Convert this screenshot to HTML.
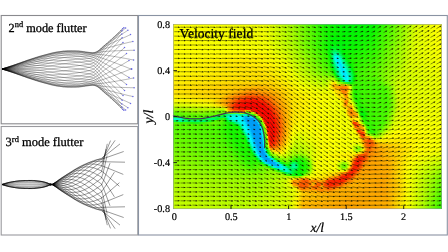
<!DOCTYPE html>
<html><head><meta charset="utf-8"><style>
html,body{margin:0;padding:0;background:#fff;width:448px;height:252px;overflow:hidden}
svg{position:absolute;left:0;top:0;display:block}
text{text-rendering:geometricPrecision;font-family:"Liberation Serif","Times New Roman",serif;fill:#000;stroke:#000;stroke-width:0.2}
</style></head><body>
<svg width="448" height="252" viewBox="0 0 448 252">
<defs><filter id="ab" x="-5%" y="-5%" width="110%" height="110%"><feGaussianBlur stdDeviation="0.3"/></filter></defs>
<rect x="1.2" y="15.5" width="136.6" height="108.3" fill="#fff" stroke="#8a8a8e" stroke-width="1.1"/>
<rect x="1.2" y="126.5" width="136.6" height="108.5" fill="#fff" stroke="#9a9a9e" stroke-width="1.1"/>
<rect x="138.5" y="15.5" width="308.8" height="219.5" fill="#fff" stroke="#8a93a3" stroke-width="1.1"/>
<text x="8.6" y="31.6" font-size="12.3" style="stroke-width:0.28">2<tspan font-size="8.4" dy="-4.2">nd</tspan><tspan dy="4.2"> mode flutter</tspan></text>
<text x="5.6" y="146.2" font-size="12.5" style="stroke-width:0.28">3<tspan font-size="8.4" dy="-4.0">rd</tspan><tspan dy="4.0"> mode flutter</tspan></text>
<path d="M2.0 69.0L2.8 69.0 3.6 68.9 4.4 68.9 5.2 68.9 6.0 68.9 6.8 68.8 7.6 68.8 8.4 68.8 9.2 68.8 10.0 68.7 10.8 68.7 11.6 68.7 12.4 68.7 13.2 68.6 14.0 68.6 14.8 68.6 15.6 68.5 16.4 68.5 17.2 68.5 18.0 68.5 18.8 68.4 19.6 68.4 20.4 68.4 21.2 68.3 22.0 68.3 22.8 68.3 23.6 68.3 24.4 68.2 25.2 68.2 26.0 68.2 26.8 68.1 27.6 68.1 28.4 68.1 29.2 68.1 30.0 68.0 30.8 68.0 31.6 68.0 32.4 68.0 33.2 67.9 34.0 67.9 34.8 67.9 35.6 67.9 36.4 67.8 37.2 67.8 38.0 67.8 38.8 67.7 39.6 67.6 40.4 67.5 41.2 67.4 42.1 67.3 42.9 67.2 43.7 67.1 44.5 66.9 45.3 66.8 46.1 66.6 46.9 66.5 47.7 66.3 48.5 66.2 49.3 66.1 50.1 66.0 50.9 65.8 51.7 65.7 52.5 65.6 53.3 65.4 54.1 65.3 54.9 65.2 55.7 65.0 56.5 64.9 57.3 64.8 58.1 64.6 58.9 64.5 59.7 64.4 60.5 64.3 61.3 64.1 62.1 64.0 62.9 63.9 63.7 63.8 64.5 63.7 65.3 63.6 66.1 63.5 66.9 63.4 67.7 63.3 68.5 63.2 69.3 63.2 70.1 63.1 70.9 63.0 71.7 62.9 72.5 62.9 73.3 62.8 74.1 62.7 74.9 62.6 75.7 62.5 76.5 62.5 77.3 62.4 78.1 62.3 78.9 62.2 79.7 62.1 80.5 62.0 81.3 62.0 82.1 61.9 82.9 61.8 83.7 61.8 84.5 61.7 85.3 61.6 86.1 61.5 86.9 61.4 87.7 61.3 88.5 61.2 89.3 61.1 90.1 60.9 90.9 60.8 91.7 60.6 92.5 60.4 93.3 60.0 94.1 59.5 94.9 58.9 95.7 58.2 96.5 57.4 97.3 56.5 98.1 55.5 98.9 54.5 99.7 53.5 100.5 52.4 101.3 51.4 102.1 50.3 102.9 49.3 103.7 48.3 104.5 47.4 105.3 46.6 106.1 45.7 106.9 44.9 107.7 44.1 108.5 43.2 109.3 42.4 110.1 41.6 110.9 40.7 111.7 39.9 112.5 39.1 113.3 38.3 114.1 37.4 114.9 36.6 115.7 35.8 116.5 34.9 117.3 34.1 118.1 33.3 118.9 32.5 119.7 31.6 120.5 30.8 121.3 30.0 122.2 29.2 122.6 28.7M2.0 69.0L2.8 68.9 3.6 68.9 4.4 68.8 5.2 68.7 6.0 68.6 6.8 68.6 7.6 68.5 8.4 68.4 9.2 68.3 10.0 68.2 10.8 68.2 11.6 68.1 12.4 68.0 13.2 67.9 14.0 67.8 14.8 67.8 15.6 67.7 16.4 67.6 17.2 67.5 18.0 67.4 18.8 67.3 19.6 67.3 20.4 67.2 21.2 67.1 22.0 67.0 22.8 66.9 23.6 66.8 24.4 66.8 25.2 66.7 26.0 66.6 26.8 66.5 27.6 66.4 28.4 66.3 29.2 66.3 30.0 66.2 30.8 66.1 31.6 66.0 32.4 66.0 33.2 65.9 34.0 65.8 34.8 65.7 35.6 65.7 36.4 65.6 37.2 65.5 38.0 65.4 38.8 65.3 39.6 65.2 40.4 65.1 41.2 64.9 42.1 64.7 42.9 64.6 43.7 64.4 44.5 64.2 45.3 64.1 46.1 63.9 46.9 63.7 47.7 63.5 48.5 63.4 49.3 63.2 50.1 63.0 50.9 62.9 51.7 62.7 52.5 62.6 53.3 62.4 54.1 62.2 54.9 62.1 55.7 61.9 56.5 61.8 57.3 61.6 58.1 61.5 58.9 61.3 59.7 61.2 60.5 61.1 61.3 60.9 62.1 60.8 62.9 60.7 63.7 60.6 64.5 60.4 65.3 60.3 66.1 60.2 66.9 60.1 67.7 60.1 68.5 60.0 69.3 59.9 70.1 59.8 70.9 59.8 71.7 59.7 72.5 59.6 73.3 59.6 74.1 59.5 74.9 59.4 75.7 59.3 76.5 59.3 77.3 59.2 78.1 59.1 78.9 59.1 79.7 59.0 80.5 59.0 81.3 58.9 82.1 58.9 82.9 58.8 83.7 58.8 84.5 58.8 85.3 58.7 86.1 58.7 86.9 58.6 87.7 58.6 88.5 58.5 89.3 58.4 90.1 58.3 90.9 58.2 91.7 58.0 92.5 57.9 93.3 57.5 94.1 57.1 94.9 56.5 95.7 55.9 96.5 55.1 97.3 54.3 98.1 53.4 98.9 52.5 99.7 51.5 100.5 50.5 101.3 49.5 102.1 48.6 102.9 47.6 103.7 46.7 104.5 45.9 105.3 45.1 106.1 44.3 106.9 43.6 107.7 42.8 108.5 42.0 109.3 41.3 110.1 40.5 110.9 39.8 111.7 39.0 112.5 38.3 113.3 37.5 114.1 36.8 114.9 36.0 115.7 35.3 116.5 34.5 117.3 33.8 118.1 33.0 118.9 32.3 119.7 31.5 120.5 30.8 121.3 30.0 122.2 29.3 123.0 28.5 123.8 27.8 123.9 27.7M2.0 69.0L2.8 68.9 3.6 68.8 4.4 68.6 5.2 68.5 6.0 68.4 6.8 68.3 7.6 68.1 8.4 68.0 9.2 67.9 10.0 67.8 10.8 67.6 11.6 67.5 12.4 67.4 13.2 67.2 14.0 67.1 14.8 67.0 15.6 66.8 16.4 66.7 17.2 66.6 18.0 66.4 18.8 66.3 19.6 66.2 20.4 66.0 21.2 65.9 22.0 65.8 22.8 65.6 23.6 65.5 24.4 65.4 25.2 65.2 26.0 65.1 26.8 65.0 27.6 64.8 28.4 64.7 29.2 64.6 30.0 64.5 30.8 64.3 31.6 64.2 32.4 64.1 33.2 64.0 34.0 63.8 34.8 63.7 35.6 63.6 36.4 63.5 37.2 63.3 38.0 63.2 38.8 63.1 39.6 62.9 40.4 62.7 41.2 62.5 42.1 62.3 42.9 62.2 43.7 62.0 44.5 61.7 45.3 61.5 46.1 61.3 46.9 61.1 47.7 60.9 48.5 60.7 49.3 60.5 50.1 60.3 50.9 60.2 51.7 60.0 52.5 59.8 53.3 59.6 54.1 59.4 54.9 59.3 55.7 59.1 56.5 58.9 57.3 58.8 58.1 58.6 58.9 58.5 59.7 58.3 60.5 58.2 61.3 58.0 62.1 57.9 62.9 57.7 63.7 57.6 64.5 57.5 65.3 57.4 66.1 57.3 66.9 57.2 67.7 57.1 68.5 57.1 69.3 57.0 70.1 56.9 70.9 56.9 71.7 56.8 72.5 56.8 73.3 56.7 74.1 56.6 74.9 56.6 75.7 56.5 76.5 56.5 77.3 56.4 78.1 56.4 78.9 56.3 79.7 56.3 80.5 56.3 81.3 56.3 82.1 56.3 82.9 56.3 83.7 56.3 84.5 56.3 85.3 56.3 86.1 56.2 86.9 56.2 87.7 56.2 88.5 56.1 89.3 56.1 90.1 56.0 90.9 56.0 91.7 55.9 92.5 55.7 93.3 55.5 94.1 55.1 94.9 54.6 95.7 54.0 96.5 53.4 97.3 52.6 98.1 51.9 98.9 51.0 99.7 50.2 100.5 49.3 101.3 48.4 102.1 47.6 102.9 46.8 103.7 46.0 104.5 45.2 105.3 44.5 106.1 43.9 106.9 43.2 107.7 42.6 108.5 41.9 109.3 41.2 110.1 40.6 110.9 39.9 111.7 39.3 112.5 38.6 113.3 38.0 114.1 37.3 114.9 36.7 115.7 36.0 116.5 35.4 117.3 34.8 118.1 34.1 118.9 33.5 119.7 32.8 120.5 32.2 121.3 31.5 122.2 30.9 123.0 30.2 123.8 29.6 124.6 28.9 125.4 28.3 125.6 28.1M2.0 69.0L2.8 68.8 3.6 68.7 4.4 68.5 5.2 68.4 6.0 68.2 6.8 68.0 7.6 67.9 8.4 67.7 9.2 67.5 10.0 67.3 10.8 67.2 11.6 67.0 12.4 66.8 13.2 66.6 14.0 66.5 14.8 66.3 15.6 66.1 16.4 65.9 17.2 65.7 18.0 65.6 18.8 65.4 19.6 65.2 20.4 65.0 21.2 64.8 22.0 64.7 22.8 64.5 23.6 64.3 24.4 64.1 25.2 63.9 26.0 63.8 26.8 63.6 27.6 63.4 28.4 63.2 29.2 63.1 30.0 62.9 30.8 62.7 31.6 62.6 32.4 62.4 33.2 62.2 34.0 62.1 34.8 61.9 35.6 61.7 36.4 61.6 37.2 61.4 38.0 61.2 38.8 61.0 39.6 60.8 40.4 60.6 41.2 60.4 42.1 60.2 42.9 60.0 43.7 59.8 44.5 59.5 45.3 59.3 46.1 59.1 46.9 58.9 47.7 58.6 48.5 58.4 49.3 58.2 50.1 58.0 50.9 57.8 51.7 57.6 52.5 57.4 53.3 57.2 54.1 57.0 54.9 56.8 55.7 56.6 56.5 56.4 57.3 56.3 58.1 56.1 58.9 56.0 59.7 55.8 60.5 55.7 61.3 55.5 62.1 55.4 62.9 55.3 63.7 55.1 64.5 55.0 65.3 54.9 66.1 54.8 66.9 54.7 67.7 54.7 68.5 54.6 69.3 54.5 70.1 54.5 70.9 54.4 71.7 54.4 72.5 54.3 73.3 54.3 74.1 54.3 74.9 54.2 75.7 54.2 76.5 54.2 77.3 54.1 78.1 54.1 78.9 54.0 79.7 54.0 80.5 54.1 81.3 54.1 82.1 54.1 82.9 54.2 83.7 54.2 84.5 54.2 85.3 54.3 86.1 54.3 86.9 54.3 87.7 54.3 88.5 54.3 89.3 54.3 90.1 54.3 90.9 54.2 91.7 54.2 92.5 54.1 93.3 53.9 94.1 53.6 94.9 53.3 95.7 52.8 96.5 52.2 97.3 51.6 98.1 51.0 98.9 50.3 99.7 49.6 100.5 48.9 101.3 48.1 102.1 47.4 102.9 46.7 103.7 46.1 104.5 45.5 105.3 44.9 106.1 44.4 106.9 43.9 107.7 43.3 108.5 42.8 109.3 42.3 110.1 41.7 110.9 41.2 111.7 40.7 112.5 40.2 113.3 39.6 114.1 39.1 114.9 38.6 115.7 38.1 116.5 37.6 117.3 37.1 118.1 36.5 118.9 36.0 119.7 35.5 120.5 35.0 121.3 34.5 122.2 34.0 123.0 33.5 123.8 32.9 124.6 32.4 125.4 31.9 126.2 31.4 127.0 30.9 127.8 30.4 127.9 30.3M2.0 69.0L2.8 68.8 3.6 68.6 4.4 68.4 5.2 68.2 6.0 68.0 6.8 67.8 7.6 67.6 8.4 67.4 9.2 67.2 10.0 67.0 10.8 66.8 11.6 66.6 12.4 66.3 13.2 66.1 14.0 65.9 14.8 65.7 15.6 65.5 16.4 65.3 17.2 65.0 18.0 64.8 18.8 64.6 19.6 64.4 20.4 64.2 21.2 63.9 22.0 63.7 22.8 63.5 23.6 63.3 24.4 63.1 25.2 62.8 26.0 62.6 26.8 62.4 27.6 62.2 28.4 62.0 29.2 61.8 30.0 61.6 30.8 61.4 31.6 61.2 32.4 60.9 33.2 60.7 34.0 60.5 34.8 60.3 35.6 60.1 36.4 59.9 37.2 59.7 38.0 59.5 38.8 59.3 39.6 59.1 40.4 58.9 41.2 58.6 42.1 58.4 42.9 58.2 43.7 57.9 44.5 57.7 45.3 57.4 46.1 57.2 46.9 57.0 47.7 56.7 48.5 56.5 49.3 56.3 50.1 56.1 50.9 55.8 51.7 55.6 52.5 55.4 53.3 55.2 54.1 55.0 54.9 54.8 55.7 54.6 56.5 54.5 57.3 54.3 58.1 54.1 58.9 54.0 59.7 53.8 60.5 53.7 61.3 53.6 62.1 53.4 62.9 53.3 63.7 53.2 64.5 53.1 65.3 53.0 66.1 52.9 66.9 52.8 67.7 52.7 68.5 52.7 69.3 52.6 70.1 52.6 70.9 52.6 71.7 52.5 72.5 52.5 73.3 52.5 74.1 52.5 74.9 52.4 75.7 52.4 76.5 52.4 77.3 52.4 78.1 52.4 78.9 52.4 79.7 52.4 80.5 52.4 81.3 52.5 82.1 52.5 82.9 52.6 83.7 52.7 84.5 52.8 85.3 52.8 86.1 52.9 86.9 52.9 87.7 53.0 88.5 53.0 89.3 53.1 90.1 53.1 90.9 53.1 91.7 53.1 92.5 53.1 93.3 53.0 94.1 52.8 94.9 52.5 95.7 52.2 96.5 51.8 97.3 51.3 98.1 50.8 98.9 50.3 99.7 49.8 100.5 49.2 101.3 48.7 102.1 48.1 102.9 47.6 103.7 47.1 104.5 46.7 105.3 46.3 106.1 45.9 106.9 45.5 107.7 45.1 108.5 44.7 109.3 44.3 110.1 43.9 110.9 43.6 111.7 43.2 112.5 42.8 113.3 42.4 114.1 42.1 114.9 41.7 115.7 41.3 116.5 41.0 117.3 40.6 118.1 40.2 118.9 39.9 119.7 39.5 120.5 39.1 121.3 38.8 122.2 38.4 123.0 38.0 123.8 37.7 124.6 37.3 125.4 37.0 126.2 36.6 127.0 36.2 127.8 35.9 128.6 35.5 129.4 35.2 130.2 34.8 130.5 34.6M2.0 69.0L2.8 68.8 3.6 68.6 4.4 68.3 5.2 68.1 6.0 67.9 6.8 67.6 7.6 67.4 8.4 67.2 9.2 66.9 10.0 66.7 10.8 66.5 11.6 66.2 12.4 66.0 13.2 65.7 14.0 65.5 14.8 65.2 15.6 65.0 16.4 64.7 17.2 64.5 18.0 64.2 18.8 64.0 19.6 63.7 20.4 63.5 21.2 63.2 22.0 63.0 22.8 62.7 23.6 62.5 24.4 62.2 25.2 62.0 26.0 61.7 26.8 61.5 27.6 61.2 28.4 61.0 29.2 60.7 30.0 60.5 30.8 60.3 31.6 60.0 32.4 59.8 33.2 59.6 34.0 59.4 34.8 59.1 35.6 58.9 36.4 58.7 37.2 58.4 38.0 58.2 38.8 58.0 39.6 57.7 40.4 57.5 41.2 57.2 42.1 57.0 42.9 56.8 43.7 56.5 44.5 56.3 45.3 56.0 46.1 55.8 46.9 55.6 47.7 55.3 48.5 55.1 49.3 54.9 50.1 54.6 50.9 54.4 51.7 54.2 52.5 54.0 53.3 53.8 54.1 53.6 54.9 53.4 55.7 53.2 56.5 53.0 57.3 52.9 58.1 52.7 58.9 52.6 59.7 52.5 60.5 52.3 61.3 52.2 62.1 52.1 62.9 51.9 63.7 51.8 64.5 51.7 65.3 51.6 66.1 51.6 66.9 51.5 67.7 51.4 68.5 51.4 69.3 51.4 70.1 51.4 70.9 51.3 71.7 51.3 72.5 51.3 73.3 51.3 74.1 51.3 74.9 51.3 75.7 51.3 76.5 51.3 77.3 51.3 78.1 51.3 78.9 51.3 79.7 51.4 80.5 51.4 81.3 51.5 82.1 51.6 82.9 51.7 83.7 51.8 84.5 51.9 85.3 52.0 86.1 52.1 86.9 52.2 87.7 52.3 88.5 52.4 89.3 52.4 90.1 52.5 90.9 52.6 91.7 52.6 92.5 52.7 93.3 52.6 94.1 52.5 94.9 52.4 95.7 52.2 96.5 51.9 97.3 51.6 98.1 51.3 98.9 51.0 99.7 50.6 100.5 50.3 101.3 49.9 102.1 49.6 102.9 49.3 103.7 49.0 104.5 48.7 105.3 48.4 106.1 48.2 106.9 48.0 107.7 47.8 108.5 47.5 109.3 47.3 110.1 47.1 110.9 46.9 111.7 46.7 112.5 46.5 113.3 46.3 114.1 46.0 114.9 45.8 115.7 45.6 116.5 45.4 117.3 45.2 118.1 45.0 118.9 44.8 119.7 44.6 120.5 44.4 121.3 44.2 122.2 44.0 123.0 43.8 123.8 43.6 124.6 43.4 125.4 43.2 126.2 43.0 127.0 42.8 127.8 42.6 128.6 42.4 129.4 42.2 130.2 42.1 131.0 41.9 131.8 41.7 132.6 41.5 132.9 41.4M2.0 69.0L2.8 68.8 3.6 68.5 4.4 68.3 5.2 68.0 6.0 67.8 6.8 67.5 7.6 67.3 8.4 67.0 9.2 66.8 10.0 66.5 10.8 66.2 11.6 66.0 12.4 65.7 13.2 65.5 14.0 65.2 14.8 64.9 15.6 64.6 16.4 64.4 17.2 64.1 18.0 63.8 18.8 63.6 19.6 63.3 20.4 63.0 21.2 62.7 22.0 62.5 22.8 62.2 23.6 61.9 24.4 61.7 25.2 61.4 26.0 61.1 26.8 60.8 27.6 60.6 28.4 60.3 29.2 60.1 30.0 59.8 30.8 59.5 31.6 59.3 32.4 59.0 33.2 58.8 34.0 58.5 34.8 58.3 35.6 58.0 36.4 57.8 37.2 57.5 38.0 57.3 38.8 57.1 39.6 56.8 40.4 56.6 41.2 56.3 42.1 56.1 42.9 55.8 43.7 55.6 44.5 55.3 45.3 55.1 46.1 54.9 46.9 54.6 47.7 54.4 48.5 54.2 49.3 54.0 50.1 53.7 50.9 53.5 51.7 53.3 52.5 53.1 53.3 52.9 54.1 52.7 54.9 52.5 55.7 52.4 56.5 52.2 57.3 52.1 58.1 51.9 58.9 51.8 59.7 51.7 60.5 51.6 61.3 51.5 62.1 51.4 62.9 51.2 63.7 51.1 64.5 51.1 65.3 51.0 66.1 50.9 66.9 50.9 67.7 50.8 68.5 50.8 69.3 50.8 70.1 50.8 70.9 50.8 71.7 50.8 72.5 50.8 73.3 50.8 74.1 50.8 74.9 50.8 75.7 50.8 76.5 50.9 77.3 50.9 78.1 50.9 78.9 50.9 79.7 51.0 80.5 51.1 81.3 51.2 82.1 51.3 82.9 51.5 83.7 51.6 84.5 51.7 85.3 51.9 86.1 52.0 86.9 52.1 87.7 52.2 88.5 52.3 89.3 52.5 90.1 52.6 90.9 52.7 91.7 52.8 92.5 52.9 93.3 52.9 94.1 52.9 94.9 52.9 95.7 52.8 96.5 52.8 97.3 52.6 98.1 52.5 98.9 52.4 99.7 52.3 100.5 52.1 101.3 52.0 102.1 51.8 102.9 51.7 103.7 51.6 104.5 51.5 105.3 51.4 106.1 51.4 106.9 51.3 107.7 51.2 108.5 51.2 109.3 51.1 110.1 51.1 110.9 51.1 111.7 51.0 112.5 51.0 113.3 50.9 114.1 50.9 114.9 50.9 115.7 50.8 116.5 50.8 117.3 50.8 118.1 50.7 118.9 50.7 119.7 50.7 120.5 50.6 121.3 50.6 122.2 50.6 123.0 50.6 123.8 50.5 124.6 50.5 125.4 50.5 126.2 50.5 127.0 50.4 127.8 50.4 128.6 50.4 129.4 50.4 130.2 50.3 131.0 50.3 131.8 50.3 132.6 50.3 133.4 50.3 134.1 50.3M2.0 69.0L2.8 68.7 3.6 68.5 4.4 68.2 5.2 68.0 6.0 67.7 6.8 67.5 7.6 67.2 8.4 66.9 9.2 66.7 10.0 66.4 10.8 66.1 11.6 65.9 12.4 65.6 13.2 65.3 14.0 65.0 14.8 64.8 15.6 64.5 16.4 64.2 17.2 63.9 18.0 63.6 18.8 63.3 19.6 63.1 20.4 62.8 21.2 62.5 22.0 62.2 22.8 61.9 23.6 61.6 24.4 61.4 25.2 61.1 26.0 60.8 26.8 60.5 27.6 60.2 28.4 60.0 29.2 59.7 30.0 59.4 30.8 59.2 31.6 58.9 32.4 58.6 33.2 58.4 34.0 58.1 34.8 57.9 35.6 57.6 36.4 57.3 37.2 57.1 38.0 56.8 38.8 56.6 39.6 56.3 40.4 56.1 41.2 55.9 42.1 55.6 42.9 55.4 43.7 55.2 44.5 54.9 45.3 54.7 46.1 54.5 46.9 54.3 47.7 54.1 48.5 53.9 49.3 53.7 50.1 53.4 50.9 53.2 51.7 53.0 52.5 52.9 53.3 52.7 54.1 52.5 54.9 52.3 55.7 52.2 56.5 52.0 57.3 51.9 58.1 51.8 58.9 51.7 59.7 51.6 60.5 51.5 61.3 51.4 62.1 51.3 62.9 51.2 63.7 51.1 64.5 51.1 65.3 51.0 66.1 51.0 66.9 50.9 67.7 50.9 68.5 50.9 69.3 50.9 70.1 50.9 70.9 50.9 71.7 50.9 72.5 51.0 73.3 51.0 74.1 51.0 74.9 51.0 75.7 51.1 76.5 51.1 77.3 51.2 78.1 51.2 78.9 51.3 79.7 51.4 80.5 51.5 81.3 51.6 82.1 51.8 82.9 51.9 83.7 52.1 84.5 52.2 85.3 52.4 86.1 52.5 86.9 52.7 87.7 52.8 88.5 53.0 89.3 53.1 90.1 53.2 90.9 53.4 91.7 53.5 92.5 53.7 93.3 53.8 94.1 53.9 94.9 54.0 95.7 54.1 96.5 54.2 97.3 54.3 98.1 54.4 98.9 54.4 99.7 54.5 100.5 54.6 101.3 54.6 102.1 54.7 102.9 54.8 103.7 54.9 104.5 55.0 105.3 55.1 106.1 55.2 106.9 55.3 107.7 55.4 108.5 55.5 109.3 55.7 110.1 55.8 110.9 55.9 111.7 56.1 112.5 56.2 113.3 56.3 114.1 56.5 114.9 56.6 115.7 56.7 116.5 56.9 117.3 57.0 118.1 57.2 118.9 57.3 119.7 57.4 120.5 57.6 121.3 57.7 122.2 57.9 123.0 58.0 123.8 58.2 124.6 58.3 125.4 58.4 126.2 58.6 127.0 58.7 127.8 58.9 128.6 59.0 129.4 59.2 130.2 59.4 131.0 59.5 131.8 59.7 132.6 59.8 133.4 60.0 133.6 60.0M2.0 69.0L2.8 68.7 3.6 68.5 4.4 68.2 5.2 68.0 6.0 67.7 6.8 67.5 7.6 67.2 8.4 66.9 9.2 66.7 10.0 66.4 10.8 66.1 11.6 65.9 12.4 65.6 13.2 65.3 14.0 65.0 14.8 64.8 15.6 64.5 16.4 64.2 17.2 63.9 18.0 63.6 18.8 63.3 19.6 63.1 20.4 62.8 21.2 62.5 22.0 62.2 22.8 61.9 23.6 61.6 24.4 61.4 25.2 61.1 26.0 60.8 26.8 60.5 27.6 60.2 28.4 60.0 29.2 59.7 30.0 59.4 30.8 59.2 31.6 58.9 32.4 58.6 33.2 58.4 34.0 58.1 34.8 57.9 35.6 57.6 36.4 57.4 37.2 57.1 38.0 56.8 38.8 56.6 39.6 56.4 40.4 56.1 41.2 55.9 42.1 55.7 42.9 55.5 43.7 55.3 44.5 55.1 45.3 54.9 46.1 54.7 46.9 54.5 47.7 54.3 48.5 54.1 49.3 53.9 50.1 53.7 50.9 53.6 51.7 53.4 52.5 53.2 53.3 53.1 54.1 52.9 54.9 52.8 55.7 52.6 56.5 52.5 57.3 52.4 58.1 52.3 58.9 52.3 59.7 52.2 60.5 52.1 61.3 52.0 62.1 52.0 62.9 51.9 63.7 51.8 64.5 51.8 65.3 51.7 66.1 51.7 66.9 51.7 67.7 51.7 68.5 51.7 69.3 51.7 70.1 51.7 70.9 51.8 71.7 51.8 72.5 51.8 73.3 51.9 74.1 51.9 74.9 52.0 75.7 52.0 76.5 52.1 77.3 52.1 78.1 52.2 78.9 52.3 79.7 52.4 80.5 52.5 81.3 52.7 82.1 52.8 82.9 53.0 83.7 53.2 84.5 53.4 85.3 53.5 86.1 53.7 86.9 53.9 87.7 54.0 88.5 54.2 89.3 54.4 90.1 54.5 90.9 54.7 91.7 54.9 92.5 55.1 93.3 55.3 94.1 55.5 94.9 55.7 95.7 56.0 96.5 56.2 97.3 56.5 98.1 56.8 98.9 57.0 99.7 57.3 100.5 57.6 101.3 57.9 102.1 58.1 102.9 58.4 103.7 58.7 104.5 59.0 105.3 59.3 106.1 59.5 106.9 59.8 107.7 60.1 108.5 60.4 109.3 60.7 110.1 61.0 110.9 61.3 111.7 61.6 112.5 61.9 113.3 62.2 114.1 62.5 114.9 62.8 115.7 63.1 116.5 63.4 117.3 63.7 118.1 64.0 118.9 64.3 119.7 64.6 120.5 64.9 121.3 65.3 122.2 65.6 123.0 65.9 123.8 66.2 124.6 66.5 125.4 66.8 126.2 67.1 127.0 67.5 127.8 67.8 128.6 68.1 129.4 68.4 130.2 68.7 131.0 69.1 131.6 69.3M2.0 69.0L2.8 68.8 3.6 68.5 4.4 68.3 5.2 68.0 6.0 67.8 6.8 67.5 7.6 67.3 8.4 67.0 9.2 66.8 10.0 66.5 10.8 66.3 11.6 66.0 12.4 65.7 13.2 65.5 14.0 65.2 14.8 64.9 15.6 64.6 16.4 64.4 17.2 64.1 18.0 63.8 18.8 63.6 19.6 63.3 20.4 63.0 21.2 62.8 22.0 62.5 22.8 62.2 23.6 61.9 24.4 61.7 25.2 61.4 26.0 61.1 26.8 60.8 27.6 60.6 28.4 60.3 29.2 60.1 30.0 59.8 30.8 59.6 31.6 59.3 32.4 59.1 33.2 58.8 34.0 58.5 34.8 58.3 35.6 58.0 36.4 57.8 37.2 57.6 38.0 57.3 38.8 57.1 39.6 56.9 40.4 56.7 41.2 56.5 42.1 56.3 42.9 56.1 43.7 55.9 44.5 55.8 45.3 55.6 46.1 55.4 46.9 55.3 47.7 55.1 48.5 55.0 49.3 54.8 50.1 54.6 50.9 54.5 51.7 54.3 52.5 54.2 53.3 54.1 54.1 53.9 54.9 53.8 55.7 53.7 56.5 53.6 57.3 53.6 58.1 53.5 58.9 53.5 59.7 53.4 60.5 53.4 61.3 53.3 62.1 53.3 62.9 53.2 63.7 53.2 64.5 53.1 65.3 53.1 66.1 53.1 66.9 53.1 67.7 53.1 68.5 53.1 69.3 53.2 70.1 53.2 70.9 53.3 71.7 53.3 72.5 53.4 73.3 53.4 74.1 53.5 74.9 53.5 75.7 53.6 76.5 53.7 77.3 53.7 78.1 53.8 78.9 53.9 79.7 54.0 80.5 54.2 81.3 54.4 82.1 54.5 82.9 54.7 83.7 54.9 84.5 55.1 85.3 55.3 86.1 55.4 86.9 55.6 87.7 55.8 88.5 56.0 89.3 56.2 90.1 56.4 90.9 56.6 91.7 56.8 92.5 57.0 93.3 57.3 94.1 57.6 94.9 58.0 95.7 58.3 96.5 58.7 97.3 59.2 98.1 59.6 98.9 60.1 99.7 60.6 100.5 61.0 101.3 61.5 102.1 62.0 102.9 62.5 103.7 62.9 104.5 63.4 105.3 63.8 106.1 64.3 106.9 64.7 107.7 65.2 108.5 65.6 109.3 66.0 110.1 66.5 110.9 66.9 111.7 67.4 112.5 67.9 113.3 68.3 114.1 68.8 114.9 69.2 115.7 69.7 116.5 70.2 117.3 70.6 118.1 71.1 118.9 71.5 119.7 72.0 120.5 72.5 121.3 72.9 122.2 73.4 123.0 73.9 123.8 74.3 124.6 74.8 125.4 75.3 126.2 75.8 127.0 76.2 127.8 76.7 128.6 77.2 129.0 77.4M2.0 69.0L2.8 68.8 3.6 68.6 4.4 68.3 5.2 68.1 6.0 67.9 6.8 67.6 7.6 67.4 8.4 67.2 9.2 66.9 10.0 66.7 10.8 66.5 11.6 66.2 12.4 66.0 13.2 65.7 14.0 65.5 14.8 65.2 15.6 65.0 16.4 64.7 17.2 64.5 18.0 64.2 18.8 64.0 19.6 63.7 20.4 63.5 21.2 63.2 22.0 63.0 22.8 62.7 23.6 62.5 24.4 62.2 25.2 62.0 26.0 61.7 26.8 61.5 27.6 61.2 28.4 61.0 29.2 60.8 30.0 60.5 30.8 60.3 31.6 60.1 32.4 59.8 33.2 59.6 34.0 59.4 34.8 59.1 35.6 58.9 36.4 58.7 37.2 58.5 38.0 58.2 38.8 58.0 39.6 57.9 40.4 57.7 41.2 57.5 42.1 57.4 42.9 57.2 43.7 57.1 44.5 56.9 45.3 56.8 46.1 56.7 46.9 56.6 47.7 56.4 48.5 56.3 49.3 56.2 50.1 56.1 50.9 56.0 51.7 55.8 52.5 55.7 53.3 55.6 54.1 55.5 54.9 55.5 55.7 55.4 56.5 55.3 57.3 55.3 58.1 55.3 58.9 55.3 59.7 55.2 60.5 55.2 61.3 55.2 62.1 55.2 62.9 55.1 63.7 55.1 64.5 55.1 65.3 55.1 66.1 55.1 66.9 55.1 67.7 55.2 68.5 55.2 69.3 55.3 70.1 55.3 70.9 55.4 71.7 55.4 72.5 55.5 73.3 55.6 74.1 55.6 74.9 55.7 75.7 55.8 76.5 55.9 77.3 56.0 78.1 56.0 78.9 56.2 79.7 56.3 80.5 56.4 81.3 56.6 82.1 56.8 82.9 57.0 83.7 57.1 84.5 57.3 85.3 57.5 86.1 57.7 86.9 57.9 87.7 58.1 88.5 58.3 89.3 58.5 90.1 58.7 90.9 59.0 91.7 59.2 92.5 59.4 93.3 59.8 94.1 60.2 94.9 60.6 95.7 61.1 96.5 61.6 97.3 62.2 98.1 62.8 98.9 63.5 99.7 64.1 100.5 64.8 101.3 65.5 102.1 66.1 102.9 66.8 103.7 67.4 104.5 68.0 105.3 68.6 106.1 69.2 106.9 69.8 107.7 70.3 108.5 70.9 109.3 71.5 110.1 72.1 110.9 72.7 111.7 73.3 112.5 73.9 113.3 74.5 114.1 75.1 114.9 75.7 115.7 76.3 116.5 76.9 117.3 77.5 118.1 78.1 118.9 78.7 119.7 79.3 120.5 79.9 121.3 80.5 122.2 81.1 123.0 81.7 123.8 82.3 124.6 82.9 125.4 83.5 126.2 84.1 126.5 84.4M2.0 69.0L2.8 68.8 3.6 68.6 4.4 68.4 5.2 68.2 6.0 68.0 6.8 67.8 7.6 67.6 8.4 67.4 9.2 67.2 10.0 67.0 10.8 66.8 11.6 66.6 12.4 66.4 13.2 66.1 14.0 65.9 14.8 65.7 15.6 65.5 16.4 65.3 17.2 65.0 18.0 64.8 18.8 64.6 19.6 64.4 20.4 64.2 21.2 64.0 22.0 63.7 22.8 63.5 23.6 63.3 24.4 63.1 25.2 62.9 26.0 62.6 26.8 62.4 27.6 62.2 28.4 62.0 29.2 61.8 30.0 61.6 30.8 61.4 31.6 61.2 32.4 61.0 33.2 60.8 34.0 60.6 34.8 60.4 35.6 60.2 36.4 60.0 37.2 59.8 38.0 59.6 38.8 59.4 39.6 59.3 40.4 59.1 41.2 59.0 42.1 58.9 42.9 58.8 43.7 58.7 44.5 58.6 45.3 58.5 46.1 58.4 46.9 58.3 47.7 58.3 48.5 58.2 49.3 58.1 50.1 58.0 50.9 57.9 51.7 57.9 52.5 57.8 53.3 57.7 54.1 57.7 54.9 57.6 55.7 57.6 56.5 57.6 57.3 57.6 58.1 57.6 58.9 57.6 59.7 57.6 60.5 57.6 61.3 57.6 62.1 57.6 62.9 57.6 63.7 57.6 64.5 57.6 65.3 57.6 66.1 57.7 66.9 57.7 67.7 57.8 68.5 57.8 69.3 57.9 70.1 57.9 70.9 58.0 71.7 58.1 72.5 58.1 73.3 58.2 74.1 58.3 74.9 58.4 75.7 58.5 76.5 58.6 77.3 58.7 78.1 58.8 78.9 58.9 79.7 59.0 80.5 59.2 81.3 59.3 82.1 59.5 82.9 59.7 83.7 59.9 84.5 60.1 85.3 60.2 86.1 60.4 86.9 60.6 87.7 60.8 88.5 61.0 89.3 61.2 90.1 61.5 90.9 61.7 91.7 61.9 92.5 62.2 93.3 62.6 94.1 63.0 94.9 63.6 95.7 64.2 96.5 64.8 97.3 65.6 98.1 66.3 98.9 67.1 99.7 67.9 100.5 68.7 101.3 69.5 102.1 70.4 102.9 71.2 103.7 71.9 104.5 72.7 105.3 73.4 106.1 74.1 106.9 74.8 107.7 75.5 108.5 76.2 109.3 76.9 110.1 77.6 110.9 78.3 111.7 79.0 112.5 79.7 113.3 80.4 114.1 81.1 114.9 81.8 115.7 82.6 116.5 83.3 117.3 84.0 118.1 84.7 118.9 85.4 119.7 86.1 120.5 86.8 121.3 87.6 122.2 88.3 123.0 89.0 123.8 89.7 124.5 90.4M2.0 69.0L2.8 68.8 3.6 68.7 4.4 68.5 5.2 68.4 6.0 68.2 6.8 68.0 7.6 67.9 8.4 67.7 9.2 67.5 10.0 67.4 10.8 67.2 11.6 67.0 12.4 66.8 13.2 66.7 14.0 66.5 14.8 66.3 15.6 66.1 16.4 65.9 17.2 65.8 18.0 65.6 18.8 65.4 19.6 65.2 20.4 65.0 21.2 64.9 22.0 64.7 22.8 64.5 23.6 64.3 24.4 64.1 25.2 64.0 26.0 63.8 26.8 63.6 27.6 63.4 28.4 63.3 29.2 63.1 30.0 62.9 30.8 62.7 31.6 62.6 32.4 62.4 33.2 62.2 34.0 62.1 34.8 61.9 35.6 61.8 36.4 61.6 37.2 61.4 38.0 61.3 38.8 61.2 39.6 61.0 40.4 60.9 41.2 60.9 42.1 60.8 42.9 60.7 43.7 60.7 44.5 60.6 45.3 60.6 46.1 60.6 46.9 60.5 47.7 60.5 48.5 60.5 49.3 60.4 50.1 60.4 50.9 60.3 51.7 60.3 52.5 60.3 53.3 60.2 54.1 60.2 54.9 60.2 55.7 60.2 56.5 60.2 57.3 60.3 58.1 60.3 58.9 60.3 59.7 60.4 60.5 60.4 61.3 60.4 62.1 60.5 62.9 60.5 63.7 60.5 64.5 60.6 65.3 60.6 66.1 60.7 66.9 60.7 67.7 60.8 68.5 60.8 69.3 60.9 70.1 61.0 70.9 61.0 71.7 61.1 72.5 61.2 73.3 61.3 74.1 61.4 74.9 61.5 75.7 61.6 76.5 61.7 77.3 61.8 78.1 61.9 78.9 62.0 79.7 62.1 80.5 62.3 81.3 62.4 82.1 62.6 82.9 62.8 83.7 62.9 84.5 63.1 85.3 63.3 86.1 63.5 86.9 63.6 87.7 63.8 88.5 64.0 89.3 64.2 90.1 64.5 90.9 64.7 91.7 65.0 92.5 65.2 93.3 65.6 94.1 66.1 94.9 66.7 95.7 67.4 96.5 68.2 97.3 69.0 98.1 69.9 98.9 70.8 99.7 71.7 100.5 72.7 101.3 73.6 102.1 74.5 102.9 75.5 103.7 76.3 104.5 77.2 105.3 78.0 106.1 78.8 106.9 79.6 107.7 80.4 108.5 81.1 109.3 81.9 110.1 82.7 110.9 83.5 111.7 84.3 112.5 85.1 113.3 85.9 114.1 86.7 114.9 87.5 115.7 88.3 116.5 89.1 117.3 89.9 118.1 90.7 118.9 91.5 119.7 92.3 120.5 93.1 121.3 93.9 122.2 94.7 123.0 95.5 123.0 95.6M2.0 69.0L2.8 68.9 3.6 68.8 4.4 68.6 5.2 68.5 6.0 68.4 6.8 68.3 7.6 68.2 8.4 68.0 9.2 67.9 10.0 67.8 10.8 67.6 11.6 67.5 12.4 67.4 13.2 67.3 14.0 67.1 14.8 67.0 15.6 66.9 16.4 66.7 17.2 66.6 18.0 66.5 18.8 66.3 19.6 66.2 20.4 66.1 21.2 65.9 22.0 65.8 22.8 65.7 23.6 65.5 24.4 65.4 25.2 65.3 26.0 65.1 26.8 65.0 27.6 64.9 28.4 64.7 29.2 64.6 30.0 64.5 30.8 64.4 31.6 64.2 32.4 64.1 33.2 64.0 34.0 63.9 34.8 63.7 35.6 63.6 36.4 63.5 37.2 63.4 38.0 63.3 38.8 63.2 39.6 63.1 40.4 63.1 41.2 63.0 42.1 63.0 42.9 63.0 43.7 63.0 44.5 63.0 45.3 63.0 46.1 63.0 46.9 63.0 47.7 63.0 48.5 63.1 49.3 63.1 50.1 63.1 50.9 63.1 51.7 63.1 52.5 63.1 53.3 63.1 54.1 63.1 54.9 63.2 55.7 63.2 56.5 63.3 57.3 63.3 58.1 63.4 58.9 63.4 59.7 63.5 60.5 63.6 61.3 63.6 62.1 63.7 62.9 63.7 63.7 63.8 64.5 63.8 65.3 63.9 66.1 64.0 66.9 64.0 67.7 64.1 68.5 64.2 69.3 64.2 70.1 64.3 70.9 64.4 71.7 64.5 72.5 64.6 73.3 64.7 74.1 64.7 74.9 64.8 75.7 64.9 76.5 65.0 77.3 65.1 78.1 65.3 78.9 65.4 79.7 65.5 80.5 65.6 81.3 65.8 82.1 65.9 82.9 66.1 83.7 66.2 84.5 66.4 85.3 66.5 86.1 66.7 86.9 66.9 87.7 67.1 88.5 67.2 89.3 67.4 90.1 67.7 90.9 67.9 91.7 68.1 92.5 68.4 93.3 68.8 94.1 69.4 94.9 70.0 95.7 70.7 96.5 71.6 97.3 72.5 98.1 73.4 98.9 74.4 99.7 75.4 100.5 76.4 101.3 77.5 102.1 78.5 102.9 79.5 103.7 80.5 104.5 81.4 105.3 82.2 106.1 83.1 106.9 83.9 107.7 84.8 108.5 85.7 109.3 86.5 110.1 87.4 110.9 88.2 111.7 89.1 112.5 89.9 113.3 90.8 114.1 91.6 114.9 92.5 115.7 93.3 116.5 94.2 117.3 95.1 118.1 95.9 118.9 96.8 119.7 97.6 120.5 98.5 121.3 99.4 122.1 100.2M2.0 69.0L2.8 68.9 3.6 68.9 4.4 68.8 5.2 68.7 6.0 68.6 6.8 68.6 7.6 68.5 8.4 68.4 9.2 68.3 10.0 68.2 10.8 68.2 11.6 68.1 12.4 68.0 13.2 67.9 14.0 67.8 14.8 67.8 15.6 67.7 16.4 67.6 17.2 67.5 18.0 67.4 18.8 67.4 19.6 67.3 20.4 67.2 21.2 67.1 22.0 67.0 22.8 67.0 23.6 66.9 24.4 66.8 25.2 66.7 26.0 66.6 26.8 66.5 27.6 66.5 28.4 66.4 29.2 66.3 30.0 66.2 30.8 66.2 31.6 66.1 32.4 66.0 33.2 65.9 34.0 65.8 34.8 65.8 35.6 65.7 36.4 65.6 37.2 65.5 38.0 65.5 38.8 65.5 39.6 65.4 40.4 65.4 41.2 65.4 42.1 65.5 42.9 65.5 43.7 65.5 44.5 65.6 45.3 65.7 46.1 65.7 46.9 65.8 47.7 65.8 48.5 65.9 49.3 65.9 50.1 66.0 50.9 66.0 51.7 66.1 52.5 66.1 53.3 66.2 54.1 66.3 54.9 66.3 55.7 66.4 56.5 66.5 57.3 66.6 58.1 66.6 58.9 66.7 59.7 66.8 60.5 66.9 61.3 67.0 62.1 67.1 62.9 67.2 63.7 67.2 64.5 67.3 65.3 67.4 66.1 67.5 66.9 67.5 67.7 67.6 68.5 67.7 69.3 67.8 70.1 67.9 70.9 67.9 71.7 68.0 72.5 68.1 73.3 68.2 74.1 68.3 74.9 68.4 75.7 68.5 76.5 68.6 77.3 68.7 78.1 68.8 78.9 68.9 79.7 69.0 80.5 69.1 81.3 69.2 82.1 69.4 82.9 69.5 83.7 69.6 84.5 69.8 85.3 69.9 86.1 70.0 86.9 70.2 87.7 70.4 88.5 70.5 89.3 70.7 90.1 70.9 90.9 71.1 91.7 71.3 92.5 71.6 93.3 72.0 94.1 72.6 94.9 73.2 95.7 74.0 96.5 74.9 97.3 75.8 98.1 76.8 98.9 77.8 99.7 78.9 100.5 79.9 101.3 81.0 102.1 82.1 102.9 83.2 103.7 84.2 104.5 85.1 105.3 86.0 106.1 86.9 106.9 87.8 107.7 88.6 108.5 89.5 109.3 90.4 110.1 91.3 110.9 92.2 111.7 93.0 112.5 93.9 113.3 94.8 114.1 95.7 114.9 96.6 115.7 97.4 116.5 98.3 117.3 99.2 118.1 100.1 118.9 101.0 119.7 101.8 120.5 102.7 121.3 103.6 121.8 104.1M2.0 69.0L2.8 69.0 3.6 69.0 4.4 68.9 5.2 68.9 6.0 68.9 6.8 68.9 7.6 68.8 8.4 68.8 9.2 68.8 10.0 68.7 10.8 68.7 11.6 68.7 12.4 68.7 13.2 68.6 14.0 68.6 14.8 68.6 15.6 68.6 16.4 68.5 17.2 68.5 18.0 68.5 18.8 68.5 19.6 68.4 20.4 68.4 21.2 68.4 22.0 68.3 22.8 68.3 23.6 68.3 24.4 68.3 25.2 68.2 26.0 68.2 26.8 68.2 27.6 68.2 28.4 68.1 29.2 68.1 30.0 68.1 30.8 68.1 31.6 68.0 32.4 68.0 33.2 68.0 34.0 67.9 34.8 67.9 35.6 67.9 36.4 67.9 37.2 67.9 38.0 67.8 38.8 67.9 39.6 67.9 40.4 67.9 41.2 68.0 42.1 68.1 42.9 68.1 43.7 68.2 44.5 68.3 45.3 68.4 46.1 68.5 46.9 68.6 47.7 68.7 48.5 68.8 49.3 68.9 50.1 69.0 50.9 69.1 51.7 69.2 52.5 69.3 53.3 69.4 54.1 69.5 54.9 69.6 55.7 69.7 56.5 69.8 57.3 69.9 58.1 70.0 58.9 70.1 59.7 70.2 60.5 70.3 61.3 70.5 62.1 70.6 62.9 70.7 63.7 70.8 64.5 70.8 65.3 70.9 66.1 71.0 66.9 71.1 67.7 71.2 68.5 71.3 69.3 71.3 70.1 71.4 70.9 71.5 71.7 71.6 72.5 71.7 73.3 71.8 74.1 71.8 74.9 71.9 75.7 72.0 76.5 72.1 77.3 72.2 78.1 72.3 78.9 72.4 79.7 72.5 80.5 72.6 81.3 72.7 82.1 72.8 82.9 72.9 83.7 73.0 84.5 73.1 85.3 73.2 86.1 73.3 86.9 73.5 87.7 73.6 88.5 73.7 89.3 73.9 90.1 74.1 90.9 74.3 91.7 74.5 92.5 74.7 93.3 75.1 94.1 75.6 94.9 76.3 95.7 77.1 96.5 77.9 97.3 78.8 98.1 79.8 98.9 80.9 99.7 81.9 100.5 83.0 101.3 84.1 102.1 85.2 102.9 86.3 103.7 87.3 104.5 88.2 105.3 89.1 106.1 90.0 106.9 90.9 107.7 91.7 108.5 92.6 109.3 93.5 110.1 94.3 110.9 95.2 111.7 96.1 112.5 97.0 113.3 97.8 114.1 98.7 114.9 99.6 115.7 100.4 116.5 101.3 117.3 102.2 118.1 103.0 118.9 103.9 119.7 104.8 120.5 105.7 121.3 106.5 122.0 107.2M2.0 69.0L2.8 69.0 3.6 69.1 4.4 69.1 5.2 69.1 6.0 69.1 6.8 69.2 7.6 69.2 8.4 69.2 9.2 69.2 10.0 69.3 10.8 69.3 11.6 69.3 12.4 69.3 13.2 69.4 14.0 69.4 14.8 69.4 15.6 69.5 16.4 69.5 17.2 69.5 18.0 69.5 18.8 69.6 19.6 69.6 20.4 69.6 21.2 69.7 22.0 69.7 22.8 69.7 23.6 69.7 24.4 69.8 25.2 69.8 26.0 69.8 26.8 69.9 27.6 69.9 28.4 69.9 29.2 69.9 30.0 70.0 30.8 70.0 31.6 70.0 32.4 70.0 33.2 70.1 34.0 70.1 34.8 70.1 35.6 70.1 36.4 70.2 37.2 70.2 38.0 70.2 38.8 70.3 39.6 70.4 40.4 70.5 41.2 70.6 42.1 70.7 42.9 70.8 43.7 70.9 44.5 71.1 45.3 71.2 46.1 71.4 46.9 71.5 47.7 71.7 48.5 71.8 49.3 71.9 50.1 72.0 50.9 72.2 51.7 72.3 52.5 72.4 53.3 72.6 54.1 72.7 54.9 72.8 55.7 73.0 56.5 73.1 57.3 73.2 58.1 73.4 58.9 73.5 59.7 73.6 60.5 73.7 61.3 73.9 62.1 74.0 62.9 74.1 63.7 74.2 64.5 74.3 65.3 74.4 66.1 74.5 66.9 74.6 67.7 74.7 68.5 74.8 69.3 74.8 70.1 74.9 70.9 75.0 71.7 75.1 72.5 75.1 73.3 75.2 74.1 75.3 74.9 75.4 75.7 75.5 76.5 75.5 77.3 75.6 78.1 75.7 78.9 75.8 79.7 75.9 80.5 76.0 81.3 76.0 82.1 76.1 82.9 76.2 83.7 76.2 84.5 76.3 85.3 76.4 86.1 76.5 86.9 76.6 87.7 76.7 88.5 76.8 89.3 76.9 90.1 77.1 90.9 77.2 91.7 77.4 92.5 77.6 93.3 78.0 94.1 78.5 94.9 79.1 95.7 79.8 96.5 80.6 97.3 81.5 98.1 82.5 98.9 83.5 99.7 84.5 100.5 85.6 101.3 86.6 102.1 87.7 102.9 88.7 103.7 89.7 104.5 90.6 105.3 91.4 106.1 92.3 106.9 93.1 107.7 93.9 108.5 94.8 109.3 95.6 110.1 96.4 110.9 97.3 111.7 98.1 112.5 98.9 113.3 99.7 114.1 100.6 114.9 101.4 115.7 102.2 116.5 103.1 117.3 103.9 118.1 104.7 118.9 105.5 119.7 106.4 120.5 107.2 121.3 108.0 122.2 108.8 122.6 109.3M2.0 69.0L2.8 69.1 3.6 69.1 4.4 69.2 5.2 69.3 6.0 69.4 6.8 69.4 7.6 69.5 8.4 69.6 9.2 69.7 10.0 69.8 10.8 69.8 11.6 69.9 12.4 70.0 13.2 70.1 14.0 70.2 14.8 70.2 15.6 70.3 16.4 70.4 17.2 70.5 18.0 70.6 18.8 70.7 19.6 70.7 20.4 70.8 21.2 70.9 22.0 71.0 22.8 71.1 23.6 71.2 24.4 71.2 25.2 71.3 26.0 71.4 26.8 71.5 27.6 71.6 28.4 71.7 29.2 71.7 30.0 71.8 30.8 71.9 31.6 72.0 32.4 72.0 33.2 72.1 34.0 72.2 34.8 72.3 35.6 72.3 36.4 72.4 37.2 72.5 38.0 72.6 38.8 72.7 39.6 72.8 40.4 72.9 41.2 73.1 42.1 73.3 42.9 73.4 43.7 73.6 44.5 73.8 45.3 73.9 46.1 74.1 46.9 74.3 47.7 74.5 48.5 74.6 49.3 74.8 50.1 75.0 50.9 75.1 51.7 75.3 52.5 75.4 53.3 75.6 54.1 75.8 54.9 75.9 55.7 76.1 56.5 76.2 57.3 76.4 58.1 76.5 58.9 76.7 59.7 76.8 60.5 76.9 61.3 77.1 62.1 77.2 62.9 77.3 63.7 77.4 64.5 77.6 65.3 77.7 66.1 77.8 66.9 77.9 67.7 77.9 68.5 78.0 69.3 78.1 70.1 78.2 70.9 78.2 71.7 78.3 72.5 78.4 73.3 78.4 74.1 78.5 74.9 78.6 75.7 78.7 76.5 78.7 77.3 78.8 78.1 78.9 78.9 78.9 79.7 79.0 80.5 79.0 81.3 79.1 82.1 79.1 82.9 79.2 83.7 79.2 84.5 79.2 85.3 79.3 86.1 79.3 86.9 79.4 87.7 79.4 88.5 79.5 89.3 79.6 90.1 79.7 90.9 79.8 91.7 80.0 92.5 80.1 93.3 80.5 94.1 80.9 94.9 81.5 95.7 82.1 96.5 82.9 97.3 83.7 98.1 84.6 98.9 85.5 99.7 86.5 100.5 87.5 101.3 88.5 102.1 89.4 102.9 90.4 103.7 91.3 104.5 92.1 105.3 92.9 106.1 93.7 106.9 94.4 107.7 95.2 108.5 96.0 109.3 96.7 110.1 97.5 110.9 98.2 111.7 99.0 112.5 99.7 113.3 100.5 114.1 101.2 114.9 102.0 115.7 102.7 116.5 103.5 117.3 104.2 118.1 105.0 118.9 105.7 119.7 106.5 120.5 107.2 121.3 108.0 122.2 108.7 123.0 109.5 123.8 110.2 123.9 110.3M2.0 69.0L2.8 69.1 3.6 69.2 4.4 69.4 5.2 69.5 6.0 69.6 6.8 69.7 7.6 69.9 8.4 70.0 9.2 70.1 10.0 70.2 10.8 70.4 11.6 70.5 12.4 70.6 13.2 70.8 14.0 70.9 14.8 71.0 15.6 71.2 16.4 71.3 17.2 71.4 18.0 71.6 18.8 71.7 19.6 71.8 20.4 72.0 21.2 72.1 22.0 72.2 22.8 72.4 23.6 72.5 24.4 72.6 25.2 72.8 26.0 72.9 26.8 73.0 27.6 73.2 28.4 73.3 29.2 73.4 30.0 73.5 30.8 73.7 31.6 73.8 32.4 73.9 33.2 74.0 34.0 74.2 34.8 74.3 35.6 74.4 36.4 74.5 37.2 74.7 38.0 74.8 38.8 74.9 39.6 75.1 40.4 75.3 41.2 75.5 42.1 75.7 42.9 75.8 43.7 76.0 44.5 76.3 45.3 76.5 46.1 76.7 46.9 76.9 47.7 77.1 48.5 77.3 49.3 77.5 50.1 77.7 50.9 77.8 51.7 78.0 52.5 78.2 53.3 78.4 54.1 78.6 54.9 78.7 55.7 78.9 56.5 79.1 57.3 79.2 58.1 79.4 58.9 79.5 59.7 79.7 60.5 79.8 61.3 80.0 62.1 80.1 62.9 80.3 63.7 80.4 64.5 80.5 65.3 80.6 66.1 80.7 66.9 80.8 67.7 80.9 68.5 80.9 69.3 81.0 70.1 81.1 70.9 81.1 71.7 81.2 72.5 81.2 73.3 81.3 74.1 81.4 74.9 81.4 75.7 81.5 76.5 81.5 77.3 81.6 78.1 81.6 78.9 81.7 79.7 81.7 80.5 81.7 81.3 81.7 82.1 81.7 82.9 81.7 83.7 81.7 84.5 81.7 85.3 81.7 86.1 81.8 86.9 81.8 87.7 81.8 88.5 81.9 89.3 81.9 90.1 82.0 90.9 82.0 91.7 82.1 92.5 82.3 93.3 82.5 94.1 82.9 94.9 83.4 95.7 84.0 96.5 84.6 97.3 85.4 98.1 86.1 98.9 87.0 99.7 87.8 100.5 88.7 101.3 89.6 102.1 90.4 102.9 91.2 103.7 92.0 104.5 92.8 105.3 93.5 106.1 94.1 106.9 94.8 107.7 95.4 108.5 96.1 109.3 96.8 110.1 97.4 110.9 98.1 111.7 98.7 112.5 99.4 113.3 100.0 114.1 100.7 114.9 101.3 115.7 102.0 116.5 102.6 117.3 103.2 118.1 103.9 118.9 104.5 119.7 105.2 120.5 105.8 121.3 106.5 122.2 107.1 123.0 107.8 123.8 108.4 124.6 109.1 125.4 109.7 125.6 109.9M2.0 69.0L2.8 69.2 3.6 69.3 4.4 69.5 5.2 69.6 6.0 69.8 6.8 70.0 7.6 70.1 8.4 70.3 9.2 70.5 10.0 70.7 10.8 70.8 11.6 71.0 12.4 71.2 13.2 71.4 14.0 71.5 14.8 71.7 15.6 71.9 16.4 72.1 17.2 72.3 18.0 72.4 18.8 72.6 19.6 72.8 20.4 73.0 21.2 73.2 22.0 73.3 22.8 73.5 23.6 73.7 24.4 73.9 25.2 74.1 26.0 74.2 26.8 74.4 27.6 74.6 28.4 74.8 29.2 74.9 30.0 75.1 30.8 75.3 31.6 75.4 32.4 75.6 33.2 75.8 34.0 75.9 34.8 76.1 35.6 76.3 36.4 76.4 37.2 76.6 38.0 76.8 38.8 77.0 39.6 77.2 40.4 77.4 41.2 77.6 42.1 77.8 42.9 78.0 43.7 78.2 44.5 78.5 45.3 78.7 46.1 78.9 46.9 79.1 47.7 79.4 48.5 79.6 49.3 79.8 50.1 80.0 50.9 80.2 51.7 80.4 52.5 80.6 53.3 80.8 54.1 81.0 54.9 81.2 55.7 81.4 56.5 81.6 57.3 81.7 58.1 81.9 58.9 82.0 59.7 82.2 60.5 82.3 61.3 82.5 62.1 82.6 62.9 82.7 63.7 82.9 64.5 83.0 65.3 83.1 66.1 83.2 66.9 83.3 67.7 83.3 68.5 83.4 69.3 83.5 70.1 83.5 70.9 83.6 71.7 83.6 72.5 83.7 73.3 83.7 74.1 83.7 74.9 83.8 75.7 83.8 76.5 83.8 77.3 83.9 78.1 83.9 78.9 84.0 79.7 84.0 80.5 83.9 81.3 83.9 82.1 83.9 82.9 83.8 83.7 83.8 84.5 83.8 85.3 83.7 86.1 83.7 86.9 83.7 87.7 83.7 88.5 83.7 89.3 83.7 90.1 83.7 90.9 83.8 91.7 83.8 92.5 83.9 93.3 84.1 94.1 84.4 94.9 84.7 95.7 85.2 96.5 85.8 97.3 86.4 98.1 87.0 98.9 87.7 99.7 88.4 100.5 89.1 101.3 89.9 102.1 90.6 102.9 91.3 103.7 91.9 104.5 92.5 105.3 93.1 106.1 93.6 106.9 94.1 107.7 94.7 108.5 95.2 109.3 95.7 110.1 96.3 110.9 96.8 111.7 97.3 112.5 97.8 113.3 98.4 114.1 98.9 114.9 99.4 115.7 99.9 116.5 100.4 117.3 100.9 118.1 101.5 118.9 102.0 119.7 102.5 120.5 103.0 121.3 103.5 122.2 104.0 123.0 104.5 123.8 105.1 124.6 105.6 125.4 106.1 126.2 106.6 127.0 107.1 127.8 107.6 127.9 107.7M2.0 69.0L2.8 69.2 3.6 69.4 4.4 69.6 5.2 69.8 6.0 70.0 6.8 70.2 7.6 70.4 8.4 70.6 9.2 70.8 10.0 71.0 10.8 71.2 11.6 71.4 12.4 71.7 13.2 71.9 14.0 72.1 14.8 72.3 15.6 72.5 16.4 72.7 17.2 73.0 18.0 73.2 18.8 73.4 19.6 73.6 20.4 73.8 21.2 74.1 22.0 74.3 22.8 74.5 23.6 74.7 24.4 74.9 25.2 75.2 26.0 75.4 26.8 75.6 27.6 75.8 28.4 76.0 29.2 76.2 30.0 76.4 30.8 76.6 31.6 76.8 32.4 77.1 33.2 77.3 34.0 77.5 34.8 77.7 35.6 77.9 36.4 78.1 37.2 78.3 38.0 78.5 38.8 78.7 39.6 78.9 40.4 79.1 41.2 79.4 42.1 79.6 42.9 79.8 43.7 80.1 44.5 80.3 45.3 80.6 46.1 80.8 46.9 81.0 47.7 81.3 48.5 81.5 49.3 81.7 50.1 81.9 50.9 82.2 51.7 82.4 52.5 82.6 53.3 82.8 54.1 83.0 54.9 83.2 55.7 83.4 56.5 83.5 57.3 83.7 58.1 83.9 58.9 84.0 59.7 84.2 60.5 84.3 61.3 84.4 62.1 84.6 62.9 84.7 63.7 84.8 64.5 84.9 65.3 85.0 66.1 85.1 66.9 85.2 67.7 85.3 68.5 85.3 69.3 85.4 70.1 85.4 70.9 85.4 71.7 85.5 72.5 85.5 73.3 85.5 74.1 85.5 74.9 85.6 75.7 85.6 76.5 85.6 77.3 85.6 78.1 85.6 78.9 85.6 79.7 85.6 80.5 85.6 81.3 85.5 82.1 85.5 82.9 85.4 83.7 85.3 84.5 85.2 85.3 85.2 86.1 85.1 86.9 85.1 87.7 85.0 88.5 85.0 89.3 84.9 90.1 84.9 90.9 84.9 91.7 84.9 92.5 84.9 93.3 85.0 94.1 85.2 94.9 85.5 95.7 85.8 96.5 86.2 97.3 86.7 98.1 87.2 98.9 87.7 99.7 88.2 100.5 88.8 101.3 89.3 102.1 89.9 102.9 90.4 103.7 90.9 104.5 91.3 105.3 91.7 106.1 92.1 106.9 92.5 107.7 92.9 108.5 93.3 109.3 93.7 110.1 94.1 110.9 94.4 111.7 94.8 112.5 95.2 113.3 95.6 114.1 95.9 114.9 96.3 115.7 96.7 116.5 97.0 117.3 97.4 118.1 97.8 118.9 98.1 119.7 98.5 120.5 98.9 121.3 99.2 122.2 99.6 123.0 100.0 123.8 100.3 124.6 100.7 125.4 101.0 126.2 101.4 127.0 101.8 127.8 102.1 128.6 102.5 129.4 102.8 130.2 103.2 130.5 103.4M2.0 69.0L2.8 69.2 3.6 69.4 4.4 69.7 5.2 69.9 6.0 70.1 6.8 70.4 7.6 70.6 8.4 70.8 9.2 71.1 10.0 71.3 10.8 71.5 11.6 71.8 12.4 72.0 13.2 72.3 14.0 72.5 14.8 72.8 15.6 73.0 16.4 73.3 17.2 73.5 18.0 73.8 18.8 74.0 19.6 74.3 20.4 74.5 21.2 74.8 22.0 75.0 22.8 75.3 23.6 75.5 24.4 75.8 25.2 76.0 26.0 76.3 26.8 76.5 27.6 76.8 28.4 77.0 29.2 77.3 30.0 77.5 30.8 77.7 31.6 78.0 32.4 78.2 33.2 78.4 34.0 78.6 34.8 78.9 35.6 79.1 36.4 79.3 37.2 79.6 38.0 79.8 38.8 80.0 39.6 80.3 40.4 80.5 41.2 80.8 42.1 81.0 42.9 81.2 43.7 81.5 44.5 81.7 45.3 82.0 46.1 82.2 46.9 82.4 47.7 82.7 48.5 82.9 49.3 83.1 50.1 83.4 50.9 83.6 51.7 83.8 52.5 84.0 53.3 84.2 54.1 84.4 54.9 84.6 55.7 84.8 56.5 85.0 57.3 85.1 58.1 85.3 58.9 85.4 59.7 85.5 60.5 85.7 61.3 85.8 62.1 85.9 62.9 86.1 63.7 86.2 64.5 86.3 65.3 86.4 66.1 86.4 66.9 86.5 67.7 86.6 68.5 86.6 69.3 86.6 70.1 86.6 70.9 86.7 71.7 86.7 72.5 86.7 73.3 86.7 74.1 86.7 74.9 86.7 75.7 86.7 76.5 86.7 77.3 86.7 78.1 86.7 78.9 86.7 79.7 86.6 80.5 86.6 81.3 86.5 82.1 86.4 82.9 86.3 83.7 86.2 84.5 86.1 85.3 86.0 86.1 85.9 86.9 85.8 87.7 85.7 88.5 85.6 89.3 85.6 90.1 85.5 90.9 85.4 91.7 85.4 92.5 85.3 93.3 85.4 94.1 85.5 94.9 85.6 95.7 85.8 96.5 86.1 97.3 86.4 98.1 86.7 98.9 87.0 99.7 87.4 100.5 87.7 101.3 88.1 102.1 88.4 102.9 88.7 103.7 89.0 104.5 89.3 105.3 89.6 106.1 89.8 106.9 90.0 107.7 90.2 108.5 90.5 109.3 90.7 110.1 90.9 110.9 91.1 111.7 91.3 112.5 91.5 113.3 91.7 114.1 92.0 114.9 92.2 115.7 92.4 116.5 92.6 117.3 92.8 118.1 93.0 118.9 93.2 119.7 93.4 120.5 93.6 121.3 93.8 122.2 94.0 123.0 94.2 123.8 94.4 124.6 94.6 125.4 94.8 126.2 95.0 127.0 95.2 127.8 95.4 128.6 95.6 129.4 95.8 130.2 95.9 131.0 96.1 131.8 96.3 132.6 96.5 132.9 96.6M2.0 69.0L2.8 69.2 3.6 69.5 4.4 69.7 5.2 70.0 6.0 70.2 6.8 70.5 7.6 70.7 8.4 71.0 9.2 71.2 10.0 71.5 10.8 71.8 11.6 72.0 12.4 72.3 13.2 72.5 14.0 72.8 14.8 73.1 15.6 73.4 16.4 73.6 17.2 73.9 18.0 74.2 18.8 74.4 19.6 74.7 20.4 75.0 21.2 75.3 22.0 75.5 22.8 75.8 23.6 76.1 24.4 76.3 25.2 76.6 26.0 76.9 26.8 77.2 27.6 77.4 28.4 77.7 29.2 77.9 30.0 78.2 30.8 78.5 31.6 78.7 32.4 79.0 33.2 79.2 34.0 79.5 34.8 79.7 35.6 80.0 36.4 80.2 37.2 80.5 38.0 80.7 38.8 80.9 39.6 81.2 40.4 81.4 41.2 81.7 42.1 81.9 42.9 82.2 43.7 82.4 44.5 82.7 45.3 82.9 46.1 83.1 46.9 83.4 47.7 83.6 48.5 83.8 49.3 84.0 50.1 84.3 50.9 84.5 51.7 84.7 52.5 84.9 53.3 85.1 54.1 85.3 54.9 85.5 55.7 85.6 56.5 85.8 57.3 85.9 58.1 86.1 58.9 86.2 59.7 86.3 60.5 86.4 61.3 86.5 62.1 86.6 62.9 86.8 63.7 86.9 64.5 86.9 65.3 87.0 66.1 87.1 66.9 87.1 67.7 87.2 68.5 87.2 69.3 87.2 70.1 87.2 70.9 87.2 71.7 87.2 72.5 87.2 73.3 87.2 74.1 87.2 74.9 87.2 75.7 87.2 76.5 87.1 77.3 87.1 78.1 87.1 78.9 87.1 79.7 87.0 80.5 86.9 81.3 86.8 82.1 86.7 82.9 86.5 83.7 86.4 84.5 86.3 85.3 86.1 86.1 86.0 86.9 85.9 87.7 85.8 88.5 85.7 89.3 85.5 90.1 85.4 90.9 85.3 91.7 85.2 92.5 85.1 93.3 85.1 94.1 85.1 94.9 85.1 95.7 85.2 96.5 85.2 97.3 85.4 98.1 85.5 98.9 85.6 99.7 85.7 100.5 85.9 101.3 86.0 102.1 86.2 102.9 86.3 103.7 86.4 104.5 86.5 105.3 86.6 106.1 86.6 106.9 86.7 107.7 86.8 108.5 86.8 109.3 86.9 110.1 86.9 110.9 86.9 111.7 87.0 112.5 87.0 113.3 87.1 114.1 87.1 114.9 87.1 115.7 87.2 116.5 87.2 117.3 87.2 118.1 87.3 118.9 87.3 119.7 87.3 120.5 87.4 121.3 87.4 122.2 87.4 123.0 87.4 123.8 87.5 124.6 87.5 125.4 87.5 126.2 87.5 127.0 87.6 127.8 87.6 128.6 87.6 129.4 87.6 130.2 87.7 131.0 87.7 131.8 87.7 132.6 87.7 133.4 87.7 134.1 87.7M2.0 69.0L2.8 69.3 3.6 69.5 4.4 69.8 5.2 70.0 6.0 70.3 6.8 70.5 7.6 70.8 8.4 71.1 9.2 71.3 10.0 71.6 10.8 71.9 11.6 72.1 12.4 72.4 13.2 72.7 14.0 73.0 14.8 73.2 15.6 73.5 16.4 73.8 17.2 74.1 18.0 74.4 18.8 74.7 19.6 74.9 20.4 75.2 21.2 75.5 22.0 75.8 22.8 76.1 23.6 76.4 24.4 76.6 25.2 76.9 26.0 77.2 26.8 77.5 27.6 77.8 28.4 78.0 29.2 78.3 30.0 78.6 30.8 78.8 31.6 79.1 32.4 79.4 33.2 79.6 34.0 79.9 34.8 80.1 35.6 80.4 36.4 80.7 37.2 80.9 38.0 81.2 38.8 81.4 39.6 81.7 40.4 81.9 41.2 82.1 42.1 82.4 42.9 82.6 43.7 82.8 44.5 83.1 45.3 83.3 46.1 83.5 46.9 83.7 47.7 83.9 48.5 84.1 49.3 84.3 50.1 84.6 50.9 84.8 51.7 85.0 52.5 85.1 53.3 85.3 54.1 85.5 54.9 85.7 55.7 85.8 56.5 86.0 57.3 86.1 58.1 86.2 58.9 86.3 59.7 86.4 60.5 86.5 61.3 86.6 62.1 86.7 62.9 86.8 63.7 86.9 64.5 86.9 65.3 87.0 66.1 87.0 66.9 87.1 67.7 87.1 68.5 87.1 69.3 87.1 70.1 87.1 70.9 87.1 71.7 87.1 72.5 87.0 73.3 87.0 74.1 87.0 74.9 87.0 75.7 86.9 76.5 86.9 77.3 86.8 78.1 86.8 78.9 86.7 79.7 86.6 80.5 86.5 81.3 86.4 82.1 86.2 82.9 86.1 83.7 85.9 84.5 85.8 85.3 85.6 86.1 85.5 86.9 85.3 87.7 85.2 88.5 85.0 89.3 84.9 90.1 84.8 90.9 84.6 91.7 84.5 92.5 84.3 93.3 84.2 94.1 84.1 94.9 84.0 95.7 83.9 96.5 83.8 97.3 83.7 98.1 83.6 98.9 83.6 99.7 83.5 100.5 83.4 101.3 83.4 102.1 83.3 102.9 83.2 103.7 83.1 104.5 83.0 105.3 82.9 106.1 82.8 106.9 82.7 107.7 82.6 108.5 82.5 109.3 82.3 110.1 82.2 110.9 82.1 111.7 81.9 112.5 81.8 113.3 81.7 114.1 81.5 114.9 81.4 115.7 81.3 116.5 81.1 117.3 81.0 118.1 80.8 118.9 80.7 119.7 80.6 120.5 80.4 121.3 80.3 122.2 80.1 123.0 80.0 123.8 79.8 124.6 79.7 125.4 79.6 126.2 79.4 127.0 79.3 127.8 79.1 128.6 79.0 129.4 78.8 130.2 78.6 131.0 78.5 131.8 78.3 132.6 78.2 133.4 78.0 133.6 78.0M2.0 69.0L2.8 69.3 3.6 69.5 4.4 69.8 5.2 70.0 6.0 70.3 6.8 70.5 7.6 70.8 8.4 71.1 9.2 71.3 10.0 71.6 10.8 71.9 11.6 72.1 12.4 72.4 13.2 72.7 14.0 73.0 14.8 73.2 15.6 73.5 16.4 73.8 17.2 74.1 18.0 74.4 18.8 74.7 19.6 74.9 20.4 75.2 21.2 75.5 22.0 75.8 22.8 76.1 23.6 76.4 24.4 76.6 25.2 76.9 26.0 77.2 26.8 77.5 27.6 77.8 28.4 78.0 29.2 78.3 30.0 78.6 30.8 78.8 31.6 79.1 32.4 79.4 33.2 79.6 34.0 79.9 34.8 80.1 35.6 80.4 36.4 80.6 37.2 80.9 38.0 81.2 38.8 81.4 39.6 81.6 40.4 81.9 41.2 82.1 42.1 82.3 42.9 82.5 43.7 82.7 44.5 82.9 45.3 83.1 46.1 83.3 46.9 83.5 47.7 83.7 48.5 83.9 49.3 84.1 50.1 84.3 50.9 84.4 51.7 84.6 52.5 84.8 53.3 84.9 54.1 85.1 54.9 85.2 55.7 85.4 56.5 85.5 57.3 85.6 58.1 85.7 58.9 85.7 59.7 85.8 60.5 85.9 61.3 86.0 62.1 86.0 62.9 86.1 63.7 86.2 64.5 86.2 65.3 86.3 66.1 86.3 66.9 86.3 67.7 86.3 68.5 86.3 69.3 86.3 70.1 86.3 70.9 86.2 71.7 86.2 72.5 86.2 73.3 86.1 74.1 86.1 74.9 86.0 75.7 86.0 76.5 85.9 77.3 85.9 78.1 85.8 78.9 85.7 79.7 85.6 80.5 85.5 81.3 85.3 82.1 85.2 82.9 85.0 83.7 84.8 84.5 84.6 85.3 84.5 86.1 84.3 86.9 84.1 87.7 84.0 88.5 83.8 89.3 83.6 90.1 83.5 90.9 83.3 91.7 83.1 92.5 82.9 93.3 82.7 94.1 82.5 94.9 82.3 95.7 82.0 96.5 81.8 97.3 81.5 98.1 81.2 98.9 81.0 99.7 80.7 100.5 80.4 101.3 80.1 102.1 79.9 102.9 79.6 103.7 79.3 104.5 79.0 105.3 78.7 106.1 78.5 106.9 78.2 107.7 77.9 108.5 77.6 109.3 77.3 110.1 77.0 110.9 76.7 111.7 76.4 112.5 76.1 113.3 75.8 114.1 75.5 114.9 75.2 115.7 74.9 116.5 74.6 117.3 74.3 118.1 74.0 118.9 73.7 119.7 73.4 120.5 73.1 121.3 72.7 122.2 72.4 123.0 72.1 123.8 71.8 124.6 71.5 125.4 71.2 126.2 70.9 127.0 70.5 127.8 70.2 128.6 69.9 129.4 69.6 130.2 69.3 131.0 68.9 131.6 68.7M2.0 69.0L2.8 69.2 3.6 69.5 4.4 69.7 5.2 70.0 6.0 70.2 6.8 70.5 7.6 70.7 8.4 71.0 9.2 71.2 10.0 71.5 10.8 71.7 11.6 72.0 12.4 72.3 13.2 72.5 14.0 72.8 14.8 73.1 15.6 73.4 16.4 73.6 17.2 73.9 18.0 74.2 18.8 74.4 19.6 74.7 20.4 75.0 21.2 75.2 22.0 75.5 22.8 75.8 23.6 76.1 24.4 76.3 25.2 76.6 26.0 76.9 26.8 77.2 27.6 77.4 28.4 77.7 29.2 77.9 30.0 78.2 30.8 78.4 31.6 78.7 32.4 78.9 33.2 79.2 34.0 79.5 34.8 79.7 35.6 80.0 36.4 80.2 37.2 80.4 38.0 80.7 38.8 80.9 39.6 81.1 40.4 81.3 41.2 81.5 42.1 81.7 42.9 81.9 43.7 82.1 44.5 82.2 45.3 82.4 46.1 82.6 46.9 82.7 47.7 82.9 48.5 83.0 49.3 83.2 50.1 83.4 50.9 83.5 51.7 83.7 52.5 83.8 53.3 83.9 54.1 84.1 54.9 84.2 55.7 84.3 56.5 84.4 57.3 84.4 58.1 84.5 58.9 84.5 59.7 84.6 60.5 84.6 61.3 84.7 62.1 84.7 62.9 84.8 63.7 84.8 64.5 84.9 65.3 84.9 66.1 84.9 66.9 84.9 67.7 84.9 68.5 84.9 69.3 84.8 70.1 84.8 70.9 84.7 71.7 84.7 72.5 84.6 73.3 84.6 74.1 84.5 74.9 84.5 75.7 84.4 76.5 84.3 77.3 84.3 78.1 84.2 78.9 84.1 79.7 84.0 80.5 83.8 81.3 83.6 82.1 83.5 82.9 83.3 83.7 83.1 84.5 82.9 85.3 82.7 86.1 82.6 86.9 82.4 87.7 82.2 88.5 82.0 89.3 81.8 90.1 81.6 90.9 81.4 91.7 81.2 92.5 81.0 93.3 80.7 94.1 80.4 94.9 80.0 95.7 79.7 96.5 79.3 97.3 78.8 98.1 78.4 98.9 77.9 99.7 77.4 100.5 77.0 101.3 76.5 102.1 76.0 102.9 75.5 103.7 75.1 104.5 74.6 105.3 74.2 106.1 73.7 106.9 73.3 107.7 72.8 108.5 72.4 109.3 72.0 110.1 71.5 110.9 71.1 111.7 70.6 112.5 70.1 113.3 69.7 114.1 69.2 114.9 68.8 115.7 68.3 116.5 67.8 117.3 67.4 118.1 66.9 118.9 66.5 119.7 66.0 120.5 65.5 121.3 65.1 122.2 64.6 123.0 64.1 123.8 63.7 124.6 63.2 125.4 62.7 126.2 62.2 127.0 61.8 127.8 61.3 128.6 60.8 129.0 60.6M2.0 69.0L2.8 69.2 3.6 69.4 4.4 69.7 5.2 69.9 6.0 70.1 6.8 70.4 7.6 70.6 8.4 70.8 9.2 71.1 10.0 71.3 10.8 71.5 11.6 71.8 12.4 72.0 13.2 72.3 14.0 72.5 14.8 72.8 15.6 73.0 16.4 73.3 17.2 73.5 18.0 73.8 18.8 74.0 19.6 74.3 20.4 74.5 21.2 74.8 22.0 75.0 22.8 75.3 23.6 75.5 24.4 75.8 25.2 76.0 26.0 76.3 26.8 76.5 27.6 76.8 28.4 77.0 29.2 77.2 30.0 77.5 30.8 77.7 31.6 77.9 32.4 78.2 33.2 78.4 34.0 78.6 34.8 78.9 35.6 79.1 36.4 79.3 37.2 79.5 38.0 79.8 38.8 80.0 39.6 80.1 40.4 80.3 41.2 80.5 42.1 80.6 42.9 80.8 43.7 80.9 44.5 81.1 45.3 81.2 46.1 81.3 46.9 81.4 47.7 81.6 48.5 81.7 49.3 81.8 50.1 81.9 50.9 82.0 51.7 82.2 52.5 82.3 53.3 82.4 54.1 82.5 54.9 82.5 55.7 82.6 56.5 82.7 57.3 82.7 58.1 82.7 58.9 82.7 59.7 82.8 60.5 82.8 61.3 82.8 62.1 82.8 62.9 82.9 63.7 82.9 64.5 82.9 65.3 82.9 66.1 82.9 66.9 82.9 67.7 82.8 68.5 82.8 69.3 82.7 70.1 82.7 70.9 82.6 71.7 82.6 72.5 82.5 73.3 82.4 74.1 82.4 74.9 82.3 75.7 82.2 76.5 82.1 77.3 82.0 78.1 82.0 78.9 81.8 79.7 81.7 80.5 81.6 81.3 81.4 82.1 81.2 82.9 81.0 83.7 80.9 84.5 80.7 85.3 80.5 86.1 80.3 86.9 80.1 87.7 79.9 88.5 79.7 89.3 79.5 90.1 79.3 90.9 79.0 91.7 78.8 92.5 78.6 93.3 78.2 94.1 77.8 94.9 77.4 95.7 76.9 96.5 76.4 97.3 75.8 98.1 75.2 98.9 74.5 99.7 73.9 100.5 73.2 101.3 72.5 102.1 71.9 102.9 71.2 103.7 70.6 104.5 70.0 105.3 69.4 106.1 68.8 106.9 68.2 107.7 67.7 108.5 67.1 109.3 66.5 110.1 65.9 110.9 65.3 111.7 64.7 112.5 64.1 113.3 63.5 114.1 62.9 114.9 62.3 115.7 61.7 116.5 61.1 117.3 60.5 118.1 59.9 118.9 59.3 119.7 58.7 120.5 58.1 121.3 57.5 122.2 56.9 123.0 56.3 123.8 55.7 124.6 55.1 125.4 54.5 126.2 53.9 126.5 53.6M2.0 69.0L2.8 69.2 3.6 69.4 4.4 69.6 5.2 69.8 6.0 70.0 6.8 70.2 7.6 70.4 8.4 70.6 9.2 70.8 10.0 71.0 10.8 71.2 11.6 71.4 12.4 71.6 13.2 71.9 14.0 72.1 14.8 72.3 15.6 72.5 16.4 72.7 17.2 73.0 18.0 73.2 18.8 73.4 19.6 73.6 20.4 73.8 21.2 74.0 22.0 74.3 22.8 74.5 23.6 74.7 24.4 74.9 25.2 75.1 26.0 75.4 26.8 75.6 27.6 75.8 28.4 76.0 29.2 76.2 30.0 76.4 30.8 76.6 31.6 76.8 32.4 77.0 33.2 77.2 34.0 77.4 34.8 77.6 35.6 77.8 36.4 78.0 37.2 78.2 38.0 78.4 38.8 78.6 39.6 78.7 40.4 78.9 41.2 79.0 42.1 79.1 42.9 79.2 43.7 79.3 44.5 79.4 45.3 79.5 46.1 79.6 46.9 79.7 47.7 79.7 48.5 79.8 49.3 79.9 50.1 80.0 50.9 80.1 51.7 80.1 52.5 80.2 53.3 80.3 54.1 80.3 54.9 80.4 55.7 80.4 56.5 80.4 57.3 80.4 58.1 80.4 58.9 80.4 59.7 80.4 60.5 80.4 61.3 80.4 62.1 80.4 62.9 80.4 63.7 80.4 64.5 80.4 65.3 80.4 66.1 80.3 66.9 80.3 67.7 80.2 68.5 80.2 69.3 80.1 70.1 80.1 70.9 80.0 71.7 79.9 72.5 79.9 73.3 79.8 74.1 79.7 74.9 79.6 75.7 79.5 76.5 79.4 77.3 79.3 78.1 79.2 78.9 79.1 79.7 79.0 80.5 78.8 81.3 78.7 82.1 78.5 82.9 78.3 83.7 78.1 84.5 77.9 85.3 77.8 86.1 77.6 86.9 77.4 87.7 77.2 88.5 77.0 89.3 76.8 90.1 76.5 90.9 76.3 91.7 76.1 92.5 75.8 93.3 75.4 94.1 75.0 94.9 74.4 95.7 73.8 96.5 73.2 97.3 72.4 98.1 71.7 98.9 70.9 99.7 70.1 100.5 69.3 101.3 68.5 102.1 67.6 102.9 66.8 103.7 66.1 104.5 65.3 105.3 64.6 106.1 63.9 106.9 63.2 107.7 62.5 108.5 61.8 109.3 61.1 110.1 60.4 110.9 59.7 111.7 59.0 112.5 58.3 113.3 57.6 114.1 56.9 114.9 56.2 115.7 55.4 116.5 54.7 117.3 54.0 118.1 53.3 118.9 52.6 119.7 51.9 120.5 51.2 121.3 50.4 122.2 49.7 123.0 49.0 123.8 48.3 124.5 47.6M2.0 69.0L2.8 69.2 3.6 69.3 4.4 69.5 5.2 69.6 6.0 69.8 6.8 70.0 7.6 70.1 8.4 70.3 9.2 70.5 10.0 70.6 10.8 70.8 11.6 71.0 12.4 71.2 13.2 71.3 14.0 71.5 14.8 71.7 15.6 71.9 16.4 72.1 17.2 72.2 18.0 72.4 18.8 72.6 19.6 72.8 20.4 73.0 21.2 73.1 22.0 73.3 22.8 73.5 23.6 73.7 24.4 73.9 25.2 74.0 26.0 74.2 26.8 74.4 27.6 74.6 28.4 74.7 29.2 74.9 30.0 75.1 30.8 75.3 31.6 75.4 32.4 75.6 33.2 75.8 34.0 75.9 34.8 76.1 35.6 76.2 36.4 76.4 37.2 76.6 38.0 76.7 38.8 76.8 39.6 77.0 40.4 77.1 41.2 77.1 42.1 77.2 42.9 77.3 43.7 77.3 44.5 77.4 45.3 77.4 46.1 77.4 46.9 77.5 47.7 77.5 48.5 77.5 49.3 77.6 50.1 77.6 50.9 77.7 51.7 77.7 52.5 77.7 53.3 77.8 54.1 77.8 54.9 77.8 55.7 77.8 56.5 77.8 57.3 77.7 58.1 77.7 58.9 77.7 59.7 77.6 60.5 77.6 61.3 77.6 62.1 77.5 62.9 77.5 63.7 77.5 64.5 77.4 65.3 77.4 66.1 77.3 66.9 77.3 67.7 77.2 68.5 77.2 69.3 77.1 70.1 77.0 70.9 77.0 71.7 76.9 72.5 76.8 73.3 76.7 74.1 76.6 74.9 76.5 75.7 76.4 76.5 76.3 77.3 76.2 78.1 76.1 78.9 76.0 79.7 75.9 80.5 75.7 81.3 75.6 82.1 75.4 82.9 75.2 83.7 75.1 84.5 74.9 85.3 74.7 86.1 74.5 86.9 74.4 87.7 74.2 88.5 74.0 89.3 73.8 90.1 73.5 90.9 73.3 91.7 73.0 92.5 72.8 93.3 72.4 94.1 71.9 94.9 71.3 95.7 70.6 96.5 69.8 97.3 69.0 98.1 68.1 98.9 67.2 99.7 66.3 100.5 65.3 101.3 64.4 102.1 63.5 102.9 62.5 103.7 61.7 104.5 60.8 105.3 60.0 106.1 59.2 106.9 58.4 107.7 57.6 108.5 56.9 109.3 56.1 110.1 55.3 110.9 54.5 111.7 53.7 112.5 52.9 113.3 52.1 114.1 51.3 114.9 50.5 115.7 49.7 116.5 48.9 117.3 48.1 118.1 47.3 118.9 46.5 119.7 45.7 120.5 44.9 121.3 44.1 122.2 43.3 123.0 42.5 123.0 42.4M2.0 69.0L2.8 69.1 3.6 69.2 4.4 69.4 5.2 69.5 6.0 69.6 6.8 69.7 7.6 69.8 8.4 70.0 9.2 70.1 10.0 70.2 10.8 70.4 11.6 70.5 12.4 70.6 13.2 70.7 14.0 70.9 14.8 71.0 15.6 71.1 16.4 71.3 17.2 71.4 18.0 71.5 18.8 71.7 19.6 71.8 20.4 71.9 21.2 72.1 22.0 72.2 22.8 72.3 23.6 72.5 24.4 72.6 25.2 72.7 26.0 72.9 26.8 73.0 27.6 73.1 28.4 73.3 29.2 73.4 30.0 73.5 30.8 73.6 31.6 73.8 32.4 73.9 33.2 74.0 34.0 74.1 34.8 74.3 35.6 74.4 36.4 74.5 37.2 74.6 38.0 74.7 38.8 74.8 39.6 74.9 40.4 74.9 41.2 75.0 42.1 75.0 42.9 75.0 43.7 75.0 44.5 75.0 45.3 75.0 46.1 75.0 46.9 75.0 47.7 75.0 48.5 74.9 49.3 74.9 50.1 74.9 50.9 74.9 51.7 74.9 52.5 74.9 53.3 74.9 54.1 74.9 54.9 74.8 55.7 74.8 56.5 74.7 57.3 74.7 58.1 74.6 58.9 74.6 59.7 74.5 60.5 74.4 61.3 74.4 62.1 74.3 62.9 74.3 63.7 74.2 64.5 74.2 65.3 74.1 66.1 74.0 66.9 74.0 67.7 73.9 68.5 73.8 69.3 73.8 70.1 73.7 70.9 73.6 71.7 73.5 72.5 73.4 73.3 73.3 74.1 73.3 74.9 73.2 75.7 73.1 76.5 73.0 77.3 72.9 78.1 72.7 78.9 72.6 79.7 72.5 80.5 72.4 81.3 72.2 82.1 72.1 82.9 71.9 83.7 71.8 84.5 71.6 85.3 71.5 86.1 71.3 86.9 71.1 87.7 70.9 88.5 70.8 89.3 70.6 90.1 70.3 90.9 70.1 91.7 69.9 92.5 69.6 93.3 69.2 94.1 68.6 94.9 68.0 95.7 67.3 96.5 66.4 97.3 65.5 98.1 64.6 98.9 63.6 99.7 62.6 100.5 61.6 101.3 60.5 102.1 59.5 102.9 58.5 103.7 57.5 104.5 56.6 105.3 55.8 106.1 54.9 106.9 54.1 107.7 53.2 108.5 52.3 109.3 51.5 110.1 50.6 110.9 49.8 111.7 48.9 112.5 48.1 113.3 47.2 114.1 46.4 114.9 45.5 115.7 44.7 116.5 43.8 117.3 42.9 118.1 42.1 118.9 41.2 119.7 40.4 120.5 39.5 121.3 38.6 122.1 37.8M2.0 69.0L2.8 69.1 3.6 69.1 4.4 69.2 5.2 69.3 6.0 69.4 6.8 69.4 7.6 69.5 8.4 69.6 9.2 69.7 10.0 69.8 10.8 69.8 11.6 69.9 12.4 70.0 13.2 70.1 14.0 70.2 14.8 70.2 15.6 70.3 16.4 70.4 17.2 70.5 18.0 70.6 18.8 70.6 19.6 70.7 20.4 70.8 21.2 70.9 22.0 71.0 22.8 71.0 23.6 71.1 24.4 71.2 25.2 71.3 26.0 71.4 26.8 71.5 27.6 71.5 28.4 71.6 29.2 71.7 30.0 71.8 30.8 71.8 31.6 71.9 32.4 72.0 33.2 72.1 34.0 72.2 34.8 72.2 35.6 72.3 36.4 72.4 37.2 72.5 38.0 72.5 38.8 72.5 39.6 72.6 40.4 72.6 41.2 72.6 42.1 72.5 42.9 72.5 43.7 72.5 44.5 72.4 45.3 72.3 46.1 72.3 46.9 72.2 47.7 72.2 48.5 72.1 49.3 72.1 50.1 72.0 50.9 72.0 51.7 71.9 52.5 71.9 53.3 71.8 54.1 71.7 54.9 71.7 55.7 71.6 56.5 71.5 57.3 71.4 58.1 71.4 58.9 71.3 59.7 71.2 60.5 71.1 61.3 71.0 62.1 70.9 62.9 70.8 63.7 70.8 64.5 70.7 65.3 70.6 66.1 70.5 66.9 70.5 67.7 70.4 68.5 70.3 69.3 70.2 70.1 70.1 70.9 70.1 71.7 70.0 72.5 69.9 73.3 69.8 74.1 69.7 74.9 69.6 75.7 69.5 76.5 69.4 77.3 69.3 78.1 69.2 78.9 69.1 79.7 69.0 80.5 68.9 81.3 68.8 82.1 68.6 82.9 68.5 83.7 68.4 84.5 68.2 85.3 68.1 86.1 68.0 86.9 67.8 87.7 67.6 88.5 67.5 89.3 67.3 90.1 67.1 90.9 66.9 91.7 66.7 92.5 66.4 93.3 66.0 94.1 65.4 94.9 64.8 95.7 64.0 96.5 63.1 97.3 62.2 98.1 61.2 98.9 60.2 99.7 59.1 100.5 58.1 101.3 57.0 102.1 55.9 102.9 54.8 103.7 53.8 104.5 52.9 105.3 52.0 106.1 51.1 106.9 50.2 107.7 49.4 108.5 48.5 109.3 47.6 110.1 46.7 110.9 45.8 111.7 45.0 112.5 44.1 113.3 43.2 114.1 42.3 114.9 41.4 115.7 40.6 116.5 39.7 117.3 38.8 118.1 37.9 118.9 37.0 119.7 36.2 120.5 35.3 121.3 34.4 121.8 33.9M2.0 69.0L2.8 69.0 3.6 69.0 4.4 69.1 5.2 69.1 6.0 69.1 6.8 69.1 7.6 69.2 8.4 69.2 9.2 69.2 10.0 69.3 10.8 69.3 11.6 69.3 12.4 69.3 13.2 69.4 14.0 69.4 14.8 69.4 15.6 69.4 16.4 69.5 17.2 69.5 18.0 69.5 18.8 69.5 19.6 69.6 20.4 69.6 21.2 69.6 22.0 69.7 22.8 69.7 23.6 69.7 24.4 69.7 25.2 69.8 26.0 69.8 26.8 69.8 27.6 69.8 28.4 69.9 29.2 69.9 30.0 69.9 30.8 69.9 31.6 70.0 32.4 70.0 33.2 70.0 34.0 70.1 34.8 70.1 35.6 70.1 36.4 70.1 37.2 70.1 38.0 70.2 38.8 70.1 39.6 70.1 40.4 70.1 41.2 70.0 42.1 69.9 42.9 69.9 43.7 69.8 44.5 69.7 45.3 69.6 46.1 69.5 46.9 69.4 47.7 69.3 48.5 69.2 49.3 69.1 50.1 69.0 50.9 68.9 51.7 68.8 52.5 68.7 53.3 68.6 54.1 68.5 54.9 68.4 55.7 68.3 56.5 68.2 57.3 68.1 58.1 68.0 58.9 67.9 59.7 67.8 60.5 67.7 61.3 67.5 62.1 67.4 62.9 67.3 63.7 67.2 64.5 67.2 65.3 67.1 66.1 67.0 66.9 66.9 67.7 66.8 68.5 66.7 69.3 66.7 70.1 66.6 70.9 66.5 71.7 66.4 72.5 66.3 73.3 66.2 74.1 66.2 74.9 66.1 75.7 66.0 76.5 65.9 77.3 65.8 78.1 65.7 78.9 65.6 79.7 65.5 80.5 65.4 81.3 65.3 82.1 65.2 82.9 65.1 83.7 65.0 84.5 64.9 85.3 64.8 86.1 64.7 86.9 64.5 87.7 64.4 88.5 64.3 89.3 64.1 90.1 63.9 90.9 63.7 91.7 63.5 92.5 63.3 93.3 62.9 94.1 62.4 94.9 61.7 95.7 60.9 96.5 60.1 97.3 59.2 98.1 58.2 98.9 57.1 99.7 56.1 100.5 55.0 101.3 53.9 102.1 52.8 102.9 51.7 103.7 50.7 104.5 49.8 105.3 48.9 106.1 48.0 106.9 47.1 107.7 46.3 108.5 45.4 109.3 44.5 110.1 43.7 110.9 42.8 111.7 41.9 112.5 41.0 113.3 40.2 114.1 39.3 114.9 38.4 115.7 37.6 116.5 36.7 117.3 35.8 118.1 35.0 118.9 34.1 119.7 33.2 120.5 32.3 121.3 31.5 122.0 30.8" fill="none" stroke="#000" stroke-width="0.42" stroke-opacity="0.68"/>
<g fill="#6a6ae6"><circle cx="122.6" cy="28.7" r="0.75"/><circle cx="123.9" cy="27.7" r="0.75"/><circle cx="125.6" cy="28.1" r="0.75"/><circle cx="127.9" cy="30.3" r="0.75"/><circle cx="130.5" cy="34.6" r="0.75"/><circle cx="132.9" cy="41.4" r="0.75"/><circle cx="134.1" cy="50.3" r="0.75"/><circle cx="133.6" cy="60.0" r="0.75"/><circle cx="131.6" cy="69.3" r="0.75"/><circle cx="129.0" cy="77.4" r="0.75"/><circle cx="126.5" cy="84.4" r="0.75"/><circle cx="124.5" cy="90.4" r="0.75"/><circle cx="123.0" cy="95.6" r="0.75"/><circle cx="122.1" cy="100.2" r="0.75"/><circle cx="121.8" cy="104.1" r="0.75"/><circle cx="122.0" cy="107.2" r="0.75"/><circle cx="122.6" cy="109.3" r="0.75"/><circle cx="123.9" cy="110.3" r="0.75"/><circle cx="125.6" cy="109.9" r="0.75"/><circle cx="127.9" cy="107.7" r="0.75"/><circle cx="130.5" cy="103.4" r="0.75"/><circle cx="132.9" cy="96.6" r="0.75"/><circle cx="134.1" cy="87.7" r="0.75"/><circle cx="133.6" cy="78.0" r="0.75"/><circle cx="131.6" cy="68.7" r="0.75"/><circle cx="129.0" cy="60.6" r="0.75"/><circle cx="126.5" cy="53.6" r="0.75"/><circle cx="124.5" cy="47.6" r="0.75"/><circle cx="123.0" cy="42.4" r="0.75"/><circle cx="122.1" cy="37.8" r="0.75"/><circle cx="121.8" cy="33.9" r="0.75"/><circle cx="122.0" cy="30.8" r="0.75"/></g>
<path d="M50.1 184.5L50.9 184.5 51.7 184.5 52.5 184.5 53.3 184.6 54.1 184.6 54.9 184.6 55.7 184.6 56.5 184.6 57.3 184.6 58.1 184.5 58.9 184.4 59.7 184.3 60.5 184.1 61.3 184.0 62.1 183.8 62.9 183.6 63.7 183.3 64.5 183.1 65.3 182.8 66.1 182.4 66.9 182.1 67.7 181.7 68.5 181.3 69.3 180.9 70.1 180.4 70.9 179.9 71.7 179.4 72.5 178.9 73.3 178.4 74.1 177.8 74.9 177.3 75.7 176.7 76.5 176.1 77.4 175.6 78.2 175.0 79.0 174.4 79.8 173.8 80.6 173.2 81.4 172.6 82.2 172.0 83.0 171.4 83.8 170.8 84.6 170.2 85.4 169.6 86.2 169.0 87.0 168.4 87.8 167.8 88.6 167.2 89.4 166.6 90.2 166.1 91.0 165.5 91.8 165.0 92.6 164.4 93.4 163.9 94.2 163.3 95.0 162.8 95.8 162.3 96.6 161.8 97.4 161.4 98.2 160.9 99.0 160.5 99.8 160.1 100.6 159.8 101.4 159.5 104.6 155.5 115.1 140.3M50.1 184.4L50.9 184.4 51.7 184.5 52.5 184.6 53.3 184.8 54.1 184.9 54.9 185.1 55.7 185.2 56.5 185.4 57.3 185.5 58.1 185.6 58.9 185.6 59.7 185.6 60.5 185.7 61.3 185.6 62.1 185.6 62.9 185.5 63.7 185.4 64.5 185.3 65.3 185.1 66.1 184.9 66.9 184.7 67.7 184.4 68.5 184.1 69.3 183.8 70.1 183.5 70.9 183.1 71.7 182.7 72.5 182.3 73.3 181.9 74.1 181.4 74.9 181.0 75.7 180.5 76.5 180.0 77.4 179.5 78.2 178.9 79.0 178.4 79.8 177.8 80.6 177.3 81.4 176.7 82.2 176.1 83.0 175.5 83.8 174.9 84.6 174.3 85.4 173.7 86.2 173.1 87.0 172.5 87.8 171.9 88.6 171.3 89.4 170.7 90.2 170.1 91.0 169.5 91.8 168.9 92.6 168.2 93.4 167.6 94.2 167.0 95.0 166.4 95.8 165.8 96.6 165.2 97.4 164.6 98.2 164.1 99.0 163.6 99.8 163.1 100.6 162.6 101.4 162.2 103.7 157.7 110.5 140.6M50.1 184.3L50.9 184.4 51.7 184.5 52.5 184.6 53.3 184.9 54.1 185.2 54.9 185.5 55.7 185.8 56.5 186.1 57.3 186.3 58.1 186.6 58.9 186.8 59.7 186.9 60.5 187.1 61.3 187.2 62.1 187.3 62.9 187.4 63.7 187.4 64.5 187.5 65.3 187.4 66.1 187.4 66.9 187.3 67.7 187.2 68.5 187.0 69.3 186.8 70.1 186.6 70.9 186.4 71.7 186.1 72.5 185.9 73.3 185.6 74.1 185.2 74.9 184.9 75.7 184.5 76.5 184.1 77.4 183.7 78.2 183.3 79.0 182.8 79.8 182.4 80.6 181.9 81.4 181.4 82.2 180.9 83.0 180.3 83.8 179.8 84.6 179.2 85.4 178.6 86.2 178.1 87.0 177.5 87.8 176.9 88.6 176.3 89.4 175.7 90.2 175.1 91.0 174.4 91.8 173.8 92.6 173.2 93.4 172.5 94.2 171.9 95.0 171.2 95.8 170.6 96.6 169.9 97.4 169.3 98.2 168.7 99.0 168.1 99.8 167.5 100.6 167.0 101.4 166.5 103.1 161.7 107.3 143.8M50.1 184.2L50.9 184.3 51.7 184.4 52.5 184.7 53.3 185.1 54.1 185.5 54.9 185.9 55.7 186.3 56.5 186.7 57.3 187.1 58.1 187.4 58.9 187.8 59.7 188.1 60.5 188.4 61.3 188.6 62.1 188.9 62.9 189.1 63.7 189.3 64.5 189.4 65.3 189.5 66.1 189.6 66.9 189.7 67.7 189.7 68.5 189.7 69.3 189.7 70.1 189.6 70.9 189.6 71.7 189.4 72.5 189.3 73.3 189.2 74.1 189.0 74.9 188.8 75.7 188.6 76.5 188.3 77.4 188.0 78.2 187.7 79.0 187.4 79.8 187.0 80.6 186.7 81.4 186.3 82.2 185.8 83.0 185.4 83.8 184.9 84.6 184.4 85.4 184.0 86.2 183.4 87.0 182.9 87.8 182.4 88.6 181.8 89.4 181.3 90.2 180.7 91.0 180.1 91.8 179.5 92.6 178.9 93.4 178.2 94.2 177.6 95.0 176.9 95.8 176.3 96.6 175.6 97.4 175.0 98.2 174.3 99.0 173.7 99.8 173.1 100.6 172.5 101.4 172.0 102.8 167.1 106.1 149.0M50.1 184.2L50.9 184.3 51.7 184.4 52.5 184.7 53.3 185.2 54.1 185.6 54.9 186.1 55.7 186.6 56.5 187.1 57.3 187.6 58.1 188.1 58.9 188.5 59.7 189.0 60.5 189.4 61.3 189.8 62.1 190.1 62.9 190.5 63.7 190.8 64.5 191.1 65.3 191.3 66.1 191.5 66.9 191.8 67.7 191.9 68.5 192.1 69.3 192.2 70.1 192.3 70.9 192.4 71.7 192.4 72.5 192.4 73.3 192.4 74.1 192.4 74.9 192.4 75.7 192.3 76.5 192.2 77.4 192.1 78.2 191.9 79.0 191.7 79.8 191.5 80.6 191.3 81.4 191.0 82.2 190.7 83.0 190.4 83.8 190.1 84.6 189.7 85.4 189.3 86.2 188.9 87.0 188.5 87.8 188.0 88.6 187.6 89.4 187.1 90.2 186.6 91.0 186.1 91.8 185.5 92.6 184.9 93.4 184.4 94.2 183.8 95.0 183.1 95.8 182.5 96.6 181.9 97.4 181.3 98.2 180.7 99.0 180.1 99.8 179.5 100.6 178.9 101.4 178.3 103.0 173.5 107.1 155.5M50.1 184.1L50.9 184.3 51.7 184.4 52.5 184.7 53.3 185.2 54.1 185.7 54.9 186.3 55.7 186.8 56.5 187.4 57.3 187.9 58.1 188.5 58.9 189.0 59.7 189.6 60.5 190.0 61.3 190.5 62.1 191.0 62.9 191.4 63.7 191.8 64.5 192.2 65.3 192.6 66.1 193.0 66.9 193.3 67.7 193.6 68.5 193.9 69.3 194.2 70.1 194.4 70.9 194.6 71.7 194.8 72.5 195.0 73.3 195.2 74.1 195.3 74.9 195.4 75.7 195.5 76.5 195.6 77.4 195.6 78.2 195.6 79.0 195.6 79.8 195.5 80.6 195.4 81.4 195.3 82.2 195.2 83.0 195.0 83.8 194.8 84.6 194.6 85.4 194.3 86.2 194.0 87.0 193.7 87.8 193.4 88.6 193.1 89.4 192.7 90.2 192.3 91.0 191.9 91.8 191.5 92.6 191.0 93.4 190.5 94.2 190.0 95.0 189.5 95.8 188.9 96.6 188.4 97.4 187.8 98.2 187.3 99.0 186.7 99.8 186.2 100.6 185.6 101.4 185.1 103.6 180.4 110.0 163.2M50.1 184.1L50.9 184.3 51.7 184.4 52.5 184.7 53.3 185.2 54.1 185.8 54.9 186.3 55.7 186.9 56.5 187.5 57.3 188.0 58.1 188.6 58.9 189.2 59.7 189.8 60.5 190.3 61.3 190.9 62.1 191.4 62.9 191.9 63.7 192.4 64.5 192.9 65.3 193.4 66.1 193.8 66.9 194.3 67.7 194.7 68.5 195.1 69.3 195.5 70.1 195.9 70.9 196.2 71.7 196.6 72.5 196.9 73.3 197.2 74.1 197.5 74.9 197.8 75.7 198.0 76.5 198.2 77.4 198.4 78.2 198.6 79.0 198.7 79.8 198.8 80.6 198.9 81.4 198.9 82.2 198.9 83.0 198.9 83.8 198.8 84.6 198.8 85.4 198.7 86.2 198.5 87.0 198.4 87.8 198.2 88.6 198.0 89.4 197.8 90.2 197.5 91.0 197.3 91.8 196.9 92.6 196.6 93.4 196.2 94.2 195.9 95.0 195.5 95.8 195.0 96.6 194.6 97.4 194.1 98.2 193.7 99.0 193.2 99.8 192.8 100.6 192.3 101.4 191.8 104.5 187.6 114.4 172.2M50.1 184.1L50.9 184.3 51.7 184.4 52.5 184.7 53.3 185.2 54.1 185.7 54.9 186.2 55.7 186.8 56.5 187.3 57.3 187.9 58.1 188.5 58.9 189.1 59.7 189.7 60.5 190.2 61.3 190.8 62.1 191.3 62.9 191.9 63.7 192.4 64.5 193.0 65.3 193.5 66.1 194.0 66.9 194.6 67.7 195.1 68.5 195.6 69.3 196.1 70.1 196.5 70.9 197.0 71.7 197.5 72.5 197.9 73.3 198.4 74.1 198.8 74.9 199.2 75.7 199.6 76.5 199.9 77.4 200.3 78.2 200.6 79.0 200.8 79.8 201.1 80.6 201.3 81.4 201.5 82.2 201.7 83.0 201.8 83.8 201.9 84.6 202.0 85.4 202.1 86.2 202.1 87.0 202.1 87.8 202.1 88.6 202.0 89.4 202.0 90.2 201.9 91.0 201.7 91.8 201.6 92.6 201.4 93.4 201.2 94.2 201.0 95.0 200.7 95.8 200.4 96.6 200.1 97.4 199.8 98.2 199.5 99.0 199.1 99.8 198.8 100.6 198.4 101.4 198.1 105.5 194.8 119.4 182.7M50.1 184.2L50.9 184.3 51.7 184.4 52.5 184.7 53.3 185.1 54.1 185.5 54.9 186.0 55.7 186.5 56.5 187.0 57.3 187.5 58.1 188.1 58.9 188.7 59.7 189.2 60.5 189.7 61.3 190.3 62.1 190.8 62.9 191.4 63.7 191.9 64.5 192.5 65.3 193.0 66.1 193.6 66.9 194.2 67.7 194.7 68.5 195.3 69.3 195.8 70.1 196.4 70.9 196.9 71.7 197.5 72.5 198.0 73.3 198.6 74.1 199.1 74.9 199.6 75.7 200.1 76.5 200.6 77.4 201.0 78.2 201.5 79.0 201.9 79.8 202.2 80.6 202.6 81.4 202.9 82.2 203.2 83.0 203.5 83.8 203.8 84.6 204.0 85.4 204.2 86.2 204.4 87.0 204.6 87.8 204.7 88.6 204.8 89.4 204.9 90.2 205.0 91.0 205.0 91.8 205.0 92.6 205.0 93.4 205.0 94.2 204.9 95.0 204.8 95.8 204.7 96.6 204.6 97.4 204.4 98.2 204.2 99.0 204.0 99.8 203.8 100.6 203.6 101.4 203.4 106.3 201.5 123.3 194.6M50.1 184.3L50.9 184.4 51.7 184.5 52.5 184.6 53.3 185.0 54.1 185.3 54.9 185.7 55.7 186.1 56.5 186.5 57.3 187.0 58.1 187.4 58.9 187.9 59.7 188.4 60.5 188.9 61.3 189.4 62.1 189.9 62.9 190.4 63.7 190.9 64.5 191.5 65.3 192.0 66.1 192.6 66.9 193.1 67.7 193.7 68.5 194.3 69.3 194.9 70.1 195.4 70.9 196.0 71.7 196.6 72.5 197.2 73.3 197.8 74.1 198.4 74.9 199.0 75.7 199.6 76.5 200.1 77.4 200.7 78.2 201.2 79.0 201.7 79.8 202.2 80.6 202.7 81.4 203.1 82.2 203.5 83.0 204.0 83.8 204.4 84.6 204.7 85.4 205.1 86.2 205.4 87.0 205.7 87.8 206.0 88.6 206.3 89.4 206.5 90.2 206.7 91.0 206.9 91.8 207.1 92.6 207.3 93.4 207.4 94.2 207.5 95.0 207.6 95.8 207.6 96.6 207.7 97.4 207.7 98.2 207.7 99.0 207.6 99.8 207.6 100.6 207.5 101.4 207.4 106.6 207.2 125.0 206.8M50.1 184.3L50.9 184.4 51.7 184.5 52.5 184.6 53.3 184.8 54.1 185.0 54.9 185.3 55.7 185.6 56.5 185.9 57.3 186.2 58.1 186.6 58.9 187.0 59.7 187.3 60.5 187.7 61.3 188.1 62.1 188.6 62.9 189.0 63.7 189.5 64.5 189.9 65.3 190.4 66.1 191.0 66.9 191.5 67.7 192.0 68.5 192.6 69.3 193.2 70.1 193.7 70.9 194.3 71.7 194.9 72.5 195.5 73.3 196.2 74.1 196.8 74.9 197.4 75.7 198.0 76.5 198.6 77.4 199.2 78.2 199.8 79.0 200.4 79.8 200.9 80.6 201.5 81.4 202.0 82.2 202.5 83.0 203.1 83.8 203.6 84.6 204.1 85.4 204.5 86.2 205.0 87.0 205.4 87.8 205.8 88.6 206.2 89.4 206.6 90.2 207.0 91.0 207.3 91.8 207.6 92.6 208.0 93.4 208.2 94.2 208.5 95.0 208.8 95.8 209.0 96.6 209.2 97.4 209.4 98.2 209.5 99.0 209.6 99.8 209.7 100.6 209.8 101.4 209.8 106.3 211.4 123.7 217.5M50.1 184.4L50.9 184.5 51.7 184.5 52.5 184.5 53.3 184.6 54.1 184.7 54.9 184.8 55.7 185.0 56.5 185.2 57.3 185.4 58.1 185.6 58.9 185.8 59.7 186.1 60.5 186.4 61.3 186.7 62.1 187.0 62.9 187.3 63.7 187.7 64.5 188.1 65.3 188.5 66.1 188.9 66.9 189.4 67.7 189.8 68.5 190.3 69.3 190.9 70.1 191.4 70.9 192.0 71.7 192.5 72.5 193.1 73.3 193.7 74.1 194.3 74.9 194.9 75.7 195.5 76.5 196.1 77.4 196.7 78.2 197.3 79.0 198.0 79.8 198.6 80.6 199.1 81.4 199.7 82.2 200.3 83.0 200.9 83.8 201.5 84.6 202.0 85.4 202.6 86.2 203.1 87.0 203.7 87.8 204.2 88.6 204.7 89.4 205.2 90.2 205.7 91.0 206.1 91.8 206.6 92.6 207.0 93.4 207.5 94.2 207.9 95.0 208.3 95.8 208.7 96.6 209.0 97.4 209.3 98.2 209.6 99.0 209.9 99.8 210.2 100.6 210.4 101.4 210.6 105.6 213.6 120.0 225.1M50.1 184.5L50.9 184.5 51.7 184.5 52.5 184.5 53.3 184.4 54.1 184.4 54.9 184.4 55.7 184.4 56.5 184.4 57.3 184.4 58.1 184.5 58.9 184.6 59.7 184.7 60.5 184.9 61.3 185.0 62.1 185.2 62.9 185.4 63.7 185.7 64.5 185.9 65.3 186.2 66.1 186.6 66.9 186.9 67.7 187.3 68.5 187.7 69.3 188.1 70.1 188.6 70.9 189.1 71.7 189.6 72.5 190.1 73.3 190.6 74.1 191.2 74.9 191.7 75.7 192.3 76.5 192.9 77.4 193.4 78.2 194.0 79.0 194.6 79.8 195.2 80.6 195.8 81.4 196.4 82.2 197.0 83.0 197.6 83.8 198.2 84.6 198.8 85.4 199.4 86.2 200.0 87.0 200.6 87.8 201.2 88.6 201.8 89.4 202.4 90.2 202.9 91.0 203.5 91.8 204.0 92.6 204.6 93.4 205.1 94.2 205.7 95.0 206.2 95.8 206.7 96.6 207.2 97.4 207.6 98.2 208.1 99.0 208.5 99.8 208.9 100.6 209.2 101.4 209.5 104.6 213.5 115.1 228.7M50.1 184.6L50.9 184.6 51.7 184.5 52.5 184.4 53.3 184.2 54.1 184.1 54.9 183.9 55.7 183.8 56.5 183.6 57.3 183.5 58.1 183.4 58.9 183.4 59.7 183.4 60.5 183.3 61.3 183.4 62.1 183.4 62.9 183.5 63.7 183.6 64.5 183.7 65.3 183.9 66.1 184.1 66.9 184.3 67.7 184.6 68.5 184.9 69.3 185.2 70.1 185.5 70.9 185.9 71.7 186.3 72.5 186.7 73.3 187.1 74.1 187.6 74.9 188.0 75.7 188.5 76.5 189.0 77.4 189.5 78.2 190.1 79.0 190.6 79.8 191.2 80.6 191.7 81.4 192.3 82.2 192.9 83.0 193.5 83.8 194.1 84.6 194.7 85.4 195.3 86.2 195.9 87.0 196.5 87.8 197.1 88.6 197.7 89.4 198.3 90.2 198.9 91.0 199.5 91.8 200.1 92.6 200.8 93.4 201.4 94.2 202.0 95.0 202.6 95.8 203.2 96.6 203.8 97.4 204.4 98.2 204.9 99.0 205.4 99.8 205.9 100.6 206.4 101.4 206.8 103.7 211.3 110.5 228.4M50.1 184.7L50.9 184.6 51.7 184.5 52.5 184.4 53.3 184.1 54.1 183.8 54.9 183.5 55.7 183.2 56.5 182.9 57.3 182.7 58.1 182.4 58.9 182.2 59.7 182.1 60.5 181.9 61.3 181.8 62.1 181.7 62.9 181.6 63.7 181.6 64.5 181.5 65.3 181.6 66.1 181.6 66.9 181.7 67.7 181.8 68.5 182.0 69.3 182.2 70.1 182.4 70.9 182.6 71.7 182.9 72.5 183.1 73.3 183.4 74.1 183.8 74.9 184.1 75.7 184.5 76.5 184.9 77.4 185.3 78.2 185.7 79.0 186.2 79.8 186.6 80.6 187.1 81.4 187.6 82.2 188.1 83.0 188.7 83.8 189.2 84.6 189.8 85.4 190.4 86.2 190.9 87.0 191.5 87.8 192.1 88.6 192.7 89.4 193.3 90.2 193.9 91.0 194.6 91.8 195.2 92.6 195.8 93.4 196.5 94.2 197.1 95.0 197.8 95.8 198.4 96.6 199.1 97.4 199.7 98.2 200.3 99.0 200.9 99.8 201.5 100.6 202.0 101.4 202.5 103.1 207.3 107.3 225.2M50.1 184.8L50.9 184.7 51.7 184.6 52.5 184.3 53.3 183.9 54.1 183.5 54.9 183.1 55.7 182.7 56.5 182.3 57.3 181.9 58.1 181.6 58.9 181.2 59.7 180.9 60.5 180.6 61.3 180.4 62.1 180.1 62.9 179.9 63.7 179.7 64.5 179.6 65.3 179.5 66.1 179.4 66.9 179.3 67.7 179.3 68.5 179.3 69.3 179.3 70.1 179.4 70.9 179.4 71.7 179.6 72.5 179.7 73.3 179.8 74.1 180.0 74.9 180.2 75.7 180.4 76.5 180.7 77.4 181.0 78.2 181.3 79.0 181.6 79.8 182.0 80.6 182.3 81.4 182.7 82.2 183.2 83.0 183.6 83.8 184.1 84.6 184.6 85.4 185.0 86.2 185.6 87.0 186.1 87.8 186.6 88.6 187.2 89.4 187.7 90.2 188.3 91.0 188.9 91.8 189.5 92.6 190.1 93.4 190.8 94.2 191.4 95.0 192.1 95.8 192.7 96.6 193.4 97.4 194.0 98.2 194.7 99.0 195.3 99.8 195.9 100.6 196.5 101.4 197.0 102.8 201.9 106.1 220.0M50.1 184.8L50.9 184.7 51.7 184.6 52.5 184.3 53.3 183.8 54.1 183.4 54.9 182.9 55.7 182.4 56.5 181.9 57.3 181.4 58.1 180.9 58.9 180.5 59.7 180.0 60.5 179.6 61.3 179.2 62.1 178.9 62.9 178.5 63.7 178.2 64.5 177.9 65.3 177.7 66.1 177.5 66.9 177.2 67.7 177.1 68.5 176.9 69.3 176.8 70.1 176.7 70.9 176.6 71.7 176.6 72.5 176.6 73.3 176.6 74.1 176.6 74.9 176.6 75.7 176.7 76.5 176.8 77.4 176.9 78.2 177.1 79.0 177.3 79.8 177.5 80.6 177.7 81.4 178.0 82.2 178.3 83.0 178.6 83.8 178.9 84.6 179.3 85.4 179.7 86.2 180.1 87.0 180.5 87.8 181.0 88.6 181.4 89.4 181.9 90.2 182.4 91.0 182.9 91.8 183.5 92.6 184.1 93.4 184.6 94.2 185.2 95.0 185.9 95.8 186.5 96.6 187.1 97.4 187.7 98.2 188.3 99.0 188.9 99.8 189.5 100.6 190.1 101.4 190.7 103.0 195.5 107.1 213.5M50.1 184.9L50.9 184.7 51.7 184.6 52.5 184.3 53.3 183.8 54.1 183.3 54.9 182.7 55.7 182.2 56.5 181.6 57.3 181.1 58.1 180.5 58.9 180.0 59.7 179.4 60.5 179.0 61.3 178.5 62.1 178.0 62.9 177.6 63.7 177.2 64.5 176.8 65.3 176.4 66.1 176.0 66.9 175.7 67.7 175.4 68.5 175.1 69.3 174.8 70.1 174.6 70.9 174.4 71.7 174.2 72.5 174.0 73.3 173.8 74.1 173.7 74.9 173.6 75.7 173.5 76.5 173.4 77.4 173.4 78.2 173.4 79.0 173.4 79.8 173.5 80.6 173.6 81.4 173.7 82.2 173.8 83.0 174.0 83.8 174.2 84.6 174.4 85.4 174.7 86.2 175.0 87.0 175.3 87.8 175.6 88.6 175.9 89.4 176.3 90.2 176.7 91.0 177.1 91.8 177.5 92.6 178.0 93.4 178.5 94.2 179.0 95.0 179.5 95.8 180.1 96.6 180.6 97.4 181.2 98.2 181.7 99.0 182.3 99.8 182.8 100.6 183.4 101.4 183.9 103.6 188.6 110.0 205.8M50.1 184.9L50.9 184.7 51.7 184.6 52.5 184.3 53.3 183.8 54.1 183.2 54.9 182.7 55.7 182.1 56.5 181.5 57.3 181.0 58.1 180.4 58.9 179.8 59.7 179.2 60.5 178.7 61.3 178.1 62.1 177.6 62.9 177.1 63.7 176.6 64.5 176.1 65.3 175.6 66.1 175.2 66.9 174.7 67.7 174.3 68.5 173.9 69.3 173.5 70.1 173.1 70.9 172.8 71.7 172.4 72.5 172.1 73.3 171.8 74.1 171.5 74.9 171.2 75.7 171.0 76.5 170.8 77.4 170.6 78.2 170.4 79.0 170.3 79.8 170.2 80.6 170.1 81.4 170.1 82.2 170.1 83.0 170.1 83.8 170.2 84.6 170.2 85.4 170.3 86.2 170.5 87.0 170.6 87.8 170.8 88.6 171.0 89.4 171.2 90.2 171.5 91.0 171.7 91.8 172.1 92.6 172.4 93.4 172.8 94.2 173.1 95.0 173.5 95.8 174.0 96.6 174.4 97.4 174.9 98.2 175.3 99.0 175.8 99.8 176.2 100.6 176.7 101.4 177.2 104.5 181.4 114.4 196.8M50.1 184.9L50.9 184.7 51.7 184.6 52.5 184.3 53.3 183.8 54.1 183.3 54.9 182.8 55.7 182.2 56.5 181.7 57.3 181.1 58.1 180.5 58.9 179.9 59.7 179.3 60.5 178.8 61.3 178.2 62.1 177.7 62.9 177.1 63.7 176.6 64.5 176.0 65.3 175.5 66.1 175.0 66.9 174.4 67.7 173.9 68.5 173.4 69.3 172.9 70.1 172.5 70.9 172.0 71.7 171.5 72.5 171.1 73.3 170.6 74.1 170.2 74.9 169.8 75.7 169.4 76.5 169.1 77.4 168.7 78.2 168.4 79.0 168.2 79.8 167.9 80.6 167.7 81.4 167.5 82.2 167.3 83.0 167.2 83.8 167.1 84.6 167.0 85.4 166.9 86.2 166.9 87.0 166.9 87.8 166.9 88.6 167.0 89.4 167.0 90.2 167.1 91.0 167.3 91.8 167.4 92.6 167.6 93.4 167.8 94.2 168.0 95.0 168.3 95.8 168.6 96.6 168.9 97.4 169.2 98.2 169.5 99.0 169.9 99.8 170.2 100.6 170.6 101.4 170.9 105.5 174.2 119.4 186.3M50.1 184.8L50.9 184.7 51.7 184.6 52.5 184.3 53.3 183.9 54.1 183.5 54.9 183.0 55.7 182.5 56.5 182.0 57.3 181.5 58.1 180.9 58.9 180.3 59.7 179.8 60.5 179.3 61.3 178.7 62.1 178.2 62.9 177.6 63.7 177.1 64.5 176.5 65.3 176.0 66.1 175.4 66.9 174.8 67.7 174.3 68.5 173.7 69.3 173.2 70.1 172.6 70.9 172.1 71.7 171.5 72.5 171.0 73.3 170.4 74.1 169.9 74.9 169.4 75.7 168.9 76.5 168.4 77.4 168.0 78.2 167.5 79.0 167.1 79.8 166.8 80.6 166.4 81.4 166.1 82.2 165.8 83.0 165.5 83.8 165.2 84.6 165.0 85.4 164.8 86.2 164.6 87.0 164.4 87.8 164.3 88.6 164.2 89.4 164.1 90.2 164.0 91.0 164.0 91.8 164.0 92.6 164.0 93.4 164.0 94.2 164.1 95.0 164.2 95.8 164.3 96.6 164.4 97.4 164.6 98.2 164.8 99.0 165.0 99.8 165.2 100.6 165.4 101.4 165.6 106.3 167.5 123.3 174.4M50.1 184.7L50.9 184.6 51.7 184.5 52.5 184.4 53.3 184.0 54.1 183.7 54.9 183.3 55.7 182.9 56.5 182.5 57.3 182.0 58.1 181.6 58.9 181.1 59.7 180.6 60.5 180.1 61.3 179.6 62.1 179.1 62.9 178.6 63.7 178.1 64.5 177.5 65.3 177.0 66.1 176.4 66.9 175.9 67.7 175.3 68.5 174.7 69.3 174.1 70.1 173.6 70.9 173.0 71.7 172.4 72.5 171.8 73.3 171.2 74.1 170.6 74.9 170.0 75.7 169.4 76.5 168.9 77.4 168.3 78.2 167.8 79.0 167.3 79.8 166.8 80.6 166.3 81.4 165.9 82.2 165.5 83.0 165.0 83.8 164.6 84.6 164.3 85.4 163.9 86.2 163.6 87.0 163.3 87.8 163.0 88.6 162.7 89.4 162.5 90.2 162.3 91.0 162.1 91.8 161.9 92.6 161.7 93.4 161.6 94.2 161.5 95.0 161.4 95.8 161.4 96.6 161.3 97.4 161.3 98.2 161.3 99.0 161.4 99.8 161.4 100.6 161.5 101.4 161.6 106.6 161.8 125.0 162.2M50.1 184.7L50.9 184.6 51.7 184.5 52.5 184.4 53.3 184.2 54.1 184.0 54.9 183.7 55.7 183.4 56.5 183.1 57.3 182.8 58.1 182.4 58.9 182.0 59.7 181.7 60.5 181.3 61.3 180.9 62.1 180.4 62.9 180.0 63.7 179.5 64.5 179.1 65.3 178.6 66.1 178.0 66.9 177.5 67.7 177.0 68.5 176.4 69.3 175.8 70.1 175.3 70.9 174.7 71.7 174.1 72.5 173.5 73.3 172.8 74.1 172.2 74.9 171.6 75.7 171.0 76.5 170.4 77.4 169.8 78.2 169.2 79.0 168.6 79.8 168.1 80.6 167.5 81.4 167.0 82.2 166.5 83.0 165.9 83.8 165.4 84.6 164.9 85.4 164.5 86.2 164.0 87.0 163.6 87.8 163.2 88.6 162.8 89.4 162.4 90.2 162.0 91.0 161.7 91.8 161.4 92.6 161.0 93.4 160.8 94.2 160.5 95.0 160.2 95.8 160.0 96.6 159.8 97.4 159.6 98.2 159.5 99.0 159.4 99.8 159.3 100.6 159.2 101.4 159.2 106.3 157.6 123.7 151.5M50.1 184.6L50.9 184.5 51.7 184.5 52.5 184.5 53.3 184.4 54.1 184.3 54.9 184.2 55.7 184.0 56.5 183.8 57.3 183.6 58.1 183.4 58.9 183.2 59.7 182.9 60.5 182.6 61.3 182.3 62.1 182.0 62.9 181.7 63.7 181.3 64.5 180.9 65.3 180.5 66.1 180.1 66.9 179.6 67.7 179.2 68.5 178.7 69.3 178.1 70.1 177.6 70.9 177.0 71.7 176.5 72.5 175.9 73.3 175.3 74.1 174.7 74.9 174.1 75.7 173.5 76.5 172.9 77.4 172.3 78.2 171.7 79.0 171.0 79.8 170.4 80.6 169.9 81.4 169.3 82.2 168.7 83.0 168.1 83.8 167.5 84.6 167.0 85.4 166.4 86.2 165.9 87.0 165.3 87.8 164.8 88.6 164.3 89.4 163.8 90.2 163.3 91.0 162.9 91.8 162.4 92.6 162.0 93.4 161.5 94.2 161.1 95.0 160.7 95.8 160.3 96.6 160.0 97.4 159.7 98.2 159.4 99.0 159.1 99.8 158.8 100.6 158.6 101.4 158.4 105.6 155.4 120.0 143.9" fill="none" stroke="#000" stroke-width="0.5" stroke-opacity="0.8"/>
<path d="M2.0 184.5L2.8 184.5 3.6 184.4 4.4 184.4 5.2 184.4 6.0 184.4 6.8 184.3 7.6 184.3 8.4 184.3 9.2 184.3 10.0 184.3 10.8 184.3 11.6 184.2 12.4 184.2 13.2 184.2 14.0 184.2 14.8 184.2 15.6 184.2 16.4 184.2 17.2 184.2 18.0 184.1 18.8 184.1 19.6 184.1 20.4 184.1 21.2 184.1 22.0 184.1 22.8 184.1 23.6 184.1 24.4 184.1 25.2 184.1 26.0 184.1 26.8 184.1 27.7 184.1 28.5 184.1 29.3 184.1 30.1 184.1 30.9 184.1 31.7 184.1 32.5 184.1 33.3 184.1 34.1 184.1 34.9 184.1 35.7 184.1 36.5 184.1 37.3 184.1 38.1 184.1 38.9 184.2 39.7 184.2 40.5 184.2 41.3 184.2 42.1 184.2 42.9 184.2 43.7 184.2 44.5 184.3 45.3 184.3 46.1 184.3 46.9 184.3 47.7 184.4 48.5 184.4 49.3 184.4 50.1 184.5 50.9 184.5M2.0 184.5L2.8 184.3 3.6 184.2 4.4 184.0 5.2 183.9 6.0 183.7 6.8 183.6 7.6 183.5 8.4 183.4 9.2 183.3 10.0 183.1 10.8 183.0 11.6 183.0 12.4 182.9 13.2 182.8 14.0 182.7 14.8 182.7 15.6 182.6 16.4 182.5 17.2 182.5 18.0 182.4 18.8 182.4 19.6 182.3 20.4 182.3 21.2 182.2 22.0 182.2 22.8 182.2 23.6 182.2 24.4 182.2 25.2 182.2 26.0 182.1 26.8 182.1 27.7 182.1 28.5 182.1 29.3 182.1 30.1 182.1 30.9 182.1 31.7 182.1 32.5 182.1 33.3 182.1 34.1 182.2 34.9 182.2 35.7 182.2 36.5 182.3 37.3 182.3 38.1 182.4 38.9 182.5 39.7 182.5 40.5 182.6 41.3 182.7 42.1 182.7 42.9 182.8 43.7 182.9 44.5 183.1 45.3 183.2 46.1 183.4 46.9 183.5 47.7 183.7 48.5 183.9 49.3 184.1 50.1 184.3 50.9 184.4M2.0 184.5L2.8 184.3 3.6 184.0 4.4 183.8 5.2 183.5 6.0 183.3 6.8 183.1 7.6 182.9 8.4 182.7 9.2 182.5 10.0 182.4 10.8 182.2 11.6 182.1 12.4 182.0 13.2 181.9 14.0 181.7 14.8 181.6 15.6 181.5 16.4 181.4 17.2 181.3 18.0 181.2 18.8 181.2 19.6 181.1 20.4 181.0 21.2 181.0 22.0 180.9 22.8 180.9 23.6 180.9 24.4 180.9 25.2 180.8 26.0 180.8 26.8 180.8 27.7 180.8 28.5 180.8 29.3 180.8 30.1 180.8 30.9 180.8 31.7 180.8 32.5 180.8 33.3 180.8 34.1 180.9 34.9 180.9 35.7 181.0 36.5 181.1 37.3 181.1 38.1 181.2 38.9 181.3 39.7 181.4 40.5 181.5 41.3 181.6 42.1 181.7 42.9 181.9 43.7 182.1 44.5 182.3 45.3 182.5 46.1 182.7 46.9 183.0 47.7 183.2 48.5 183.5 49.3 183.9 50.1 184.2 50.9 184.3M2.0 184.5L2.8 184.2 3.6 184.0 4.4 183.7 5.2 183.5 6.0 183.2 6.8 183.0 7.6 182.8 8.4 182.6 9.2 182.4 10.0 182.2 10.8 182.0 11.6 181.9 12.4 181.7 13.2 181.6 14.0 181.5 14.8 181.4 15.6 181.2 16.4 181.1 17.2 181.0 18.0 180.9 18.8 180.8 19.6 180.8 20.4 180.7 21.2 180.7 22.0 180.6 22.8 180.6 23.6 180.6 24.4 180.5 25.2 180.5 26.0 180.5 26.8 180.5 27.7 180.5 28.5 180.4 29.3 180.4 30.1 180.4 30.9 180.4 31.7 180.4 32.5 180.4 33.3 180.5 34.1 180.5 34.9 180.6 35.7 180.7 36.5 180.7 37.3 180.8 38.1 180.9 38.9 181.0 39.7 181.1 40.5 181.2 41.3 181.4 42.1 181.5 42.9 181.7 43.7 181.9 44.5 182.1 45.3 182.3 46.1 182.6 46.9 182.8 47.7 183.1 48.5 183.4 49.3 183.8 50.1 184.1 50.9 184.3M2.0 184.5L2.8 184.3 3.6 184.1 4.4 183.9 5.2 183.6 6.0 183.5 6.8 183.3 7.6 183.1 8.4 182.9 9.2 182.8 10.0 182.6 10.8 182.5 11.6 182.4 12.4 182.3 13.2 182.1 14.0 182.0 14.8 181.9 15.6 181.8 16.4 181.8 17.2 181.7 18.0 181.6 18.8 181.5 19.6 181.5 20.4 181.4 21.2 181.4 22.0 181.3 22.8 181.3 23.6 181.3 24.4 181.3 25.2 181.2 26.0 181.2 26.8 181.2 27.7 181.2 28.5 181.2 29.3 181.2 30.1 181.2 30.9 181.2 31.7 181.2 32.5 181.2 33.3 181.2 34.1 181.3 34.9 181.3 35.7 181.4 36.5 181.4 37.3 181.5 38.1 181.6 38.9 181.7 39.7 181.8 40.5 181.8 41.3 181.9 42.1 182.0 42.9 182.2 43.7 182.3 44.5 182.5 45.3 182.7 46.1 182.9 46.9 183.1 47.7 183.4 48.5 183.6 49.3 183.9 50.1 184.2 50.9 184.3M2.0 184.5L2.8 184.4 3.6 184.3 4.4 184.2 5.2 184.1 6.0 184.0 6.8 183.9 7.6 183.8 8.4 183.7 9.2 183.6 10.0 183.5 10.8 183.5 11.6 183.4 12.4 183.4 13.2 183.3 14.0 183.3 14.8 183.2 15.6 183.2 16.4 183.1 17.2 183.1 18.0 183.0 18.8 183.0 19.6 183.0 20.4 182.9 21.2 182.9 22.0 182.9 22.8 182.9 23.6 182.9 24.4 182.9 25.2 182.9 26.0 182.8 26.8 182.8 27.7 182.8 28.5 182.8 29.3 182.8 30.1 182.8 30.9 182.8 31.7 182.8 32.5 182.8 33.3 182.8 34.1 182.9 34.9 182.9 35.7 182.9 36.5 182.9 37.3 183.0 38.1 183.0 38.9 183.1 39.7 183.1 40.5 183.2 41.3 183.2 42.1 183.3 42.9 183.3 43.7 183.4 44.5 183.5 45.3 183.6 46.1 183.7 46.9 183.8 47.7 183.9 48.5 184.1 49.3 184.2 50.1 184.3 50.9 184.4M2.0 184.5L2.8 184.5 3.6 184.6 4.4 184.6 5.2 184.6 6.0 184.6 6.8 184.7 7.6 184.7 8.4 184.7 9.2 184.7 10.0 184.7 10.8 184.7 11.6 184.8 12.4 184.8 13.2 184.8 14.0 184.8 14.8 184.8 15.6 184.8 16.4 184.8 17.2 184.8 18.0 184.9 18.8 184.9 19.6 184.9 20.4 184.9 21.2 184.9 22.0 184.9 22.8 184.9 23.6 184.9 24.4 184.9 25.2 184.9 26.0 184.9 26.8 184.9 27.7 184.9 28.5 184.9 29.3 184.9 30.1 184.9 30.9 184.9 31.7 184.9 32.5 184.9 33.3 184.9 34.1 184.9 34.9 184.9 35.7 184.9 36.5 184.9 37.3 184.9 38.1 184.9 38.9 184.8 39.7 184.8 40.5 184.8 41.3 184.8 42.1 184.8 42.9 184.8 43.7 184.8 44.5 184.7 45.3 184.7 46.1 184.7 46.9 184.7 47.7 184.6 48.5 184.6 49.3 184.6 50.1 184.5 50.9 184.5M2.0 184.5L2.8 184.7 3.6 184.8 4.4 185.0 5.2 185.1 6.0 185.3 6.8 185.4 7.6 185.5 8.4 185.6 9.2 185.7 10.0 185.9 10.8 186.0 11.6 186.0 12.4 186.1 13.2 186.2 14.0 186.3 14.8 186.3 15.6 186.4 16.4 186.5 17.2 186.5 18.0 186.6 18.8 186.6 19.6 186.7 20.4 186.7 21.2 186.8 22.0 186.8 22.8 186.8 23.6 186.8 24.4 186.8 25.2 186.8 26.0 186.9 26.8 186.9 27.7 186.9 28.5 186.9 29.3 186.9 30.1 186.9 30.9 186.9 31.7 186.9 32.5 186.9 33.3 186.9 34.1 186.8 34.9 186.8 35.7 186.8 36.5 186.7 37.3 186.7 38.1 186.6 38.9 186.5 39.7 186.5 40.5 186.4 41.3 186.3 42.1 186.3 42.9 186.2 43.7 186.1 44.5 185.9 45.3 185.8 46.1 185.6 46.9 185.5 47.7 185.3 48.5 185.1 49.3 184.9 50.1 184.7 50.9 184.6M2.0 184.5L2.8 184.7 3.6 185.0 4.4 185.2 5.2 185.5 6.0 185.7 6.8 185.9 7.6 186.1 8.4 186.3 9.2 186.5 10.0 186.6 10.8 186.8 11.6 186.9 12.4 187.0 13.2 187.1 14.0 187.3 14.8 187.4 15.6 187.5 16.4 187.6 17.2 187.7 18.0 187.8 18.8 187.8 19.6 187.9 20.4 188.0 21.2 188.0 22.0 188.1 22.8 188.1 23.6 188.1 24.4 188.1 25.2 188.2 26.0 188.2 26.8 188.2 27.7 188.2 28.5 188.2 29.3 188.2 30.1 188.2 30.9 188.2 31.7 188.2 32.5 188.2 33.3 188.2 34.1 188.1 34.9 188.1 35.7 188.0 36.5 187.9 37.3 187.9 38.1 187.8 38.9 187.7 39.7 187.6 40.5 187.5 41.3 187.4 42.1 187.3 42.9 187.1 43.7 186.9 44.5 186.7 45.3 186.5 46.1 186.3 46.9 186.0 47.7 185.8 48.5 185.5 49.3 185.1 50.1 184.8 50.9 184.7M2.0 184.5L2.8 184.8 3.6 185.0 4.4 185.3 5.2 185.5 6.0 185.8 6.8 186.0 7.6 186.2 8.4 186.4 9.2 186.6 10.0 186.8 10.8 187.0 11.6 187.1 12.4 187.3 13.2 187.4 14.0 187.5 14.8 187.6 15.6 187.8 16.4 187.9 17.2 188.0 18.0 188.1 18.8 188.2 19.6 188.2 20.4 188.3 21.2 188.3 22.0 188.4 22.8 188.4 23.6 188.4 24.4 188.5 25.2 188.5 26.0 188.5 26.8 188.5 27.7 188.5 28.5 188.6 29.3 188.6 30.1 188.6 30.9 188.6 31.7 188.6 32.5 188.6 33.3 188.5 34.1 188.5 34.9 188.4 35.7 188.3 36.5 188.3 37.3 188.2 38.1 188.1 38.9 188.0 39.7 187.9 40.5 187.8 41.3 187.6 42.1 187.5 42.9 187.3 43.7 187.1 44.5 186.9 45.3 186.7 46.1 186.4 46.9 186.2 47.7 185.9 48.5 185.6 49.3 185.2 50.1 184.9 50.9 184.7M2.0 184.5L2.8 184.7 3.6 184.9 4.4 185.1 5.2 185.4 6.0 185.5 6.8 185.7 7.6 185.9 8.4 186.1 9.2 186.2 10.0 186.4 10.8 186.5 11.6 186.6 12.4 186.7 13.2 186.9 14.0 187.0 14.8 187.1 15.6 187.2 16.4 187.2 17.2 187.3 18.0 187.4 18.8 187.5 19.6 187.5 20.4 187.6 21.2 187.6 22.0 187.7 22.8 187.7 23.6 187.7 24.4 187.7 25.2 187.8 26.0 187.8 26.8 187.8 27.7 187.8 28.5 187.8 29.3 187.8 30.1 187.8 30.9 187.8 31.7 187.8 32.5 187.8 33.3 187.8 34.1 187.7 34.9 187.7 35.7 187.6 36.5 187.6 37.3 187.5 38.1 187.4 38.9 187.3 39.7 187.2 40.5 187.2 41.3 187.1 42.1 187.0 42.9 186.8 43.7 186.7 44.5 186.5 45.3 186.3 46.1 186.1 46.9 185.9 47.7 185.6 48.5 185.4 49.3 185.1 50.1 184.8 50.9 184.7M2.0 184.5L2.8 184.6 3.6 184.7 4.4 184.8 5.2 184.9 6.0 185.0 6.8 185.1 7.6 185.2 8.4 185.3 9.2 185.4 10.0 185.5 10.8 185.5 11.6 185.6 12.4 185.6 13.2 185.7 14.0 185.7 14.8 185.8 15.6 185.8 16.4 185.9 17.2 185.9 18.0 186.0 18.8 186.0 19.6 186.0 20.4 186.1 21.2 186.1 22.0 186.1 22.8 186.1 23.6 186.1 24.4 186.1 25.2 186.1 26.0 186.2 26.8 186.2 27.7 186.2 28.5 186.2 29.3 186.2 30.1 186.2 30.9 186.2 31.7 186.2 32.5 186.2 33.3 186.2 34.1 186.1 34.9 186.1 35.7 186.1 36.5 186.1 37.3 186.0 38.1 186.0 38.9 185.9 39.7 185.9 40.5 185.8 41.3 185.8 42.1 185.7 42.9 185.7 43.7 185.6 44.5 185.5 45.3 185.4 46.1 185.3 46.9 185.2 47.7 185.1 48.5 184.9 49.3 184.8 50.1 184.7 50.9 184.6" fill="none" stroke="#000" stroke-width="0.45" stroke-opacity="0.6"/>
<path d="M2.0 184.5L2.8 184.2 3.7 183.9 4.5 183.7 5.4 183.4 6.2 183.2 7.1 183.0 7.9 182.7 8.8 182.5 9.6 182.3 10.5 182.2 11.3 182.0 12.2 181.9 13.0 181.7 13.9 181.6 14.7 181.5 15.6 181.3 16.4 181.2 17.3 181.1 18.1 181.0 18.9 180.9 19.8 180.8 20.6 180.8 21.5 180.7 22.3 180.7 23.2 180.7 24.0 180.6 24.9 180.6 25.7 180.6 26.6 180.6 27.4 180.6 28.3 180.5 29.1 180.5 30.0 180.5 30.8 180.5 31.7 180.5 32.5 180.6 33.4 180.6 34.2 180.6 35.1 180.7 35.9 180.8 36.7 180.9 37.6 181.0 38.4 181.1 39.3 181.2 40.1 181.3 41.0 181.4 41.8 181.5 42.7 181.7 43.5 181.9 44.4 182.1 45.2 182.3 46.1 182.6 46.9 182.9 47.8 183.2 48.6 183.5 49.5 183.9 50.3 184.2 51.2 184.3 52.0 184.5M2.0 184.5L2.8 184.8 3.7 185.1 4.5 185.3 5.4 185.6 6.2 185.8 7.1 186.0 7.9 186.3 8.8 186.5 9.6 186.7 10.5 186.8 11.3 187.0 12.2 187.1 13.0 187.3 13.9 187.4 14.7 187.5 15.6 187.7 16.4 187.8 17.3 187.9 18.1 188.0 18.9 188.1 19.8 188.2 20.6 188.2 21.5 188.3 22.3 188.3 23.2 188.3 24.0 188.4 24.9 188.4 25.7 188.4 26.6 188.4 27.4 188.4 28.3 188.5 29.1 188.5 30.0 188.5 30.8 188.5 31.7 188.5 32.5 188.4 33.4 188.4 34.2 188.4 35.1 188.3 35.9 188.2 36.7 188.1 37.6 188.0 38.4 187.9 39.3 187.8 40.1 187.7 41.0 187.6 41.8 187.5 42.7 187.3 43.5 187.1 44.4 186.9 45.2 186.7 46.1 186.4 46.9 186.1 47.8 185.8 48.6 185.5 49.5 185.1 50.3 184.8 51.2 184.7 52.0 184.5" fill="none" stroke="#000" stroke-width="1.0" stroke-opacity="0.85"/>
<g transform="translate(173.0,24.0)" >
<defs><linearGradient id="g0" x2="1"><stop offset="0.002" stop-color="#ffff00"/><stop offset="0.344" stop-color="#f0fe00"/><stop offset="0.441" stop-color="#a6fc00"/><stop offset="0.567" stop-color="#14f600"/><stop offset="0.634" stop-color="#00f506"/><stop offset="0.745" stop-color="#08f500"/><stop offset="0.812" stop-color="#57f800"/><stop offset="0.901" stop-color="#d8fd00"/><stop offset="0.972" stop-color="#faff00"/><stop offset="0.998" stop-color="#fdff00"/></linearGradient><linearGradient id="g1" x2="1"><stop offset="0.002" stop-color="#ffff00"/><stop offset="0.344" stop-color="#f0fe00"/><stop offset="0.441" stop-color="#a6fc00"/><stop offset="0.567" stop-color="#14f600"/><stop offset="0.638" stop-color="#00f506"/><stop offset="0.745" stop-color="#09f500"/><stop offset="0.812" stop-color="#58f800"/><stop offset="0.901" stop-color="#d8fd00"/><stop offset="0.972" stop-color="#faff00"/><stop offset="0.998" stop-color="#fdff00"/></linearGradient><linearGradient id="g2" x2="1"><stop offset="0.002" stop-color="#ffff00"/><stop offset="0.344" stop-color="#f0fe00"/><stop offset="0.444" stop-color="#a3fb00"/><stop offset="0.571" stop-color="#12f600"/><stop offset="0.649" stop-color="#00f507"/><stop offset="0.745" stop-color="#0bf500"/><stop offset="0.812" stop-color="#5af900"/><stop offset="0.901" stop-color="#d9fe00"/><stop offset="0.976" stop-color="#fbff00"/><stop offset="0.998" stop-color="#fdff00"/></linearGradient><linearGradient id="g3" x2="1"><stop offset="0.002" stop-color="#ffff00"/><stop offset="0.344" stop-color="#f0fe00"/><stop offset="0.444" stop-color="#a4fb00"/><stop offset="0.571" stop-color="#14f600"/><stop offset="0.649" stop-color="#00f506"/><stop offset="0.742" stop-color="#0af500"/><stop offset="0.812" stop-color="#5cf900"/><stop offset="0.901" stop-color="#dafe00"/><stop offset="0.980" stop-color="#fbff00"/><stop offset="0.998" stop-color="#fdff00"/></linearGradient><linearGradient id="g4" x2="1"><stop offset="0.002" stop-color="#ffff00"/><stop offset="0.344" stop-color="#f0fe00"/><stop offset="0.444" stop-color="#a6fc00"/><stop offset="0.574" stop-color="#12f600"/><stop offset="0.649" stop-color="#00f505"/><stop offset="0.742" stop-color="#0df600"/><stop offset="0.812" stop-color="#5ff900"/><stop offset="0.901" stop-color="#dcfe00"/><stop offset="0.983" stop-color="#fcff00"/><stop offset="0.998" stop-color="#fdff00"/></linearGradient><linearGradient id="g5" x2="1"><stop offset="0.002" stop-color="#ffff00"/><stop offset="0.344" stop-color="#f1fe00"/><stop offset="0.444" stop-color="#a7fc00"/><stop offset="0.578" stop-color="#0ff600"/><stop offset="0.645" stop-color="#00f504"/><stop offset="0.738" stop-color="#0df600"/><stop offset="0.809" stop-color="#5cf900"/><stop offset="0.901" stop-color="#ddfe00"/><stop offset="0.991" stop-color="#fdff00"/><stop offset="0.998" stop-color="#fdff00"/></linearGradient><linearGradient id="g6" x2="1"><stop offset="0.002" stop-color="#ffff00"/><stop offset="0.344" stop-color="#f1fe00"/><stop offset="0.444" stop-color="#a9fc00"/><stop offset="0.593" stop-color="#02f500"/><stop offset="0.730" stop-color="#0cf500"/><stop offset="0.805" stop-color="#59f800"/><stop offset="0.898" stop-color="#dbfe00"/><stop offset="0.987" stop-color="#fcff00"/><stop offset="0.998" stop-color="#fdff00"/></linearGradient><linearGradient id="g7" x2="1"><stop offset="0.002" stop-color="#ffff00"/><stop offset="0.344" stop-color="#f1fe00"/><stop offset="0.444" stop-color="#aafc00"/><stop offset="0.597" stop-color="#00f505"/><stop offset="0.730" stop-color="#0ff600"/><stop offset="0.805" stop-color="#5cf900"/><stop offset="0.898" stop-color="#dcfe00"/><stop offset="0.991" stop-color="#fdff00"/><stop offset="0.998" stop-color="#fdff00"/></linearGradient><linearGradient id="g8" x2="1"><stop offset="0.002" stop-color="#ffff00"/><stop offset="0.344" stop-color="#f1fe00"/><stop offset="0.444" stop-color="#acfc00"/><stop offset="0.593" stop-color="#00f507"/><stop offset="0.645" stop-color="#00f504"/><stop offset="0.745" stop-color="#1cf600"/><stop offset="0.812" stop-color="#6bf900"/><stop offset="0.898" stop-color="#ddfe00"/><stop offset="0.994" stop-color="#fdff00"/><stop offset="0.998" stop-color="#fdff00"/></linearGradient><linearGradient id="g9" x2="1"><stop offset="0.002" stop-color="#ffff00"/><stop offset="0.348" stop-color="#f1fe00"/><stop offset="0.444" stop-color="#aefc00"/><stop offset="0.589" stop-color="#00f507"/><stop offset="0.630" stop-color="#00f50b"/><stop offset="0.745" stop-color="#1ff600"/><stop offset="0.812" stop-color="#6ef900"/><stop offset="0.894" stop-color="#dbfe00"/><stop offset="0.994" stop-color="#fcff00"/><stop offset="0.998" stop-color="#fcff00"/></linearGradient><linearGradient id="g10" x2="1"><stop offset="0.002" stop-color="#ffff00"/><stop offset="0.348" stop-color="#f3ff00"/><stop offset="0.444" stop-color="#b1fc00"/><stop offset="0.578" stop-color="#09f500"/><stop offset="0.615" stop-color="#00f511"/><stop offset="0.682" stop-color="#0af500"/><stop offset="0.760" stop-color="#2ff700"/><stop offset="0.894" stop-color="#dcfe00"/><stop offset="0.998" stop-color="#fcff00"/></linearGradient><linearGradient id="g11" x2="1"><stop offset="0.002" stop-color="#ffff00"/><stop offset="0.351" stop-color="#f4ff00"/><stop offset="0.448" stop-color="#b1fc00"/><stop offset="0.574" stop-color="#12f600"/><stop offset="0.586" stop-color="#00f50b"/><stop offset="0.604" stop-color="#00f61d"/><stop offset="0.656" stop-color="#06f500"/><stop offset="0.753" stop-color="#2bf700"/><stop offset="0.827" stop-color="#8cfa00"/><stop offset="0.898" stop-color="#e0fe00"/><stop offset="0.998" stop-color="#fcff00"/></linearGradient><linearGradient id="g12" x2="1"><stop offset="0.002" stop-color="#fffe00"/><stop offset="0.355" stop-color="#f5ff00"/><stop offset="0.452" stop-color="#b1fc00"/><stop offset="0.571" stop-color="#1ff600"/><stop offset="0.582" stop-color="#00f506"/><stop offset="0.597" stop-color="#00f637"/><stop offset="0.615" stop-color="#00f61e"/><stop offset="0.638" stop-color="#03f500"/><stop offset="0.753" stop-color="#2ff700"/><stop offset="0.831" stop-color="#95fb00"/><stop offset="0.901" stop-color="#e2fe00"/><stop offset="0.998" stop-color="#fbff00"/></linearGradient><linearGradient id="g13" x2="1"><stop offset="0.002" stop-color="#fffe00"/><stop offset="0.359" stop-color="#f7ff00"/><stop offset="0.455" stop-color="#b2fc00"/><stop offset="0.571" stop-color="#25f600"/><stop offset="0.582" stop-color="#00f509"/><stop offset="0.597" stop-color="#00f75a"/><stop offset="0.608" stop-color="#00f756"/><stop offset="0.630" stop-color="#00f504"/><stop offset="0.753" stop-color="#32f700"/><stop offset="0.890" stop-color="#dcfe00"/><stop offset="0.998" stop-color="#faff00"/></linearGradient><linearGradient id="g14" x2="1"><stop offset="0.002" stop-color="#fffe00"/><stop offset="0.333" stop-color="#fffc00"/><stop offset="0.433" stop-color="#cdfd00"/><stop offset="0.571" stop-color="#2bf700"/><stop offset="0.582" stop-color="#00f505"/><stop offset="0.597" stop-color="#00f775"/><stop offset="0.604" stop-color="#00f88b"/><stop offset="0.615" stop-color="#00f763"/><stop offset="0.630" stop-color="#00f50f"/><stop offset="0.645" stop-color="#0ff600"/><stop offset="0.749" stop-color="#33f700"/><stop offset="0.890" stop-color="#ddfe00"/><stop offset="0.998" stop-color="#faff00"/></linearGradient><linearGradient id="g15" x2="1"><stop offset="0.002" stop-color="#fffe00"/><stop offset="0.329" stop-color="#fff800"/><stop offset="0.411" stop-color="#e2fe00"/><stop offset="0.504" stop-color="#82fa00"/><stop offset="0.574" stop-color="#28f700"/><stop offset="0.582" stop-color="#03f500"/><stop offset="0.593" stop-color="#00f766"/><stop offset="0.600" stop-color="#00f8b1"/><stop offset="0.608" stop-color="#00f9c9"/><stop offset="0.615" stop-color="#00f8a0"/><stop offset="0.630" stop-color="#00f628"/><stop offset="0.638" stop-color="#00f504"/><stop offset="0.664" stop-color="#17f600"/><stop offset="0.753" stop-color="#3af700"/><stop offset="0.887" stop-color="#dcfe00"/><stop offset="0.998" stop-color="#f9ff00"/></linearGradient><linearGradient id="g16" x2="1"><stop offset="0.002" stop-color="#fffe00"/><stop offset="0.325" stop-color="#fff400"/><stop offset="0.400" stop-color="#edfe00"/><stop offset="0.489" stop-color="#9bfb00"/><stop offset="0.574" stop-color="#2ff700"/><stop offset="0.582" stop-color="#0df500"/><stop offset="0.586" stop-color="#00f511"/><stop offset="0.593" stop-color="#00f76b"/><stop offset="0.600" stop-color="#00f9d9"/><stop offset="0.604" stop-color="#00f8f9"/><stop offset="0.612" stop-color="#00f6f7"/><stop offset="0.619" stop-color="#00f9b9"/><stop offset="0.630" stop-color="#00f64c"/><stop offset="0.641" stop-color="#00f507"/><stop offset="0.664" stop-color="#1af600"/><stop offset="0.749" stop-color="#3af700"/><stop offset="0.887" stop-color="#dcfe00"/><stop offset="0.998" stop-color="#f8ff00"/></linearGradient><linearGradient id="g17" x2="1"><stop offset="0.002" stop-color="#fffe00"/><stop offset="0.322" stop-color="#fff000"/><stop offset="0.400" stop-color="#f1fe00"/><stop offset="0.489" stop-color="#a1fb00"/><stop offset="0.574" stop-color="#35f700"/><stop offset="0.586" stop-color="#00f506"/><stop offset="0.593" stop-color="#00f75e"/><stop offset="0.600" stop-color="#00f9d3"/><stop offset="0.604" stop-color="#00f8fc"/><stop offset="0.612" stop-color="#00e1fc"/><stop offset="0.615" stop-color="#00f1fe"/><stop offset="0.619" stop-color="#00fae9"/><stop offset="0.634" stop-color="#00f758"/><stop offset="0.645" stop-color="#00f50c"/><stop offset="0.660" stop-color="#1bf600"/><stop offset="0.753" stop-color="#41f800"/><stop offset="0.887" stop-color="#ddfe00"/><stop offset="0.998" stop-color="#f7ff00"/></linearGradient><linearGradient id="g18" x2="1"><stop offset="0.002" stop-color="#fffe00"/><stop offset="0.255" stop-color="#ffe800"/><stop offset="0.400" stop-color="#f5ff00"/><stop offset="0.489" stop-color="#a6fc00"/><stop offset="0.578" stop-color="#2ff700"/><stop offset="0.586" stop-color="#05f500"/><stop offset="0.593" stop-color="#00f647"/><stop offset="0.604" stop-color="#00f9e0"/><stop offset="0.608" stop-color="#00f3fe"/><stop offset="0.612" stop-color="#00e0fc"/><stop offset="0.619" stop-color="#00eefe"/><stop offset="0.623" stop-color="#00faed"/><stop offset="0.641" stop-color="#00f645"/><stop offset="0.652" stop-color="#04f501"/><stop offset="0.667" stop-color="#21f600"/><stop offset="0.753" stop-color="#45f800"/><stop offset="0.883" stop-color="#dbfe00"/><stop offset="0.998" stop-color="#f6ff00"/></linearGradient><linearGradient id="g19" x2="1"><stop offset="0.002" stop-color="#fffe00"/><stop offset="0.243" stop-color="#ffe800"/><stop offset="0.362" stop-color="#fff500"/><stop offset="0.426" stop-color="#e8fe00"/><stop offset="0.507" stop-color="#93fb00"/><stop offset="0.578" stop-color="#36f700"/><stop offset="0.586" stop-color="#11f600"/><stop offset="0.589" stop-color="#00f50e"/><stop offset="0.608" stop-color="#00fae6"/><stop offset="0.612" stop-color="#00f1fe"/><stop offset="0.619" stop-color="#00ddfc"/><stop offset="0.626" stop-color="#00faef"/><stop offset="0.652" stop-color="#00f514"/><stop offset="0.660" stop-color="#12f600"/><stop offset="0.682" stop-color="#27f700"/><stop offset="0.760" stop-color="#50f800"/><stop offset="0.879" stop-color="#d9fe00"/><stop offset="0.998" stop-color="#f5ff00"/></linearGradient><linearGradient id="g20" x2="1"><stop offset="0.002" stop-color="#fffe00"/><stop offset="0.243" stop-color="#ffe600"/><stop offset="0.355" stop-color="#fff000"/><stop offset="0.418" stop-color="#f1fe00"/><stop offset="0.500" stop-color="#a3fb00"/><stop offset="0.578" stop-color="#3ef700"/><stop offset="0.589" stop-color="#03f501"/><stop offset="0.612" stop-color="#00faea"/><stop offset="0.615" stop-color="#00f0fe"/><stop offset="0.623" stop-color="#00ddfc"/><stop offset="0.630" stop-color="#00faf0"/><stop offset="0.656" stop-color="#00f515"/><stop offset="0.660" stop-color="#04f501"/><stop offset="0.675" stop-color="#29f700"/><stop offset="0.757" stop-color="#51f800"/><stop offset="0.875" stop-color="#d7fd00"/><stop offset="0.998" stop-color="#f4ff00"/></linearGradient><linearGradient id="g21" x2="1"><stop offset="0.002" stop-color="#fffd00"/><stop offset="0.240" stop-color="#fee500"/><stop offset="0.348" stop-color="#ffec00"/><stop offset="0.422" stop-color="#f2ff00"/><stop offset="0.500" stop-color="#a8fc00"/><stop offset="0.582" stop-color="#3cf700"/><stop offset="0.593" stop-color="#00f50c"/><stop offset="0.615" stop-color="#00faec"/><stop offset="0.619" stop-color="#00effe"/><stop offset="0.626" stop-color="#00ddfc"/><stop offset="0.634" stop-color="#00faf1"/><stop offset="0.660" stop-color="#00f515"/><stop offset="0.664" stop-color="#04f501"/><stop offset="0.675" stop-color="#2af700"/><stop offset="0.760" stop-color="#59f800"/><stop offset="0.872" stop-color="#d6fd00"/><stop offset="0.998" stop-color="#f3ff00"/></linearGradient><linearGradient id="g22" x2="1"><stop offset="0.002" stop-color="#fffc00"/><stop offset="0.243" stop-color="#fee200"/><stop offset="0.362" stop-color="#ffed00"/><stop offset="0.426" stop-color="#f3ff00"/><stop offset="0.504" stop-color="#a9fc00"/><stop offset="0.582" stop-color="#47f800"/><stop offset="0.593" stop-color="#0bf500"/><stop offset="0.600" stop-color="#00f63e"/><stop offset="0.619" stop-color="#00faed"/><stop offset="0.623" stop-color="#00effe"/><stop offset="0.630" stop-color="#00ddfc"/><stop offset="0.638" stop-color="#00faf1"/><stop offset="0.664" stop-color="#00f515"/><stop offset="0.667" stop-color="#06f500"/><stop offset="0.678" stop-color="#30f700"/><stop offset="0.760" stop-color="#5df900"/><stop offset="0.868" stop-color="#d4fd00"/><stop offset="0.998" stop-color="#f2ff00"/></linearGradient><linearGradient id="g23" x2="1"><stop offset="0.002" stop-color="#fffb00"/><stop offset="0.329" stop-color="#fee100"/><stop offset="0.429" stop-color="#f4ff00"/><stop offset="0.507" stop-color="#abfc00"/><stop offset="0.586" stop-color="#4af800"/><stop offset="0.597" stop-color="#05f502"/><stop offset="0.619" stop-color="#00f9cf"/><stop offset="0.626" stop-color="#00effe"/><stop offset="0.634" stop-color="#00ddfc"/><stop offset="0.641" stop-color="#00faf1"/><stop offset="0.667" stop-color="#00f513"/><stop offset="0.671" stop-color="#09f500"/><stop offset="0.682" stop-color="#35f700"/><stop offset="0.760" stop-color="#60f900"/><stop offset="0.864" stop-color="#d3fd00"/><stop offset="0.998" stop-color="#f1fe00"/></linearGradient><linearGradient id="g24" x2="1"><stop offset="0.002" stop-color="#fff900"/><stop offset="0.333" stop-color="#fee000"/><stop offset="0.433" stop-color="#f5ff00"/><stop offset="0.507" stop-color="#b1fc00"/><stop offset="0.586" stop-color="#5af900"/><stop offset="0.597" stop-color="#1ff600"/><stop offset="0.600" stop-color="#02f506"/><stop offset="0.615" stop-color="#00f899"/><stop offset="0.626" stop-color="#00faef"/><stop offset="0.634" stop-color="#00defc"/><stop offset="0.641" stop-color="#00eefe"/><stop offset="0.649" stop-color="#00f9ce"/><stop offset="0.671" stop-color="#00f50e"/><stop offset="0.678" stop-color="#26f600"/><stop offset="0.693" stop-color="#41f800"/><stop offset="0.757" stop-color="#5ef900"/><stop offset="0.861" stop-color="#d3fd00"/><stop offset="0.998" stop-color="#f1fe00"/></linearGradient><linearGradient id="g25" x2="1"><stop offset="0.002" stop-color="#fff700"/><stop offset="0.336" stop-color="#fede00"/><stop offset="0.437" stop-color="#f5ff00"/><stop offset="0.511" stop-color="#b4fc00"/><stop offset="0.589" stop-color="#65f900"/><stop offset="0.597" stop-color="#42f800"/><stop offset="0.604" stop-color="#04f509"/><stop offset="0.615" stop-color="#00f880"/><stop offset="0.630" stop-color="#00faf1"/><stop offset="0.638" stop-color="#00defc"/><stop offset="0.645" stop-color="#00f3fe"/><stop offset="0.671" stop-color="#00f621"/><stop offset="0.675" stop-color="#02f501"/><stop offset="0.686" stop-color="#3cf700"/><stop offset="0.757" stop-color="#5df900"/><stop offset="0.853" stop-color="#d1fd00"/><stop offset="0.998" stop-color="#f0fe00"/></linearGradient><linearGradient id="g26" x2="1"><stop offset="0.002" stop-color="#fff400"/><stop offset="0.262" stop-color="#fee200"/><stop offset="0.370" stop-color="#fee400"/><stop offset="0.444" stop-color="#f3ff00"/><stop offset="0.515" stop-color="#b7fc00"/><stop offset="0.593" stop-color="#82fa00"/><stop offset="0.600" stop-color="#5ef900"/><stop offset="0.608" stop-color="#0df605"/><stop offset="0.619" stop-color="#00f777"/><stop offset="0.634" stop-color="#00faf1"/><stop offset="0.641" stop-color="#00e1fc"/><stop offset="0.649" stop-color="#00fafa"/><stop offset="0.675" stop-color="#00f502"/><stop offset="0.686" stop-color="#3df700"/><stop offset="0.757" stop-color="#59f900"/><stop offset="0.842" stop-color="#cbfd00"/><stop offset="0.998" stop-color="#effe00"/></linearGradient><linearGradient id="g27" x2="1"><stop offset="0.002" stop-color="#fff200"/><stop offset="0.251" stop-color="#fee100"/><stop offset="0.366" stop-color="#fedf00"/><stop offset="0.448" stop-color="#f4ff00"/><stop offset="0.571" stop-color="#9bfb00"/><stop offset="0.593" stop-color="#b5fc00"/><stop offset="0.600" stop-color="#99fb00"/><stop offset="0.615" stop-color="#12f60c"/><stop offset="0.619" stop-color="#00f627"/><stop offset="0.638" stop-color="#00faeb"/><stop offset="0.645" stop-color="#00f0fe"/><stop offset="0.649" stop-color="#00fafa"/><stop offset="0.671" stop-color="#00f518"/><stop offset="0.675" stop-color="#09f500"/><stop offset="0.686" stop-color="#3ef700"/><stop offset="0.757" stop-color="#53f800"/><stop offset="0.838" stop-color="#cbfd00"/><stop offset="0.998" stop-color="#eefe00"/></linearGradient><linearGradient id="g28" x2="1"><stop offset="0.002" stop-color="#fff000"/><stop offset="0.243" stop-color="#fedf00"/><stop offset="0.362" stop-color="#fed900"/><stop offset="0.455" stop-color="#f4ff00"/><stop offset="0.567" stop-color="#aafc00"/><stop offset="0.586" stop-color="#d5fd00"/><stop offset="0.597" stop-color="#defe00"/><stop offset="0.608" stop-color="#adfc00"/><stop offset="0.619" stop-color="#43f800"/><stop offset="0.623" stop-color="#19f603"/><stop offset="0.630" stop-color="#00f641"/><stop offset="0.641" stop-color="#00f8b1"/><stop offset="0.645" stop-color="#00f9c1"/><stop offset="0.649" stop-color="#00f9be"/><stop offset="0.660" stop-color="#00f764"/><stop offset="0.671" stop-color="#03f503"/><stop offset="0.682" stop-color="#39f700"/><stop offset="0.764" stop-color="#53f800"/><stop offset="0.835" stop-color="#cbfd00"/><stop offset="0.987" stop-color="#edfe00"/><stop offset="0.998" stop-color="#edfe00"/></linearGradient><linearGradient id="g29" x2="1"><stop offset="0.002" stop-color="#ffed00"/><stop offset="0.288" stop-color="#fed200"/><stop offset="0.366" stop-color="#fed500"/><stop offset="0.459" stop-color="#f7ff00"/><stop offset="0.563" stop-color="#b8fc00"/><stop offset="0.578" stop-color="#c9fd00"/><stop offset="0.589" stop-color="#f9ff00"/><stop offset="0.600" stop-color="#fed700"/><stop offset="0.604" stop-color="#feec00"/><stop offset="0.608" stop-color="#e6fe00"/><stop offset="0.612" stop-color="#bbfc00"/><stop offset="0.619" stop-color="#99fb00"/><stop offset="0.630" stop-color="#72f900"/><stop offset="0.638" stop-color="#3ef702"/><stop offset="0.649" stop-color="#16f724"/><stop offset="0.664" stop-color="#05f50e"/><stop offset="0.678" stop-color="#36f700"/><stop offset="0.768" stop-color="#4df800"/><stop offset="0.809" stop-color="#a0fb00"/><stop offset="0.842" stop-color="#d4fd00"/><stop offset="0.998" stop-color="#ecfe00"/></linearGradient><linearGradient id="g30" x2="1"><stop offset="0.002" stop-color="#ffeb00"/><stop offset="0.273" stop-color="#fecc00"/><stop offset="0.348" stop-color="#fec600"/><stop offset="0.467" stop-color="#f8ff00"/><stop offset="0.559" stop-color="#c6fd00"/><stop offset="0.574" stop-color="#cefd00"/><stop offset="0.586" stop-color="#fbfa00"/><stop offset="0.597" stop-color="#feb600"/><stop offset="0.600" stop-color="#fdab00"/><stop offset="0.604" stop-color="#feb700"/><stop offset="0.612" stop-color="#f6ec00"/><stop offset="0.615" stop-color="#edec00"/><stop offset="0.630" stop-color="#fed600"/><stop offset="0.645" stop-color="#e0ec00"/><stop offset="0.652" stop-color="#b3fc00"/><stop offset="0.664" stop-color="#4ef800"/><stop offset="0.675" stop-color="#35f700"/><stop offset="0.775" stop-color="#4bf800"/><stop offset="0.805" stop-color="#89fa00"/><stop offset="0.831" stop-color="#ccfd00"/><stop offset="0.898" stop-color="#e0fe00"/><stop offset="0.998" stop-color="#ecfe00"/></linearGradient><linearGradient id="g31" x2="1"><stop offset="0.002" stop-color="#ffe800"/><stop offset="0.255" stop-color="#fec800"/><stop offset="0.325" stop-color="#feb400"/><stop offset="0.470" stop-color="#fbff00"/><stop offset="0.559" stop-color="#d2fd00"/><stop offset="0.574" stop-color="#dafe00"/><stop offset="0.582" stop-color="#f9ff00"/><stop offset="0.597" stop-color="#febc00"/><stop offset="0.630" stop-color="#fd8200"/><stop offset="0.645" stop-color="#fd9000"/><stop offset="0.652" stop-color="#fec200"/><stop offset="0.656" stop-color="#fded00"/><stop offset="0.660" stop-color="#d7fd00"/><stop offset="0.667" stop-color="#68f900"/><stop offset="0.671" stop-color="#42f800"/><stop offset="0.678" stop-color="#2ef700"/><stop offset="0.708" stop-color="#3df700"/><stop offset="0.783" stop-color="#4af800"/><stop offset="0.805" stop-color="#7cfa00"/><stop offset="0.831" stop-color="#ccfd00"/><stop offset="0.890" stop-color="#e0fe00"/><stop offset="0.998" stop-color="#ebfe00"/></linearGradient><linearGradient id="g32" x2="1"><stop offset="0.002" stop-color="#ffe700"/><stop offset="0.229" stop-color="#fec900"/><stop offset="0.307" stop-color="#fda400"/><stop offset="0.388" stop-color="#fece00"/><stop offset="0.474" stop-color="#fdff00"/><stop offset="0.567" stop-color="#dcfe00"/><stop offset="0.589" stop-color="#fdf700"/><stop offset="0.604" stop-color="#febb00"/><stop offset="0.615" stop-color="#fda500"/><stop offset="0.623" stop-color="#fd8100"/><stop offset="0.638" stop-color="#fc7400"/><stop offset="0.649" stop-color="#fd8d00"/><stop offset="0.656" stop-color="#fed100"/><stop offset="0.660" stop-color="#f3ff00"/><stop offset="0.667" stop-color="#6ff900"/><stop offset="0.671" stop-color="#3ff700"/><stop offset="0.675" stop-color="#27f700"/><stop offset="0.704" stop-color="#3df700"/><stop offset="0.790" stop-color="#4af800"/><stop offset="0.809" stop-color="#7ffa00"/><stop offset="0.831" stop-color="#cdfd00"/><stop offset="0.879" stop-color="#e1fe00"/><stop offset="0.998" stop-color="#eafe00"/></linearGradient><linearGradient id="g33" x2="1"><stop offset="0.002" stop-color="#ffe600"/><stop offset="0.210" stop-color="#fecb00"/><stop offset="0.296" stop-color="#fd9300"/><stop offset="0.370" stop-color="#feb500"/><stop offset="0.463" stop-color="#fff900"/><stop offset="0.582" stop-color="#e6fe00"/><stop offset="0.597" stop-color="#fff900"/><stop offset="0.604" stop-color="#fedb00"/><stop offset="0.615" stop-color="#fedf00"/><stop offset="0.630" stop-color="#fc7e00"/><stop offset="0.641" stop-color="#fd8300"/><stop offset="0.649" stop-color="#fda800"/><stop offset="0.656" stop-color="#fef400"/><stop offset="0.664" stop-color="#9afb00"/><stop offset="0.671" stop-color="#38f700"/><stop offset="0.678" stop-color="#1df600"/><stop offset="0.697" stop-color="#3df700"/><stop offset="0.790" stop-color="#45f800"/><stop offset="0.809" stop-color="#76fa00"/><stop offset="0.831" stop-color="#ccfd00"/><stop offset="0.868" stop-color="#e1fe00"/><stop offset="0.998" stop-color="#eafe00"/></linearGradient><linearGradient id="g34" x2="1"><stop offset="0.002" stop-color="#ffe700"/><stop offset="0.199" stop-color="#fecb00"/><stop offset="0.288" stop-color="#fc7f00"/><stop offset="0.355" stop-color="#fd9d00"/><stop offset="0.455" stop-color="#fff300"/><stop offset="0.586" stop-color="#ebfe00"/><stop offset="0.600" stop-color="#fefc00"/><stop offset="0.615" stop-color="#fed400"/><stop offset="0.623" stop-color="#fed000"/><stop offset="0.626" stop-color="#fec400"/><stop offset="0.630" stop-color="#fd9300"/><stop offset="0.634" stop-color="#fc7d00"/><stop offset="0.645" stop-color="#fd9500"/><stop offset="0.652" stop-color="#ffeb00"/><stop offset="0.656" stop-color="#e1fe00"/><stop offset="0.671" stop-color="#36f700"/><stop offset="0.678" stop-color="#1af600"/><stop offset="0.701" stop-color="#3df700"/><stop offset="0.794" stop-color="#46f800"/><stop offset="0.812" stop-color="#81fa00"/><stop offset="0.831" stop-color="#cbfd00"/><stop offset="0.861" stop-color="#e1fe00"/><stop offset="0.998" stop-color="#eafe00"/></linearGradient><linearGradient id="g35" x2="1"><stop offset="0.002" stop-color="#ffeb00"/><stop offset="0.184" stop-color="#fed000"/><stop offset="0.284" stop-color="#fc6200"/><stop offset="0.333" stop-color="#fc7900"/><stop offset="0.448" stop-color="#ffed00"/><stop offset="0.541" stop-color="#f7ff00"/><stop offset="0.600" stop-color="#f5ff00"/><stop offset="0.608" stop-color="#fff100"/><stop offset="0.619" stop-color="#fec700"/><stop offset="0.626" stop-color="#ffe700"/><stop offset="0.630" stop-color="#ffe900"/><stop offset="0.638" stop-color="#fd8b00"/><stop offset="0.641" stop-color="#fd8200"/><stop offset="0.645" stop-color="#fd8c00"/><stop offset="0.649" stop-color="#feb500"/><stop offset="0.652" stop-color="#fff400"/><stop offset="0.667" stop-color="#5df900"/><stop offset="0.675" stop-color="#25f600"/><stop offset="0.682" stop-color="#1cf600"/><stop offset="0.701" stop-color="#3df700"/><stop offset="0.794" stop-color="#44f800"/><stop offset="0.812" stop-color="#7bfa00"/><stop offset="0.835" stop-color="#d3fd00"/><stop offset="0.887" stop-color="#e4fe00"/><stop offset="0.998" stop-color="#eafe00"/></linearGradient><linearGradient id="g36" x2="1"><stop offset="0.002" stop-color="#fff200"/><stop offset="0.177" stop-color="#fed200"/><stop offset="0.243" stop-color="#fc6f00"/><stop offset="0.284" stop-color="#fb3f00"/><stop offset="0.325" stop-color="#fc5300"/><stop offset="0.429" stop-color="#fede00"/><stop offset="0.522" stop-color="#fcff00"/><stop offset="0.604" stop-color="#f1fe00"/><stop offset="0.612" stop-color="#fff800"/><stop offset="0.623" stop-color="#fed400"/><stop offset="0.634" stop-color="#fee200"/><stop offset="0.641" stop-color="#fda100"/><stop offset="0.645" stop-color="#fd9500"/><stop offset="0.649" stop-color="#fdaa00"/><stop offset="0.652" stop-color="#fedf00"/><stop offset="0.656" stop-color="#e7fe00"/><stop offset="0.671" stop-color="#47f800"/><stop offset="0.678" stop-color="#1ef600"/><stop offset="0.690" stop-color="#2bf700"/><stop offset="0.708" stop-color="#3df700"/><stop offset="0.797" stop-color="#48f800"/><stop offset="0.816" stop-color="#87fa00"/><stop offset="0.835" stop-color="#d1fd00"/><stop offset="0.872" stop-color="#e4fe00"/><stop offset="0.998" stop-color="#ebfe00"/></linearGradient><linearGradient id="g37" x2="1"><stop offset="0.002" stop-color="#fffc00"/><stop offset="0.162" stop-color="#fedd00"/><stop offset="0.225" stop-color="#fc7d00"/><stop offset="0.262" stop-color="#fb2f00"/><stop offset="0.303" stop-color="#fb2000"/><stop offset="0.336" stop-color="#fb4700"/><stop offset="0.385" stop-color="#fd9e00"/><stop offset="0.448" stop-color="#ffe900"/><stop offset="0.548" stop-color="#fdff00"/><stop offset="0.612" stop-color="#f3ff00"/><stop offset="0.619" stop-color="#fff300"/><stop offset="0.630" stop-color="#fec400"/><stop offset="0.641" stop-color="#fed900"/><stop offset="0.649" stop-color="#fdb200"/><stop offset="0.652" stop-color="#fec700"/><stop offset="0.656" stop-color="#fff100"/><stop offset="0.660" stop-color="#e2fe00"/><stop offset="0.671" stop-color="#57f800"/><stop offset="0.678" stop-color="#25f600"/><stop offset="0.686" stop-color="#1df600"/><stop offset="0.704" stop-color="#3df700"/><stop offset="0.797" stop-color="#46f800"/><stop offset="0.816" stop-color="#81fa00"/><stop offset="0.835" stop-color="#d0fd00"/><stop offset="0.864" stop-color="#e5fe00"/><stop offset="0.998" stop-color="#ecfe00"/></linearGradient><linearGradient id="g38" x2="1"><stop offset="0.002" stop-color="#f6ff00"/><stop offset="0.143" stop-color="#ffee00"/><stop offset="0.203" stop-color="#fd9b00"/><stop offset="0.255" stop-color="#fb1d00"/><stop offset="0.307" stop-color="#fa0d00"/><stop offset="0.336" stop-color="#fb2a00"/><stop offset="0.381" stop-color="#fd9100"/><stop offset="0.448" stop-color="#ffe800"/><stop offset="0.545" stop-color="#feff00"/><stop offset="0.615" stop-color="#f0fe00"/><stop offset="0.623" stop-color="#fff800"/><stop offset="0.634" stop-color="#fed200"/><stop offset="0.641" stop-color="#fd9500"/><stop offset="0.645" stop-color="#fd8a00"/><stop offset="0.649" stop-color="#fd9400"/><stop offset="0.656" stop-color="#ffee00"/><stop offset="0.660" stop-color="#f3ff00"/><stop offset="0.678" stop-color="#38f700"/><stop offset="0.686" stop-color="#1ef600"/><stop offset="0.708" stop-color="#3df700"/><stop offset="0.797" stop-color="#44f800"/><stop offset="0.816" stop-color="#7cfa00"/><stop offset="0.835" stop-color="#cefd00"/><stop offset="0.861" stop-color="#e5fe00"/><stop offset="0.998" stop-color="#ecfe00"/></linearGradient><linearGradient id="g39" x2="1"><stop offset="0.002" stop-color="#e8fe00"/><stop offset="0.143" stop-color="#fff600"/><stop offset="0.203" stop-color="#fd9200"/><stop offset="0.243" stop-color="#fb1a00"/><stop offset="0.288" stop-color="#fa0300"/><stop offset="0.336" stop-color="#fa1400"/><stop offset="0.385" stop-color="#fd8e00"/><stop offset="0.448" stop-color="#ffe700"/><stop offset="0.537" stop-color="#ffff00"/><stop offset="0.619" stop-color="#eefe00"/><stop offset="0.630" stop-color="#fff000"/><stop offset="0.634" stop-color="#fed400"/><stop offset="0.638" stop-color="#fd9100"/><stop offset="0.641" stop-color="#fc7a00"/><stop offset="0.645" stop-color="#fc7a00"/><stop offset="0.649" stop-color="#fd9e00"/><stop offset="0.652" stop-color="#ffe900"/><stop offset="0.664" stop-color="#f2ff00"/><stop offset="0.671" stop-color="#b6fc00"/><stop offset="0.682" stop-color="#37f700"/><stop offset="0.690" stop-color="#20f600"/><stop offset="0.708" stop-color="#3df700"/><stop offset="0.801" stop-color="#48f800"/><stop offset="0.820" stop-color="#8cfa00"/><stop offset="0.838" stop-color="#d6fd00"/><stop offset="0.883" stop-color="#e8fe00"/><stop offset="0.998" stop-color="#edfe00"/></linearGradient><linearGradient id="g40" x2="1"><stop offset="0.002" stop-color="#d6fd00"/><stop offset="0.136" stop-color="#f4ff00"/><stop offset="0.173" stop-color="#fedd00"/><stop offset="0.199" stop-color="#fd9a00"/><stop offset="0.236" stop-color="#fa1900"/><stop offset="0.273" stop-color="#fa0100"/><stop offset="0.340" stop-color="#fa0b00"/><stop offset="0.362" stop-color="#fb4200"/><stop offset="0.388" stop-color="#fd8c00"/><stop offset="0.448" stop-color="#ffe700"/><stop offset="0.530" stop-color="#ffff00"/><stop offset="0.608" stop-color="#effe00"/><stop offset="0.623" stop-color="#f0fe00"/><stop offset="0.626" stop-color="#fdff00"/><stop offset="0.634" stop-color="#fece00"/><stop offset="0.641" stop-color="#fd8000"/><stop offset="0.645" stop-color="#fd8400"/><stop offset="0.649" stop-color="#fec800"/><stop offset="0.664" stop-color="#fed600"/><stop offset="0.667" stop-color="#fcfa00"/><stop offset="0.682" stop-color="#4ef800"/><stop offset="0.690" stop-color="#23f600"/><stop offset="0.716" stop-color="#3df700"/><stop offset="0.801" stop-color="#48f800"/><stop offset="0.820" stop-color="#8cfa00"/><stop offset="0.838" stop-color="#d7fd00"/><stop offset="0.879" stop-color="#e9fe00"/><stop offset="0.998" stop-color="#eefe00"/></linearGradient><linearGradient id="g41" x2="1"><stop offset="0.002" stop-color="#c1fd00"/><stop offset="0.143" stop-color="#e5fe00"/><stop offset="0.188" stop-color="#fdee00"/><stop offset="0.221" stop-color="#fb4000"/><stop offset="0.240" stop-color="#fa1000"/><stop offset="0.329" stop-color="#fa0100"/><stop offset="0.355" stop-color="#fa1800"/><stop offset="0.392" stop-color="#fd8b00"/><stop offset="0.448" stop-color="#ffe600"/><stop offset="0.526" stop-color="#ffff00"/><stop offset="0.608" stop-color="#f1fe00"/><stop offset="0.623" stop-color="#ecfe00"/><stop offset="0.630" stop-color="#fef900"/><stop offset="0.641" stop-color="#fec200"/><stop offset="0.649" stop-color="#fec600"/><stop offset="0.660" stop-color="#fd9c00"/><stop offset="0.664" stop-color="#fda300"/><stop offset="0.667" stop-color="#fed400"/><stop offset="0.671" stop-color="#edfe00"/><stop offset="0.686" stop-color="#43f800"/><stop offset="0.693" stop-color="#22f600"/><stop offset="0.723" stop-color="#3df700"/><stop offset="0.797" stop-color="#44f800"/><stop offset="0.812" stop-color="#6cf900"/><stop offset="0.835" stop-color="#d0fd00"/><stop offset="0.861" stop-color="#e9fe00"/><stop offset="0.998" stop-color="#effe00"/></linearGradient><linearGradient id="g42" x2="1"><stop offset="0.002" stop-color="#a7fc00"/><stop offset="0.165" stop-color="#c5fd00"/><stop offset="0.188" stop-color="#b8fc00"/><stop offset="0.195" stop-color="#e7fe00"/><stop offset="0.199" stop-color="#ffea00"/><stop offset="0.206" stop-color="#fd9b00"/><stop offset="0.225" stop-color="#fb3f00"/><stop offset="0.255" stop-color="#fa1300"/><stop offset="0.281" stop-color="#fa0800"/><stop offset="0.351" stop-color="#fa0800"/><stop offset="0.370" stop-color="#fb3500"/><stop offset="0.396" stop-color="#fd8b00"/><stop offset="0.448" stop-color="#ffe600"/><stop offset="0.522" stop-color="#ffff00"/><stop offset="0.608" stop-color="#f3ff00"/><stop offset="0.630" stop-color="#ecfe00"/><stop offset="0.645" stop-color="#fee500"/><stop offset="0.652" stop-color="#fda300"/><stop offset="0.664" stop-color="#fd9000"/><stop offset="0.667" stop-color="#fda800"/><stop offset="0.671" stop-color="#ffeb00"/><stop offset="0.675" stop-color="#dafe00"/><stop offset="0.690" stop-color="#39f700"/><stop offset="0.697" stop-color="#1af600"/><stop offset="0.734" stop-color="#3df700"/><stop offset="0.797" stop-color="#46f800"/><stop offset="0.816" stop-color="#84fa00"/><stop offset="0.835" stop-color="#d4fd00"/><stop offset="0.861" stop-color="#eafe00"/><stop offset="0.998" stop-color="#effe00"/></linearGradient><linearGradient id="g43" x2="1"><stop offset="0.002" stop-color="#81fa00"/><stop offset="0.084" stop-color="#aafc00"/><stop offset="0.154" stop-color="#94fb00"/><stop offset="0.188" stop-color="#79fa00"/><stop offset="0.191" stop-color="#89fa00"/><stop offset="0.199" stop-color="#defe00"/><stop offset="0.203" stop-color="#fff000"/><stop offset="0.210" stop-color="#feb400"/><stop offset="0.229" stop-color="#fc7d00"/><stop offset="0.262" stop-color="#fc5a00"/><stop offset="0.266" stop-color="#fc7600"/><stop offset="0.270" stop-color="#e0c000"/><stop offset="0.273" stop-color="#c9d400"/><stop offset="0.281" stop-color="#dfac00"/><stop offset="0.284" stop-color="#f99e00"/><stop offset="0.296" stop-color="#fb3100"/><stop offset="0.307" stop-color="#fa0600"/><stop offset="0.359" stop-color="#fa0a00"/><stop offset="0.381" stop-color="#fc5100"/><stop offset="0.407" stop-color="#fd9d00"/><stop offset="0.452" stop-color="#ffe900"/><stop offset="0.530" stop-color="#ffff00"/><stop offset="0.612" stop-color="#f2fe00"/><stop offset="0.638" stop-color="#eafe00"/><stop offset="0.641" stop-color="#faff00"/><stop offset="0.649" stop-color="#fecd00"/><stop offset="0.652" stop-color="#fda600"/><stop offset="0.664" stop-color="#fd8400"/><stop offset="0.671" stop-color="#feb700"/><stop offset="0.675" stop-color="#fee100"/><stop offset="0.678" stop-color="#edf600"/><stop offset="0.682" stop-color="#c8fd00"/><stop offset="0.693" stop-color="#2af700"/><stop offset="0.701" stop-color="#05f501"/><stop offset="0.730" stop-color="#3cf700"/><stop offset="0.797" stop-color="#4af800"/><stop offset="0.816" stop-color="#8dfb00"/><stop offset="0.835" stop-color="#d9fd00"/><stop offset="0.868" stop-color="#ebfe00"/><stop offset="0.998" stop-color="#f0fe00"/></linearGradient><linearGradient id="g44" x2="1"><stop offset="0.002" stop-color="#5ff900"/><stop offset="0.099" stop-color="#87fa00"/><stop offset="0.162" stop-color="#6bf900"/><stop offset="0.199" stop-color="#7cfa00"/><stop offset="0.214" stop-color="#60f908"/><stop offset="0.240" stop-color="#4af935"/><stop offset="0.243" stop-color="#54f927"/><stop offset="0.247" stop-color="#6bf902"/><stop offset="0.251" stop-color="#9bfb00"/><stop offset="0.258" stop-color="#98fb00"/><stop offset="0.266" stop-color="#88fa00"/><stop offset="0.270" stop-color="#57f800"/><stop offset="0.273" stop-color="#46f800"/><stop offset="0.284" stop-color="#65f900"/><stop offset="0.296" stop-color="#9ffb00"/><stop offset="0.299" stop-color="#c5f300"/><stop offset="0.307" stop-color="#fc7d00"/><stop offset="0.310" stop-color="#fb3100"/><stop offset="0.314" stop-color="#fa1100"/><stop offset="0.340" stop-color="#fa0000"/><stop offset="0.366" stop-color="#fa1000"/><stop offset="0.403" stop-color="#fd9000"/><stop offset="0.448" stop-color="#ffe600"/><stop offset="0.515" stop-color="#ffff00"/><stop offset="0.612" stop-color="#f4ff00"/><stop offset="0.638" stop-color="#eafe00"/><stop offset="0.641" stop-color="#f8ff00"/><stop offset="0.660" stop-color="#fc7a00"/><stop offset="0.667" stop-color="#fd8100"/><stop offset="0.671" stop-color="#fd9f00"/><stop offset="0.678" stop-color="#fda600"/><stop offset="0.682" stop-color="#febf00"/><stop offset="0.686" stop-color="#ecf300"/><stop offset="0.693" stop-color="#42f800"/><stop offset="0.697" stop-color="#0cf500"/><stop offset="0.704" stop-color="#00f50f"/><stop offset="0.716" stop-color="#12f600"/><stop offset="0.730" stop-color="#3af700"/><stop offset="0.794" stop-color="#47f800"/><stop offset="0.812" stop-color="#85fa00"/><stop offset="0.831" stop-color="#d4fd00"/><stop offset="0.857" stop-color="#ecfe00"/><stop offset="0.998" stop-color="#f1fe00"/></linearGradient><linearGradient id="g45" x2="1"><stop offset="0.002" stop-color="#5df900"/><stop offset="0.139" stop-color="#65f900"/><stop offset="0.162" stop-color="#6ff900"/><stop offset="0.173" stop-color="#49f800"/><stop offset="0.191" stop-color="#00f633"/><stop offset="0.203" stop-color="#00f88d"/><stop offset="0.221" stop-color="#00f9c7"/><stop offset="0.240" stop-color="#00f9d5"/><stop offset="0.243" stop-color="#00f9cc"/><stop offset="0.251" stop-color="#00f894"/><stop offset="0.255" stop-color="#00f899"/><stop offset="0.262" stop-color="#00f9c6"/><stop offset="0.270" stop-color="#00f6be"/><stop offset="0.277" stop-color="#00f885"/><stop offset="0.281" stop-color="#00f75c"/><stop offset="0.296" stop-color="#2ff700"/><stop offset="0.303" stop-color="#4bf800"/><stop offset="0.307" stop-color="#71f900"/><stop offset="0.310" stop-color="#b5fc00"/><stop offset="0.318" stop-color="#fc7e00"/><stop offset="0.322" stop-color="#fb3000"/><stop offset="0.325" stop-color="#fa0e00"/><stop offset="0.359" stop-color="#fa0300"/><stop offset="0.377" stop-color="#fb2600"/><stop offset="0.407" stop-color="#fd9400"/><stop offset="0.448" stop-color="#ffe700"/><stop offset="0.515" stop-color="#ffff00"/><stop offset="0.615" stop-color="#f3ff00"/><stop offset="0.638" stop-color="#e9fe00"/><stop offset="0.645" stop-color="#fffa00"/><stop offset="0.660" stop-color="#fd9700"/><stop offset="0.664" stop-color="#fd8d00"/><stop offset="0.678" stop-color="#fda300"/><stop offset="0.686" stop-color="#fdb000"/><stop offset="0.690" stop-color="#e3fe00"/><stop offset="0.693" stop-color="#72f900"/><stop offset="0.697" stop-color="#23f600"/><stop offset="0.701" stop-color="#01f506"/><stop offset="0.708" stop-color="#00f50b"/><stop offset="0.716" stop-color="#10f600"/><stop offset="0.730" stop-color="#3af700"/><stop offset="0.794" stop-color="#4bf800"/><stop offset="0.812" stop-color="#90fb00"/><stop offset="0.831" stop-color="#dafe00"/><stop offset="0.864" stop-color="#eefe00"/><stop offset="0.998" stop-color="#f1fe00"/></linearGradient><linearGradient id="g46" x2="1"><stop offset="0.002" stop-color="#00f75d"/><stop offset="0.032" stop-color="#2cf703"/><stop offset="0.046" stop-color="#57f800"/><stop offset="0.125" stop-color="#56f800"/><stop offset="0.143" stop-color="#2bf70a"/><stop offset="0.165" stop-color="#00f74d"/><stop offset="0.177" stop-color="#00f75a"/><stop offset="0.191" stop-color="#00f648"/><stop offset="0.195" stop-color="#00f75d"/><stop offset="0.206" stop-color="#00f9cf"/><stop offset="0.221" stop-color="#00faf1"/><stop offset="0.255" stop-color="#00f6fd"/><stop offset="0.270" stop-color="#00b0f8"/><stop offset="0.284" stop-color="#00c4fa"/><stop offset="0.292" stop-color="#00daec"/><stop offset="0.299" stop-color="#00f8b4"/><stop offset="0.307" stop-color="#0bf623"/><stop offset="0.310" stop-color="#2af700"/><stop offset="0.318" stop-color="#7ffa00"/><stop offset="0.322" stop-color="#c9fc00"/><stop offset="0.325" stop-color="#fdaa00"/><stop offset="0.329" stop-color="#fb2d00"/><stop offset="0.333" stop-color="#fa0900"/><stop offset="0.366" stop-color="#fa0600"/><stop offset="0.385" stop-color="#fb3900"/><stop offset="0.411" stop-color="#fd9900"/><stop offset="0.452" stop-color="#ffed00"/><stop offset="0.537" stop-color="#ffff00"/><stop offset="0.619" stop-color="#f2ff00"/><stop offset="0.641" stop-color="#eafe00"/><stop offset="0.649" stop-color="#fdfc00"/><stop offset="0.664" stop-color="#fdb100"/><stop offset="0.682" stop-color="#fdb200"/><stop offset="0.686" stop-color="#fec400"/><stop offset="0.690" stop-color="#fffd00"/><stop offset="0.697" stop-color="#69f900"/><stop offset="0.701" stop-color="#31f700"/><stop offset="0.704" stop-color="#12f600"/><stop offset="0.712" stop-color="#0ef600"/><stop offset="0.727" stop-color="#39f700"/><stop offset="0.790" stop-color="#48f800"/><stop offset="0.809" stop-color="#88fa00"/><stop offset="0.827" stop-color="#d6fd00"/><stop offset="0.857" stop-color="#effe00"/><stop offset="0.998" stop-color="#f2fe00"/></linearGradient><linearGradient id="g47" x2="1"><stop offset="0.002" stop-color="#00f9cf"/><stop offset="0.028" stop-color="#00f9bf"/><stop offset="0.035" stop-color="#00f89d"/><stop offset="0.043" stop-color="#00f74f"/><stop offset="0.046" stop-color="#00f636"/><stop offset="0.072" stop-color="#1df71a"/><stop offset="0.095" stop-color="#1ff715"/><stop offset="0.121" stop-color="#00f63b"/><stop offset="0.136" stop-color="#00f76e"/><stop offset="0.154" stop-color="#00f764"/><stop offset="0.165" stop-color="#03f62c"/><stop offset="0.180" stop-color="#31f700"/><stop offset="0.188" stop-color="#40f800"/><stop offset="0.195" stop-color="#03f50b"/><stop offset="0.203" stop-color="#00f885"/><stop offset="0.210" stop-color="#00f9c9"/><stop offset="0.229" stop-color="#00faf7"/><stop offset="0.255" stop-color="#00f5fe"/><stop offset="0.273" stop-color="#009ef6"/><stop offset="0.296" stop-color="#009ef6"/><stop offset="0.303" stop-color="#00c0f9"/><stop offset="0.307" stop-color="#00e2e8"/><stop offset="0.310" stop-color="#00f89f"/><stop offset="0.314" stop-color="#0df631"/><stop offset="0.318" stop-color="#2ff700"/><stop offset="0.322" stop-color="#52f800"/><stop offset="0.325" stop-color="#8bfa00"/><stop offset="0.329" stop-color="#ead400"/><stop offset="0.333" stop-color="#fb4900"/><stop offset="0.336" stop-color="#fa1000"/><stop offset="0.362" stop-color="#fa0200"/><stop offset="0.381" stop-color="#fb2000"/><stop offset="0.411" stop-color="#fd9600"/><stop offset="0.448" stop-color="#ffeb00"/><stop offset="0.515" stop-color="#ffff00"/><stop offset="0.623" stop-color="#f2fe00"/><stop offset="0.645" stop-color="#ebfe00"/><stop offset="0.652" stop-color="#fffc00"/><stop offset="0.664" stop-color="#fed400"/><stop offset="0.678" stop-color="#fff600"/><stop offset="0.690" stop-color="#fcff00"/><stop offset="0.693" stop-color="#e1fe00"/><stop offset="0.704" stop-color="#44f800"/><stop offset="0.708" stop-color="#24f600"/><stop offset="0.716" stop-color="#24f600"/><stop offset="0.734" stop-color="#3df700"/><stop offset="0.786" stop-color="#47f800"/><stop offset="0.805" stop-color="#81fa00"/><stop offset="0.827" stop-color="#dbfe00"/><stop offset="0.864" stop-color="#f1fe00"/><stop offset="0.998" stop-color="#f3ff00"/></linearGradient><linearGradient id="g48" x2="1"><stop offset="0.002" stop-color="#0cf73a"/><stop offset="0.013" stop-color="#00f75a"/><stop offset="0.032" stop-color="#00f8a3"/><stop offset="0.039" stop-color="#00f77f"/><stop offset="0.046" stop-color="#00f767"/><stop offset="0.099" stop-color="#00f775"/><stop offset="0.121" stop-color="#00f75e"/><stop offset="0.136" stop-color="#0ff62a"/><stop offset="0.151" stop-color="#36f700"/><stop offset="0.162" stop-color="#5ef900"/><stop offset="0.177" stop-color="#63f900"/><stop offset="0.191" stop-color="#3af700"/><stop offset="0.199" stop-color="#08f508"/><stop offset="0.221" stop-color="#00f89e"/><stop offset="0.240" stop-color="#00fae8"/><stop offset="0.258" stop-color="#00f5ff"/><stop offset="0.277" stop-color="#009ef6"/><stop offset="0.303" stop-color="#0099f5"/><stop offset="0.310" stop-color="#00b9f8"/><stop offset="0.314" stop-color="#00e6ec"/><stop offset="0.318" stop-color="#00f884"/><stop offset="0.322" stop-color="#0ef60f"/><stop offset="0.329" stop-color="#78fa00"/><stop offset="0.333" stop-color="#daee00"/><stop offset="0.336" stop-color="#fc6900"/><stop offset="0.340" stop-color="#fa1800"/><stop offset="0.348" stop-color="#fa0400"/><stop offset="0.377" stop-color="#fa1000"/><stop offset="0.414" stop-color="#fd9e00"/><stop offset="0.452" stop-color="#fff200"/><stop offset="0.571" stop-color="#ffff00"/><stop offset="0.649" stop-color="#f0fe00"/><stop offset="0.660" stop-color="#fff400"/><stop offset="0.664" stop-color="#fed800"/><stop offset="0.667" stop-color="#fda500"/><stop offset="0.671" stop-color="#fd8800"/><stop offset="0.678" stop-color="#fecf00"/><stop offset="0.690" stop-color="#fef700"/><stop offset="0.693" stop-color="#ebfe00"/><stop offset="0.708" stop-color="#38f700"/><stop offset="0.716" stop-color="#25f600"/><stop offset="0.738" stop-color="#3df700"/><stop offset="0.786" stop-color="#4bf800"/><stop offset="0.805" stop-color="#8cfb00"/><stop offset="0.823" stop-color="#d7fd00"/><stop offset="0.853" stop-color="#f1fe00"/><stop offset="0.998" stop-color="#f3ff00"/></linearGradient><linearGradient id="g49" x2="1"><stop offset="0.002" stop-color="#60f900"/><stop offset="0.024" stop-color="#43f800"/><stop offset="0.035" stop-color="#34f700"/><stop offset="0.046" stop-color="#44f800"/><stop offset="0.065" stop-color="#24f605"/><stop offset="0.091" stop-color="#1bf718"/><stop offset="0.113" stop-color="#3cf700"/><stop offset="0.147" stop-color="#6af900"/><stop offset="0.177" stop-color="#50f800"/><stop offset="0.210" stop-color="#09f504"/><stop offset="0.225" stop-color="#00f639"/><stop offset="0.255" stop-color="#00faf3"/><stop offset="0.266" stop-color="#00ecfe"/><stop offset="0.281" stop-color="#009ef6"/><stop offset="0.310" stop-color="#009af5"/><stop offset="0.314" stop-color="#00a9f7"/><stop offset="0.318" stop-color="#00defc"/><stop offset="0.322" stop-color="#00f89e"/><stop offset="0.325" stop-color="#0ef60d"/><stop offset="0.329" stop-color="#4af800"/><stop offset="0.333" stop-color="#73fa00"/><stop offset="0.336" stop-color="#cdfd00"/><stop offset="0.340" stop-color="#fc7a00"/><stop offset="0.344" stop-color="#fb1b00"/><stop offset="0.351" stop-color="#fa0400"/><stop offset="0.377" stop-color="#fa0d00"/><stop offset="0.400" stop-color="#fc6700"/><stop offset="0.437" stop-color="#feda00"/><stop offset="0.467" stop-color="#fffe00"/><stop offset="0.626" stop-color="#f4ff00"/><stop offset="0.652" stop-color="#f2ff00"/><stop offset="0.660" stop-color="#fefe00"/><stop offset="0.664" stop-color="#fede00"/><stop offset="0.671" stop-color="#fb4100"/><stop offset="0.675" stop-color="#fb3300"/><stop offset="0.682" stop-color="#fc4d00"/><stop offset="0.693" stop-color="#fee300"/><stop offset="0.697" stop-color="#e8fe00"/><stop offset="0.708" stop-color="#5ef900"/><stop offset="0.716" stop-color="#2ef700"/><stop offset="0.783" stop-color="#4bf800"/><stop offset="0.801" stop-color="#89fa00"/><stop offset="0.823" stop-color="#ddfe00"/><stop offset="0.861" stop-color="#f3ff00"/><stop offset="0.998" stop-color="#f4ff00"/></linearGradient><linearGradient id="g50" x2="1"><stop offset="0.002" stop-color="#5ff900"/><stop offset="0.162" stop-color="#57f800"/><stop offset="0.229" stop-color="#0af501"/><stop offset="0.240" stop-color="#00f622"/><stop offset="0.247" stop-color="#00f773"/><stop offset="0.255" stop-color="#00f9d1"/><stop offset="0.262" stop-color="#00fafa"/><stop offset="0.273" stop-color="#00dbfc"/><stop offset="0.284" stop-color="#009ff6"/><stop offset="0.314" stop-color="#009af5"/><stop offset="0.318" stop-color="#00a9f7"/><stop offset="0.322" stop-color="#00e0fc"/><stop offset="0.325" stop-color="#00f894"/><stop offset="0.329" stop-color="#17f605"/><stop offset="0.336" stop-color="#78fa00"/><stop offset="0.340" stop-color="#e2f900"/><stop offset="0.344" stop-color="#fc5100"/><stop offset="0.348" stop-color="#fa1000"/><stop offset="0.370" stop-color="#fa0300"/><stop offset="0.385" stop-color="#fb1f00"/><stop offset="0.414" stop-color="#fd9c00"/><stop offset="0.452" stop-color="#fff800"/><stop offset="0.630" stop-color="#f4ff00"/><stop offset="0.656" stop-color="#f3ff00"/><stop offset="0.664" stop-color="#fffb00"/><stop offset="0.667" stop-color="#fee200"/><stop offset="0.671" stop-color="#fdaa00"/><stop offset="0.675" stop-color="#fc5500"/><stop offset="0.678" stop-color="#fb3300"/><stop offset="0.690" stop-color="#fb4900"/><stop offset="0.693" stop-color="#fc6800"/><stop offset="0.701" stop-color="#fed100"/><stop offset="0.704" stop-color="#ebf100"/><stop offset="0.712" stop-color="#81fa00"/><stop offset="0.716" stop-color="#53f800"/><stop offset="0.723" stop-color="#2ef700"/><stop offset="0.779" stop-color="#4df800"/><stop offset="0.801" stop-color="#9afb00"/><stop offset="0.820" stop-color="#ddfe00"/><stop offset="0.853" stop-color="#f5ff00"/><stop offset="0.998" stop-color="#f4ff00"/></linearGradient><linearGradient id="g51" x2="1"><stop offset="0.002" stop-color="#5bf900"/><stop offset="0.162" stop-color="#50f800"/><stop offset="0.210" stop-color="#1af600"/><stop offset="0.240" stop-color="#13f600"/><stop offset="0.243" stop-color="#05f505"/><stop offset="0.247" stop-color="#00f625"/><stop offset="0.258" stop-color="#00f9c9"/><stop offset="0.266" stop-color="#00faf9"/><stop offset="0.277" stop-color="#00dcfc"/><stop offset="0.288" stop-color="#009ff6"/><stop offset="0.318" stop-color="#009bf5"/><stop offset="0.322" stop-color="#00aef7"/><stop offset="0.325" stop-color="#00ebf9"/><stop offset="0.329" stop-color="#00f773"/><stop offset="0.333" stop-color="#22f600"/><stop offset="0.340" stop-color="#91fb00"/><stop offset="0.344" stop-color="#fecf00"/><stop offset="0.348" stop-color="#fb3300"/><stop offset="0.351" stop-color="#fa0b00"/><stop offset="0.374" stop-color="#fa0500"/><stop offset="0.388" stop-color="#fb2b00"/><stop offset="0.418" stop-color="#fda700"/><stop offset="0.452" stop-color="#fffc00"/><stop offset="0.634" stop-color="#f4ff00"/><stop offset="0.660" stop-color="#f4ff00"/><stop offset="0.667" stop-color="#fff800"/><stop offset="0.671" stop-color="#fedb00"/><stop offset="0.678" stop-color="#fc5700"/><stop offset="0.682" stop-color="#fc6200"/><stop offset="0.686" stop-color="#fd8b00"/><stop offset="0.697" stop-color="#fd8e00"/><stop offset="0.704" stop-color="#fda500"/><stop offset="0.708" stop-color="#fed100"/><stop offset="0.712" stop-color="#dffe00"/><stop offset="0.716" stop-color="#94fb00"/><stop offset="0.719" stop-color="#5bf900"/><stop offset="0.723" stop-color="#3bf700"/><stop offset="0.730" stop-color="#2ff700"/><stop offset="0.775" stop-color="#50f800"/><stop offset="0.801" stop-color="#aefc00"/><stop offset="0.823" stop-color="#ebfe00"/><stop offset="0.916" stop-color="#f6ff00"/><stop offset="0.998" stop-color="#f5ff00"/></linearGradient><linearGradient id="g52" x2="1"><stop offset="0.002" stop-color="#5af900"/><stop offset="0.162" stop-color="#4df800"/><stop offset="0.214" stop-color="#17f600"/><stop offset="0.243" stop-color="#17f600"/><stop offset="0.247" stop-color="#07f500"/><stop offset="0.251" stop-color="#00f61c"/><stop offset="0.262" stop-color="#00f9c3"/><stop offset="0.270" stop-color="#00faf7"/><stop offset="0.281" stop-color="#00dafc"/><stop offset="0.292" stop-color="#009df6"/><stop offset="0.322" stop-color="#009ef6"/><stop offset="0.325" stop-color="#00bdf9"/><stop offset="0.329" stop-color="#00f9d9"/><stop offset="0.333" stop-color="#00f622"/><stop offset="0.336" stop-color="#49f800"/><stop offset="0.340" stop-color="#6df900"/><stop offset="0.344" stop-color="#b6fc00"/><stop offset="0.348" stop-color="#fd8500"/><stop offset="0.351" stop-color="#fb1d00"/><stop offset="0.359" stop-color="#fa0400"/><stop offset="0.381" stop-color="#fa1100"/><stop offset="0.422" stop-color="#feb400"/><stop offset="0.452" stop-color="#fdff00"/><stop offset="0.493" stop-color="#fbff00"/><stop offset="0.638" stop-color="#f4ff00"/><stop offset="0.664" stop-color="#f2fe00"/><stop offset="0.671" stop-color="#fcfb00"/><stop offset="0.678" stop-color="#fec500"/><stop offset="0.686" stop-color="#fc7c00"/><stop offset="0.690" stop-color="#fc7e00"/><stop offset="0.697" stop-color="#fda300"/><stop offset="0.708" stop-color="#fda200"/><stop offset="0.712" stop-color="#fed900"/><stop offset="0.716" stop-color="#cffd00"/><stop offset="0.719" stop-color="#86fa00"/><stop offset="0.723" stop-color="#54f800"/><stop offset="0.730" stop-color="#2af700"/><stop offset="0.771" stop-color="#56f800"/><stop offset="0.812" stop-color="#e3fe00"/><stop offset="0.846" stop-color="#faff00"/><stop offset="0.998" stop-color="#f5ff00"/></linearGradient><linearGradient id="g53" x2="1"><stop offset="0.002" stop-color="#5bf900"/><stop offset="0.162" stop-color="#4df800"/><stop offset="0.217" stop-color="#16f600"/><stop offset="0.247" stop-color="#18f600"/><stop offset="0.251" stop-color="#0af500"/><stop offset="0.255" stop-color="#00f516"/><stop offset="0.266" stop-color="#00f9bb"/><stop offset="0.273" stop-color="#00faf6"/><stop offset="0.281" stop-color="#00eafd"/><stop offset="0.292" stop-color="#00a5f7"/><stop offset="0.310" stop-color="#0096f5"/><stop offset="0.322" stop-color="#009af5"/><stop offset="0.325" stop-color="#00aaf7"/><stop offset="0.329" stop-color="#00eafd"/><stop offset="0.333" stop-color="#00f774"/><stop offset="0.336" stop-color="#42f800"/><stop offset="0.344" stop-color="#85fa00"/><stop offset="0.348" stop-color="#eff500"/><stop offset="0.351" stop-color="#fb4200"/><stop offset="0.355" stop-color="#fa0c00"/><stop offset="0.377" stop-color="#fa0a00"/><stop offset="0.396" stop-color="#fc4d00"/><stop offset="0.426" stop-color="#fec200"/><stop offset="0.448" stop-color="#feff00"/><stop offset="0.478" stop-color="#f1fe00"/><stop offset="0.597" stop-color="#ffff00"/><stop offset="0.667" stop-color="#f0fe00"/><stop offset="0.678" stop-color="#fff800"/><stop offset="0.682" stop-color="#fdaf00"/><stop offset="0.686" stop-color="#fb3400"/><stop offset="0.693" stop-color="#fb3300"/><stop offset="0.701" stop-color="#fc7900"/><stop offset="0.708" stop-color="#fd8f00"/><stop offset="0.716" stop-color="#eefe00"/><stop offset="0.719" stop-color="#a4fb00"/><stop offset="0.727" stop-color="#49f800"/><stop offset="0.734" stop-color="#26f600"/><stop offset="0.749" stop-color="#37f700"/><stop offset="0.775" stop-color="#76fa00"/><stop offset="0.805" stop-color="#e2fe00"/><stop offset="0.838" stop-color="#feff00"/><stop offset="0.998" stop-color="#f5ff00"/></linearGradient><linearGradient id="g54" x2="1"><stop offset="0.002" stop-color="#5df900"/><stop offset="0.162" stop-color="#4ff800"/><stop offset="0.221" stop-color="#16f600"/><stop offset="0.251" stop-color="#19f600"/><stop offset="0.258" stop-color="#00f50f"/><stop offset="0.270" stop-color="#00f9b3"/><stop offset="0.277" stop-color="#00faf4"/><stop offset="0.284" stop-color="#00e4fd"/><stop offset="0.296" stop-color="#00a1f6"/><stop offset="0.322" stop-color="#0098f5"/><stop offset="0.325" stop-color="#00a2f6"/><stop offset="0.329" stop-color="#00c9fa"/><stop offset="0.333" stop-color="#00f9bd"/><stop offset="0.336" stop-color="#0af60a"/><stop offset="0.340" stop-color="#5af900"/><stop offset="0.344" stop-color="#71f900"/><stop offset="0.348" stop-color="#b8fc00"/><stop offset="0.351" stop-color="#fc6c00"/><stop offset="0.355" stop-color="#fa1600"/><stop offset="0.366" stop-color="#fa0300"/><stop offset="0.385" stop-color="#fb1e00"/><stop offset="0.418" stop-color="#fdac00"/><stop offset="0.444" stop-color="#fffe00"/><stop offset="0.470" stop-color="#e8fe00"/><stop offset="0.552" stop-color="#ffff00"/><stop offset="0.649" stop-color="#f2fe00"/><stop offset="0.671" stop-color="#f0fe00"/><stop offset="0.678" stop-color="#fefe00"/><stop offset="0.682" stop-color="#ffef00"/><stop offset="0.690" stop-color="#fc7300"/><stop offset="0.697" stop-color="#fb3e00"/><stop offset="0.704" stop-color="#fb3400"/><stop offset="0.708" stop-color="#fb4500"/><stop offset="0.712" stop-color="#fd8600"/><stop offset="0.716" stop-color="#fef300"/><stop offset="0.719" stop-color="#b9fc00"/><stop offset="0.727" stop-color="#67f900"/><stop offset="0.738" stop-color="#36f700"/><stop offset="0.749" stop-color="#38f700"/><stop offset="0.797" stop-color="#e4fe00"/><stop offset="0.827" stop-color="#fffc00"/><stop offset="0.998" stop-color="#f5ff00"/></linearGradient><linearGradient id="g55" x2="1"><stop offset="0.002" stop-color="#60f900"/><stop offset="0.165" stop-color="#4ff800"/><stop offset="0.225" stop-color="#16f600"/><stop offset="0.255" stop-color="#1af600"/><stop offset="0.262" stop-color="#01f509"/><stop offset="0.270" stop-color="#00f772"/><stop offset="0.277" stop-color="#00f9da"/><stop offset="0.284" stop-color="#00f2fe"/><stop offset="0.299" stop-color="#009df6"/><stop offset="0.325" stop-color="#009df6"/><stop offset="0.329" stop-color="#00b5f8"/><stop offset="0.333" stop-color="#00f9f4"/><stop offset="0.336" stop-color="#00f74f"/><stop offset="0.340" stop-color="#42f800"/><stop offset="0.344" stop-color="#65f900"/><stop offset="0.348" stop-color="#9cfb00"/><stop offset="0.351" stop-color="#fdae00"/><stop offset="0.355" stop-color="#fb2a00"/><stop offset="0.359" stop-color="#fa0b00"/><stop offset="0.377" stop-color="#fa0e00"/><stop offset="0.400" stop-color="#fc6800"/><stop offset="0.441" stop-color="#fffa00"/><stop offset="0.467" stop-color="#e1fe00"/><stop offset="0.545" stop-color="#ffff00"/><stop offset="0.652" stop-color="#f1fe00"/><stop offset="0.678" stop-color="#f6ff00"/><stop offset="0.686" stop-color="#fff700"/><stop offset="0.690" stop-color="#fee200"/><stop offset="0.693" stop-color="#fdb000"/><stop offset="0.697" stop-color="#fc6000"/><stop offset="0.701" stop-color="#fb3300"/><stop offset="0.712" stop-color="#fb4100"/><stop offset="0.716" stop-color="#fec100"/><stop offset="0.719" stop-color="#edf400"/><stop offset="0.734" stop-color="#99fb00"/><stop offset="0.745" stop-color="#61f900"/><stop offset="0.760" stop-color="#79fa00"/><stop offset="0.790" stop-color="#e8fe00"/><stop offset="0.816" stop-color="#fff900"/><stop offset="0.998" stop-color="#f5ff00"/></linearGradient><linearGradient id="g56" x2="1"><stop offset="0.002" stop-color="#64f900"/><stop offset="0.169" stop-color="#50f800"/><stop offset="0.229" stop-color="#17f600"/><stop offset="0.262" stop-color="#13f600"/><stop offset="0.266" stop-color="#02f507"/><stop offset="0.270" stop-color="#00f633"/><stop offset="0.277" stop-color="#00f8ae"/><stop offset="0.284" stop-color="#00faf8"/><stop offset="0.303" stop-color="#009bf5"/><stop offset="0.325" stop-color="#009af5"/><stop offset="0.329" stop-color="#00a9f7"/><stop offset="0.333" stop-color="#00e0fc"/><stop offset="0.336" stop-color="#00f88f"/><stop offset="0.340" stop-color="#20f600"/><stop offset="0.348" stop-color="#84fa00"/><stop offset="0.351" stop-color="#fdf000"/><stop offset="0.355" stop-color="#fb3f00"/><stop offset="0.359" stop-color="#fa0e00"/><stop offset="0.374" stop-color="#fa0b00"/><stop offset="0.392" stop-color="#fb4c00"/><stop offset="0.433" stop-color="#ffe800"/><stop offset="0.444" stop-color="#f4ff00"/><stop offset="0.467" stop-color="#dafe00"/><stop offset="0.545" stop-color="#ffff00"/><stop offset="0.656" stop-color="#f1fe00"/><stop offset="0.682" stop-color="#f5ff00"/><stop offset="0.690" stop-color="#fff300"/><stop offset="0.693" stop-color="#fed500"/><stop offset="0.701" stop-color="#fc6e00"/><stop offset="0.704" stop-color="#fc5300"/><stop offset="0.708" stop-color="#fc5800"/><stop offset="0.716" stop-color="#fd9e00"/><stop offset="0.727" stop-color="#fd9f00"/><stop offset="0.734" stop-color="#fed900"/><stop offset="0.742" stop-color="#defe00"/><stop offset="0.749" stop-color="#a4fb00"/><stop offset="0.760" stop-color="#a8fc00"/><stop offset="0.790" stop-color="#fcfd00"/><stop offset="0.846" stop-color="#fff500"/><stop offset="0.998" stop-color="#f5ff00"/></linearGradient><linearGradient id="g57" x2="1"><stop offset="0.002" stop-color="#67f900"/><stop offset="0.173" stop-color="#52f800"/><stop offset="0.232" stop-color="#17f600"/><stop offset="0.266" stop-color="#14f600"/><stop offset="0.270" stop-color="#01f507"/><stop offset="0.277" stop-color="#00f777"/><stop offset="0.284" stop-color="#00f9e1"/><stop offset="0.288" stop-color="#00f9fc"/><stop offset="0.303" stop-color="#00a1f6"/><stop offset="0.325" stop-color="#0099f5"/><stop offset="0.329" stop-color="#00a3f6"/><stop offset="0.333" stop-color="#00cbfa"/><stop offset="0.336" stop-color="#00f9be"/><stop offset="0.340" stop-color="#02f509"/><stop offset="0.344" stop-color="#46f800"/><stop offset="0.348" stop-color="#6ef900"/><stop offset="0.351" stop-color="#cdfd00"/><stop offset="0.355" stop-color="#fc5600"/><stop offset="0.359" stop-color="#fa1200"/><stop offset="0.370" stop-color="#fa0a00"/><stop offset="0.388" stop-color="#fb4400"/><stop offset="0.433" stop-color="#ffee00"/><stop offset="0.448" stop-color="#e4fe00"/><stop offset="0.474" stop-color="#d5fd00"/><stop offset="0.541" stop-color="#feff00"/><stop offset="0.660" stop-color="#f2fe00"/><stop offset="0.686" stop-color="#f7ff00"/><stop offset="0.693" stop-color="#fff200"/><stop offset="0.708" stop-color="#fd8b00"/><stop offset="0.719" stop-color="#fd8800"/><stop offset="0.727" stop-color="#fc5e00"/><stop offset="0.734" stop-color="#fc7d00"/><stop offset="0.745" stop-color="#fedf00"/><stop offset="0.757" stop-color="#e3fe00"/><stop offset="0.790" stop-color="#fff000"/><stop offset="0.853" stop-color="#fff500"/><stop offset="0.998" stop-color="#f5ff00"/></linearGradient><linearGradient id="g58" x2="1"><stop offset="0.002" stop-color="#6af900"/><stop offset="0.177" stop-color="#54f800"/><stop offset="0.236" stop-color="#18f600"/><stop offset="0.266" stop-color="#1df600"/><stop offset="0.273" stop-color="#00f50b"/><stop offset="0.284" stop-color="#00f9bc"/><stop offset="0.288" stop-color="#00fae7"/><stop offset="0.292" stop-color="#00f6fe"/><stop offset="0.307" stop-color="#009df6"/><stop offset="0.329" stop-color="#00a0f6"/><stop offset="0.333" stop-color="#00bef9"/><stop offset="0.336" stop-color="#00f9e1"/><stop offset="0.340" stop-color="#00f635"/><stop offset="0.344" stop-color="#41f800"/><stop offset="0.348" stop-color="#65f900"/><stop offset="0.351" stop-color="#a8fc00"/><stop offset="0.355" stop-color="#fd8500"/><stop offset="0.359" stop-color="#fb2000"/><stop offset="0.366" stop-color="#fa0c00"/><stop offset="0.381" stop-color="#fb2f00"/><stop offset="0.418" stop-color="#fec000"/><stop offset="0.437" stop-color="#fbff00"/><stop offset="0.459" stop-color="#cefd00"/><stop offset="0.507" stop-color="#edfe00"/><stop offset="0.582" stop-color="#ffff00"/><stop offset="0.686" stop-color="#f6ff00"/><stop offset="0.697" stop-color="#ffeb00"/><stop offset="0.704" stop-color="#fdb200"/><stop offset="0.712" stop-color="#fc6f00"/><stop offset="0.719" stop-color="#fc6a00"/><stop offset="0.727" stop-color="#fb4900"/><stop offset="0.742" stop-color="#fc7300"/><stop offset="0.753" stop-color="#fecc00"/><stop offset="0.764" stop-color="#ffec00"/><stop offset="0.838" stop-color="#ffe900"/><stop offset="0.939" stop-color="#faff00"/><stop offset="0.998" stop-color="#f5ff00"/></linearGradient><linearGradient id="g59" x2="1"><stop offset="0.002" stop-color="#6df900"/><stop offset="0.184" stop-color="#53f800"/><stop offset="0.240" stop-color="#19f600"/><stop offset="0.270" stop-color="#1df600"/><stop offset="0.277" stop-color="#00f511"/><stop offset="0.288" stop-color="#00f9c4"/><stop offset="0.292" stop-color="#00faed"/><stop offset="0.296" stop-color="#00f0fe"/><stop offset="0.307" stop-color="#00a6f7"/><stop offset="0.322" stop-color="#0096f5"/><stop offset="0.329" stop-color="#009df6"/><stop offset="0.333" stop-color="#00b3f8"/><stop offset="0.336" stop-color="#00f7fb"/><stop offset="0.340" stop-color="#00f762"/><stop offset="0.344" stop-color="#38f700"/><stop offset="0.351" stop-color="#94fb00"/><stop offset="0.355" stop-color="#fec200"/><stop offset="0.359" stop-color="#fb3500"/><stop offset="0.362" stop-color="#fa1500"/><stop offset="0.377" stop-color="#fb2f00"/><stop offset="0.433" stop-color="#fdfe00"/><stop offset="0.455" stop-color="#c8fd00"/><stop offset="0.489" stop-color="#d4fd00"/><stop offset="0.548" stop-color="#feff00"/><stop offset="0.671" stop-color="#f2fe00"/><stop offset="0.690" stop-color="#effe00"/><stop offset="0.697" stop-color="#fff500"/><stop offset="0.708" stop-color="#fdaf00"/><stop offset="0.716" stop-color="#fc6a00"/><stop offset="0.727" stop-color="#fc5300"/><stop offset="0.742" stop-color="#fc5300"/><stop offset="0.745" stop-color="#fc6800"/><stop offset="0.753" stop-color="#fdac00"/><stop offset="0.771" stop-color="#fed300"/><stop offset="0.931" stop-color="#fcff00"/><stop offset="0.998" stop-color="#f5ff00"/></linearGradient><linearGradient id="g60" x2="1"><stop offset="0.002" stop-color="#71f900"/><stop offset="0.188" stop-color="#55f800"/><stop offset="0.243" stop-color="#1af600"/><stop offset="0.273" stop-color="#1cf600"/><stop offset="0.277" stop-color="#0df600"/><stop offset="0.281" stop-color="#00f517"/><stop offset="0.292" stop-color="#00f9cb"/><stop offset="0.296" stop-color="#00faf2"/><stop offset="0.303" stop-color="#00d0fb"/><stop offset="0.314" stop-color="#009af5"/><stop offset="0.329" stop-color="#009bf5"/><stop offset="0.333" stop-color="#00abf7"/><stop offset="0.336" stop-color="#00e3fd"/><stop offset="0.340" stop-color="#00f88c"/><stop offset="0.344" stop-color="#24f600"/><stop offset="0.351" stop-color="#80fa00"/><stop offset="0.355" stop-color="#f6f800"/><stop offset="0.359" stop-color="#fc5000"/><stop offset="0.362" stop-color="#fb2400"/><stop offset="0.377" stop-color="#fb4400"/><stop offset="0.429" stop-color="#fefd00"/><stop offset="0.455" stop-color="#c0fd00"/><stop offset="0.489" stop-color="#cefd00"/><stop offset="0.548" stop-color="#fdff00"/><stop offset="0.664" stop-color="#f5ff00"/><stop offset="0.686" stop-color="#c9fd00"/><stop offset="0.697" stop-color="#e8fe00"/><stop offset="0.701" stop-color="#fcf800"/><stop offset="0.716" stop-color="#fc7100"/><stop offset="0.727" stop-color="#fc5700"/><stop offset="0.745" stop-color="#fc6f00"/><stop offset="0.764" stop-color="#feb700"/><stop offset="0.901" stop-color="#fffc00"/><stop offset="0.998" stop-color="#f5ff00"/></linearGradient><linearGradient id="g61" x2="1"><stop offset="0.002" stop-color="#74fa00"/><stop offset="0.191" stop-color="#58f800"/><stop offset="0.251" stop-color="#1af600"/><stop offset="0.277" stop-color="#1cf600"/><stop offset="0.281" stop-color="#0af500"/><stop offset="0.284" stop-color="#00f61d"/><stop offset="0.296" stop-color="#00f9d1"/><stop offset="0.299" stop-color="#00faf7"/><stop offset="0.314" stop-color="#00a1f6"/><stop offset="0.329" stop-color="#0099f5"/><stop offset="0.333" stop-color="#00a5f6"/><stop offset="0.336" stop-color="#00cdfb"/><stop offset="0.340" stop-color="#00f9be"/><stop offset="0.344" stop-color="#02f512"/><stop offset="0.348" stop-color="#3ef700"/><stop offset="0.351" stop-color="#66f900"/><stop offset="0.355" stop-color="#bafc00"/><stop offset="0.359" stop-color="#fd8500"/><stop offset="0.362" stop-color="#fb4b00"/><stop offset="0.377" stop-color="#fc6400"/><stop offset="0.426" stop-color="#fefc00"/><stop offset="0.452" stop-color="#bbfc00"/><stop offset="0.481" stop-color="#c1fd00"/><stop offset="0.548" stop-color="#fdff00"/><stop offset="0.660" stop-color="#f9ff00"/><stop offset="0.675" stop-color="#c7fd00"/><stop offset="0.686" stop-color="#97fb00"/><stop offset="0.693" stop-color="#9cfb00"/><stop offset="0.704" stop-color="#f6fb00"/><stop offset="0.716" stop-color="#fd8b00"/><stop offset="0.727" stop-color="#fc5d00"/><stop offset="0.734" stop-color="#fc6400"/><stop offset="0.742" stop-color="#fd8100"/><stop offset="0.753" stop-color="#fd8e00"/><stop offset="0.768" stop-color="#feb400"/><stop offset="0.905" stop-color="#fffc00"/><stop offset="0.998" stop-color="#f4ff00"/></linearGradient><linearGradient id="g62" x2="1"><stop offset="0.002" stop-color="#77fa00"/><stop offset="0.195" stop-color="#5bf900"/><stop offset="0.255" stop-color="#1cf600"/><stop offset="0.281" stop-color="#1bf600"/><stop offset="0.284" stop-color="#07f500"/><stop offset="0.288" stop-color="#00f622"/><stop offset="0.299" stop-color="#00f9d3"/><stop offset="0.303" stop-color="#00f9f7"/><stop offset="0.318" stop-color="#009ff6"/><stop offset="0.333" stop-color="#009ef6"/><stop offset="0.336" stop-color="#00b5f8"/><stop offset="0.340" stop-color="#00f0f6"/><stop offset="0.348" stop-color="#0ff603"/><stop offset="0.355" stop-color="#76fa00"/><stop offset="0.359" stop-color="#ddf300"/><stop offset="0.362" stop-color="#fdae00"/><stop offset="0.366" stop-color="#fd9500"/><stop offset="0.385" stop-color="#fd9d00"/><stop offset="0.414" stop-color="#fee500"/><stop offset="0.426" stop-color="#f1fe00"/><stop offset="0.448" stop-color="#b7fc00"/><stop offset="0.478" stop-color="#b9fc00"/><stop offset="0.552" stop-color="#fdff00"/><stop offset="0.660" stop-color="#faff00"/><stop offset="0.671" stop-color="#d2fd00"/><stop offset="0.686" stop-color="#7dfa00"/><stop offset="0.693" stop-color="#7efa00"/><stop offset="0.701" stop-color="#b6fc00"/><stop offset="0.708" stop-color="#fff900"/><stop offset="0.716" stop-color="#fd9d00"/><stop offset="0.723" stop-color="#fc6b00"/><stop offset="0.730" stop-color="#fc5d00"/><stop offset="0.742" stop-color="#fd8c00"/><stop offset="0.797" stop-color="#fec100"/><stop offset="0.909" stop-color="#fffd00"/><stop offset="0.998" stop-color="#f3ff00"/></linearGradient><linearGradient id="g63" x2="1"><stop offset="0.002" stop-color="#7afa00"/><stop offset="0.199" stop-color="#5ef900"/><stop offset="0.258" stop-color="#1df600"/><stop offset="0.284" stop-color="#1cf600"/><stop offset="0.288" stop-color="#09f500"/><stop offset="0.292" stop-color="#00f61e"/><stop offset="0.303" stop-color="#00f9c9"/><stop offset="0.307" stop-color="#00faf4"/><stop offset="0.322" stop-color="#009ef6"/><stop offset="0.333" stop-color="#0099f5"/><stop offset="0.336" stop-color="#00a2f6"/><stop offset="0.340" stop-color="#00c1f9"/><stop offset="0.344" stop-color="#00f9e8"/><stop offset="0.348" stop-color="#00f761"/><stop offset="0.351" stop-color="#0df604"/><stop offset="0.359" stop-color="#69f900"/><stop offset="0.362" stop-color="#c0fd00"/><stop offset="0.366" stop-color="#edf300"/><stop offset="0.381" stop-color="#fecd00"/><stop offset="0.396" stop-color="#fecb00"/><stop offset="0.418" stop-color="#faff00"/><stop offset="0.444" stop-color="#b4fc00"/><stop offset="0.474" stop-color="#b1fc00"/><stop offset="0.548" stop-color="#fcff00"/><stop offset="0.664" stop-color="#f9ff00"/><stop offset="0.686" stop-color="#a0fb00"/><stop offset="0.693" stop-color="#abfc00"/><stop offset="0.704" stop-color="#f6f500"/><stop offset="0.716" stop-color="#fd8d00"/><stop offset="0.723" stop-color="#fc6a00"/><stop offset="0.760" stop-color="#fda300"/><stop offset="0.905" stop-color="#fffe00"/><stop offset="0.998" stop-color="#f0fe00"/></linearGradient><linearGradient id="g64" x2="1"><stop offset="0.002" stop-color="#7efa00"/><stop offset="0.206" stop-color="#5ef900"/><stop offset="0.266" stop-color="#1ef600"/><stop offset="0.288" stop-color="#20f600"/><stop offset="0.296" stop-color="#01f50e"/><stop offset="0.310" stop-color="#00faec"/><stop offset="0.314" stop-color="#00e2fd"/><stop offset="0.322" stop-color="#00aaf7"/><stop offset="0.333" stop-color="#0097f5"/><stop offset="0.340" stop-color="#00a6f7"/><stop offset="0.344" stop-color="#00cafa"/><stop offset="0.348" stop-color="#00f9db"/><stop offset="0.351" stop-color="#00f75c"/><stop offset="0.355" stop-color="#09f609"/><stop offset="0.362" stop-color="#65f900"/><stop offset="0.366" stop-color="#a4fb00"/><stop offset="0.385" stop-color="#f5f800"/><stop offset="0.403" stop-color="#fff300"/><stop offset="0.418" stop-color="#e6fe00"/><stop offset="0.448" stop-color="#a6fb00"/><stop offset="0.478" stop-color="#a8fc00"/><stop offset="0.533" stop-color="#f4ff00"/><stop offset="0.664" stop-color="#fffa00"/><stop offset="0.682" stop-color="#eef900"/><stop offset="0.697" stop-color="#feda00"/><stop offset="0.712" stop-color="#fc7700"/><stop offset="0.719" stop-color="#fc6500"/><stop offset="0.734" stop-color="#fd8d00"/><stop offset="0.901" stop-color="#ffff00"/><stop offset="0.998" stop-color="#ecfe00"/></linearGradient><linearGradient id="g65" x2="1"><stop offset="0.002" stop-color="#81fa00"/><stop offset="0.210" stop-color="#62f900"/><stop offset="0.270" stop-color="#20f600"/><stop offset="0.296" stop-color="#1df600"/><stop offset="0.299" stop-color="#09f503"/><stop offset="0.303" stop-color="#00f623"/><stop offset="0.314" stop-color="#00f9df"/><stop offset="0.318" stop-color="#00e8fd"/><stop offset="0.325" stop-color="#00adf7"/><stop offset="0.336" stop-color="#0098f5"/><stop offset="0.344" stop-color="#00a8f7"/><stop offset="0.348" stop-color="#00cbfa"/><stop offset="0.351" stop-color="#00f7e1"/><stop offset="0.359" stop-color="#0bf61e"/><stop offset="0.362" stop-color="#3cf700"/><stop offset="0.366" stop-color="#6df900"/><stop offset="0.396" stop-color="#e3fe00"/><stop offset="0.411" stop-color="#e1fe00"/><stop offset="0.463" stop-color="#82fa00"/><stop offset="0.485" stop-color="#97fb00"/><stop offset="0.519" stop-color="#e7fe00"/><stop offset="0.574" stop-color="#fffd00"/><stop offset="0.667" stop-color="#ffef00"/><stop offset="0.675" stop-color="#fee500"/><stop offset="0.682" stop-color="#fdb000"/><stop offset="0.686" stop-color="#fd8d00"/><stop offset="0.708" stop-color="#fb4900"/><stop offset="0.719" stop-color="#fc5a00"/><stop offset="0.730" stop-color="#fd8b00"/><stop offset="0.901" stop-color="#fcff00"/><stop offset="0.998" stop-color="#e5fe00"/></linearGradient><linearGradient id="g66" x2="1"><stop offset="0.002" stop-color="#84fa00"/><stop offset="0.214" stop-color="#66f900"/><stop offset="0.273" stop-color="#23f600"/><stop offset="0.299" stop-color="#26f600"/><stop offset="0.307" stop-color="#03f50e"/><stop offset="0.314" stop-color="#00f882"/><stop offset="0.318" stop-color="#00f9c6"/><stop offset="0.322" stop-color="#00f1f4"/><stop offset="0.333" stop-color="#00a7f7"/><stop offset="0.344" stop-color="#009bf5"/><stop offset="0.351" stop-color="#00b8f8"/><stop offset="0.355" stop-color="#00dffb"/><stop offset="0.359" stop-color="#00f4d5"/><stop offset="0.366" stop-color="#01f63a"/><stop offset="0.370" stop-color="#20f710"/><stop offset="0.377" stop-color="#65f900"/><stop offset="0.400" stop-color="#b2fc00"/><stop offset="0.418" stop-color="#bafc00"/><stop offset="0.444" stop-color="#82fa00"/><stop offset="0.467" stop-color="#54f800"/><stop offset="0.485" stop-color="#67f900"/><stop offset="0.519" stop-color="#e5fe00"/><stop offset="0.563" stop-color="#fffe00"/><stop offset="0.656" stop-color="#fff100"/><stop offset="0.671" stop-color="#fed000"/><stop offset="0.678" stop-color="#fd9500"/><stop offset="0.686" stop-color="#fb4700"/><stop offset="0.697" stop-color="#fb2b00"/><stop offset="0.708" stop-color="#fb3200"/><stop offset="0.719" stop-color="#fc5e00"/><stop offset="0.730" stop-color="#fd9000"/><stop offset="0.820" stop-color="#fec700"/><stop offset="0.898" stop-color="#fbff00"/><stop offset="0.998" stop-color="#ddfe00"/></linearGradient><linearGradient id="g67" x2="1"><stop offset="0.002" stop-color="#87fa00"/><stop offset="0.221" stop-color="#67f900"/><stop offset="0.281" stop-color="#24f600"/><stop offset="0.303" stop-color="#2df700"/><stop offset="0.310" stop-color="#0df601"/><stop offset="0.314" stop-color="#00f621"/><stop offset="0.325" stop-color="#00f9db"/><stop offset="0.329" stop-color="#00ebf9"/><stop offset="0.340" stop-color="#00a5f6"/><stop offset="0.351" stop-color="#009bf6"/><stop offset="0.359" stop-color="#00aff8"/><stop offset="0.366" stop-color="#00e4ef"/><stop offset="0.370" stop-color="#00f9ca"/><stop offset="0.377" stop-color="#02f636"/><stop offset="0.381" stop-color="#1df60f"/><stop offset="0.388" stop-color="#59f800"/><stop offset="0.407" stop-color="#8afa00"/><stop offset="0.426" stop-color="#96fb00"/><stop offset="0.444" stop-color="#5cf900"/><stop offset="0.463" stop-color="#30f700"/><stop offset="0.485" stop-color="#3af700"/><stop offset="0.500" stop-color="#77fa00"/><stop offset="0.519" stop-color="#defe00"/><stop offset="0.545" stop-color="#fcff00"/><stop offset="0.645" stop-color="#fbfe00"/><stop offset="0.660" stop-color="#fee400"/><stop offset="0.671" stop-color="#fd9f00"/><stop offset="0.682" stop-color="#fb3400"/><stop offset="0.693" stop-color="#fb1a00"/><stop offset="0.708" stop-color="#fb3700"/><stop offset="0.730" stop-color="#fd9900"/><stop offset="0.809" stop-color="#feba00"/><stop offset="0.887" stop-color="#feff00"/><stop offset="0.998" stop-color="#d4fd00"/></linearGradient><linearGradient id="g68" x2="1"><stop offset="0.002" stop-color="#8bfa00"/><stop offset="0.225" stop-color="#6cf900"/><stop offset="0.284" stop-color="#28f700"/><stop offset="0.310" stop-color="#31f700"/><stop offset="0.318" stop-color="#0cf609"/><stop offset="0.322" stop-color="#00f62a"/><stop offset="0.333" stop-color="#00f9cc"/><stop offset="0.336" stop-color="#00ecee"/><stop offset="0.344" stop-color="#00b6f8"/><stop offset="0.355" stop-color="#009af5"/><stop offset="0.366" stop-color="#00a5f6"/><stop offset="0.374" stop-color="#00cffb"/><stop offset="0.377" stop-color="#00e7ea"/><stop offset="0.381" stop-color="#00f9c3"/><stop offset="0.388" stop-color="#00f638"/><stop offset="0.396" stop-color="#29f700"/><stop offset="0.407" stop-color="#5ef900"/><stop offset="0.426" stop-color="#72f900"/><stop offset="0.437" stop-color="#4af800"/><stop offset="0.444" stop-color="#18f600"/><stop offset="0.455" stop-color="#09f60b"/><stop offset="0.493" stop-color="#2ff700"/><stop offset="0.504" stop-color="#67f900"/><stop offset="0.519" stop-color="#d1fd00"/><stop offset="0.533" stop-color="#f6ff00"/><stop offset="0.612" stop-color="#fbff00"/><stop offset="0.634" stop-color="#cffd00"/><stop offset="0.649" stop-color="#eafe00"/><stop offset="0.656" stop-color="#fff400"/><stop offset="0.667" stop-color="#fd9100"/><stop offset="0.675" stop-color="#fb4200"/><stop offset="0.682" stop-color="#fb2100"/><stop offset="0.697" stop-color="#fb2100"/><stop offset="0.727" stop-color="#fd9900"/><stop offset="0.805" stop-color="#feb400"/><stop offset="0.883" stop-color="#feff00"/><stop offset="0.998" stop-color="#cafd00"/></linearGradient><linearGradient id="g69" x2="1"><stop offset="0.002" stop-color="#8efb00"/><stop offset="0.232" stop-color="#6ef900"/><stop offset="0.288" stop-color="#2cf700"/><stop offset="0.318" stop-color="#3cf700"/><stop offset="0.325" stop-color="#1df600"/><stop offset="0.333" stop-color="#01f628"/><stop offset="0.344" stop-color="#00f7d4"/><stop offset="0.351" stop-color="#00cefb"/><stop offset="0.362" stop-color="#00a3f6"/><stop offset="0.377" stop-color="#00a9f7"/><stop offset="0.385" stop-color="#00d4fb"/><stop offset="0.392" stop-color="#00f9c8"/><stop offset="0.400" stop-color="#00f750"/><stop offset="0.403" stop-color="#07f624"/><stop offset="0.411" stop-color="#27f700"/><stop offset="0.422" stop-color="#4df800"/><stop offset="0.429" stop-color="#41f800"/><stop offset="0.437" stop-color="#0af60a"/><stop offset="0.444" stop-color="#00f750"/><stop offset="0.452" stop-color="#00f768"/><stop offset="0.459" stop-color="#00f645"/><stop offset="0.467" stop-color="#00f509"/><stop offset="0.485" stop-color="#17f600"/><stop offset="0.500" stop-color="#35f700"/><stop offset="0.522" stop-color="#d8fd00"/><stop offset="0.537" stop-color="#f9ff00"/><stop offset="0.608" stop-color="#f9ff00"/><stop offset="0.634" stop-color="#96fb00"/><stop offset="0.645" stop-color="#adfc00"/><stop offset="0.656" stop-color="#f1fe00"/><stop offset="0.660" stop-color="#ffe600"/><stop offset="0.667" stop-color="#fc7600"/><stop offset="0.675" stop-color="#fb3200"/><stop offset="0.682" stop-color="#fa1900"/><stop offset="0.693" stop-color="#fb2200"/><stop offset="0.712" stop-color="#fd8800"/><stop offset="0.734" stop-color="#fda300"/><stop offset="0.797" stop-color="#fdac00"/><stop offset="0.883" stop-color="#fcff00"/><stop offset="0.998" stop-color="#c0fd00"/></linearGradient><linearGradient id="g70" x2="1"><stop offset="0.002" stop-color="#91fb00"/><stop offset="0.236" stop-color="#73f900"/><stop offset="0.292" stop-color="#34f700"/><stop offset="0.329" stop-color="#54f800"/><stop offset="0.336" stop-color="#3df700"/><stop offset="0.340" stop-color="#22f602"/><stop offset="0.348" stop-color="#00f63d"/><stop offset="0.359" stop-color="#00f2d2"/><stop offset="0.366" stop-color="#00d8fc"/><stop offset="0.377" stop-color="#00a9f7"/><stop offset="0.388" stop-color="#00adf7"/><stop offset="0.396" stop-color="#00d6fb"/><stop offset="0.400" stop-color="#00eeee"/><stop offset="0.407" stop-color="#00f895"/><stop offset="0.414" stop-color="#00f63c"/><stop offset="0.422" stop-color="#10f60c"/><stop offset="0.429" stop-color="#10f600"/><stop offset="0.433" stop-color="#00f50f"/><stop offset="0.441" stop-color="#00f772"/><stop offset="0.448" stop-color="#00f89f"/><stop offset="0.455" stop-color="#00f897"/><stop offset="0.463" stop-color="#00f757"/><stop offset="0.470" stop-color="#00f507"/><stop offset="0.485" stop-color="#15f600"/><stop offset="0.500" stop-color="#2af700"/><stop offset="0.511" stop-color="#76fa00"/><stop offset="0.522" stop-color="#d2fd00"/><stop offset="0.533" stop-color="#f5ff00"/><stop offset="0.604" stop-color="#fdff00"/><stop offset="0.615" stop-color="#d0fd00"/><stop offset="0.630" stop-color="#73fa00"/><stop offset="0.638" stop-color="#6af900"/><stop offset="0.649" stop-color="#a2fb00"/><stop offset="0.656" stop-color="#e9fe00"/><stop offset="0.660" stop-color="#fedd00"/><stop offset="0.667" stop-color="#fc5e00"/><stop offset="0.675" stop-color="#fb2500"/><stop offset="0.686" stop-color="#fb1b00"/><stop offset="0.701" stop-color="#fc5000"/><stop offset="0.712" stop-color="#fd9600"/><stop offset="0.727" stop-color="#fda600"/><stop offset="0.790" stop-color="#fda600"/><stop offset="0.879" stop-color="#fcff00"/><stop offset="0.980" stop-color="#c0fd00"/><stop offset="0.998" stop-color="#b5fc00"/></linearGradient><linearGradient id="g71" x2="1"><stop offset="0.002" stop-color="#95fb00"/><stop offset="0.243" stop-color="#74fa00"/><stop offset="0.292" stop-color="#40f800"/><stop offset="0.340" stop-color="#6ff900"/><stop offset="0.351" stop-color="#49f800"/><stop offset="0.355" stop-color="#2bf700"/><stop offset="0.362" stop-color="#07f632"/><stop offset="0.374" stop-color="#00f9c5"/><stop offset="0.381" stop-color="#00e0f3"/><stop offset="0.392" stop-color="#00c2f9"/><stop offset="0.403" stop-color="#00f0fe"/><stop offset="0.414" stop-color="#00f9c0"/><stop offset="0.429" stop-color="#00f63a"/><stop offset="0.433" stop-color="#00f639"/><stop offset="0.444" stop-color="#00f896"/><stop offset="0.452" stop-color="#00f8a3"/><stop offset="0.459" stop-color="#00f883"/><stop offset="0.470" stop-color="#00f508"/><stop offset="0.485" stop-color="#15f600"/><stop offset="0.500" stop-color="#29f700"/><stop offset="0.511" stop-color="#76fa00"/><stop offset="0.522" stop-color="#d2fd00"/><stop offset="0.533" stop-color="#f5ff00"/><stop offset="0.604" stop-color="#feff00"/><stop offset="0.615" stop-color="#d0fd00"/><stop offset="0.630" stop-color="#72f900"/><stop offset="0.638" stop-color="#69f900"/><stop offset="0.645" stop-color="#8dfb00"/><stop offset="0.652" stop-color="#e0fe00"/><stop offset="0.656" stop-color="#fee500"/><stop offset="0.664" stop-color="#fc6e00"/><stop offset="0.671" stop-color="#fb2900"/><stop offset="0.682" stop-color="#fb1d00"/><stop offset="0.701" stop-color="#fc5d00"/><stop offset="0.712" stop-color="#fda000"/><stop offset="0.734" stop-color="#fda300"/><stop offset="0.797" stop-color="#fdaa00"/><stop offset="0.875" stop-color="#fdff00"/><stop offset="0.976" stop-color="#bafc00"/><stop offset="0.998" stop-color="#aafc00"/></linearGradient><linearGradient id="g72" x2="1"><stop offset="0.002" stop-color="#98fb00"/><stop offset="0.247" stop-color="#7afa00"/><stop offset="0.296" stop-color="#4ff800"/><stop offset="0.351" stop-color="#82fa00"/><stop offset="0.362" stop-color="#6bf900"/><stop offset="0.374" stop-color="#23f70b"/><stop offset="0.381" stop-color="#00f640"/><stop offset="0.388" stop-color="#00f896"/><stop offset="0.400" stop-color="#00f9d1"/><stop offset="0.414" stop-color="#00fae9"/><stop offset="0.422" stop-color="#00f9cd"/><stop offset="0.433" stop-color="#00f769"/><stop offset="0.437" stop-color="#00f759"/><stop offset="0.452" stop-color="#00f776"/><stop offset="0.459" stop-color="#00f74f"/><stop offset="0.467" stop-color="#00f50e"/><stop offset="0.474" stop-color="#11f600"/><stop offset="0.496" stop-color="#24f600"/><stop offset="0.507" stop-color="#63f900"/><stop offset="0.522" stop-color="#d8fd00"/><stop offset="0.537" stop-color="#f8ff00"/><stop offset="0.608" stop-color="#fdfe00"/><stop offset="0.630" stop-color="#a0fb00"/><stop offset="0.638" stop-color="#9cfb00"/><stop offset="0.645" stop-color="#c7fd00"/><stop offset="0.649" stop-color="#f0f500"/><stop offset="0.656" stop-color="#fd8b00"/><stop offset="0.664" stop-color="#fb4100"/><stop offset="0.671" stop-color="#fb1f00"/><stop offset="0.682" stop-color="#fb2900"/><stop offset="0.697" stop-color="#fc6c00"/><stop offset="0.708" stop-color="#fda200"/><stop offset="0.742" stop-color="#fda100"/><stop offset="0.805" stop-color="#fdaf00"/><stop offset="0.875" stop-color="#fbff00"/><stop offset="0.968" stop-color="#bafc00"/><stop offset="0.998" stop-color="#9ffb00"/></linearGradient><linearGradient id="g73" x2="1"><stop offset="0.002" stop-color="#9bfb00"/><stop offset="0.255" stop-color="#7cfa00"/><stop offset="0.299" stop-color="#60f900"/><stop offset="0.366" stop-color="#8efb00"/><stop offset="0.381" stop-color="#6cf900"/><stop offset="0.392" stop-color="#26f707"/><stop offset="0.403" stop-color="#00f64b"/><stop offset="0.414" stop-color="#00f8ac"/><stop offset="0.422" stop-color="#00f9c8"/><stop offset="0.429" stop-color="#00f8b1"/><stop offset="0.444" stop-color="#00f646"/><stop offset="0.467" stop-color="#0bf500"/><stop offset="0.493" stop-color="#26f600"/><stop offset="0.504" stop-color="#60f900"/><stop offset="0.519" stop-color="#d2fd00"/><stop offset="0.533" stop-color="#f7ff00"/><stop offset="0.619" stop-color="#f8f700"/><stop offset="0.638" stop-color="#eff100"/><stop offset="0.645" stop-color="#fed400"/><stop offset="0.656" stop-color="#fb4900"/><stop offset="0.667" stop-color="#fb1d00"/><stop offset="0.682" stop-color="#fb3e00"/><stop offset="0.701" stop-color="#fda100"/><stop offset="0.738" stop-color="#fda100"/><stop offset="0.805" stop-color="#fdae00"/><stop offset="0.875" stop-color="#faff00"/><stop offset="0.965" stop-color="#b5fc00"/><stop offset="0.998" stop-color="#94fb00"/></linearGradient><linearGradient id="g74" x2="1"><stop offset="0.002" stop-color="#9efb00"/><stop offset="0.262" stop-color="#7ffa00"/><stop offset="0.307" stop-color="#73fa00"/><stop offset="0.385" stop-color="#9bfb00"/><stop offset="0.400" stop-color="#75fa00"/><stop offset="0.411" stop-color="#27f706"/><stop offset="0.418" stop-color="#03f62e"/><stop offset="0.426" stop-color="#00f76b"/><stop offset="0.433" stop-color="#00f77a"/><stop offset="0.448" stop-color="#00f62e"/><stop offset="0.467" stop-color="#05f500"/><stop offset="0.485" stop-color="#25f600"/><stop offset="0.500" stop-color="#6df900"/><stop offset="0.515" stop-color="#d4fd00"/><stop offset="0.530" stop-color="#f7ff00"/><stop offset="0.600" stop-color="#ffe600"/><stop offset="0.623" stop-color="#feba00"/><stop offset="0.645" stop-color="#fc6000"/><stop offset="0.656" stop-color="#fb2400"/><stop offset="0.667" stop-color="#fb2000"/><stop offset="0.697" stop-color="#fda400"/><stop offset="0.797" stop-color="#fda900"/><stop offset="0.875" stop-color="#f9ff00"/><stop offset="0.961" stop-color="#b2fc00"/><stop offset="0.998" stop-color="#8bfa00"/></linearGradient><linearGradient id="g75" x2="1"><stop offset="0.002" stop-color="#a1fb00"/><stop offset="0.281" stop-color="#7ffa00"/><stop offset="0.370" stop-color="#9efb00"/><stop offset="0.403" stop-color="#a8fc00"/><stop offset="0.414" stop-color="#8dfb00"/><stop offset="0.429" stop-color="#30f700"/><stop offset="0.452" stop-color="#0cf60d"/><stop offset="0.474" stop-color="#00f510"/><stop offset="0.478" stop-color="#08f500"/><stop offset="0.489" stop-color="#75fa00"/><stop offset="0.511" stop-color="#e2fe00"/><stop offset="0.530" stop-color="#fdff00"/><stop offset="0.582" stop-color="#fee400"/><stop offset="0.604" stop-color="#feca00"/><stop offset="0.619" stop-color="#fda600"/><stop offset="0.626" stop-color="#fc6600"/><stop offset="0.630" stop-color="#fb4100"/><stop offset="0.652" stop-color="#fa1900"/><stop offset="0.667" stop-color="#fb3500"/><stop offset="0.686" stop-color="#fd9800"/><stop offset="0.712" stop-color="#fda700"/><stop offset="0.794" stop-color="#fda700"/><stop offset="0.842" stop-color="#fedd00"/><stop offset="0.875" stop-color="#f8ff00"/><stop offset="0.957" stop-color="#b0fc00"/><stop offset="0.998" stop-color="#83fa00"/></linearGradient><linearGradient id="g76" x2="1"><stop offset="0.002" stop-color="#a4fb00"/><stop offset="0.322" stop-color="#8dfb00"/><stop offset="0.422" stop-color="#b8fc00"/><stop offset="0.437" stop-color="#c2fd00"/><stop offset="0.448" stop-color="#82fa00"/><stop offset="0.459" stop-color="#9dfb00"/><stop offset="0.470" stop-color="#8cfa00"/><stop offset="0.478" stop-color="#abfc00"/><stop offset="0.489" stop-color="#e8f200"/><stop offset="0.500" stop-color="#fbe700"/><stop offset="0.515" stop-color="#fffc00"/><stop offset="0.530" stop-color="#fff200"/><stop offset="0.567" stop-color="#fee200"/><stop offset="0.612" stop-color="#fc7b00"/><stop offset="0.626" stop-color="#fb2a00"/><stop offset="0.645" stop-color="#fa1700"/><stop offset="0.660" stop-color="#fb3900"/><stop offset="0.682" stop-color="#fda000"/><stop offset="0.704" stop-color="#fda900"/><stop offset="0.790" stop-color="#fda500"/><stop offset="0.838" stop-color="#fed600"/><stop offset="0.872" stop-color="#fbff00"/><stop offset="0.954" stop-color="#b0fc00"/><stop offset="0.998" stop-color="#7cfa00"/></linearGradient><linearGradient id="g77" x2="1"><stop offset="0.002" stop-color="#a6fc00"/><stop offset="0.329" stop-color="#94fb00"/><stop offset="0.426" stop-color="#d2fd00"/><stop offset="0.437" stop-color="#fcfc00"/><stop offset="0.448" stop-color="#f4ee00"/><stop offset="0.459" stop-color="#fec300"/><stop offset="0.467" stop-color="#feb800"/><stop offset="0.478" stop-color="#fd8b00"/><stop offset="0.493" stop-color="#fd8400"/><stop offset="0.500" stop-color="#fd8100"/><stop offset="0.511" stop-color="#ffea00"/><stop offset="0.522" stop-color="#fec100"/><stop offset="0.545" stop-color="#fedf00"/><stop offset="0.559" stop-color="#fec800"/><stop offset="0.567" stop-color="#fec000"/><stop offset="0.578" stop-color="#fc7400"/><stop offset="0.589" stop-color="#fc6d00"/><stop offset="0.600" stop-color="#fb4200"/><stop offset="0.612" stop-color="#fb3900"/><stop offset="0.623" stop-color="#fb1a00"/><stop offset="0.641" stop-color="#fb1e00"/><stop offset="0.678" stop-color="#fda500"/><stop offset="0.723" stop-color="#fda200"/><stop offset="0.805" stop-color="#fdac00"/><stop offset="0.872" stop-color="#fbff00"/><stop offset="0.950" stop-color="#b1fc00"/><stop offset="0.998" stop-color="#77fa00"/></linearGradient><linearGradient id="g78" x2="1"><stop offset="0.002" stop-color="#a9fc00"/><stop offset="0.325" stop-color="#98fb00"/><stop offset="0.422" stop-color="#cffd00"/><stop offset="0.437" stop-color="#fff400"/><stop offset="0.448" stop-color="#fd9e00"/><stop offset="0.455" stop-color="#fd9700"/><stop offset="0.463" stop-color="#fda300"/><stop offset="0.481" stop-color="#fc5e00"/><stop offset="0.500" stop-color="#fc5500"/><stop offset="0.511" stop-color="#fd9a00"/><stop offset="0.519" stop-color="#fd8b00"/><stop offset="0.526" stop-color="#fc7e00"/><stop offset="0.548" stop-color="#fdac00"/><stop offset="0.563" stop-color="#fd9200"/><stop offset="0.571" stop-color="#fb4c00"/><stop offset="0.586" stop-color="#fb2600"/><stop offset="0.630" stop-color="#fb1f00"/><stop offset="0.638" stop-color="#fb3300"/><stop offset="0.649" stop-color="#fc7300"/><stop offset="0.678" stop-color="#fdad00"/><stop offset="0.786" stop-color="#fda400"/><stop offset="0.835" stop-color="#fecd00"/><stop offset="0.872" stop-color="#fbff00"/><stop offset="0.950" stop-color="#aefc00"/><stop offset="0.994" stop-color="#73fa00"/><stop offset="0.998" stop-color="#72f900"/></linearGradient><linearGradient id="g79" x2="1"><stop offset="0.002" stop-color="#abfc00"/><stop offset="0.318" stop-color="#9afb00"/><stop offset="0.418" stop-color="#ccfd00"/><stop offset="0.433" stop-color="#edfe00"/><stop offset="0.437" stop-color="#fffa00"/><stop offset="0.444" stop-color="#fda500"/><stop offset="0.448" stop-color="#fd8800"/><stop offset="0.455" stop-color="#fd8400"/><stop offset="0.463" stop-color="#fd8e00"/><stop offset="0.474" stop-color="#fc5a00"/><stop offset="0.496" stop-color="#fc5800"/><stop offset="0.511" stop-color="#fc6f00"/><stop offset="0.519" stop-color="#feb300"/><stop offset="0.522" stop-color="#fec700"/><stop offset="0.530" stop-color="#fd9b00"/><stop offset="0.537" stop-color="#fc5f00"/><stop offset="0.548" stop-color="#fc6300"/><stop offset="0.552" stop-color="#fc7b00"/><stop offset="0.556" stop-color="#fd8100"/><stop offset="0.567" stop-color="#fb4600"/><stop offset="0.586" stop-color="#fa1800"/><stop offset="0.623" stop-color="#fb2b00"/><stop offset="0.645" stop-color="#fd8400"/><stop offset="0.671" stop-color="#fdae00"/><stop offset="0.786" stop-color="#fda400"/><stop offset="0.835" stop-color="#fecb00"/><stop offset="0.872" stop-color="#fbff00"/><stop offset="0.946" stop-color="#b1fc00"/><stop offset="0.994" stop-color="#6ff900"/><stop offset="0.998" stop-color="#6ef900"/></linearGradient><linearGradient id="g80" x2="1"><stop offset="0.002" stop-color="#aefc00"/><stop offset="0.310" stop-color="#9dfb00"/><stop offset="0.403" stop-color="#c4fd00"/><stop offset="0.433" stop-color="#e2fe00"/><stop offset="0.437" stop-color="#f3ff00"/><stop offset="0.441" stop-color="#ffed00"/><stop offset="0.448" stop-color="#fdaf00"/><stop offset="0.463" stop-color="#fd8c00"/><stop offset="0.474" stop-color="#fc5600"/><stop offset="0.496" stop-color="#fc5b00"/><stop offset="0.515" stop-color="#fd9400"/><stop offset="0.519" stop-color="#fdab00"/><stop offset="0.522" stop-color="#fdaf00"/><stop offset="0.533" stop-color="#fc6400"/><stop offset="0.545" stop-color="#fc5900"/><stop offset="0.548" stop-color="#fc6800"/><stop offset="0.552" stop-color="#fd8e00"/><stop offset="0.556" stop-color="#fd9500"/><stop offset="0.563" stop-color="#fc5100"/><stop offset="0.586" stop-color="#fb2100"/><stop offset="0.619" stop-color="#fb4500"/><stop offset="0.638" stop-color="#fd9300"/><stop offset="0.667" stop-color="#fdb100"/><stop offset="0.779" stop-color="#fda200"/><stop offset="0.831" stop-color="#fec500"/><stop offset="0.872" stop-color="#fcff00"/><stop offset="0.946" stop-color="#aefc00"/><stop offset="0.994" stop-color="#6bf900"/><stop offset="0.998" stop-color="#6af900"/></linearGradient><linearGradient id="g81" x2="1"><stop offset="0.002" stop-color="#b0fc00"/><stop offset="0.303" stop-color="#a0fb00"/><stop offset="0.392" stop-color="#c0fd00"/><stop offset="0.437" stop-color="#dffe00"/><stop offset="0.448" stop-color="#feef00"/><stop offset="0.459" stop-color="#fec300"/><stop offset="0.474" stop-color="#fc6000"/><stop offset="0.485" stop-color="#fc5c00"/><stop offset="0.500" stop-color="#fc6400"/><stop offset="0.511" stop-color="#fda500"/><stop offset="0.515" stop-color="#fd8f00"/><stop offset="0.519" stop-color="#fc6200"/><stop offset="0.537" stop-color="#fc6000"/><stop offset="0.552" stop-color="#feb300"/><stop offset="0.556" stop-color="#fdae00"/><stop offset="0.563" stop-color="#fc6a00"/><stop offset="0.582" stop-color="#fb3c00"/><stop offset="0.604" stop-color="#fc5000"/><stop offset="0.623" stop-color="#fd8d00"/><stop offset="0.652" stop-color="#feb300"/><stop offset="0.779" stop-color="#fda200"/><stop offset="0.831" stop-color="#fec400"/><stop offset="0.875" stop-color="#f8ff00"/><stop offset="0.942" stop-color="#b1fc00"/><stop offset="0.994" stop-color="#67f900"/><stop offset="0.998" stop-color="#66f900"/></linearGradient><linearGradient id="g82" x2="1"><stop offset="0.002" stop-color="#b2fc00"/><stop offset="0.299" stop-color="#a3fb00"/><stop offset="0.388" stop-color="#c0fd00"/><stop offset="0.448" stop-color="#e5fe00"/><stop offset="0.459" stop-color="#ffef00"/><stop offset="0.478" stop-color="#fc7600"/><stop offset="0.500" stop-color="#fd9100"/><stop offset="0.511" stop-color="#fd9c00"/><stop offset="0.526" stop-color="#fc7c00"/><stop offset="0.563" stop-color="#fd8f00"/><stop offset="0.578" stop-color="#fc6100"/><stop offset="0.600" stop-color="#fd8200"/><stop offset="0.615" stop-color="#fda600"/><stop offset="0.667" stop-color="#fdac00"/><stop offset="0.790" stop-color="#fda500"/><stop offset="0.838" stop-color="#fecf00"/><stop offset="0.875" stop-color="#f8ff00"/><stop offset="0.942" stop-color="#affc00"/><stop offset="0.994" stop-color="#63f900"/><stop offset="0.998" stop-color="#62f900"/></linearGradient><linearGradient id="g83" x2="1"><stop offset="0.002" stop-color="#b5fc00"/><stop offset="0.292" stop-color="#a5fb00"/><stop offset="0.385" stop-color="#c1fd00"/><stop offset="0.452" stop-color="#e6fe00"/><stop offset="0.467" stop-color="#fff100"/><stop offset="0.481" stop-color="#fdb100"/><stop offset="0.515" stop-color="#fdae00"/><stop offset="0.530" stop-color="#feb700"/><stop offset="0.552" stop-color="#fd8900"/><stop offset="0.567" stop-color="#fda300"/><stop offset="0.578" stop-color="#fd8e00"/><stop offset="0.604" stop-color="#fdaf00"/><stop offset="0.790" stop-color="#fda600"/><stop offset="0.838" stop-color="#fecf00"/><stop offset="0.875" stop-color="#f7ff00"/><stop offset="0.942" stop-color="#acfc00"/><stop offset="0.994" stop-color="#5ef900"/><stop offset="0.998" stop-color="#5ef900"/></linearGradient><linearGradient id="g84" x2="1"><stop offset="0.002" stop-color="#b7fc00"/><stop offset="0.284" stop-color="#a8fc00"/><stop offset="0.385" stop-color="#c4fd00"/><stop offset="0.448" stop-color="#e5fe00"/><stop offset="0.467" stop-color="#fffd00"/><stop offset="0.481" stop-color="#fece00"/><stop offset="0.507" stop-color="#feb900"/><stop offset="0.541" stop-color="#fdb100"/><stop offset="0.790" stop-color="#fda600"/><stop offset="0.838" stop-color="#fed100"/><stop offset="0.875" stop-color="#f7ff00"/><stop offset="0.939" stop-color="#affc00"/><stop offset="0.994" stop-color="#5af900"/><stop offset="0.998" stop-color="#59f800"/></linearGradient><linearGradient id="g85" x2="1"><stop offset="0.002" stop-color="#bafc00"/><stop offset="0.277" stop-color="#abfc00"/><stop offset="0.381" stop-color="#c5fd00"/><stop offset="0.444" stop-color="#e4fe00"/><stop offset="0.467" stop-color="#fff900"/><stop offset="0.481" stop-color="#fecb00"/><stop offset="0.589" stop-color="#fdaf00"/><stop offset="0.786" stop-color="#fda600"/><stop offset="0.835" stop-color="#fecc00"/><stop offset="0.872" stop-color="#fbff00"/><stop offset="0.939" stop-color="#adfc00"/><stop offset="0.994" stop-color="#55f800"/><stop offset="0.998" stop-color="#55f800"/></linearGradient><linearGradient id="g86" x2="1"><stop offset="0.002" stop-color="#bcfc00"/><stop offset="0.273" stop-color="#aefc00"/><stop offset="0.381" stop-color="#c8fd00"/><stop offset="0.441" stop-color="#e1fe00"/><stop offset="0.467" stop-color="#fff300"/><stop offset="0.481" stop-color="#fec500"/><stop offset="0.664" stop-color="#fda700"/><stop offset="0.797" stop-color="#fdaa00"/><stop offset="0.846" stop-color="#fee000"/><stop offset="0.875" stop-color="#f6ff00"/><stop offset="0.939" stop-color="#aafc00"/><stop offset="0.994" stop-color="#51f800"/><stop offset="0.998" stop-color="#50f800"/></linearGradient><linearGradient id="g87" x2="1"><stop offset="0.002" stop-color="#befc00"/><stop offset="0.266" stop-color="#b0fc00"/><stop offset="0.429" stop-color="#d6fd00"/><stop offset="0.463" stop-color="#fff700"/><stop offset="0.481" stop-color="#fec000"/><stop offset="0.675" stop-color="#fda500"/><stop offset="0.797" stop-color="#fdab00"/><stop offset="0.849" stop-color="#ffe800"/><stop offset="0.875" stop-color="#f6ff00"/><stop offset="0.935" stop-color="#aefc00"/><stop offset="0.994" stop-color="#4cf800"/><stop offset="0.998" stop-color="#4bf800"/></linearGradient><linearGradient id="g88" x2="1"><stop offset="0.002" stop-color="#c1fd00"/><stop offset="0.258" stop-color="#b3fc00"/><stop offset="0.429" stop-color="#d7fd00"/><stop offset="0.463" stop-color="#fff400"/><stop offset="0.481" stop-color="#febc00"/><stop offset="0.664" stop-color="#fda400"/><stop offset="0.797" stop-color="#fdac00"/><stop offset="0.872" stop-color="#f9ff00"/><stop offset="0.935" stop-color="#abfc00"/><stop offset="0.994" stop-color="#48f800"/><stop offset="0.998" stop-color="#47f800"/></linearGradient><linearGradient id="g89" x2="1"><stop offset="0.002" stop-color="#c3fd00"/><stop offset="0.255" stop-color="#b5fc00"/><stop offset="0.433" stop-color="#dbfe00"/><stop offset="0.459" stop-color="#fffa00"/><stop offset="0.481" stop-color="#feba00"/><stop offset="0.656" stop-color="#fda300"/><stop offset="0.797" stop-color="#fdad00"/><stop offset="0.872" stop-color="#f9ff00"/><stop offset="0.931" stop-color="#affc00"/><stop offset="0.994" stop-color="#44f800"/><stop offset="0.998" stop-color="#43f800"/></linearGradient><linearGradient id="g90" x2="1"><stop offset="0.002" stop-color="#c5fd00"/><stop offset="0.251" stop-color="#b8fc00"/><stop offset="0.433" stop-color="#dbfe00"/><stop offset="0.459" stop-color="#fff900"/><stop offset="0.481" stop-color="#feb800"/><stop offset="0.656" stop-color="#fda200"/><stop offset="0.797" stop-color="#fdad00"/><stop offset="0.872" stop-color="#f8ff00"/><stop offset="0.931" stop-color="#adfc00"/><stop offset="0.994" stop-color="#40f800"/><stop offset="0.998" stop-color="#3ff700"/></linearGradient><linearGradient id="g91" x2="1"><stop offset="0.002" stop-color="#c6fd00"/><stop offset="0.247" stop-color="#b9fc00"/><stop offset="0.433" stop-color="#dbfe00"/><stop offset="0.459" stop-color="#fff900"/><stop offset="0.481" stop-color="#feb700"/><stop offset="0.656" stop-color="#fda200"/><stop offset="0.797" stop-color="#fdae00"/><stop offset="0.872" stop-color="#f8ff00"/><stop offset="0.931" stop-color="#acfc00"/><stop offset="0.994" stop-color="#3ef700"/><stop offset="0.998" stop-color="#3df700"/></linearGradient><linearGradient id="g92" x2="1"><stop offset="0.002" stop-color="#c6fd00"/><stop offset="0.247" stop-color="#b9fc00"/><stop offset="0.433" stop-color="#dbfe00"/><stop offset="0.459" stop-color="#fff900"/><stop offset="0.481" stop-color="#feb700"/><stop offset="0.656" stop-color="#fda100"/><stop offset="0.797" stop-color="#fdae00"/><stop offset="0.872" stop-color="#f8ff00"/><stop offset="0.931" stop-color="#acfc00"/><stop offset="0.994" stop-color="#3df700"/><stop offset="0.998" stop-color="#3cf700"/></linearGradient></defs><rect y="0" width="269" height="3" fill="url(#g0)"/><rect y="2" width="269" height="3" fill="url(#g1)"/><rect y="4" width="269" height="3" fill="url(#g2)"/><rect y="6" width="269" height="3" fill="url(#g3)"/><rect y="8" width="269" height="3" fill="url(#g4)"/><rect y="10" width="269" height="3" fill="url(#g5)"/><rect y="12" width="269" height="3" fill="url(#g6)"/><rect y="14" width="269" height="3" fill="url(#g7)"/><rect y="16" width="269" height="3" fill="url(#g8)"/><rect y="18" width="269" height="3" fill="url(#g9)"/><rect y="20" width="269" height="3" fill="url(#g10)"/><rect y="22" width="269" height="3" fill="url(#g11)"/><rect y="24" width="269" height="3" fill="url(#g12)"/><rect y="26" width="269" height="3" fill="url(#g13)"/><rect y="28" width="269" height="3" fill="url(#g14)"/><rect y="30" width="269" height="3" fill="url(#g15)"/><rect y="32" width="269" height="3" fill="url(#g16)"/><rect y="34" width="269" height="3" fill="url(#g17)"/><rect y="36" width="269" height="3" fill="url(#g18)"/><rect y="38" width="269" height="3" fill="url(#g19)"/><rect y="40" width="269" height="3" fill="url(#g20)"/><rect y="42" width="269" height="3" fill="url(#g21)"/><rect y="44" width="269" height="3" fill="url(#g22)"/><rect y="46" width="269" height="3" fill="url(#g23)"/><rect y="48" width="269" height="3" fill="url(#g24)"/><rect y="50" width="269" height="3" fill="url(#g25)"/><rect y="52" width="269" height="3" fill="url(#g26)"/><rect y="54" width="269" height="3" fill="url(#g27)"/><rect y="56" width="269" height="3" fill="url(#g28)"/><rect y="58" width="269" height="3" fill="url(#g29)"/><rect y="60" width="269" height="3" fill="url(#g30)"/><rect y="62" width="269" height="3" fill="url(#g31)"/><rect y="64" width="269" height="3" fill="url(#g32)"/><rect y="66" width="269" height="3" fill="url(#g33)"/><rect y="68" width="269" height="3" fill="url(#g34)"/><rect y="70" width="269" height="3" fill="url(#g35)"/><rect y="72" width="269" height="3" fill="url(#g36)"/><rect y="74" width="269" height="3" fill="url(#g37)"/><rect y="76" width="269" height="3" fill="url(#g38)"/><rect y="78" width="269" height="3" fill="url(#g39)"/><rect y="80" width="269" height="3" fill="url(#g40)"/><rect y="82" width="269" height="3" fill="url(#g41)"/><rect y="84" width="269" height="3" fill="url(#g42)"/><rect y="86" width="269" height="3" fill="url(#g43)"/><rect y="88" width="269" height="3" fill="url(#g44)"/><rect y="90" width="269" height="3" fill="url(#g45)"/><rect y="92" width="269" height="3" fill="url(#g46)"/><rect y="94" width="269" height="3" fill="url(#g47)"/><rect y="96" width="269" height="3" fill="url(#g48)"/><rect y="98" width="269" height="3" fill="url(#g49)"/><rect y="100" width="269" height="3" fill="url(#g50)"/><rect y="102" width="269" height="3" fill="url(#g51)"/><rect y="104" width="269" height="3" fill="url(#g52)"/><rect y="106" width="269" height="3" fill="url(#g53)"/><rect y="108" width="269" height="3" fill="url(#g54)"/><rect y="110" width="269" height="3" fill="url(#g55)"/><rect y="112" width="269" height="3" fill="url(#g56)"/><rect y="114" width="269" height="3" fill="url(#g57)"/><rect y="116" width="269" height="3" fill="url(#g58)"/><rect y="118" width="269" height="3" fill="url(#g59)"/><rect y="120" width="269" height="3" fill="url(#g60)"/><rect y="122" width="269" height="3" fill="url(#g61)"/><rect y="124" width="269" height="3" fill="url(#g62)"/><rect y="126" width="269" height="3" fill="url(#g63)"/><rect y="128" width="269" height="3" fill="url(#g64)"/><rect y="130" width="269" height="3" fill="url(#g65)"/><rect y="132" width="269" height="3" fill="url(#g66)"/><rect y="134" width="269" height="3" fill="url(#g67)"/><rect y="136" width="269" height="3" fill="url(#g68)"/><rect y="138" width="269" height="3" fill="url(#g69)"/><rect y="140" width="269" height="3" fill="url(#g70)"/><rect y="142" width="269" height="3" fill="url(#g71)"/><rect y="144" width="269" height="3" fill="url(#g72)"/><rect y="146" width="269" height="3" fill="url(#g73)"/><rect y="148" width="269" height="3" fill="url(#g74)"/><rect y="150" width="269" height="3" fill="url(#g75)"/><rect y="152" width="269" height="3" fill="url(#g76)"/><rect y="154" width="269" height="3" fill="url(#g77)"/><rect y="156" width="269" height="3" fill="url(#g78)"/><rect y="158" width="269" height="3" fill="url(#g79)"/><rect y="160" width="269" height="3" fill="url(#g80)"/><rect y="162" width="269" height="3" fill="url(#g81)"/><rect y="164" width="269" height="3" fill="url(#g82)"/><rect y="166" width="269" height="3" fill="url(#g83)"/><rect y="168" width="269" height="3" fill="url(#g84)"/><rect y="170" width="269" height="3" fill="url(#g85)"/><rect y="172" width="269" height="3" fill="url(#g86)"/><rect y="174" width="269" height="3" fill="url(#g87)"/><rect y="176" width="269" height="3" fill="url(#g88)"/><rect y="178" width="269" height="3" fill="url(#g89)"/><rect y="180" width="269" height="3" fill="url(#g90)"/><rect y="182" width="269" height="3" fill="url(#g91)"/><rect y="184" width="269" height="1" fill="url(#g92)"/>
</g>
<g filter="url(#ab)"><path d="M174.3 27.2L179.7 27.3M180.3 27.2L185.6 27.3M186.2 27.2L191.6 27.3M192.2 27.2L197.5 27.3M198.1 27.1L203.5 27.4M204.1 27.1L209.4 27.4M210.0 27.1L215.4 27.4M216.0 27.2L221.3 27.3M221.9 27.2L227.3 27.3M227.9 27.2L233.2 27.3M233.8 27.2L239.2 27.3M239.8 27.1L245.1 27.4M245.8 27.0L251.0 27.5M251.7 27.0L257.0 27.5M257.7 27.0L262.9 27.5M263.7 27.0L268.8 27.5M269.7 27.0L274.7 27.5M275.7 26.8L280.6 27.7M281.7 26.8L286.5 27.7M287.8 26.8L292.3 27.7M293.8 26.8L298.2 27.7M299.8 26.8L304.1 27.7M305.9 26.8L309.9 27.7M311.9 26.8L315.8 27.7M317.9 26.9L321.7 27.6M323.9 27.0L327.6 27.5M329.9 27.1L333.5 27.4M335.9 27.1L339.4 27.4M341.9 27.4L345.3 27.1M347.8 27.6L351.3 26.9M353.8 27.6L357.2 26.9M359.8 27.8L363.1 26.7M365.8 27.8L369.0 26.7M371.7 28.0L375.0 26.5M377.6 28.1L381.0 26.4M383.5 28.1L387.0 26.4M389.3 28.1L393.1 26.4M395.2 28.2L399.1 26.3M401.1 28.4L405.1 26.1M406.9 28.5L411.2 26.0M412.8 28.5L417.2 26.0M418.7 28.5L423.2 26.0M424.6 28.5L429.2 26.0M430.6 28.6L435.1 25.9M436.5 28.6L441.1 25.9M174.3 31.7L179.7 31.7M180.3 31.7L185.6 31.7M186.2 31.7L191.6 31.7M192.2 31.6L197.5 31.8M198.1 31.6L203.5 31.8M204.1 31.6L209.4 31.8M210.0 31.6L215.4 31.8M216.0 31.6L221.3 31.8M221.9 31.7L227.3 31.7M227.9 31.7L233.2 31.7M233.8 31.7L239.2 31.7M239.8 31.6L245.1 31.8M245.8 31.5L251.0 31.9M251.7 31.4L257.0 32.0M257.7 31.5L262.9 31.9M263.7 31.5L268.8 31.9M269.7 31.4L274.7 32.0M275.7 31.3L280.6 32.1M281.7 31.2L286.5 32.2M287.7 31.2L292.4 32.2M293.8 31.2L298.2 32.2M299.8 31.2L304.1 32.2M305.9 31.3L309.9 32.1M311.9 31.3L315.8 32.1M317.9 31.3L321.7 32.1M323.9 31.5L327.6 31.9M329.9 31.6L333.5 31.8M335.9 31.6L339.4 31.8M341.9 31.9L345.3 31.5M347.8 32.0L351.3 31.4M353.8 32.1L357.2 31.3M359.8 32.3L363.1 31.1M365.7 32.3L369.1 31.1M371.7 32.4L375.0 31.0M377.6 32.5L381.0 30.9M383.5 32.6L387.0 30.8M389.3 32.6L393.1 30.8M395.2 32.7L399.1 30.7M401.1 32.8L405.1 30.6M406.9 32.9L411.2 30.5M412.8 32.9L417.2 30.5M418.7 32.9L423.2 30.5M424.6 33.0L429.2 30.4M430.6 33.0L435.1 30.4M436.5 33.0L441.1 30.4M174.3 36.1L179.7 36.2M180.3 36.1L185.6 36.2M186.2 36.1L191.6 36.2M192.2 36.1L197.5 36.2M198.1 36.0L203.5 36.3M204.1 36.0L209.4 36.3M210.0 36.0L215.4 36.3M216.0 36.1L221.3 36.2M221.9 36.1L227.3 36.2M227.9 36.1L233.2 36.2M233.8 36.1L239.2 36.2M239.8 36.0L245.1 36.3M245.8 35.9L251.0 36.4M251.7 35.9L257.0 36.4M257.7 35.9L262.9 36.4M263.7 35.9L268.8 36.4M269.7 35.8L274.7 36.5M275.7 35.7L280.6 36.6M281.7 35.6L286.5 36.7M287.7 35.6L292.4 36.7M293.8 35.7L298.2 36.6M299.8 35.7L304.1 36.6M305.9 35.7L309.9 36.6M311.9 35.7L315.8 36.6M317.9 35.8L321.7 36.5M323.9 35.9L327.6 36.4M329.9 36.0L333.5 36.3M335.9 36.1L339.4 36.2M341.9 36.3L345.3 36.0M347.8 36.4L351.3 35.9M353.8 36.5L357.2 35.8M359.8 36.7L363.1 35.6M365.7 36.7L369.1 35.6M371.6 36.8L375.1 35.5M377.6 36.9L381.0 35.4M383.5 37.0L387.0 35.3M389.3 37.0L393.1 35.3M395.1 37.1L399.2 35.2M401.0 37.3L405.2 35.0M406.9 37.3L411.2 35.0M412.8 37.4L417.2 34.9M418.7 37.4L423.2 34.9M424.6 37.4L429.2 34.9M430.5 37.4L435.2 34.9M436.5 37.5L441.1 34.8M174.3 40.6L179.7 40.6M180.3 40.6L185.6 40.6M186.2 40.5L191.6 40.7M192.2 40.5L197.5 40.7M198.1 40.5L203.5 40.7M204.1 40.4L209.4 40.8M210.0 40.4L215.4 40.8M216.0 40.5L221.3 40.7M221.9 40.5L227.3 40.7M227.9 40.5L233.2 40.7M233.9 40.5L239.1 40.7M239.8 40.4L245.1 40.8M245.8 40.3L251.0 40.9M251.7 40.3L257.0 40.9M257.7 40.3L262.9 40.9M263.7 40.2L268.8 41.0M269.7 40.2L274.7 41.0M275.7 40.1L280.6 41.1M281.7 40.1L286.5 41.1M287.7 40.0L292.4 41.2M293.8 40.1L298.2 41.1M299.8 40.1L304.1 41.1M305.8 40.1L310.0 41.1M311.9 40.1L315.8 41.1M317.9 40.2L321.7 41.0M323.9 40.3L327.6 40.9M330.0 40.4L333.4 40.8M335.9 40.5L339.4 40.7M341.9 40.7L345.3 40.5M347.8 40.8L351.3 40.4M353.8 40.9L357.2 40.3M359.7 41.1L363.2 40.1M365.7 41.2L369.1 40.0M371.6 41.3L375.1 39.9M377.5 41.4L381.1 39.8M383.4 41.4L387.1 39.8M389.3 41.5L393.1 39.7M395.1 41.6L399.2 39.6M401.0 41.7L405.2 39.5M406.9 41.8L411.2 39.4M412.8 41.8L417.2 39.4M418.7 41.8L423.2 39.4M424.6 41.8L429.2 39.4M430.5 41.9L435.2 39.3M436.5 41.9L441.1 39.3M174.3 45.0L179.7 45.1M180.3 45.0L185.6 45.1M186.2 45.0L191.6 45.1M192.2 44.9L197.5 45.2M198.1 44.9L203.5 45.2M204.1 44.9L209.4 45.2M210.0 44.9L215.4 45.2M216.0 44.9L221.3 45.2M221.9 44.9L227.3 45.2M227.9 44.9L233.2 45.2M233.8 44.9L239.2 45.2M239.8 44.8L245.1 45.3M245.8 44.7L251.0 45.4M251.7 44.7L257.0 45.4M257.7 44.7L262.9 45.4M263.7 44.7L268.8 45.4M269.7 44.6L274.7 45.5M275.7 44.5L280.6 45.6M281.7 44.4L286.5 45.7M287.7 44.4L292.4 45.7M293.8 44.4L298.2 45.7M299.8 44.5L304.1 45.6M305.8 44.5L310.0 45.6M311.9 44.5L315.8 45.6M317.9 44.5L321.7 45.6M323.9 44.7L327.6 45.4M330.0 44.7L333.4 45.4M336.0 44.9L339.3 45.2M341.9 45.1L345.3 45.0M347.8 45.3L351.3 44.8M353.7 45.4L357.3 44.7M359.7 45.6L363.2 44.5M365.7 45.6L369.1 44.5M371.6 45.7L375.1 44.4M377.5 45.8L381.1 44.3M383.4 45.9L387.1 44.2M389.3 46.0L393.1 44.1M395.1 46.0L399.2 44.1M401.0 46.2L405.2 43.9M406.9 46.2L411.2 43.9M412.8 46.3L417.2 43.8M418.7 46.3L423.2 43.8M424.6 46.3L429.2 43.8M430.5 46.3L435.2 43.8M436.5 46.3L441.1 43.8M174.3 49.5L179.7 49.5M180.3 49.5L185.6 49.5M186.2 49.4L191.6 49.6M192.2 49.4L197.5 49.6M198.1 49.3L203.5 49.7M204.1 49.3L209.4 49.7M210.0 49.3L215.4 49.7M216.0 49.4L221.3 49.6M221.9 49.4L227.3 49.6M227.9 49.4L233.2 49.6M233.8 49.4L239.2 49.6M239.8 49.3L245.1 49.7M245.8 49.2L251.0 49.8M251.7 49.1L257.0 49.9M257.7 49.1L262.9 49.9M263.6 49.1L268.9 49.9M269.6 49.1L274.8 49.9M275.7 48.9L280.6 50.1M281.7 48.8L286.5 50.2M287.7 48.8L292.4 50.2M293.7 48.8L298.3 50.2M299.8 48.9L304.1 50.1M305.8 48.8L310.0 50.2M311.9 48.8L315.8 50.2M317.9 48.9L321.7 50.1M323.9 49.0L327.6 50.0M330.1 49.1L333.3 49.9M336.1 49.2L339.2 49.8M341.8 49.6L345.4 49.4M347.8 49.7L351.3 49.3M353.7 49.8L357.3 49.2M359.7 50.1L363.2 48.9M365.7 50.2L369.1 48.8M371.6 50.2L375.1 48.8M377.5 50.3L381.1 48.7M383.4 50.4L387.1 48.6M389.3 50.5L393.1 48.5M395.1 50.5L399.2 48.5M401.0 50.6L405.2 48.4M406.9 50.7L411.2 48.3M412.8 50.7L417.2 48.3M418.7 50.7L423.2 48.3M424.6 50.7L429.2 48.3M430.6 50.8L435.1 48.2M436.5 50.8L441.1 48.2M174.3 53.9L179.7 54.0M180.3 53.9L185.6 54.0M186.2 53.9L191.6 54.0M192.2 53.8L197.5 54.1M198.1 53.8L203.5 54.1M204.1 53.8L209.4 54.1M210.0 53.8L215.4 54.1M216.0 53.8L221.3 54.1M221.9 53.8L227.3 54.1M227.9 53.9L233.2 54.0M233.8 53.8L239.2 54.1M239.8 53.7L245.1 54.2M245.7 53.6L251.1 54.3M251.7 53.5L257.0 54.4M257.6 53.6L263.0 54.3M263.6 53.6L268.9 54.3M269.6 53.5L274.8 54.4M275.6 53.3L280.7 54.6M281.7 53.2L286.5 54.7M287.7 53.2L292.4 54.7M293.7 53.3L298.3 54.6M299.7 53.3L304.2 54.6M305.8 53.2L310.0 54.7M311.9 53.2L315.8 54.7M317.9 53.3L321.7 54.6M323.9 53.4L327.6 54.5M330.2 53.5L333.2 54.4M336.3 53.7L339.0 54.2M341.9 54.1L345.3 53.8M347.7 54.2L351.4 53.7M353.7 54.3L357.3 53.6M359.7 54.6L363.2 53.3M365.7 54.7L369.1 53.2M371.6 54.7L375.1 53.2M377.5 54.8L381.1 53.1M383.4 54.9L387.1 53.0M389.2 55.0L393.2 52.9M395.1 55.0L399.2 52.9M401.0 55.1L405.2 52.8M406.9 55.2L411.2 52.7M412.8 55.2L417.2 52.7M418.7 55.2L423.2 52.7M424.6 55.2L429.2 52.7M430.6 55.2L435.1 52.7M436.5 55.3L441.1 52.6M174.3 58.4L179.7 58.4M180.3 58.4L185.6 58.4M186.2 58.3L191.6 58.5M192.2 58.3L197.5 58.5M198.1 58.2L203.5 58.6M204.1 58.2L209.4 58.6M210.0 58.2L215.4 58.6M216.0 58.2L221.3 58.6M221.9 58.3L227.3 58.5M227.8 58.3L233.3 58.5M233.8 58.3L239.2 58.5M239.7 58.1L245.2 58.7M245.7 58.0L251.1 58.8M251.7 58.0L257.0 58.8M257.6 58.0L263.0 58.8M263.6 58.0L268.9 58.8M269.6 58.0L274.8 58.8M275.6 57.8L280.7 59.0M281.6 57.7L286.6 59.1M287.6 57.7L292.5 59.1M293.7 57.7L298.3 59.1M299.7 57.7L304.2 59.1M305.8 57.7L310.0 59.1M311.8 57.7L315.9 59.1M317.8 57.7L321.8 59.1M323.8 57.9L327.7 58.9M330.1 58.0L333.3 58.8M336.7 58.2L338.6 58.6M342.1 58.5L345.1 58.3M347.7 58.7L351.4 58.1M353.7 58.7L357.3 58.1M359.7 59.1L363.2 57.7M365.6 59.1L369.2 57.7M371.5 59.1L375.2 57.7M377.5 59.3L381.1 57.5M383.4 59.4L387.1 57.4M389.2 59.4L393.2 57.4M395.1 59.4L399.2 57.4M401.0 59.6L405.2 57.2M406.9 59.7L411.2 57.1M412.8 59.7L417.2 57.1M418.7 59.6L423.2 57.2M424.6 59.6L429.2 57.2M430.6 59.7L435.1 57.1M436.5 59.7L441.1 57.1M174.3 62.8L179.7 62.9M180.3 62.8L185.6 62.9M186.2 62.8L191.6 62.9M192.2 62.7L197.5 63.0M198.1 62.7L203.5 63.0M204.1 62.6L209.4 63.1M210.0 62.6L215.4 63.1M216.0 62.7L221.3 63.0M221.9 62.7L227.3 63.0M227.8 62.7L233.3 63.0M233.8 62.6L239.2 63.1M239.7 62.5L245.2 63.2M245.7 62.4L251.1 63.3M251.6 62.4L257.1 63.3M257.6 62.4L263.0 63.3M263.6 62.4L268.9 63.3M269.6 62.3L274.8 63.4M275.6 62.2L280.7 63.5M281.6 62.1L286.6 63.6M287.6 62.1L292.5 63.6M293.6 62.1L298.4 63.6M299.7 62.1L304.2 63.6M305.7 62.1L310.1 63.6M311.8 62.1L315.9 63.6M317.8 62.2L321.8 63.5M323.8 62.3L327.7 63.4M330.0 62.4L333.4 63.3M336.7 62.7L338.6 63.0M342.3 62.9L344.9 62.8M347.8 63.0L351.3 62.7M353.6 63.2L357.4 62.5M359.6 63.4L363.3 62.3M365.6 63.5L369.2 62.2M371.5 63.5L375.2 62.2M377.4 63.7L381.2 62.0M383.3 63.8L387.2 61.9M389.2 63.8L393.2 61.9M395.0 63.9L399.3 61.8M400.9 64.0L405.3 61.7M406.8 64.1L411.3 61.6M412.8 64.1L417.2 61.6M418.7 64.1L423.2 61.6M424.6 64.1L429.2 61.6M430.6 64.1L435.1 61.6M436.5 64.1L441.1 61.6M174.3 67.3L179.7 67.3M180.3 67.3L185.6 67.3M186.2 67.2L191.6 67.4M192.2 67.2L197.5 67.4M198.1 67.1L203.5 67.5M204.1 67.1L209.4 67.5M210.0 67.1L215.4 67.5M216.0 67.1L221.3 67.5M221.9 67.1L227.3 67.5M227.8 67.1L233.3 67.5M233.8 67.0L239.2 67.6M239.7 66.9L245.2 67.7M245.7 66.8L251.1 67.8M251.6 66.8L257.1 67.8M257.6 66.8L263.0 67.8M263.6 66.7L268.9 67.9M269.6 66.7L274.8 67.9M275.6 66.6L280.7 68.0M281.6 66.5L286.6 68.1M287.6 66.5L292.5 68.1M293.6 66.5L298.4 68.1M299.7 66.4L304.2 68.2M305.7 66.5L310.1 68.1M311.7 66.5L316.0 68.1M317.8 66.6L321.8 68.0M323.8 66.7L327.7 67.9M329.9 66.9L333.5 67.7M336.5 67.1L338.8 67.5M342.6 67.3L344.6 67.3M348.0 67.4L351.1 67.2M353.6 67.6L357.4 67.0M359.6 67.8L363.3 66.8M365.5 67.9L369.3 66.7M371.4 67.9L375.3 66.7M377.4 68.1L381.2 66.5M383.3 68.2L387.2 66.4M389.1 68.3L393.3 66.3M395.0 68.3L399.3 66.3M400.9 68.4L405.3 66.2M406.8 68.5L411.3 66.1M412.8 68.5L417.2 66.1M418.7 68.5L423.2 66.1M424.6 68.5L429.2 66.1M430.6 68.5L435.1 66.1M436.5 68.6L441.1 66.0M174.3 71.7L179.7 71.8M180.3 71.7L185.6 71.8M186.2 71.7L191.6 71.8M192.2 71.6L197.5 71.9M198.1 71.5L203.5 72.0M204.1 71.5L209.4 72.0M210.0 71.5L215.4 72.0M215.9 71.6L221.4 71.9M221.9 71.6L227.3 71.9M227.8 71.5L233.3 72.0M233.7 71.4L239.3 72.1M239.7 71.3L245.2 72.2M245.7 71.2L251.1 72.3M251.6 71.2L257.1 72.3M257.6 71.2L263.0 72.3M263.6 71.1L268.9 72.4M269.6 71.0L274.8 72.5M275.6 70.9L280.7 72.6M281.6 70.9L286.6 72.6M287.6 70.9L292.5 72.6M293.6 70.8L298.4 72.7M299.7 70.8L304.2 72.7M305.7 70.8L310.1 72.7M311.7 70.9L316.0 72.6M317.8 70.9L321.8 72.6M323.8 71.0L327.7 72.5M329.8 71.2L333.6 72.3M336.3 71.5L339.0 72.0M342.6 71.7L344.6 71.8M348.2 71.7L350.9 71.8M353.6 72.0L357.4 71.5M359.5 72.2L363.4 71.3M365.5 72.3L369.3 71.2M371.4 72.4L375.3 71.1M377.4 72.6L381.2 70.9M383.3 72.7L387.2 70.8M389.1 72.7L393.3 70.8M395.0 72.8L399.3 70.7M400.9 72.9L405.3 70.6M406.8 73.0L411.3 70.5M412.8 73.0L417.2 70.5M418.7 72.9L423.2 70.6M424.6 72.9L429.2 70.6M430.6 73.0L435.1 70.5M436.5 73.0L441.1 70.5M174.3 76.2L179.7 76.2M180.2 76.2L185.7 76.2M186.2 76.1L191.6 76.3M192.1 76.1L197.6 76.3M198.1 76.0L203.5 76.4M204.0 76.0L209.5 76.4M210.0 76.0L215.4 76.4M215.9 76.0L221.4 76.4M221.8 76.0L227.4 76.4M227.8 76.0L233.3 76.4M233.7 75.9L239.3 76.5M239.7 75.7L245.2 76.7M245.7 75.7L251.1 76.7M251.6 75.7L257.1 76.7M257.6 75.7L263.0 76.7M263.6 75.5L268.9 76.9M269.6 75.3L274.8 77.1M275.6 75.3L280.7 77.1M281.6 75.3L286.6 77.1M287.6 75.2L292.5 77.2M293.6 75.1L298.4 77.3M299.7 75.1L304.2 77.3M305.7 75.1L310.1 77.3M311.7 75.2L316.0 77.2M317.7 75.2L321.9 77.2M323.8 75.2L327.7 77.2M329.7 75.4L333.7 77.0M336.1 76.0L339.2 76.4M342.6 76.1L344.6 76.3M348.3 76.1L350.8 76.3M353.7 76.5L357.3 75.9M359.5 76.8L363.4 75.6M365.5 76.8L369.3 75.6M371.4 76.8L375.3 75.6M377.4 77.1L381.2 75.3M383.3 77.2L387.2 75.2M389.1 77.3L393.3 75.1M395.0 77.3L399.3 75.1M400.9 77.4L405.3 75.0M406.9 77.5L411.2 74.9M412.8 77.4L417.2 75.0M418.7 77.4L423.2 75.0M424.6 77.4L429.2 75.0M430.6 77.5L435.1 74.9M436.5 77.5L441.1 74.9M174.3 80.6L179.7 80.7M180.2 80.6L185.7 80.7M186.2 80.6L191.6 80.7M192.1 80.5L197.6 80.8M198.1 80.4L203.5 80.9M204.0 80.4L209.5 80.9M209.9 80.4L215.5 80.9M215.9 80.5L221.4 80.8M221.8 80.5L227.4 80.8M227.8 80.5L233.3 80.8M233.7 80.3L239.3 81.0M239.7 80.2L245.2 81.1M245.7 80.1L251.1 81.2M251.6 80.2L257.1 81.1M257.5 80.1L263.1 81.2M263.5 79.9L269.0 81.4M269.6 79.7L274.8 81.6M275.6 79.7L280.7 81.6M281.6 79.7L286.6 81.6M287.6 79.7L292.5 81.6M293.6 79.5L298.4 81.8M299.7 79.5L304.2 81.8M305.7 79.5L310.1 81.8M311.7 79.6L316.0 81.7M317.7 79.6L321.9 81.7M323.7 79.6L327.8 81.7M329.4 79.6L334.0 81.7M335.5 80.3L339.8 81.0M342.3 80.5L344.9 80.8M348.3 80.6L350.8 80.7M353.6 81.0L357.4 80.3M359.6 81.3L363.3 80.0M365.5 81.2L369.3 80.1M371.5 81.3L375.2 80.0M377.4 81.6L381.2 79.7M383.3 81.7L387.2 79.6M389.1 81.7L393.3 79.6M394.9 81.7L399.4 79.6M400.9 81.9L405.3 79.4M406.9 81.9L411.2 79.4M412.8 81.9L417.2 79.4M418.7 81.8L423.2 79.5M424.6 81.8L429.2 79.5M430.6 81.9L435.1 79.4M436.6 81.9L441.0 79.4M174.3 85.1L179.7 85.1M180.2 85.1L185.7 85.1M186.1 85.0L191.7 85.2M192.1 84.9L197.6 85.3M198.0 84.9L203.6 85.3M204.0 84.9L209.5 85.3M209.9 84.9L215.5 85.3M215.9 84.9L221.4 85.3M221.8 84.9L227.4 85.3M227.8 84.8L233.3 85.4M233.7 84.7L239.3 85.5M239.7 84.6L245.2 85.6M245.6 84.5L251.2 85.7M251.5 84.6L257.2 85.6M257.5 84.5L263.1 85.7M263.5 84.2L269.0 86.0M269.5 84.1L274.9 86.1M275.5 84.1L280.8 86.1M281.5 84.2L286.7 86.0M287.6 84.1L292.5 86.1M293.6 84.0L298.4 86.2M299.6 83.9L304.3 86.3M305.6 83.9L310.2 86.3M311.6 84.0L316.1 86.2M317.6 84.0L322.0 86.2M323.6 84.0L327.9 86.2M329.2 84.0L334.2 86.2M334.9 84.5L340.4 85.7M340.7 84.8L346.5 85.4M347.2 84.9L351.9 85.3M353.6 85.4L357.4 84.8M359.6 85.6L363.3 84.6M365.5 85.6L369.3 84.6M371.5 85.6L375.2 84.6M377.5 85.9L381.1 84.3M383.4 86.0L387.1 84.2M389.1 86.1L393.3 84.1M394.9 86.1L399.4 84.1M400.9 86.3L405.3 83.9M406.8 86.4L411.3 83.8M412.8 86.3L417.2 83.9M418.7 86.3L423.2 83.9M424.6 86.3L429.2 83.9M430.6 86.3L435.1 83.9M436.6 86.4L441.0 83.8M174.2 89.5L179.8 89.6M180.2 89.5L185.7 89.6M186.1 89.5L191.7 89.6M192.1 89.4L197.6 89.7M198.0 89.3L203.6 89.8M204.0 89.3L209.5 89.8M209.9 89.3L215.5 89.8M215.8 89.3L221.5 89.8M221.8 89.3L227.4 89.8M227.7 89.2L233.4 89.9M233.6 89.1L239.4 90.0M239.5 89.0L245.4 90.1M245.5 88.9L251.3 90.2M251.4 88.8L257.3 90.3M257.4 88.6L263.2 90.5M263.5 88.4L269.0 90.7M269.5 88.4L274.9 90.7M275.5 88.5L280.8 90.6M281.5 88.5L286.7 90.6M287.6 88.4L292.5 90.7M293.6 88.4L298.4 90.7M299.6 88.4L304.3 90.7M305.6 88.4L310.2 90.7M311.6 88.4L316.1 90.7M317.5 88.4L322.1 90.7M323.5 88.4L328.0 90.7M329.3 88.5L334.1 90.6M334.9 88.7L340.4 90.4M340.5 89.0L346.7 90.1M346.8 89.2L352.3 89.9M353.6 89.5L357.4 89.6M359.5 89.8L363.4 89.3M365.5 89.8L369.3 89.3M371.4 89.9L375.3 89.2M377.4 90.2L381.2 88.9M383.4 90.3L387.1 88.8M389.1 90.4L393.3 88.7M394.9 90.5L399.4 88.6M400.8 90.7L405.4 88.4M406.8 90.7L411.3 88.4M412.7 90.7L417.3 88.4M418.7 90.7L423.2 88.4M424.6 90.7L429.2 88.4M430.6 90.7L435.1 88.4M436.5 90.8L441.1 88.3M174.3 94.0L179.7 94.0M180.2 94.0L185.7 94.0M186.1 93.9L191.7 94.1M192.1 93.8L197.6 94.2M198.0 93.8L203.6 94.2M204.0 93.8L209.5 94.2M209.9 93.8L215.5 94.2M215.9 93.8L221.4 94.2M221.8 93.7L227.4 94.3M227.6 93.6L233.5 94.4M233.5 93.6L239.5 94.4M239.3 93.4L245.6 94.6M245.2 93.3L251.6 94.7M251.2 93.2L257.5 94.8M257.4 92.7L263.2 95.3M263.5 92.6L269.0 95.4M269.5 92.6L274.9 95.4M275.5 92.8L280.8 95.2M281.6 92.8L286.6 95.2M287.6 92.7L292.5 95.3M293.6 92.7L298.4 95.3M299.6 92.7L304.3 95.3M305.6 92.7L310.2 95.3M311.5 92.7L316.2 95.3M317.5 92.8L322.1 95.2M323.4 92.8L328.1 95.2M329.4 92.8L334.0 95.2M335.1 92.9L340.2 95.1M340.7 93.0L346.5 95.0M347.2 93.3L351.9 94.7M353.7 93.6L357.3 94.4M359.5 93.9L363.4 94.1M365.4 94.0L369.4 94.0M371.4 94.2L375.3 93.8M377.4 94.5L381.2 93.5M383.4 94.7L387.1 93.3M389.2 94.8L393.2 93.2M394.8 94.9L399.5 93.1M400.8 95.1L405.4 92.9M406.8 95.1L411.3 92.9M412.7 95.1L417.3 92.9M418.6 95.1L423.3 92.9M424.6 95.1L429.2 92.9M430.6 95.2L435.1 92.8M436.5 95.2L441.1 92.8M174.3 98.4L179.7 98.5M180.3 98.4L185.6 98.5M186.2 98.4L191.6 98.5M192.1 98.3L197.6 98.6M198.1 98.3L203.5 98.6M204.0 98.3L209.5 98.6M209.9 98.3L215.5 98.6M215.8 98.3L221.5 98.6M221.7 98.1L227.5 98.8M227.5 98.0L233.6 98.9M233.3 97.9L239.7 99.0M239.1 97.8L245.8 99.1M245.0 97.7L251.8 99.2M251.0 97.5L257.7 99.4M257.3 96.8L263.3 100.1M263.4 96.8L269.1 100.1M269.6 96.8L274.8 100.1M275.6 96.9L280.7 100.0M281.7 97.0L286.5 99.9M287.7 97.0L292.4 99.9M293.6 97.1L298.4 99.8M299.6 97.1L304.3 99.8M305.6 97.0L310.2 99.9M311.6 97.1L316.1 99.8M317.5 97.2L322.1 99.7M323.4 97.2L328.1 99.7M329.5 97.1L333.9 99.8M335.4 97.1L339.9 99.8M341.0 97.2L346.2 99.7M347.1 97.3L352.0 99.6M353.8 97.7L357.2 99.2M359.5 98.1L363.4 98.8M365.4 98.3L369.4 98.6M371.4 98.5L375.3 98.4M377.4 99.0L381.2 97.9M383.4 99.2L387.1 97.7M389.2 99.3L393.2 97.6M394.8 99.4L399.5 97.5M400.8 99.5L405.4 97.4M406.8 99.6L411.3 97.3M412.7 99.6L417.3 97.3M418.6 99.6L423.3 97.3M424.6 99.6L429.2 97.3M430.5 99.6L435.2 97.3M436.5 99.7L441.1 97.2M174.4 102.9L179.6 102.9M180.4 102.9L185.5 102.9M186.3 102.8L191.5 103.0M192.2 102.7L197.5 103.1M198.2 102.7L203.4 103.1M204.1 102.7L209.4 103.1M210.0 102.8L215.4 103.0M215.8 102.7L221.5 103.1M221.6 102.6L227.6 103.2M227.4 102.4L233.7 103.4M233.1 102.3L239.9 103.5M238.9 102.3L246.0 103.5M244.9 102.0L251.9 103.8M251.0 101.5L257.7 104.3M257.2 101.1L263.4 104.7M263.3 101.0L269.2 104.8M269.6 101.0L274.8 104.8M275.6 101.2L280.7 104.6M281.6 101.4L286.6 104.4M287.7 101.4L292.4 104.4M293.7 101.5L298.3 104.3M299.7 101.5L304.2 104.3M305.7 101.5L310.1 104.3M311.6 101.5L316.1 104.3M317.5 101.5L322.1 104.3M323.5 101.5L328.0 104.3M329.5 101.4L333.9 104.4M335.5 101.4L339.8 104.4M341.2 101.5L346.0 104.3M347.2 101.6L351.9 104.2M353.7 101.9L357.3 103.9M359.5 102.5L363.4 103.3M365.4 102.7L369.4 103.1M371.4 102.8L375.3 103.0M377.4 103.6L381.2 102.2M383.5 103.7L387.0 102.1M389.3 103.7L393.1 102.1M394.9 103.8L399.4 102.0M400.8 104.0L405.4 101.8M406.8 104.1L411.3 101.7M412.7 104.1L417.3 101.7M418.6 104.0L423.3 101.8M424.6 104.0L429.2 101.8M430.6 104.1L435.1 101.7M436.5 104.1L441.1 101.7M174.6 107.3L179.4 107.4M180.5 107.3L185.4 107.4M186.4 107.3L191.4 107.4M192.4 107.2L197.3 107.5M198.3 107.2L203.3 107.5M204.3 107.2L209.2 107.5M210.2 107.2L215.2 107.5M216.1 107.2L221.2 107.5M221.9 107.0L227.3 107.7M227.3 106.8L233.8 107.9M233.0 106.7L240.0 108.0M238.9 106.6L246.0 108.1M244.9 106.3L251.9 108.4M251.0 105.8L257.7 108.9M257.2 105.4L263.4 109.3M263.5 105.0L269.0 109.7M269.6 105.2L274.8 109.5M275.6 105.5L280.7 109.2M281.6 105.8L286.6 108.9M287.7 105.8L292.4 108.9M293.7 105.9L298.3 108.8M299.7 105.9L304.2 108.8M305.7 105.9L310.1 108.8M311.6 105.9L316.1 108.8M317.5 106.0L322.1 108.7M323.5 105.9L328.0 108.8M329.5 105.8L333.9 108.9M335.5 105.9L339.8 108.8M341.2 106.0L346.0 108.7M346.9 105.9L352.2 108.8M353.5 106.3L357.5 108.4M359.6 107.0L363.3 107.7M365.4 107.2L369.4 107.5M371.4 107.3L375.3 107.4M377.4 108.0L381.2 106.7M383.5 108.2L387.0 106.5M389.2 108.2L393.2 106.5M394.8 108.3L399.5 106.4M400.8 108.5L405.4 106.2M406.8 108.6L411.3 106.1M412.7 108.5L417.3 106.2M418.6 108.5L423.3 106.2M424.6 108.5L429.2 106.2M430.5 108.5L435.2 106.2M436.5 108.6L441.1 106.1M174.8 111.8L179.2 111.8M180.7 111.8L185.2 111.8M186.6 111.7L191.2 111.9M192.5 111.7L197.2 111.9M198.5 111.6L203.1 112.0M204.5 111.7L209.0 111.9M210.5 111.7L214.9 111.9M216.5 111.6L220.8 112.0M222.4 111.5L226.8 112.1M227.7 111.3L233.4 112.3M233.5 111.2L239.5 112.4M239.4 111.1L245.5 112.5M246.1 111.1L250.7 112.5M251.1 110.3L257.6 113.3M257.3 109.8L263.3 113.8M263.4 109.5L269.1 114.1M269.5 109.5L274.9 114.1M275.8 109.6L280.5 114.0M281.7 110.0L286.5 113.6M287.8 110.2L292.3 113.4M293.8 110.3L298.2 113.3M299.7 110.3L304.2 113.3M305.7 110.4L310.1 113.2M311.6 110.4L316.1 113.2M317.5 110.4L322.1 113.2M323.5 110.4L328.0 113.2M329.5 110.4L333.9 113.2M335.4 110.4L339.9 113.2M341.4 110.5L345.8 113.1M346.9 110.4L352.2 113.2M353.0 110.7L358.0 112.9M359.7 111.4L363.2 112.2M365.5 111.6L369.3 112.0M371.4 111.8L375.3 111.8M377.4 112.3L381.2 111.3M383.4 112.5L387.1 111.1M389.1 112.6L393.3 111.0M394.8 112.7L399.5 110.9M400.7 112.8L405.5 110.8M406.7 112.9L411.4 110.7M412.7 112.9L417.3 110.7M418.6 112.9L423.3 110.7M424.5 112.9L429.3 110.7M430.5 112.9L435.2 110.7M436.5 113.0L441.1 110.6M175.1 116.2L178.9 116.3M180.9 116.2L185.0 116.3M186.8 116.2L191.0 116.3M192.8 116.1L196.9 116.4M198.7 116.1L202.9 116.4M204.7 116.2L208.8 116.3M210.7 116.2L214.7 116.3M217.1 116.2L220.2 116.3M223.2 116.1L226.0 116.4M229.5 116.1L231.6 116.4M235.4 116.1L237.6 116.4M241.5 116.1L243.4 116.4M247.5 116.0L249.3 116.5M252.8 115.6L255.9 116.9M257.6 114.4L263.0 118.1M263.5 113.8L269.0 118.7M269.9 113.5L274.5 119.0M276.2 113.6L280.1 118.9M282.0 114.1L286.2 118.4M287.9 114.5L292.2 118.0M293.8 114.6L298.2 117.9M299.8 114.7L304.1 117.8M305.7 114.8L310.1 117.7M311.6 114.8L316.1 117.7M317.6 114.8L322.0 117.7M323.5 114.8L328.0 117.7M329.4 114.9L334.0 117.6M335.4 114.9L339.9 117.6M341.4 114.9L345.8 117.6M347.1 114.9L352.0 117.6M352.7 115.1L358.3 117.4M359.7 115.8L363.2 116.7M365.5 115.9L369.3 116.6M371.4 116.2L375.3 116.3M377.4 116.6L381.2 115.9M383.3 116.8L387.2 115.7M389.0 116.9L393.4 115.6M394.7 117.0L399.6 115.5M400.7 117.2L405.5 115.3M406.7 117.2L411.4 115.3M412.6 117.3L417.4 115.2M418.5 117.3L423.4 115.2M424.5 117.3L429.3 115.2M430.5 117.3L435.2 115.2M436.4 117.4L441.2 115.1M175.8 120.7L178.2 120.7M181.8 120.7L184.1 120.7M187.5 120.7L190.3 120.7M193.4 120.6L196.3 120.8M199.4 120.6L202.2 120.8M205.4 120.7L208.1 120.7M211.0 120.7L214.4 120.7M216.6 120.7L220.7 120.7M222.6 120.6L226.6 120.8M229.2 120.5L231.9 120.9M235.4 120.5L237.6 120.9M241.4 120.6L243.5 120.8M247.6 120.6L249.2 120.8M253.6 120.4L255.1 121.0M258.6 119.5L262.0 121.9M263.8 118.0L268.7 123.4M270.0 117.8L274.4 123.6M276.2 117.9L280.1 123.5M282.1 118.4L286.1 123.0M287.9 118.9L292.2 122.5M293.9 119.0L298.1 122.4M299.8 119.1L304.1 122.3M305.7 119.2L310.1 122.2M311.6 119.2L316.1 122.2M317.6 119.2L322.0 122.2M323.5 119.2L328.0 122.2M329.4 119.3L334.0 122.1M335.4 119.3L339.9 122.1M341.5 119.2L345.7 122.2M347.3 119.3L351.8 122.1M353.0 119.6L358.0 121.8M359.3 120.0L363.6 121.4M365.5 120.2L369.3 121.2M371.4 120.5L375.3 120.9M377.4 121.0L381.2 120.4M383.3 121.2L387.2 120.2M388.9 121.3L393.5 120.1M394.7 121.4L399.6 120.0M400.7 121.6L405.5 119.8M406.6 121.7L411.5 119.7M412.6 121.7L417.4 119.7M418.5 121.7L423.4 119.7M424.5 121.7L429.3 119.7M430.5 121.8L435.2 119.6M436.4 121.8L441.2 119.6M174.9 125.1L179.1 125.2M180.9 125.1L185.0 125.2M186.8 125.1L191.0 125.2M192.8 125.0L196.9 125.3M198.7 125.1L202.9 125.2M204.7 125.1L208.8 125.2M210.6 125.1L214.8 125.2M216.6 125.1L220.7 125.2M222.7 125.0L226.5 125.3M228.7 124.9L232.4 125.4M234.7 124.9L238.3 125.4M241.4 125.1L243.5 125.2M247.5 125.1L249.3 125.2M253.6 124.9L255.1 125.4M259.3 124.4L261.3 125.9M263.9 122.4L268.6 127.9M270.1 122.2L274.3 128.1M276.2 122.4L280.1 127.9M282.1 122.9L286.1 127.4M287.9 123.4L292.2 126.9M293.9 123.5L298.1 126.8M299.8 123.5L304.1 126.8M305.7 123.6L310.1 126.7M311.7 123.6L316.0 126.7M317.6 123.6L322.0 126.7M323.6 123.7L327.9 126.6M329.4 123.8L334.0 126.5M335.4 123.7L339.9 126.6M341.5 123.7L345.7 126.6M347.4 123.7L351.7 126.6M352.3 123.8L358.7 126.5M358.7 124.2L364.2 126.1M365.6 124.5L369.2 125.8M371.4 124.9L375.3 125.4M377.4 125.5L381.2 124.8M383.2 125.7L387.3 124.6M388.8 125.8L393.6 124.5M394.6 125.9L399.7 124.4M400.6 126.1L405.6 124.2M406.6 126.1L411.5 124.2M412.6 126.1L417.4 124.2M418.5 126.1L423.4 124.2M424.5 126.1L429.3 124.2M430.5 126.2L435.2 124.1M436.4 126.3L441.2 124.0M174.9 129.6L179.1 129.6M180.9 129.6L185.0 129.6M186.8 129.5L191.0 129.7M192.8 129.5L196.9 129.7M198.7 129.5L202.9 129.7M204.7 129.5L208.8 129.7M210.7 129.6L214.7 129.6M216.7 129.6L220.6 129.6M222.7 129.5L226.5 129.7M228.7 129.3L232.4 129.9M234.7 129.3L238.3 129.9M241.1 129.5L243.8 129.7M247.4 129.5L249.4 129.7M253.6 129.3L255.1 129.9M259.6 129.1L261.0 130.1M264.3 127.4L268.2 131.8M270.0 126.6L274.4 132.6M276.1 126.8L280.2 132.4M282.1 127.3L286.1 131.9M287.9 127.8L292.2 131.4M293.9 128.0L298.1 131.2M299.9 128.0L304.0 131.2M305.7 128.1L310.1 131.1M311.6 128.1L316.1 131.1M317.6 128.1L322.0 131.1M323.5 128.1L328.0 131.1M329.4 128.2L334.0 131.0M335.4 128.2L339.9 131.0M341.4 128.1L345.8 131.1M347.4 128.2L351.7 131.0M352.9 128.5L358.1 130.7M358.6 128.6L364.3 130.6M365.5 128.9L369.3 130.3M371.4 129.3L375.3 129.9M377.3 130.0L381.3 129.2M383.0 130.2L387.5 129.0M388.7 130.2L393.7 129.0M394.6 130.3L399.7 128.9M400.6 130.5L405.6 128.7M406.6 130.6L411.5 128.6M412.5 130.6L417.5 128.6M418.5 130.5L423.4 128.7M424.5 130.6L429.3 128.6M430.5 130.7L435.2 128.5M436.4 130.7L441.2 128.5M174.9 134.0L179.1 134.1M180.9 134.0L185.0 134.1M186.8 134.0L191.0 134.1M192.8 133.9L196.9 134.2M198.7 133.9L202.9 134.2M204.7 134.0L208.8 134.1M210.6 134.0L214.8 134.1M216.6 134.0L220.7 134.1M222.7 133.9L226.5 134.2M228.7 133.8L232.4 134.3M234.7 133.7L238.3 134.4M240.7 133.7L244.2 134.4M247.4 133.8L249.4 134.3M253.6 133.7L255.1 134.4M259.6 133.6L261.0 134.5M264.7 132.3L267.8 135.8M270.1 131.1L274.3 137.0M276.4 131.2L279.9 136.9M282.2 131.7L286.0 136.4M288.0 132.2L292.1 135.9M294.0 132.5L298.0 135.6M299.9 132.5L304.0 135.6M305.7 132.6L310.1 135.5M311.6 132.6L316.1 135.5M317.6 132.6L322.0 135.5M323.5 132.6L328.0 135.5M329.4 132.7L334.0 135.4M335.3 132.7L340.0 135.4M341.3 132.7L345.9 135.4M347.3 132.8L351.8 135.3M353.1 133.1L357.9 135.0M358.2 132.9L364.7 135.2M365.1 133.3L369.7 134.8M371.3 133.8L375.4 134.3M377.1 134.4L381.5 133.7M382.8 134.6L387.7 133.5M388.6 134.7L393.8 133.4M394.5 134.7L399.8 133.4M400.6 134.9L405.6 133.2M406.6 134.9L411.5 133.2M412.5 134.9L417.5 133.2M418.5 134.9L423.4 133.2M424.4 135.0L429.4 133.1M430.4 135.0L435.3 133.1M436.4 135.1L441.2 133.0M174.9 138.5L179.1 138.5M180.9 138.5L185.0 138.5M186.8 138.4L191.0 138.6M192.8 138.4L196.9 138.6M198.7 138.4L202.9 138.6M204.7 138.4L208.8 138.6M210.6 138.4L214.8 138.6M216.6 138.4L220.7 138.6M222.7 138.3L226.5 138.7M228.7 138.2L232.4 138.8M234.7 138.1L238.3 138.9M240.6 138.1L244.3 138.9M247.3 138.2L249.5 138.8M253.6 138.2L255.1 138.8M259.6 138.0L261.0 139.0M264.8 136.9L267.7 140.1M270.2 135.5L274.2 141.5M276.5 135.6L279.8 141.4M282.3 136.1L285.9 140.9M288.1 136.7L292.0 140.3M294.0 137.0L298.0 140.0M299.9 137.1L304.0 139.9M305.7 137.1L310.1 139.9M311.6 137.1L316.1 139.9M317.5 137.1L322.1 139.9M323.5 137.1L328.0 139.9M329.4 137.2L334.0 139.8M335.3 137.2L340.0 139.8M341.3 137.3L345.9 139.7M347.2 137.4L351.9 139.6M353.1 137.6L357.9 139.4M358.6 137.7L364.3 139.3M364.3 137.8L370.5 139.2M370.7 138.3L376.0 138.7M376.8 138.7L381.8 138.3M382.6 139.0L387.9 138.0M388.5 139.1L393.9 137.9M394.5 139.1L399.8 137.9M400.5 139.2L405.7 137.8M406.5 139.3L411.6 137.7M412.5 139.3L417.5 137.7M418.4 139.3L423.5 137.7M424.4 139.4L429.4 137.6M430.4 139.4L435.3 137.6M436.4 139.4L441.2 137.6M174.9 142.9L179.1 143.0M180.8 142.9L185.1 143.0M186.8 142.9L191.0 143.0M192.7 142.8L197.0 143.1M198.7 142.8L202.9 143.1M204.7 142.8L208.8 143.1M210.6 142.8L214.8 143.1M216.6 142.8L220.7 143.1M222.6 142.7L226.6 143.2M228.7 142.6L232.4 143.3M234.7 142.5L238.3 143.4M240.7 142.5L244.2 143.4M246.9 142.6L249.9 143.3M253.5 142.7L255.2 143.2M259.6 142.5L261.0 143.4M264.8 141.5L267.7 144.4M269.9 140.2L274.5 145.7M276.2 140.3L280.1 145.6M282.2 140.7L286.0 145.2M288.1 141.3L292.0 144.6M294.0 141.6L298.0 144.3M299.9 141.6L304.0 144.3M305.8 141.6L310.0 144.3M311.6 141.6L316.1 144.3M317.5 141.6L322.1 144.3M323.5 141.6L328.0 144.3M329.4 141.6L334.0 144.3M335.3 141.7L340.0 144.2M341.2 141.7L346.0 144.2M347.2 141.7L351.9 144.2M353.1 141.9L357.9 144.0M358.8 142.3L364.1 143.6M364.1 142.4L370.7 143.5M370.1 142.6L376.6 143.3M376.5 143.3L382.1 142.6M382.5 143.6L388.0 142.3M388.5 143.6L393.9 142.3M394.5 143.6L399.8 142.3M400.5 143.7L405.7 142.2M406.5 143.8L411.6 142.1M412.5 143.8L417.5 142.1M418.4 143.7L423.5 142.2M424.4 143.8L429.4 142.1M430.4 143.8L435.3 142.1M436.3 143.8L441.3 142.1M174.8 147.4L179.2 147.4M180.8 147.4L185.1 147.4M186.8 147.3L191.0 147.5M192.7 147.3L197.0 147.5M198.7 147.3L202.9 147.5M204.6 147.3L208.9 147.5M210.6 147.3L214.8 147.5M216.6 147.3L220.7 147.5M222.5 147.2L226.7 147.6M228.6 147.1L232.5 147.7M234.7 147.0L238.3 147.8M240.6 147.0L244.3 147.8M246.6 147.0L250.2 147.8M253.4 147.2L255.3 147.6M259.6 147.0L261.0 147.8M264.9 146.0L267.6 148.8M270.0 145.0L274.4 149.8M275.9 145.4L280.4 149.4M282.1 145.5L286.1 149.3M288.1 145.9L292.0 148.9M294.0 146.1L298.0 148.7M299.9 146.1L304.0 148.7M305.8 146.1L310.0 148.7M311.6 146.1L316.1 148.7M317.5 146.0L322.1 148.8M323.5 146.0L328.0 148.8M329.4 146.0L334.0 148.8M335.3 146.1L340.0 148.7M341.3 146.1L345.9 148.7M347.3 146.1L351.8 148.7M353.4 146.3L357.6 148.5M359.1 146.8L363.8 148.0M364.2 146.8L370.6 148.0M370.3 147.0L376.4 147.8M376.4 147.9L382.2 146.9M382.5 148.1L388.0 146.7M388.4 148.1L394.0 146.7M394.4 148.1L399.9 146.7M400.5 148.2L405.7 146.6M406.5 148.2L411.6 146.6M412.5 148.2L417.5 146.6M418.4 148.2L423.5 146.6M424.4 148.2L429.4 146.6M430.4 148.3L435.3 146.5M436.3 148.3L441.3 146.5M174.8 151.8L179.2 151.9M180.8 151.8L185.1 151.9M186.7 151.8L191.1 151.9M192.7 151.7L197.0 152.0M198.7 151.7L202.9 152.0M204.6 151.7L208.9 152.0M210.6 151.7L214.8 152.0M216.5 151.7L220.8 152.0M222.5 151.7L226.7 152.0M228.5 151.5L232.6 152.2M234.6 151.4L238.4 152.3M240.6 151.4L244.3 152.3M246.6 151.5L250.2 152.2M253.2 151.6L255.5 152.1M259.6 151.4L261.0 152.3M265.3 150.9L267.2 152.8M270.4 149.9L274.0 153.8M276.0 150.0L280.3 153.7M282.1 150.1L286.1 153.6M288.1 150.4L292.0 153.3M294.0 150.6L298.0 153.1M300.0 150.6L303.9 153.1M305.8 150.5L310.0 153.2M311.6 150.5L316.1 153.2M317.6 150.5L322.0 153.2M323.5 150.4L328.0 153.3M329.4 150.5L334.0 153.2M335.3 150.6L340.0 153.1M341.3 150.6L345.9 153.1M347.2 150.5L351.9 153.2M353.3 150.7L357.7 153.0M358.9 151.3L364.0 152.4M364.2 151.3L370.6 152.4M370.3 151.4L376.4 152.3M376.4 152.4L382.2 151.3M382.4 152.6L388.1 151.1M388.4 152.5L394.0 151.2M394.4 152.5L399.9 151.2M400.5 152.6L405.7 151.1M406.5 152.7L411.6 151.0M412.5 152.7L417.5 151.0M418.4 152.6L423.5 151.1M424.4 152.6L429.4 151.1M430.4 152.7L435.3 151.0M436.4 152.7L441.2 151.0M174.8 156.3L179.2 156.3M180.7 156.3L185.2 156.3M186.7 156.2L191.1 156.4M192.7 156.2L197.0 156.4M198.6 156.1L203.0 156.5M204.6 156.2L208.9 156.4M210.5 156.2L214.9 156.4M216.5 156.2L220.8 156.4M222.5 156.1L226.7 156.5M228.5 155.9L232.6 156.7M234.5 155.8L238.5 156.8M240.6 155.8L244.3 156.8M246.6 155.9L250.2 156.7M252.6 155.8L256.1 156.8M259.5 155.8L261.1 156.8M265.6 155.7L266.9 156.9M270.8 154.9L273.6 157.7M276.4 154.8L279.9 157.8M282.2 154.8L286.0 157.8M288.1 155.0L292.0 157.6M294.2 155.2L297.8 157.4M300.2 155.2L303.7 157.4M305.9 155.1L309.9 157.5M311.6 155.0L316.1 157.6M317.5 154.9L322.1 157.7M323.5 154.9L328.0 157.7M329.4 155.0L334.0 157.6M335.3 155.1L340.0 157.5M341.2 155.1L346.0 157.5M347.2 155.0L351.9 157.6M352.8 155.1L358.2 157.5M358.1 155.5L364.8 157.1M364.3 155.8L370.5 156.8M370.3 156.0L376.4 156.6M376.3 156.7L382.3 155.9M382.4 157.0L388.1 155.6M388.4 156.9L394.0 155.7M394.4 156.9L399.9 155.7M400.5 157.0L405.7 155.6M406.5 157.1L411.6 155.5M412.5 157.1L417.5 155.5M418.4 157.0L423.5 155.6M424.4 157.0L429.4 155.6M430.4 157.1L435.3 155.5M436.4 157.1L441.2 155.5M174.8 160.7L179.2 160.8M180.7 160.7L185.2 160.8M186.7 160.7L191.1 160.8M192.6 160.6L197.1 160.9M198.6 160.6L203.0 160.9M204.6 160.6L208.9 160.9M210.5 160.6L214.9 160.9M216.5 160.6L220.8 160.9M222.5 160.5L226.7 161.0M228.4 160.4L232.7 161.1M234.5 160.3L238.5 161.2M240.5 160.3L244.4 161.2M246.6 160.3L250.2 161.2M252.5 160.1L256.2 161.4M259.1 160.1L261.5 161.4M265.6 160.3L266.9 161.2M271.5 160.2L272.9 161.3M276.6 159.6L279.7 161.9M282.3 159.6L285.9 161.9M288.3 159.7L291.8 161.8M294.4 159.8L297.6 161.7M300.3 159.8L303.6 161.7M306.1 159.8L309.7 161.7M311.6 159.5L316.1 162.0M317.5 159.5L322.1 162.0M323.4 159.4L328.1 162.1M329.4 159.5L334.0 162.0M335.3 159.6L340.0 161.9M341.3 159.7L345.9 161.8M347.1 159.7L352.0 161.8M352.2 159.6L358.8 161.9M358.0 159.9L364.9 161.6M364.3 160.3L370.5 161.2M370.3 160.6L376.4 160.9M376.3 161.0L382.3 160.5M382.3 161.2L388.2 160.3M388.3 161.2L394.1 160.3M394.4 161.3L399.9 160.2M400.4 161.4L405.8 160.1M406.5 161.4L411.6 160.1M412.5 161.4L417.5 160.1M418.4 161.4L423.5 160.1M424.4 161.4L429.4 160.1M430.4 161.5L435.3 160.0M436.4 161.5L441.2 160.0M174.7 165.2L179.3 165.2M180.7 165.2L185.2 165.2M186.7 165.1L191.1 165.3M192.6 165.1L197.1 165.3M198.6 165.0L203.0 165.4M204.5 165.0L209.0 165.4M210.5 165.0L214.9 165.4M216.5 165.0L220.8 165.4M222.4 164.9L226.8 165.5M228.4 164.8L232.7 165.6M234.4 164.7L238.6 165.7M240.4 164.7L244.5 165.7M246.5 164.8L250.3 165.6M252.5 164.7L256.2 165.7M258.4 164.4L262.2 166.0M264.7 164.4L267.8 166.0M271.4 164.7L273.0 165.7M277.4 164.8L278.9 165.6M282.8 164.6L285.4 165.8M288.7 164.5L291.4 165.9M294.9 164.6L297.1 165.8M300.3 164.4L303.6 166.0M306.2 164.4L309.6 166.0M311.6 164.1L316.1 166.3M317.5 164.0L322.1 166.4M323.4 163.9L328.1 166.5M329.4 163.9L334.0 166.5M335.4 164.0L339.9 166.4M341.7 164.4L345.5 166.0M347.1 164.4L352.0 166.0M352.1 164.2L358.9 166.2M358.2 164.5L364.7 165.9M364.4 164.8L370.4 165.6M370.3 165.2L376.4 165.2M376.3 165.4L382.3 165.0M382.3 165.5L388.2 164.9M388.3 165.6L394.1 164.8M394.4 165.7L399.9 164.7M400.4 165.7L405.8 164.7M406.5 165.8L411.6 164.6M412.5 165.8L417.5 164.6M418.5 165.8L423.4 164.6M424.4 165.8L429.4 164.6M430.4 165.8L435.3 164.6M436.5 165.8L441.1 164.6M174.7 169.6L179.3 169.7M180.7 169.6L185.2 169.7M186.6 169.6L191.2 169.7M192.6 169.5L197.1 169.8M198.6 169.5L203.0 169.8M204.5 169.4L209.0 169.9M210.5 169.5L214.9 169.8M216.4 169.4L220.9 169.9M222.4 169.4L226.8 169.9M228.4 169.3L232.7 170.0M234.3 169.2L238.7 170.1M240.3 169.2L244.6 170.1M246.4 169.3L250.4 170.0M252.3 169.2L256.4 170.1M258.3 169.0L262.3 170.3M264.2 168.8L268.3 170.5M270.2 168.9L274.2 170.4M276.8 169.3L279.5 170.0M283.1 169.3L285.1 170.0M288.7 169.1L291.4 170.2M294.6 169.0L297.4 170.3M300.3 168.9L303.6 170.4M306.1 168.8L309.7 170.5M311.6 168.6L316.1 170.7M317.5 168.4L322.1 170.9M323.4 168.3L328.1 171.0M329.4 168.3L334.0 171.0M335.3 168.4L340.0 170.9M341.4 168.8L345.8 170.5M346.5 168.8L352.6 170.5M352.1 168.7L358.9 170.6M358.4 168.9L364.5 170.4M364.4 169.3L370.4 170.0M370.3 169.8L376.4 169.5M376.3 169.9L382.3 169.4M382.3 169.9L388.2 169.4M388.3 169.9L394.1 169.4M394.4 170.1L399.9 169.2M400.4 170.2L405.8 169.1M406.5 170.2L411.6 169.1M412.5 170.2L417.5 169.1M418.5 170.2L423.4 169.1M424.5 170.2L429.3 169.1M430.5 170.2L435.2 169.1M436.5 170.1L441.1 169.2M174.7 174.1L179.3 174.1M180.6 174.1L185.3 174.1M186.6 174.0L191.2 174.2M192.6 174.0L197.1 174.2M198.5 173.9L203.1 174.3M204.5 173.9L209.0 174.3M210.5 173.9L214.9 174.3M216.4 173.9L220.9 174.3M222.4 173.9L226.8 174.3M228.3 173.8L232.8 174.4M234.3 173.7L238.7 174.5M240.3 173.7L244.6 174.5M246.2 173.7L250.6 174.5M252.2 173.7L256.5 174.5M258.1 173.6L262.5 174.6M264.1 173.4L268.4 174.8M270.0 173.4L274.4 174.8M275.9 173.5L280.4 174.7M282.0 173.5L286.2 174.7M288.4 173.5L291.7 174.7M294.5 173.4L297.5 174.8M300.3 173.4L303.6 174.8M305.8 173.1L310.0 175.1M311.5 173.0L316.2 175.2M317.4 172.9L322.2 175.3M323.4 172.8L328.1 175.4M329.3 172.7L334.1 175.5M335.0 172.8L340.3 175.4M340.4 173.0L346.8 175.2M346.1 173.2L353.0 175.0M352.4 173.3L358.6 174.9M358.6 173.4L364.3 174.8M364.4 173.8L370.4 174.4M370.3 174.3L376.4 173.9M376.3 174.4L382.3 173.8M382.3 174.4L388.2 173.8M388.3 174.4L394.1 173.8M394.4 174.5L399.9 173.7M400.4 174.6L405.8 173.6M406.5 174.6L411.6 173.6M412.5 174.6L417.5 173.6M418.5 174.6L423.4 173.6M424.5 174.6L429.3 173.6M430.6 174.6L435.1 173.6M436.6 174.6L441.0 173.6M174.7 178.5L179.3 178.6M180.6 178.5L185.3 178.6M186.6 178.5L191.2 178.6M192.6 178.4L197.1 178.7M198.5 178.4L203.1 178.7M204.5 178.3L209.0 178.8M210.4 178.4L215.0 178.7M216.4 178.3L220.9 178.8M222.3 178.3L226.9 178.8M228.3 178.2L232.8 178.9M234.3 178.1L238.7 179.0M240.2 178.1L244.7 179.0M246.2 178.2L250.6 178.9M252.1 178.1L256.6 179.0M258.1 178.0L262.5 179.1M264.1 177.9L268.4 179.2M270.0 177.9L274.4 179.2M275.9 177.9L280.4 179.2M281.8 177.9L286.4 179.2M287.5 177.7L292.6 179.4M293.5 177.5L298.5 179.6M299.2 177.3L304.7 179.8M305.1 177.3L310.7 179.8M311.3 177.4L316.4 179.7M317.3 177.4L322.3 179.7M323.2 177.3L328.3 179.8M328.9 177.1L334.5 180.0M334.5 177.2L340.8 179.9M340.2 177.5L347.0 179.6M346.3 177.7L352.8 179.4M352.6 177.8L358.4 179.3M358.5 177.9L364.4 179.2M364.4 178.3L370.4 178.8M370.3 178.7L376.4 178.4M376.3 178.8L382.3 178.3M382.3 178.8L388.2 178.3M388.3 178.8L394.1 178.3M394.3 178.9L400.0 178.2M400.4 179.1L405.8 178.0M406.5 179.1L411.6 178.0M412.5 179.1L417.5 178.0M418.5 179.0L423.4 178.1M424.5 179.0L429.3 178.1M430.6 179.0L435.1 178.1M436.7 179.0L440.9 178.1M174.7 183.0L179.3 183.0M180.6 183.0L185.3 183.0M186.6 182.9L191.2 183.1M192.5 182.9L197.2 183.1M198.5 182.8L203.1 183.2M204.5 182.8L209.0 183.2M210.4 182.8L215.0 183.2M216.4 182.8L220.9 183.2M222.3 182.8L226.9 183.2M228.3 182.7L232.8 183.3M234.3 182.6L238.7 183.4M240.2 182.6L244.7 183.4M246.2 182.6L250.6 183.4M252.1 182.6L256.6 183.4M258.1 182.5L262.5 183.5M264.0 182.4L268.5 183.6M269.9 182.3L274.5 183.7M275.8 182.3L280.5 183.7M281.7 182.3L286.5 183.7M287.5 182.2L292.6 183.8M293.0 181.9L299.0 184.1M298.9 181.8L305.0 184.2M304.9 181.8L310.9 184.2M311.1 181.9L316.6 184.1M316.8 181.7L322.8 184.3M322.6 181.7L328.9 184.3M328.4 181.7L335.0 184.3M334.3 181.9L341.0 184.1M340.3 182.1L346.9 183.9M346.6 182.3L352.5 183.7M352.6 182.3L358.4 183.7M358.5 182.4L364.4 183.6M364.4 182.7L370.4 183.3M370.3 183.1L376.4 182.9M376.3 183.2L382.3 182.8M382.3 183.2L388.2 182.8M388.3 183.2L394.1 182.8M394.3 183.3L400.0 182.7M400.4 183.5L405.8 182.5M406.5 183.5L411.6 182.5M412.5 183.5L417.5 182.5M418.5 183.4L423.4 182.6M424.5 183.4L429.3 182.6M430.6 183.4L435.1 182.6M436.7 183.4L440.9 182.6M174.6 187.4L179.4 187.5M180.6 187.4L185.3 187.5M186.5 187.4L191.3 187.5M192.5 187.3L197.2 187.6M198.5 187.3L203.1 187.6M204.4 187.3L209.1 187.6M210.4 187.3L215.0 187.6M216.4 187.3L220.9 187.6M222.3 187.2L226.9 187.7M228.3 187.1L232.8 187.8M234.2 187.1L238.8 187.8M240.2 187.0L244.7 187.9M246.1 187.0L250.7 187.9M252.1 187.0L256.6 187.9M258.0 187.0L262.6 187.9M264.0 186.9L268.5 188.0M269.9 186.8L274.5 188.1M275.8 186.8L280.5 188.1M281.7 186.8L286.5 188.1M287.6 186.8L292.5 188.1M293.3 186.7L298.7 188.2M298.8 186.6L305.1 188.3M304.8 186.5L311.0 188.4M310.7 186.4L317.0 188.5M316.9 186.4L322.7 188.5M322.6 186.4L328.9 188.5M328.4 186.6L335.0 188.3M334.6 186.8L340.7 188.1M340.7 186.9L346.5 188.0M346.7 186.9L352.4 188.0M352.6 186.9L358.4 188.0M358.5 187.0L364.4 187.9M364.4 187.2L370.4 187.7M370.3 187.5L376.4 187.4M376.3 187.6L382.3 187.3M382.3 187.6L388.2 187.3M388.2 187.6L394.2 187.3M394.3 187.7L400.0 187.2M400.4 187.8L405.8 187.1M406.5 187.8L411.6 187.1M412.5 187.8L417.5 187.1M418.5 187.8L423.4 187.1M424.6 187.8L429.2 187.1M430.6 187.8L435.1 187.1M436.7 187.8L440.9 187.1M174.6 191.9L179.4 191.9M180.6 191.9L185.3 191.9M186.5 191.8L191.3 192.0M192.5 191.8L197.2 192.0M198.5 191.7L203.1 192.1M204.4 191.7L209.1 192.1M210.4 191.8L215.0 192.0M216.3 191.7L221.0 192.1M222.3 191.7L226.9 192.1M228.2 191.6L232.9 192.2M234.2 191.5L238.8 192.3M240.2 191.5L244.7 192.3M246.1 191.5L250.7 192.3M252.0 191.5L256.7 192.3M258.0 191.5L262.6 192.3M263.9 191.5L268.6 192.3M269.9 191.4L274.5 192.4M275.8 191.3L280.5 192.5M281.7 191.3L286.5 192.5M287.6 191.3L292.5 192.5M293.5 191.4L298.5 192.4M299.1 191.4L304.8 192.4M305.0 191.3L310.8 192.5M311.0 191.1L316.7 192.7M316.9 191.1L322.7 192.7M322.8 191.2L328.7 192.6M328.8 191.5L334.6 192.3M334.7 191.6L340.6 192.2M340.7 191.6L346.5 192.2M346.6 191.5L352.5 192.3M352.5 191.5L358.5 192.3M358.5 191.6L364.4 192.2M364.4 191.8L370.4 192.0M370.3 191.9L376.4 191.9M376.3 192.0L382.3 191.8M382.3 192.0L388.2 191.8M388.2 192.1L394.2 191.7M394.3 192.1L400.0 191.7M400.4 192.2L405.8 191.6M406.4 192.2L411.7 191.6M412.5 192.2L417.5 191.6M418.5 192.2L423.4 191.6M424.6 192.2L429.2 191.6M430.6 192.1L435.1 191.7M436.7 192.1L440.9 191.7M174.6 196.3L179.4 196.4M180.5 196.3L185.4 196.4M186.5 196.3L191.3 196.4M192.5 196.2L197.2 196.5M198.4 196.2L203.2 196.5M204.4 196.2L209.1 196.5M210.3 196.2L215.1 196.5M216.3 196.2L221.0 196.5M222.3 196.2L226.9 196.5M228.2 196.1L232.9 196.6M234.2 196.0L238.8 196.7M240.1 195.9L244.8 196.8M246.1 196.0L250.7 196.7M252.0 196.0L256.7 196.7M257.9 196.0L262.7 196.7M263.9 196.0L268.6 196.7M269.8 195.9L274.6 196.8M275.7 195.8L280.6 196.9M281.7 195.8L286.5 196.9M287.6 195.9L292.5 196.8M293.4 196.0L298.6 196.7M299.1 195.9L304.8 196.8M305.0 195.9L310.8 196.8M311.0 195.7L316.7 197.0M316.9 195.7L322.7 197.0M322.8 195.8L328.7 196.9M328.7 196.1L334.7 196.6M334.7 196.2L340.6 196.5M340.6 196.2L346.6 196.5M346.6 196.1L352.5 196.6M352.5 196.0L358.5 196.7M358.5 196.1L364.4 196.6M364.4 196.3L370.4 196.4M370.3 196.4L376.4 196.3M376.3 196.5L382.3 196.2M382.3 196.5L388.2 196.2M388.3 196.5L394.1 196.2M394.3 196.6L400.0 196.1M400.4 196.6L405.8 196.1M406.4 196.6L411.7 196.1M412.5 196.6L417.5 196.1M418.5 196.6L423.4 196.1M424.6 196.6L429.2 196.1M430.7 196.6L435.0 196.1M436.7 196.5L440.9 196.2M174.6 200.8L179.4 200.8M180.5 200.8L185.4 200.8M186.5 200.7L191.3 200.9M192.5 200.7L197.2 200.9M198.4 200.7L203.2 200.9M204.4 200.7L209.1 200.9M210.3 200.7L215.1 200.9M216.3 200.7L221.0 200.9M222.2 200.6L227.0 201.0M228.2 200.5L232.9 201.1M234.2 200.4L238.8 201.2M240.1 200.4L244.8 201.2M246.0 200.4L250.8 201.2M252.0 200.5L256.7 201.1M257.9 200.5L262.7 201.1M263.9 200.4L268.6 201.2M269.8 200.4L274.6 201.2M275.7 200.3L280.6 201.3M281.7 200.3L286.5 201.3M287.5 200.4L292.6 201.2M293.4 200.4L298.6 201.2M299.1 200.4L304.8 201.2M305.0 200.3L310.8 201.3M310.9 200.2L316.8 201.4M316.9 200.2L322.7 201.4M322.8 200.4L328.7 201.2M328.7 200.6L334.7 201.0M334.7 200.6L340.6 201.0M340.6 200.6L346.6 201.0M346.6 200.6L352.5 201.0M352.5 200.5L358.5 201.1M358.4 200.6L364.5 201.0M364.4 200.8L370.4 200.8M370.3 200.9L376.4 200.7M376.3 200.9L382.3 200.7M382.3 200.9L388.2 200.7M388.3 200.9L394.1 200.7M394.3 201.0L400.0 200.6M400.4 201.0L405.8 200.6M406.5 201.0L411.6 200.6M412.5 201.0L417.5 200.6M418.5 201.0L423.4 200.6M424.6 201.0L429.2 200.6M430.7 201.0L435.0 200.6M436.8 201.0L440.8 200.6M174.6 205.2L179.4 205.3M180.5 205.2L185.4 205.3M186.5 205.2L191.3 205.3M192.4 205.1L197.3 205.4M198.4 205.1L203.2 205.4M204.4 205.1L209.1 205.4M210.3 205.1L215.1 205.4M216.3 205.1L221.0 205.4M222.2 205.1L227.0 205.4M228.2 205.0L232.9 205.5M234.1 204.9L238.9 205.6M240.1 204.9L244.8 205.6M246.0 204.9L250.8 205.6M252.0 204.9L256.7 205.6M257.9 204.9L262.7 205.6M263.8 204.9L268.7 205.6M269.8 204.8L274.6 205.7M275.7 204.7L280.6 205.8M281.7 204.7L286.5 205.8M287.5 204.8L292.6 205.7M293.4 204.9L298.6 205.6M299.1 204.8L304.8 205.7M305.0 204.8L310.8 205.7M310.9 204.7L316.8 205.8M316.9 204.7L322.7 205.8M322.8 204.8L328.7 205.7M328.7 205.0L334.7 205.5M334.6 205.1L340.7 205.4M340.6 205.1L346.6 205.4M346.5 205.0L352.6 205.5M352.5 205.0L358.5 205.5M358.4 205.1L364.5 205.4M364.4 205.2L370.4 205.3M370.3 205.3L376.4 205.2M376.3 205.4L382.3 205.1M382.3 205.4L388.2 205.1M388.3 205.4L394.1 205.1M394.3 205.4L400.0 205.1M400.4 205.5L405.8 205.0M406.5 205.5L411.6 205.0M412.5 205.5L417.5 205.0M418.5 205.5L423.4 205.0M424.6 205.5L429.2 205.0M430.7 205.4L435.0 205.1M436.8 205.4L440.8 205.1" fill="none" stroke="#1c1c00" stroke-width="0.8" stroke-opacity="0.62"/>
<path d="M180.1 27.3L178.1 28.1L178.1 26.5zM186.0 27.3L184.0 28.1L184.0 26.5zM192.0 27.3L189.9 28.1L190.0 26.5zM197.9 27.3L195.9 28.1L195.9 26.5zM203.9 27.4L201.8 28.1L201.9 26.5zM209.8 27.4L207.8 28.1L207.8 26.5zM215.8 27.4L213.7 28.1L213.8 26.5zM221.7 27.3L219.7 28.1L219.7 26.5zM227.7 27.3L225.7 28.1L225.7 26.5zM233.6 27.3L231.6 28.1L231.6 26.5zM239.6 27.3L237.5 28.1L237.6 26.5zM245.5 27.4L243.5 28.1L243.5 26.5zM251.4 27.5L249.4 28.1L249.5 26.5zM257.4 27.5L255.3 28.1L255.5 26.6zM263.3 27.5L261.2 28.1L261.4 26.5zM269.2 27.5L267.2 28.1L267.3 26.5zM275.1 27.5L273.1 28.1L273.2 26.5zM281.0 27.7L278.9 28.2L279.2 26.6zM286.9 27.8L284.8 28.2L285.1 26.6zM292.7 27.8L290.6 28.2L291.0 26.6zM298.6 27.8L296.5 28.2L296.8 26.6zM304.5 27.8L302.3 28.1L302.7 26.6zM310.3 27.8L308.2 28.1L308.5 26.6zM316.2 27.7L314.1 28.1L314.4 26.5zM322.1 27.7L319.9 28.1L320.3 26.5zM328.0 27.5L325.9 28.1L326.1 26.5zM333.9 27.4L331.8 28.1L331.9 26.5zM339.8 27.4L337.8 28.1L337.9 26.5zM345.7 27.0L343.8 28.0L343.7 26.4zM351.7 26.9L349.8 28.0L349.5 26.4zM357.6 26.8L355.8 28.0L355.5 26.4zM363.5 26.5L361.9 28.0L361.3 26.4zM369.4 26.5L367.8 27.9L367.3 26.4zM375.4 26.4L373.9 27.9L373.2 26.4zM381.3 26.2L379.9 27.8L379.2 26.4zM387.3 26.2L385.9 27.8L385.2 26.4zM393.4 26.2L392.0 27.8L391.3 26.3zM399.5 26.1L398.0 27.7L397.3 26.3zM405.5 25.9L404.1 27.6L403.3 26.2zM411.5 25.8L410.2 27.5L409.4 26.1zM417.5 25.8L416.2 27.5L415.4 26.1zM423.6 25.8L422.2 27.5L421.4 26.1zM429.5 25.8L428.2 27.5L427.4 26.1zM435.5 25.7L434.1 27.4L433.4 26.0zM441.4 25.7L440.1 27.4L439.3 26.0zM180.1 31.7L178.1 32.5L178.1 30.9zM186.0 31.7L184.0 32.5L184.0 30.9zM192.0 31.7L189.9 32.5L190.0 30.9zM197.9 31.8L195.9 32.5L195.9 30.9zM203.9 31.8L201.8 32.6L201.9 31.0zM209.8 31.9L207.8 32.6L207.8 31.0zM215.8 31.8L213.7 32.5L213.8 30.9zM221.7 31.8L219.7 32.5L219.7 30.9zM227.7 31.7L225.7 32.5L225.7 30.9zM233.6 31.7L231.6 32.5L231.6 30.9zM239.6 31.7L237.5 32.5L237.6 30.9zM245.5 31.8L243.5 32.5L243.5 30.9zM251.4 32.0L249.4 32.6L249.5 31.0zM257.4 32.0L255.3 32.6L255.5 31.0zM263.3 32.0L261.2 32.6L261.4 31.0zM269.2 32.0L267.2 32.6L267.3 31.0zM275.1 32.0L273.1 32.6L273.2 31.0zM281.0 32.2L278.9 32.6L279.2 31.1zM286.9 32.3L284.8 32.7L285.1 31.1zM292.7 32.3L290.6 32.6L291.0 31.1zM298.6 32.3L296.5 32.6L296.8 31.1zM304.5 32.2L302.4 32.6L302.7 31.0zM310.3 32.2L308.2 32.6L308.5 31.0zM316.2 32.2L314.1 32.6L314.4 31.0zM322.1 32.2L319.9 32.5L320.3 31.0zM328.0 32.0L325.9 32.5L326.1 30.9zM333.9 31.9L331.8 32.5L331.9 30.9zM339.8 31.8L337.8 32.5L337.9 30.9zM345.7 31.5L343.8 32.5L343.7 30.9zM351.7 31.3L349.8 32.5L349.6 30.9zM357.6 31.3L355.8 32.5L355.5 30.9zM363.5 31.0L361.9 32.4L361.3 30.9zM369.4 31.0L367.8 32.4L367.3 30.9zM375.4 30.8L373.9 32.4L373.2 30.9zM381.3 30.7L379.9 32.3L379.2 30.9zM387.4 30.7L385.9 32.3L385.2 30.8zM393.4 30.6L392.0 32.2L391.3 30.8zM399.5 30.5L398.0 32.1L397.3 30.7zM405.5 30.4L404.1 32.0L403.3 30.6zM411.5 30.3L410.2 32.0L409.4 30.6zM417.5 30.3L416.2 31.9L415.4 30.6zM423.6 30.3L422.2 31.9L421.4 30.5zM429.6 30.3L428.2 31.9L427.4 30.5zM435.5 30.2L434.1 31.9L433.4 30.5zM441.4 30.2L440.1 31.9L439.3 30.5zM180.1 36.2L178.1 37.0L178.1 35.4zM186.0 36.2L184.0 37.0L184.0 35.4zM192.0 36.2L189.9 37.0L190.0 35.4zM197.9 36.3L195.9 37.0L195.9 35.4zM203.9 36.3L201.8 37.0L201.9 35.4zM209.8 36.3L207.8 37.0L207.9 35.4zM215.8 36.3L213.7 37.0L213.8 35.4zM221.7 36.3L219.7 37.0L219.7 35.4zM227.7 36.2L225.6 37.0L225.7 35.4zM233.6 36.2L231.6 37.0L231.6 35.4zM239.6 36.2L237.5 37.0L237.6 35.4zM245.5 36.3L243.4 37.0L243.5 35.4zM251.4 36.5L249.4 37.0L249.5 35.5zM257.4 36.5L255.3 37.1L255.5 35.5zM263.3 36.5L261.2 37.1L261.4 35.5zM269.2 36.5L267.2 37.0L267.3 35.5zM275.1 36.5L273.0 37.1L273.2 35.5zM281.0 36.7L278.9 37.1L279.2 35.5zM286.9 36.7L284.8 37.1L285.1 35.5zM292.8 36.7L290.6 37.1L291.0 35.5zM298.6 36.7L296.5 37.1L296.8 35.5zM304.5 36.7L302.4 37.1L302.7 35.5zM310.3 36.7L308.2 37.0L308.6 35.5zM316.2 36.6L314.1 37.0L314.4 35.4zM322.1 36.6L320.0 37.0L320.3 35.4zM328.0 36.4L325.9 37.0L326.1 35.4zM333.9 36.3L331.8 37.0L331.9 35.4zM339.8 36.2L337.8 37.0L337.8 35.4zM345.7 36.0L343.8 36.9L343.7 35.3zM351.7 35.8L349.8 36.9L349.6 35.3zM357.6 35.7L355.8 36.9L355.5 35.3zM363.5 35.5L361.8 36.9L361.4 35.3zM369.5 35.4L367.8 36.8L367.3 35.3zM375.4 35.3L373.9 36.8L373.3 35.3zM381.4 35.2L379.9 36.7L379.2 35.3zM387.4 35.1L385.9 36.7L385.3 35.3zM393.5 35.1L392.0 36.7L391.3 35.2zM399.5 35.0L398.1 36.6L397.4 35.2zM405.5 34.9L404.1 36.5L403.4 35.1zM411.5 34.8L410.2 36.4L409.4 35.0zM417.6 34.7L416.2 36.4L415.4 35.0zM423.6 34.7L422.2 36.4L421.4 35.0zM429.6 34.7L428.2 36.4L427.4 35.0zM435.5 34.7L434.1 36.3L433.4 34.9zM441.5 34.6L440.1 36.3L439.3 34.9zM180.1 40.6L178.1 41.4L178.1 39.8zM186.0 40.6L184.0 41.4L184.0 39.8zM192.0 40.7L189.9 41.4L190.0 39.8zM197.9 40.7L195.9 41.4L195.9 39.8zM203.9 40.8L201.8 41.5L201.9 39.9zM209.8 40.8L207.8 41.5L207.9 39.9zM215.8 40.8L213.7 41.5L213.8 39.9zM221.7 40.7L219.7 41.4L219.7 39.9zM227.7 40.7L225.6 41.4L225.7 39.8zM233.6 40.7L231.6 41.4L231.6 39.8zM239.5 40.8L237.5 41.5L237.6 39.9zM245.5 40.8L243.4 41.5L243.6 39.9zM251.4 40.9L249.3 41.5L249.5 39.9zM257.4 41.0L255.3 41.5L255.5 39.9zM263.3 41.0L261.2 41.5L261.4 39.9zM269.2 41.0L267.1 41.5L267.4 39.9zM275.1 41.1L273.0 41.5L273.3 40.0zM281.0 41.2L278.9 41.6L279.2 40.0zM286.9 41.2L284.8 41.6L285.1 40.0zM292.8 41.2L290.6 41.6L291.0 40.0zM298.6 41.2L296.5 41.5L296.9 40.0zM304.5 41.2L302.4 41.5L302.7 40.0zM310.3 41.2L308.2 41.5L308.6 39.9zM316.2 41.2L314.1 41.5L314.4 39.9zM322.1 41.1L320.0 41.5L320.3 39.9zM328.0 41.0L325.9 41.4L326.1 39.9zM333.8 40.8L331.8 41.4L331.9 39.8zM339.8 40.7L337.7 41.4L337.8 39.8zM345.7 40.5L343.8 41.4L343.7 39.8zM351.7 40.3L349.8 41.4L349.6 39.8zM357.6 40.2L355.8 41.4L355.5 39.8zM363.6 40.0L361.8 41.3L361.4 39.8zM369.5 39.9L367.8 41.3L367.3 39.8zM375.5 39.8L373.9 41.3L373.3 39.8zM381.4 39.7L379.9 41.2L379.3 39.7zM387.4 39.6L385.9 41.2L385.3 39.7zM393.5 39.6L392.0 41.1L391.3 39.7zM399.5 39.5L398.1 41.0L397.4 39.6zM405.6 39.3L404.1 41.0L403.4 39.5zM411.6 39.2L410.2 40.9L409.4 39.5zM417.6 39.2L416.2 40.9L415.4 39.5zM423.6 39.2L422.2 40.8L421.4 39.4zM429.6 39.2L428.2 40.8L427.4 39.4zM435.5 39.1L434.1 40.8L433.4 39.4zM441.5 39.1L440.1 40.8L439.3 39.4zM180.1 45.1L178.1 45.9L178.1 44.3zM186.0 45.1L184.0 45.9L184.0 44.3zM192.0 45.1L189.9 45.9L190.0 44.3zM197.9 45.2L195.9 45.9L195.9 44.3zM203.9 45.2L201.8 45.9L201.9 44.3zM209.8 45.3L207.8 45.9L207.9 44.3zM215.8 45.2L213.7 45.9L213.8 44.3zM221.7 45.2L219.7 45.9L219.8 44.3zM227.7 45.2L225.6 45.9L225.7 44.3zM233.6 45.2L231.6 45.9L231.6 44.3zM239.6 45.2L237.5 45.9L237.6 44.3zM245.5 45.3L243.4 45.9L243.6 44.3zM251.4 45.4L249.3 46.0L249.5 44.4zM257.4 45.5L255.3 46.0L255.5 44.4zM263.3 45.5L261.2 46.0L261.4 44.4zM269.2 45.5L267.1 46.0L267.4 44.4zM275.1 45.6L273.0 46.0L273.3 44.4zM281.0 45.7L278.9 46.0L279.2 44.5zM286.9 45.8L284.7 46.0L285.1 44.5zM292.8 45.8L290.6 46.0L291.0 44.5zM298.6 45.8L296.5 46.0L296.9 44.5zM304.5 45.7L302.4 46.0L302.8 44.4zM310.3 45.7L308.2 46.0L308.6 44.4zM316.2 45.7L314.0 45.9L314.5 44.4zM322.1 45.7L319.9 45.9L320.4 44.4zM328.0 45.5L325.8 45.9L326.2 44.3zM333.8 45.4L331.7 45.9L332.0 44.3zM339.7 45.3L337.7 45.9L337.8 44.3zM345.7 45.0L343.8 45.8L343.7 44.2zM351.7 44.8L349.8 45.8L349.6 44.2zM357.7 44.6L355.8 45.8L355.5 44.2zM363.6 44.4L361.9 45.8L361.4 44.2zM369.5 44.3L367.9 45.7L367.4 44.2zM375.5 44.2L373.9 45.7L373.3 44.2zM381.5 44.1L379.9 45.6L379.3 44.2zM387.4 44.0L386.0 45.6L385.3 44.1zM393.5 44.0L392.0 45.5L391.4 44.1zM399.6 43.9L398.1 45.5L397.4 44.0zM405.6 43.8L404.2 45.4L403.4 44.0zM411.6 43.7L410.2 45.3L409.4 43.9zM417.6 43.6L416.2 45.3L415.4 43.9zM423.6 43.7L422.2 45.3L421.4 43.9zM429.6 43.6L428.2 45.3L427.4 43.9zM435.5 43.6L434.1 45.3L433.4 43.9zM441.5 43.6L440.1 45.2L439.3 43.8zM180.1 49.5L178.1 50.3L178.1 48.7zM186.0 49.5L184.0 50.3L184.0 48.7zM192.0 49.6L189.9 50.3L190.0 48.7zM197.9 49.6L195.9 50.3L195.9 48.7zM203.9 49.7L201.8 50.4L201.9 48.8zM209.8 49.7L207.8 50.4L207.9 48.8zM215.8 49.7L213.7 50.4L213.8 48.8zM221.7 49.7L219.7 50.4L219.8 48.8zM227.7 49.6L225.6 50.3L225.7 48.7zM233.6 49.6L231.6 50.3L231.7 48.7zM239.6 49.7L237.5 50.4L237.6 48.8zM245.5 49.8L243.5 50.4L243.6 48.8zM251.4 49.9L249.4 50.4L249.6 48.8zM257.4 49.9L255.3 50.4L255.5 48.9zM263.3 49.9L261.2 50.4L261.5 48.9zM269.3 49.9L267.2 50.4L267.4 48.9zM275.2 50.0L273.1 50.5L273.3 48.9zM281.0 50.2L278.9 50.5L279.3 48.9zM286.9 50.3L284.7 50.5L285.2 49.0zM292.8 50.3L290.6 50.5L291.1 49.0zM298.6 50.3L296.5 50.5L297.0 48.9zM304.5 50.3L302.4 50.5L302.8 48.9zM310.3 50.3L308.2 50.4L308.7 48.9zM316.2 50.3L314.0 50.4L314.6 48.9zM322.1 50.2L319.9 50.4L320.4 48.9zM328.0 50.1L325.8 50.3L326.2 48.8zM333.7 50.0L331.5 50.3L331.9 48.7zM339.6 49.8L337.5 50.3L337.8 48.7zM345.8 49.4L343.8 50.3L343.7 48.7zM351.7 49.2L349.9 50.3L349.6 48.7zM357.7 49.1L355.9 50.2L355.6 48.7zM363.6 48.8L361.9 50.2L361.4 48.7zM369.5 48.7L367.9 50.2L367.4 48.7zM375.5 48.7L373.9 50.1L373.3 48.6zM381.4 48.5L380.0 50.1L379.3 48.6zM387.4 48.4L386.0 50.0L385.3 48.6zM393.5 48.3L392.1 50.0L391.4 48.5zM399.6 48.3L398.1 49.9L397.4 48.5zM405.6 48.2L404.2 49.8L403.4 48.4zM411.6 48.1L410.2 49.8L409.4 48.4zM417.6 48.1L416.2 49.7L415.4 48.3zM423.6 48.1L422.2 49.7L421.4 48.3zM429.6 48.1L428.2 49.7L427.4 48.3zM435.5 48.0L434.1 49.7L433.4 48.3zM441.4 48.0L440.1 49.7L439.3 48.3zM180.1 54.0L178.1 54.8L178.1 53.2zM186.0 54.0L184.0 54.8L184.0 53.2zM192.0 54.0L190.0 54.8L190.0 53.2zM197.9 54.1L195.9 54.8L196.0 53.2zM203.9 54.1L201.8 54.8L201.9 53.2zM209.8 54.2L207.8 54.8L207.9 53.2zM215.8 54.2L213.7 54.8L213.8 53.2zM221.7 54.1L219.7 54.8L219.8 53.2zM227.7 54.1L225.6 54.8L225.7 53.2zM233.6 54.1L231.6 54.8L231.7 53.2zM239.6 54.1L237.6 54.8L237.6 53.2zM245.5 54.2L243.5 54.8L243.6 53.2zM251.5 54.4L249.4 54.9L249.6 53.3zM257.4 54.4L255.3 54.9L255.5 53.3zM263.3 54.4L261.3 54.9L261.5 53.3zM269.3 54.4L267.2 54.9L267.4 53.3zM275.2 54.4L273.1 54.9L273.3 53.3zM281.1 54.6L278.9 55.0L279.3 53.4zM286.9 54.8L284.8 55.0L285.2 53.5zM292.8 54.8L290.6 55.0L291.1 53.4zM298.7 54.8L296.5 54.9L297.0 53.4zM304.5 54.8L302.4 54.9L302.9 53.4zM310.4 54.8L308.2 54.9L308.7 53.4zM316.2 54.8L314.1 54.9L314.6 53.4zM322.1 54.7L319.9 54.8L320.5 53.3zM328.0 54.6L325.9 54.8L326.3 53.3zM333.6 54.5L331.5 54.7L331.9 53.2zM339.4 54.3L337.2 54.7L337.6 53.1zM345.7 53.8L343.8 54.7L343.7 53.1zM351.8 53.6L349.9 54.7L349.7 53.1zM357.7 53.6L355.9 54.7L355.6 53.1zM363.5 53.1L362.0 54.6L361.4 53.1zM369.5 53.1L368.0 54.6L367.4 53.1zM375.5 53.1L373.9 54.6L373.4 53.1zM381.4 52.9L380.0 54.5L379.3 53.1zM387.4 52.8L386.1 54.4L385.3 53.0zM393.5 52.8L392.1 54.4L391.4 53.0zM399.6 52.7L398.1 54.3L397.4 52.9zM405.6 52.6L404.2 54.3L403.4 52.9zM411.6 52.5L410.2 54.2L409.4 52.8zM417.6 52.5L416.2 54.2L415.4 52.8zM423.6 52.5L422.2 54.2L421.4 52.8zM429.5 52.5L428.2 54.2L427.4 52.8zM435.5 52.5L434.1 54.1L433.3 52.7zM441.4 52.4L440.1 54.1L439.3 52.7zM180.1 58.4L178.1 59.2L178.1 57.6zM186.0 58.4L184.0 59.2L184.0 57.6zM192.0 58.5L190.0 59.2L190.0 57.6zM197.9 58.5L195.9 59.2L196.0 57.6zM203.9 58.6L201.8 59.3L201.9 57.7zM209.8 58.6L207.8 59.3L207.9 57.7zM215.8 58.6L213.7 59.3L213.8 57.7zM221.7 58.6L219.7 59.3L219.8 57.7zM227.7 58.5L225.7 59.2L225.7 57.6zM233.7 58.5L231.6 59.2L231.7 57.6zM239.6 58.6L237.6 59.3L237.7 57.7zM245.6 58.7L243.5 59.3L243.7 57.7zM251.5 58.9L249.4 59.4L249.6 57.8zM257.4 58.9L255.3 59.4L255.6 57.8zM263.4 58.9L261.3 59.4L261.5 57.8zM269.3 58.8L267.2 59.3L267.4 57.8zM275.2 58.9L273.1 59.4L273.4 57.8zM281.1 59.1L278.9 59.4L279.3 57.9zM286.9 59.2L284.8 59.4L285.3 57.9zM292.8 59.2L290.7 59.4L291.2 57.9zM298.7 59.2L296.6 59.4L297.0 57.9zM304.6 59.2L302.4 59.4L302.9 57.9zM310.4 59.3L308.3 59.4L308.8 57.9zM316.3 59.3L314.1 59.3L314.6 57.8zM322.1 59.2L320.0 59.3L320.5 57.8zM328.0 59.0L325.9 59.3L326.3 57.7zM333.6 58.9L331.5 59.2L331.9 57.6zM339.0 58.7L336.9 59.1L337.2 57.5zM345.5 58.3L343.6 59.2L343.5 57.6zM351.8 58.1L349.9 59.2L349.7 57.6zM357.7 58.0L355.9 59.1L355.6 57.6zM363.6 57.6L362.0 59.1L361.4 57.6zM369.5 57.6L368.0 59.0L367.4 57.5zM375.5 57.5L374.0 59.0L373.4 57.5zM381.5 57.3L380.0 58.9L379.3 57.5zM387.5 57.2L386.1 58.9L385.3 57.4zM393.5 57.2L392.1 58.8L391.4 57.4zM399.6 57.2L398.2 58.8L397.5 57.4zM405.6 57.0L404.2 58.7L403.4 57.3zM411.6 56.9L410.2 58.6L409.4 57.3zM417.6 56.9L416.2 58.6L415.4 57.2zM423.6 57.0L422.2 58.6L421.4 57.2zM429.5 57.0L428.2 58.6L427.4 57.2zM435.5 56.9L434.1 58.6L433.3 57.2zM441.4 56.9L440.1 58.6L439.3 57.2zM180.1 62.9L178.1 63.7L178.1 62.1zM186.0 62.9L184.0 63.7L184.0 62.1zM192.0 62.9L190.0 63.7L190.0 62.1zM197.9 63.0L195.9 63.7L196.0 62.1zM203.9 63.1L201.8 63.7L201.9 62.1zM209.8 63.1L207.8 63.7L207.9 62.1zM215.8 63.1L213.7 63.7L213.8 62.1zM221.7 63.1L219.7 63.7L219.8 62.1zM227.7 63.0L225.6 63.7L225.7 62.1zM233.7 63.0L231.6 63.7L231.7 62.1zM239.6 63.1L237.6 63.7L237.7 62.1zM245.6 63.2L243.5 63.8L243.7 62.2zM251.5 63.4L249.4 63.8L249.7 62.2zM257.5 63.4L255.3 63.8L255.6 62.3zM263.4 63.4L261.3 63.8L261.5 62.2zM269.3 63.4L267.2 63.8L267.5 62.2zM275.2 63.5L273.1 63.8L273.4 62.3zM281.1 63.6L279.0 63.9L279.4 62.3zM287.0 63.7L284.8 63.9L285.3 62.4zM292.9 63.7L290.7 63.9L291.2 62.4zM298.7 63.7L296.6 63.9L297.1 62.4zM304.6 63.7L302.5 63.9L303.0 62.3zM310.4 63.7L308.3 63.8L308.8 62.3zM316.3 63.7L314.1 63.8L314.7 62.3zM322.2 63.6L320.0 63.8L320.5 62.2zM328.1 63.5L325.9 63.7L326.4 62.2zM333.8 63.3L331.6 63.7L332.0 62.1zM339.0 63.1L336.9 63.5L337.2 62.0zM345.3 62.8L343.3 63.7L343.3 62.1zM351.7 62.6L349.8 63.6L349.6 62.0zM357.8 62.5L355.9 63.6L355.6 62.0zM363.7 62.2L362.0 63.5L361.5 62.0zM369.6 62.1L368.0 63.5L367.5 62.0zM375.6 62.0L374.0 63.5L373.4 62.0zM381.5 61.8L380.0 63.4L379.4 61.9zM387.5 61.7L386.1 63.3L385.4 61.9zM393.6 61.7L392.1 63.3L391.4 61.8zM399.6 61.6L398.2 63.2L397.5 61.8zM405.6 61.5L404.2 63.2L403.5 61.7zM411.6 61.4L410.2 63.1L409.5 61.7zM417.6 61.4L416.2 63.1L415.4 61.7zM423.6 61.5L422.2 63.1L421.4 61.7zM429.5 61.5L428.1 63.1L427.4 61.7zM435.5 61.4L434.1 63.1L433.3 61.7zM441.4 61.4L440.1 63.0L439.3 61.7zM180.1 67.3L178.1 68.1L178.1 66.5zM186.0 67.3L184.0 68.1L184.0 66.5zM192.0 67.4L190.0 68.1L190.0 66.5zM197.9 67.5L195.9 68.2L196.0 66.6zM203.9 67.5L201.8 68.2L201.9 66.6zM209.8 67.6L207.8 68.2L207.9 66.6zM215.8 67.6L213.7 68.2L213.9 66.6zM221.7 67.5L219.7 68.2L219.8 66.6zM227.7 67.5L225.6 68.2L225.8 66.6zM233.7 67.6L231.6 68.2L231.7 66.6zM239.6 67.6L237.6 68.2L237.7 66.6zM245.6 67.8L243.5 68.3L243.7 66.7zM251.5 67.9L249.4 68.3L249.7 66.7zM257.5 67.9L255.4 68.3L255.7 66.7zM263.4 67.9L261.3 68.3L261.6 66.7zM269.3 67.9L267.2 68.3L267.5 66.7zM275.2 68.0L273.1 68.3L273.5 66.8zM281.1 68.2L279.0 68.4L279.4 66.8zM287.0 68.2L284.8 68.4L285.3 66.8zM292.9 68.2L290.7 68.4L291.2 66.8zM298.8 68.3L296.6 68.4L297.1 66.9zM304.6 68.3L302.5 68.3L303.0 66.8zM310.5 68.3L308.3 68.3L308.9 66.8zM316.3 68.2L314.2 68.3L314.7 66.8zM322.2 68.1L320.1 68.2L320.6 66.7zM328.1 68.0L326.0 68.2L326.4 66.7zM333.9 67.8L331.8 68.1L332.1 66.6zM339.2 67.5L337.1 68.0L337.4 66.4zM345.0 67.4L343.0 68.1L343.1 66.5zM351.5 67.2L349.6 68.1L349.5 66.5zM357.8 67.0L355.9 68.0L355.7 66.5zM363.7 66.8L362.0 68.0L361.6 66.4zM369.7 66.6L368.0 68.0L367.5 66.4zM375.6 66.5L374.0 67.9L373.5 66.4zM381.6 66.4L380.1 67.9L379.5 66.4zM387.6 66.2L386.1 67.8L385.5 66.3zM393.6 66.2L392.2 67.7L391.5 66.3zM399.7 66.1L398.2 67.7L397.5 66.2zM405.7 66.0L404.2 67.6L403.5 66.2zM411.6 65.9L410.2 67.6L409.5 66.2zM417.6 65.9L416.2 67.6L415.5 66.2zM423.6 65.9L422.2 67.6L421.4 66.1zM429.5 65.9L428.1 67.6L427.4 66.1zM435.5 65.9L434.1 67.5L433.3 66.1zM441.4 65.8L440.1 67.5L439.3 66.1zM180.1 71.8L178.1 72.6L178.1 71.0zM186.0 71.8L184.0 72.6L184.0 71.0zM192.0 71.8L190.0 72.6L190.0 71.0zM197.9 71.9L195.9 72.6L196.0 71.0zM203.9 72.0L201.8 72.6L202.0 71.0zM209.8 72.0L207.8 72.6L207.9 71.0zM215.8 72.0L213.7 72.6L213.9 71.0zM221.8 72.0L219.7 72.6L219.8 71.0zM227.7 72.0L225.7 72.6L225.8 71.0zM233.7 72.0L231.6 72.6L231.8 71.0zM239.6 72.1L237.6 72.7L237.8 71.1zM245.6 72.3L243.5 72.7L243.7 71.2zM251.5 72.3L249.4 72.8L249.7 71.2zM257.5 72.3L255.4 72.8L255.7 71.2zM263.4 72.4L261.3 72.8L261.6 71.2zM269.3 72.5L267.2 72.8L267.6 71.2zM275.2 72.6L273.1 72.8L273.5 71.3zM281.1 72.7L278.9 72.9L279.4 71.3zM287.0 72.8L284.8 72.9L285.4 71.3zM292.9 72.8L290.7 72.8L291.3 71.3zM298.7 72.8L296.6 72.8L297.2 71.4zM304.6 72.9L302.4 72.8L303.1 71.4zM310.5 72.9L308.3 72.8L308.9 71.3zM316.3 72.8L314.2 72.8L314.8 71.3zM322.2 72.7L320.1 72.7L320.7 71.2zM328.1 72.7L325.9 72.7L326.5 71.2zM334.0 72.4L331.8 72.6L332.3 71.1zM339.4 72.0L337.3 72.5L337.5 70.9zM345.0 71.9L342.9 72.5L343.0 70.9zM351.3 71.8L349.3 72.5L349.3 70.9zM357.8 71.4L355.9 72.5L355.7 70.9zM363.7 71.2L362.0 72.4L361.6 70.9zM369.7 71.1L368.0 72.4L367.6 70.9zM375.7 71.0L374.0 72.4L373.5 70.9zM381.6 70.8L380.1 72.3L379.5 70.8zM387.6 70.6L386.2 72.2L385.5 70.8zM393.7 70.6L392.2 72.2L391.5 70.7zM399.7 70.5L398.2 72.1L397.5 70.7zM405.7 70.4L404.3 72.1L403.5 70.6zM411.6 70.3L410.2 72.0L409.5 70.6zM417.6 70.3L416.2 72.0L415.4 70.6zM423.6 70.4L422.2 72.0L421.4 70.6zM429.5 70.4L428.1 72.0L427.4 70.6zM435.5 70.3L434.1 72.0L433.3 70.6zM441.4 70.3L440.1 72.0L439.3 70.6zM180.1 76.2L178.1 77.0L178.1 75.4zM186.1 76.2L184.1 77.0L184.1 75.4zM192.0 76.3L190.0 77.0L190.0 75.4zM198.0 76.4L195.9 77.1L196.0 75.5zM203.9 76.4L201.9 77.1L202.0 75.5zM209.9 76.5L207.8 77.1L207.9 75.5zM215.8 76.5L213.8 77.1L213.9 75.5zM221.8 76.4L219.7 77.1L219.8 75.5zM227.8 76.4L225.7 77.1L225.8 75.5zM233.7 76.4L231.7 77.1L231.8 75.5zM239.7 76.6L237.6 77.1L237.8 75.6zM245.6 76.7L243.5 77.2L243.7 75.6zM251.5 76.8L249.4 77.2L249.7 75.6zM257.5 76.8L255.4 77.2L255.7 75.6zM263.4 76.8L261.3 77.2L261.6 75.6zM269.3 77.0L267.2 77.3L267.6 75.7zM275.2 77.2L273.0 77.3L273.5 75.8zM281.1 77.3L278.9 77.3L279.5 75.8zM287.0 77.3L284.8 77.3L285.4 75.8zM292.9 77.3L290.7 77.3L291.3 75.8zM298.7 77.4L296.6 77.3L297.2 75.9zM304.6 77.5L302.4 77.3L303.1 75.9zM310.5 77.5L308.3 77.3L309.0 75.9zM316.4 77.4L314.2 77.2L314.9 75.8zM322.2 77.4L320.1 77.2L320.8 75.8zM328.1 77.4L326.0 77.2L326.7 75.8zM334.1 77.1L332.0 77.2L332.5 75.7zM339.6 76.5L337.5 77.0L337.7 75.4zM345.0 76.3L343.0 76.9L343.1 75.4zM351.2 76.3L349.1 77.0L349.2 75.4zM357.7 75.8L355.9 76.9L355.6 75.4zM363.7 75.5L362.1 76.8L361.6 75.3zM369.7 75.5L368.0 76.9L367.6 75.3zM375.7 75.4L374.0 76.8L373.5 75.3zM381.6 75.1L380.1 76.7L379.4 75.3zM387.6 75.0L386.2 76.6L385.4 75.2zM393.7 75.0L392.2 76.6L391.5 75.1zM399.7 75.0L398.3 76.6L397.6 75.1zM405.6 74.8L404.3 76.5L403.5 75.1zM411.6 74.7L410.2 76.4L409.5 75.0zM417.6 74.8L416.2 76.4L415.4 75.0zM423.6 74.8L422.2 76.5L421.4 75.0zM429.5 74.8L428.1 76.5L427.4 75.0zM435.5 74.7L434.1 76.4L433.3 75.0zM441.4 74.7L440.1 76.4L439.3 75.0zM180.1 80.7L178.1 81.5L178.1 79.9zM186.1 80.7L184.1 81.5L184.1 79.9zM192.0 80.7L190.0 81.5L190.1 79.9zM198.0 80.8L195.9 81.5L196.0 79.9zM203.9 80.9L201.9 81.5L202.0 79.9zM209.9 80.9L207.8 81.5L208.0 80.0zM215.9 80.9L213.8 81.5L213.9 79.9zM221.8 80.8L219.8 81.5L219.9 79.9zM227.8 80.8L225.7 81.5L225.8 79.9zM233.7 80.9L231.7 81.5L231.8 79.9zM239.7 81.1L237.6 81.6L237.8 80.0zM245.6 81.2L243.5 81.6L243.7 80.1zM251.5 81.2L249.4 81.7L249.7 80.1zM257.5 81.2L255.4 81.6L255.7 80.1zM263.5 81.3L261.3 81.7L261.6 80.1zM269.3 81.5L267.2 81.7L267.6 80.2zM275.2 81.7L273.0 81.8L273.6 80.3zM281.1 81.7L279.0 81.8L279.5 80.3zM287.0 81.7L284.9 81.8L285.4 80.3zM292.9 81.8L290.7 81.8L291.3 80.3zM298.7 81.9L296.6 81.8L297.3 80.4zM304.6 82.0L302.5 81.8L303.2 80.4zM310.5 82.0L308.3 81.8L309.1 80.3zM316.4 81.9L314.2 81.7L314.9 80.3zM322.3 81.9L320.1 81.7L320.9 80.3zM328.2 81.9L326.0 81.7L326.8 80.3zM334.4 81.8L332.2 81.8L332.9 80.3zM340.2 81.1L338.1 81.5L338.4 80.0zM345.3 80.8L343.3 81.4L343.4 79.8zM351.2 80.8L349.2 81.4L349.3 79.8zM357.8 80.2L356.0 81.4L355.6 79.8zM363.7 79.9L362.1 81.3L361.6 79.8zM369.7 80.0L368.0 81.3L367.5 79.8zM375.6 79.9L374.0 81.3L373.5 79.8zM381.5 79.6L380.1 81.2L379.4 79.7zM387.6 79.4L386.2 81.1L385.4 79.7zM393.7 79.4L392.2 81.0L391.5 79.6zM399.7 79.4L398.3 81.0L397.6 79.6zM405.7 79.2L404.3 80.9L403.5 79.5zM411.6 79.2L410.3 80.9L409.5 79.5zM417.6 79.2L416.2 80.9L415.4 79.5zM423.5 79.3L422.2 80.9L421.4 79.5zM429.5 79.3L428.1 80.9L427.4 79.5zM435.4 79.2L434.1 80.9L433.3 79.5zM441.4 79.2L440.1 80.8L439.3 79.5zM180.1 85.1L178.1 85.9L178.1 84.3zM186.1 85.1L184.1 85.9L184.1 84.3zM192.1 85.2L190.0 85.9L190.1 84.3zM198.0 85.3L196.0 86.0L196.1 84.4zM204.0 85.3L201.9 86.0L202.0 84.4zM209.9 85.4L207.9 86.0L208.0 84.4zM215.9 85.4L213.8 86.0L214.0 84.4zM221.8 85.3L219.8 86.0L219.9 84.4zM227.8 85.3L225.8 86.0L225.9 84.4zM233.7 85.4L231.7 86.0L231.8 84.4zM239.7 85.6L237.6 86.1L237.8 84.5zM245.6 85.7L243.5 86.1L243.8 84.5zM251.6 85.7L249.5 86.1L249.8 84.6zM257.6 85.7L255.5 86.1L255.8 84.6zM263.5 85.8L261.4 86.2L261.8 84.6zM269.4 86.1L267.2 86.3L267.7 84.7zM275.2 86.2L273.1 86.3L273.6 84.8zM281.1 86.2L279.0 86.3L279.5 84.8zM287.0 86.2L284.9 86.2L285.4 84.7zM292.9 86.3L290.7 86.3L291.4 84.8zM298.8 86.4L296.6 86.3L297.3 84.8zM304.6 86.5L302.5 86.3L303.2 84.8zM310.5 86.4L308.4 86.2L309.1 84.8zM316.5 86.4L314.3 86.2L315.0 84.8zM322.4 86.4L320.2 86.2L320.9 84.8zM328.3 86.4L326.1 86.2L326.9 84.8zM334.6 86.4L332.5 86.3L333.1 84.9zM340.8 85.7L338.7 86.1L339.0 84.6zM346.9 85.4L344.9 86.0L345.0 84.4zM352.3 85.3L350.3 86.0L350.4 84.4zM357.8 84.8L356.0 85.8L355.7 84.3zM363.7 84.4L362.0 85.8L361.6 84.2zM369.7 84.5L368.0 85.8L367.5 84.2zM375.6 84.4L373.9 85.8L373.5 84.2zM381.5 84.1L380.0 85.7L379.3 84.2zM387.5 84.0L386.0 85.6L385.3 84.2zM393.6 83.9L392.2 85.5L391.5 84.1zM399.8 83.9L398.3 85.5L397.6 84.0zM405.7 83.7L404.3 85.4L403.5 84.0zM411.6 83.7L410.3 85.3L409.5 83.9zM417.6 83.7L416.2 85.3L415.4 83.9zM423.6 83.7L422.2 85.4L421.4 84.0zM429.5 83.7L428.1 85.4L427.4 83.9zM435.4 83.7L434.1 85.3L433.3 83.9zM441.4 83.6L440.1 85.3L439.3 83.9zM180.2 89.6L178.1 90.4L178.2 88.8zM186.1 89.6L184.1 90.4L184.1 88.8zM192.1 89.6L190.1 90.4L190.1 88.8zM198.0 89.7L196.0 90.4L196.1 88.8zM204.0 89.8L201.9 90.4L202.1 88.8zM209.9 89.8L207.9 90.4L208.0 88.8zM215.9 89.8L213.8 90.4L214.0 88.8zM221.9 89.8L219.8 90.4L219.9 88.9zM227.8 89.9L225.7 90.5L225.9 88.9zM233.8 90.0L231.7 90.5L231.9 88.9zM239.8 90.0L237.7 90.5L237.9 88.9zM245.8 90.1L243.6 90.6L243.9 89.0zM251.7 90.3L249.6 90.6L249.9 89.1zM257.7 90.4L255.5 90.7L255.9 89.1zM263.5 90.6L261.4 90.7L261.9 89.2zM269.4 90.8L267.2 90.8L267.8 89.3zM275.3 90.8L273.1 90.8L273.7 89.3zM281.2 90.7L279.0 90.7L279.6 89.2zM287.1 90.7L284.9 90.7L285.5 89.2zM292.9 90.8L290.7 90.7L291.4 89.3zM298.8 90.9L296.6 90.7L297.3 89.3zM304.7 90.9L302.5 90.7L303.2 89.3zM310.6 90.9L308.4 90.7L309.2 89.3zM316.5 90.9L314.4 90.7L315.1 89.3zM322.4 90.9L320.3 90.7L321.0 89.3zM328.4 90.9L326.2 90.7L326.9 89.3zM334.5 90.8L332.3 90.7L333.0 89.2zM340.8 90.5L338.7 90.7L339.1 89.2zM347.1 90.2L345.0 90.6L345.3 89.1zM352.7 90.0L350.7 90.5L350.9 88.9zM357.8 89.6L355.8 90.4L355.8 88.8zM363.8 89.2L361.9 90.3L361.7 88.7zM369.7 89.2L367.9 90.3L367.6 88.7zM375.7 89.1L373.9 90.3L373.5 88.7zM381.5 88.8L379.9 90.2L379.4 88.7zM387.5 88.6L385.9 90.1L385.3 88.7zM393.6 88.5L392.1 90.0L391.5 88.6zM399.8 88.4L398.3 89.9L397.7 88.5zM405.7 88.3L404.3 89.9L403.6 88.4zM411.7 88.2L410.3 89.8L409.5 88.4zM417.6 88.2L416.2 89.8L415.5 88.4zM423.6 88.2L422.2 89.8L421.4 88.4zM429.5 88.2L428.1 89.8L427.4 88.4zM435.5 88.2L434.1 89.8L433.3 88.4zM441.4 88.1L440.0 89.8L439.3 88.4zM180.1 94.0L178.1 94.8L178.1 93.2zM186.1 94.0L184.1 94.8L184.1 93.2zM192.1 94.1L190.0 94.8L190.1 93.2zM198.0 94.2L196.0 94.9L196.1 93.3zM204.0 94.2L201.9 94.9L202.0 93.3zM209.9 94.2L207.9 94.9L208.0 93.3zM215.9 94.2L213.8 94.9L213.9 93.3zM221.8 94.2L219.8 94.9L219.9 93.3zM227.8 94.4L225.8 94.9L225.9 93.3zM233.9 94.5L231.8 95.0L232.0 93.4zM239.9 94.5L237.8 95.0L238.0 93.4zM245.9 94.6L243.8 95.1L244.1 93.5zM251.9 94.8L249.8 95.1L250.2 93.6zM257.9 94.9L255.7 95.2L256.1 93.6zM263.6 95.4L261.4 95.4L262.1 93.9zM269.4 95.6L267.2 95.4L267.9 94.0zM275.2 95.5L273.1 95.3L273.8 93.9zM281.2 95.4L279.0 95.3L279.7 93.8zM287.0 95.4L284.8 95.3L285.5 93.8zM292.8 95.5L290.7 95.2L291.4 93.8zM298.8 95.5L296.6 95.2L297.4 93.8zM304.7 95.5L302.5 95.2L303.3 93.8zM310.6 95.5L308.4 95.2L309.2 93.8zM316.5 95.4L314.4 95.2L315.1 93.8zM322.5 95.4L320.3 95.2L321.1 93.8zM328.4 95.4L326.3 95.2L327.0 93.7zM334.4 95.3L332.2 95.2L332.9 93.7zM340.6 95.3L338.4 95.2L339.1 93.8zM346.9 95.1L344.7 95.2L345.2 93.7zM352.3 94.8L350.2 95.0L350.6 93.5zM357.7 94.5L355.6 94.8L355.9 93.3zM363.8 94.2L361.8 94.8L361.9 93.2zM369.8 94.0L367.8 94.8L367.8 93.2zM375.7 93.7L373.8 94.8L373.6 93.2zM381.6 93.4L379.9 94.7L379.4 93.1zM387.5 93.2L385.9 94.6L385.3 93.1zM393.6 93.1L392.0 94.5L391.5 93.0zM399.8 92.9L398.3 94.4L397.7 92.9zM405.8 92.8L404.3 94.3L403.6 92.9zM411.7 92.7L410.3 94.3L409.6 92.9zM417.7 92.7L416.2 94.3L415.5 92.9zM423.6 92.7L422.2 94.3L421.5 92.9zM429.6 92.7L428.1 94.3L427.4 92.9zM435.5 92.7L434.1 94.3L433.4 92.8zM441.4 92.6L440.0 94.3L439.3 92.8zM180.1 98.5L178.1 99.3L178.1 97.7zM186.0 98.5L184.0 99.3L184.0 97.7zM192.0 98.5L190.0 99.3L190.0 97.7zM198.0 98.6L195.9 99.3L196.0 97.7zM203.9 98.7L201.9 99.3L202.0 97.7zM209.9 98.6L207.8 99.3L207.9 97.7zM215.9 98.6L213.8 99.3L213.9 97.7zM221.9 98.6L219.8 99.3L219.9 97.7zM227.9 98.8L225.8 99.4L226.0 97.8zM234.0 99.0L231.9 99.5L232.1 97.9zM240.1 99.1L238.0 99.5L238.2 97.9zM246.2 99.1L244.1 99.6L244.4 98.0zM252.2 99.3L250.1 99.6L250.4 98.1zM258.1 99.5L256.0 99.7L256.4 98.2zM263.6 100.3L261.5 100.0L262.3 98.6zM269.4 100.3L267.3 100.0L268.1 98.6zM275.2 100.3L273.1 99.9L273.9 98.6zM281.1 100.2L278.9 99.8L279.7 98.5zM286.9 100.1L284.8 99.8L285.6 98.4zM292.8 100.1L290.6 99.7L291.5 98.4zM298.7 100.0L296.6 99.7L297.4 98.3zM304.6 100.0L302.5 99.7L303.3 98.3zM310.5 100.1L308.4 99.7L309.2 98.3zM316.5 100.0L314.3 99.7L315.2 98.3zM322.5 99.9L320.3 99.7L321.1 98.3zM328.4 99.9L326.3 99.7L327.1 98.3zM334.3 100.0L332.1 99.7L333.0 98.3zM340.2 100.0L338.1 99.7L338.9 98.3zM346.5 99.9L344.4 99.7L345.1 98.3zM352.3 99.8L350.2 99.6L350.9 98.2zM357.6 99.3L355.4 99.3L356.1 97.8zM363.8 98.8L361.7 99.3L361.9 97.7zM369.8 98.6L367.7 99.3L367.8 97.7zM375.7 98.4L373.7 99.2L373.7 97.6zM381.6 97.8L379.9 99.1L379.4 97.6zM387.4 97.5L385.9 99.0L385.3 97.6zM393.6 97.5L392.0 99.0L391.4 97.5zM399.8 97.4L398.3 98.9L397.7 97.4zM405.8 97.2L404.3 98.8L403.6 97.3zM411.7 97.1L410.3 98.7L409.5 97.3zM417.6 97.1L416.2 98.7L415.5 97.3zM423.6 97.2L422.2 98.8L421.5 97.3zM429.6 97.2L428.1 98.7L427.4 97.3zM435.5 97.1L434.1 98.7L433.4 97.3zM441.4 97.1L440.0 98.7L439.3 97.3zM180.0 102.9L178.0 103.7L178.0 102.1zM185.9 102.9L183.9 103.7L184.0 102.1zM191.9 103.0L189.9 103.7L189.9 102.1zM197.9 103.1L195.8 103.8L195.9 102.2zM203.8 103.1L201.8 103.8L201.9 102.2zM209.8 103.1L207.8 103.8L207.9 102.2zM215.8 103.1L213.8 103.8L213.9 102.2zM221.9 103.1L219.8 103.8L219.9 102.2zM228.0 103.3L225.9 103.8L226.1 102.3zM234.1 103.5L232.0 103.9L232.2 102.4zM240.3 103.6L238.2 104.0L238.5 102.4zM246.4 103.6L244.3 104.0L244.6 102.5zM252.3 103.9L250.2 104.2L250.6 102.6zM258.1 104.4L256.0 104.4L256.5 102.9zM263.8 104.9L261.6 104.6L262.4 103.2zM269.5 105.0L267.4 104.6L268.3 103.2zM275.1 105.0L273.0 104.5L274.0 103.2zM281.0 104.8L278.9 104.4L279.8 103.0zM286.9 104.6L284.8 104.3L285.6 102.9zM292.7 104.6L290.6 104.2L291.5 102.8zM298.7 104.5L296.5 104.2L297.4 102.8zM304.6 104.5L302.5 104.2L303.3 102.8zM310.5 104.6L308.4 104.2L309.2 102.8zM316.4 104.6L314.3 104.1L315.2 102.8zM322.4 104.5L320.3 104.1L321.1 102.8zM328.4 104.5L326.2 104.1L327.1 102.8zM334.2 104.6L332.1 104.1L333.0 102.8zM340.1 104.6L338.0 104.1L338.9 102.8zM346.4 104.5L344.3 104.2L345.0 102.8zM352.2 104.4L350.1 104.1L350.9 102.7zM357.6 104.1L355.5 103.8L356.3 102.4zM363.8 103.3L361.7 103.8L361.9 102.2zM369.8 103.1L367.7 103.7L367.8 102.1zM375.7 103.0L373.7 103.7L373.7 102.1zM381.5 102.1L379.9 103.5L379.4 102.0zM387.4 101.9L385.9 103.5L385.3 102.0zM393.5 101.9L392.0 103.4L391.4 102.0zM399.8 101.8L398.3 103.3L397.7 101.8zM405.8 101.6L404.3 103.2L403.6 101.8zM411.7 101.5L410.3 103.2L409.5 101.7zM417.6 101.5L416.2 103.2L415.5 101.7zM423.6 101.6L422.2 103.2L421.5 101.8zM429.6 101.6L428.1 103.2L427.4 101.8zM435.5 101.5L434.1 103.2L433.4 101.7zM441.4 101.5L440.1 103.1L439.3 101.7zM179.8 107.4L177.8 108.2L177.8 106.6zM185.8 107.4L183.8 108.2L183.8 106.6zM191.8 107.4L189.7 108.2L189.8 106.6zM197.7 107.5L195.7 108.2L195.8 106.6zM203.7 107.6L201.6 108.2L201.7 106.6zM209.6 107.5L207.6 108.2L207.7 106.6zM215.6 107.5L213.6 108.2L213.7 106.6zM221.6 107.6L219.6 108.2L219.7 106.6zM227.7 107.7L225.6 108.3L225.8 106.7zM234.2 108.0L232.1 108.4L232.3 106.8zM240.4 108.1L238.3 108.5L238.6 106.9zM246.4 108.2L244.3 108.5L244.6 107.0zM252.3 108.5L250.2 108.7L250.6 107.1zM258.0 109.0L255.9 108.9L256.6 107.5zM263.8 109.5L261.6 109.1L262.5 107.7zM269.3 109.9L267.3 109.3L268.3 108.0zM275.1 109.7L273.1 109.1L274.1 107.9zM281.0 109.4L278.9 108.9L279.8 107.6zM286.9 109.1L284.8 108.7L285.7 107.4zM292.7 109.1L290.6 108.7L291.5 107.3zM298.6 109.0L296.5 108.6L297.4 107.3zM304.6 109.0L302.4 108.6L303.3 107.3zM310.5 109.0L308.4 108.6L309.2 107.3zM316.4 109.0L314.3 108.6L315.2 107.3zM322.4 108.9L320.3 108.6L321.1 107.2zM328.3 109.0L326.2 108.6L327.1 107.2zM334.2 109.1L332.1 108.6L333.0 107.3zM340.1 109.1L338.0 108.6L338.9 107.3zM346.3 108.9L344.2 108.6L345.0 107.2zM352.5 109.0L350.4 108.7L351.2 107.4zM357.9 108.6L355.7 108.4L356.5 107.0zM363.7 107.8L361.6 108.2L361.9 106.6zM369.8 107.6L367.7 108.2L367.8 106.6zM375.7 107.4L373.7 108.2L373.7 106.6zM381.5 106.6L379.9 108.0L379.4 106.5zM387.4 106.4L385.9 107.9L385.3 106.5zM393.5 106.4L392.0 107.9L391.4 106.4zM399.8 106.3L398.3 107.8L397.7 106.3zM405.8 106.0L404.3 107.6L403.6 106.2zM411.7 106.0L410.3 107.6L409.5 106.2zM417.6 106.0L416.2 107.6L415.5 106.2zM423.7 106.1L422.2 107.6L421.5 106.2zM429.6 106.1L428.1 107.7L427.5 106.2zM435.5 106.0L434.1 107.6L433.4 106.2zM441.4 105.9L440.1 107.6L439.3 106.2zM179.6 111.8L177.6 112.6L177.6 111.0zM185.6 111.8L183.6 112.6L183.6 111.0zM191.6 111.9L189.6 112.6L189.6 111.0zM197.6 112.0L195.5 112.6L195.6 111.0zM203.5 112.0L201.5 112.6L201.6 111.1zM209.4 112.0L207.4 112.6L207.5 111.0zM215.3 112.0L213.3 112.6L213.4 111.0zM221.2 112.0L219.1 112.6L219.3 111.0zM227.2 112.1L225.1 112.7L225.3 111.1zM233.8 112.3L231.7 112.8L232.0 111.2zM239.9 112.5L237.8 112.9L238.1 111.3zM245.9 112.6L243.8 112.9L244.1 111.4zM251.1 112.6L249.0 112.8L249.4 111.3zM257.9 113.5L255.8 113.4L256.5 111.9zM263.7 114.1L261.6 113.6L262.5 112.3zM269.4 114.4L267.3 113.7L268.3 112.5zM275.2 114.4L273.1 113.7L274.2 112.5zM280.8 114.3L278.8 113.5L279.9 112.3zM286.8 113.8L284.7 113.3L285.7 112.0zM292.7 113.6L290.6 113.1L291.5 111.8zM298.6 113.6L296.5 113.1L297.4 111.8zM304.5 113.5L302.4 113.1L303.3 111.7zM310.5 113.5L308.4 113.0L309.2 111.7zM316.4 113.4L314.3 113.0L315.2 111.7zM322.4 113.4L320.3 113.0L321.1 111.7zM328.4 113.4L326.2 113.0L327.1 111.7zM334.3 113.5L332.1 113.0L333.0 111.7zM340.2 113.4L338.1 113.0L338.9 111.7zM346.2 113.3L344.0 113.0L344.8 111.6zM352.6 113.4L350.4 113.2L351.2 111.8zM358.3 113.1L356.2 113.0L356.9 111.5zM363.6 112.3L361.4 112.6L361.8 111.1zM369.7 112.0L367.6 112.6L367.8 111.0zM375.7 111.8L373.7 112.6L373.7 111.0zM381.6 111.2L379.9 112.5L379.5 110.9zM387.5 110.9L385.9 112.4L385.3 110.9zM393.6 110.9L392.0 112.3L391.5 110.8zM399.9 110.8L398.3 112.2L397.7 110.7zM405.8 110.6L404.3 112.1L403.7 110.7zM411.7 110.5L410.3 112.1L409.6 110.6zM417.7 110.5L416.2 112.1L415.5 110.6zM423.7 110.6L422.2 112.1L421.5 110.7zM429.6 110.6L428.1 112.1L427.5 110.7zM435.5 110.5L434.1 112.1L433.4 110.6zM441.5 110.4L440.1 112.1L439.3 110.6zM179.3 116.3L177.3 117.1L177.3 115.5zM185.4 116.3L183.4 117.1L183.4 115.5zM191.4 116.3L189.3 117.1L189.4 115.5zM197.3 116.4L195.3 117.1L195.3 115.5zM203.3 116.4L201.2 117.1L201.3 115.5zM209.2 116.4L207.2 117.1L207.3 115.5zM215.1 116.3L213.1 117.1L213.1 115.5zM220.6 116.3L218.6 117.0L218.7 115.4zM226.4 116.4L224.4 117.0L224.5 115.4zM232.0 116.5L229.9 117.0L230.2 115.4zM237.9 116.5L235.8 116.9L236.1 115.4zM243.8 116.5L241.7 116.9L242.0 115.4zM249.7 116.5L247.6 116.9L247.9 115.3zM256.3 117.1L254.1 117.0L254.7 115.5zM263.3 118.3L261.2 117.8L262.1 116.5zM269.3 119.0L267.3 118.2L268.3 117.0zM274.8 119.3L272.9 118.3L274.1 117.3zM280.4 119.2L278.5 118.1L279.8 117.1zM286.5 118.7L284.5 117.8L285.7 116.7zM292.5 118.3L290.5 117.6L291.5 116.4zM298.5 118.1L296.4 117.6L297.4 116.3zM304.5 118.0L302.4 117.5L303.3 116.2zM310.5 117.9L308.4 117.5L309.2 116.2zM316.4 117.9L314.3 117.5L315.2 116.2zM322.4 117.9L320.2 117.5L321.1 116.2zM328.3 117.9L326.2 117.5L327.1 116.1zM334.3 117.8L332.2 117.5L333.0 116.1zM340.2 117.8L338.1 117.5L338.9 116.1zM346.1 117.8L344.0 117.4L344.8 116.1zM352.4 117.8L350.3 117.5L351.0 116.1zM358.6 117.6L356.5 117.5L357.1 116.1zM363.6 116.8L361.5 117.1L361.9 115.5zM369.7 116.6L367.6 117.1L367.9 115.5zM375.7 116.3L373.7 117.1L373.7 115.5zM381.6 115.9L379.8 117.0L379.5 115.4zM387.6 115.6L385.8 116.9L385.4 115.4zM393.8 115.5L392.1 116.8L391.6 115.3zM400.0 115.3L398.3 116.7L397.8 115.2zM405.9 115.2L404.3 116.6L403.7 115.1zM411.8 115.1L410.3 116.6L409.7 115.1zM417.8 115.1L416.2 116.6L415.6 115.1zM423.7 115.1L422.2 116.6L421.6 115.1zM429.7 115.1L428.1 116.6L427.5 115.1zM435.6 115.0L434.1 116.6L433.4 115.1zM441.5 115.0L440.1 116.5L439.4 115.1zM178.6 120.7L176.6 121.5L176.6 119.9zM184.5 120.7L182.5 121.5L182.6 119.9zM190.7 120.8L188.6 121.5L188.7 119.9zM196.7 120.8L194.6 121.5L194.7 119.9zM202.6 120.8L200.5 121.5L200.6 119.9zM208.5 120.7L206.5 121.5L206.6 119.9zM214.8 120.7L212.8 121.5L212.8 119.9zM221.1 120.7L219.1 121.5L219.2 119.9zM227.0 120.9L224.9 121.5L225.0 119.9zM232.3 120.9L230.2 121.5L230.4 119.9zM238.0 120.9L235.9 121.4L236.1 119.8zM243.9 120.8L241.8 121.4L242.0 119.8zM249.6 120.9L247.5 121.4L247.7 119.8zM255.5 121.1L253.4 121.2L253.9 119.7zM262.3 122.1L260.2 121.6L261.1 120.3zM269.0 123.7L267.1 122.7L268.2 121.7zM274.6 124.0L272.8 122.8L274.1 121.9zM280.3 123.8L278.5 122.6L279.8 121.7zM286.3 123.3L284.4 122.3L285.6 121.3zM292.5 122.7L290.5 122.1L291.5 120.8zM298.4 122.6L296.4 122.0L297.4 120.7zM304.4 122.5L302.3 122.0L303.3 120.7zM310.4 122.4L308.3 122.0L309.2 120.6zM316.4 122.4L314.3 122.0L315.2 120.6zM322.3 122.4L320.2 122.0L321.1 120.6zM328.3 122.4L326.2 122.0L327.1 120.6zM334.3 122.3L332.2 121.9L333.0 120.6zM340.2 122.3L338.1 121.9L339.0 120.6zM346.1 122.4L344.0 121.9L344.9 120.6zM352.1 122.3L350.0 122.0L350.9 120.6zM358.3 121.9L356.2 121.9L356.8 120.4zM364.0 121.5L361.8 121.7L362.3 120.1zM369.7 121.3L367.5 121.6L367.9 120.0zM375.7 120.9L373.6 121.5L373.8 119.9zM381.6 120.3L379.8 121.4L379.5 119.9zM387.6 120.1L385.9 121.4L385.5 119.8zM393.9 120.0L392.1 121.3L391.7 119.7zM400.0 119.8L398.3 121.2L397.8 119.7zM405.9 119.6L404.3 121.1L403.8 119.6zM411.8 119.6L410.3 121.1L409.7 119.6zM417.8 119.6L416.2 121.1L415.6 119.6zM423.7 119.6L422.2 121.1L421.6 119.6zM429.7 119.5L428.1 121.0L427.5 119.6zM435.6 119.5L434.1 121.0L433.4 119.6zM441.5 119.4L440.1 121.0L439.4 119.5zM179.5 125.2L177.5 126.0L177.5 124.4zM185.4 125.2L183.4 126.0L183.4 124.4zM191.4 125.2L189.4 126.0L189.4 124.4zM197.3 125.3L195.3 126.0L195.4 124.4zM203.3 125.3L201.2 126.0L201.3 124.4zM209.2 125.2L207.2 126.0L207.2 124.4zM215.2 125.2L213.2 126.0L213.2 124.4zM221.1 125.2L219.1 126.0L219.1 124.4zM226.9 125.3L224.9 126.0L225.0 124.4zM232.8 125.5L230.7 126.0L230.9 124.4zM238.7 125.4L236.6 126.0L236.8 124.4zM243.9 125.3L241.9 125.9L242.0 124.3zM249.7 125.3L247.6 125.9L247.8 124.3zM255.5 125.5L253.4 125.7L253.8 124.2zM261.6 126.1L259.5 125.6L260.4 124.3zM268.8 128.2L266.9 127.2L268.1 126.1zM274.5 128.5L272.7 127.3L274.0 126.4zM280.4 128.2L278.6 127.1L279.9 126.2zM286.4 127.7L284.5 126.8L285.7 125.7zM292.5 127.2L290.5 126.5L291.5 125.3zM298.4 127.0L296.3 126.4L297.3 125.2zM304.4 127.0L302.3 126.4L303.3 125.1zM310.4 126.9L308.3 126.4L309.2 125.1zM316.4 126.9L314.3 126.4L315.2 125.1zM322.3 126.9L320.2 126.4L321.1 125.1zM328.3 126.9L326.2 126.4L327.1 125.1zM334.3 126.8L332.2 126.4L333.0 125.0zM340.2 126.8L338.1 126.4L339.0 125.0zM346.1 126.9L344.0 126.4L344.9 125.1zM352.1 126.8L349.9 126.4L350.8 125.0zM359.0 126.7L356.9 126.6L357.5 125.2zM364.6 126.3L362.5 126.4L363.0 124.9zM369.6 125.9L367.4 126.0L368.0 124.5zM375.7 125.5L373.6 126.0L373.8 124.4zM381.6 124.7L379.8 125.9L379.5 124.3zM387.7 124.5L386.0 125.8L385.6 124.2zM394.0 124.4L392.2 125.7L391.8 124.2zM400.0 124.3L398.3 125.6L397.9 124.1zM405.9 124.1L404.3 125.5L403.8 124.0zM411.9 124.0L410.3 125.5L409.7 124.0zM417.8 124.0L416.2 125.5L415.7 124.0zM423.8 124.1L422.2 125.5L421.6 124.0zM429.7 124.0L428.1 125.5L427.5 124.0zM435.6 123.9L434.1 125.5L433.4 124.0zM441.5 123.9L440.1 125.4L439.4 124.0zM179.5 129.6L177.5 130.4L177.5 128.8zM185.4 129.6L183.4 130.4L183.4 128.8zM191.4 129.7L189.3 130.4L189.4 128.8zM197.3 129.7L195.3 130.4L195.3 128.8zM203.3 129.7L201.2 130.4L201.3 128.8zM209.2 129.7L207.2 130.4L207.2 128.8zM215.1 129.6L213.1 130.4L213.2 128.8zM221.0 129.6L219.0 130.4L219.1 128.8zM226.9 129.8L224.8 130.4L224.9 128.8zM232.8 129.9L230.7 130.4L230.9 128.8zM238.7 129.9L236.6 130.4L236.9 128.8zM244.2 129.8L242.1 130.4L242.3 128.8zM249.8 129.8L247.7 130.3L247.9 128.7zM255.5 130.0L253.4 130.1L253.9 128.6zM261.3 130.3L259.2 129.8L260.2 128.5zM268.5 132.1L266.6 131.2L267.8 130.1zM274.6 132.9L272.8 131.7L274.1 130.8zM280.4 132.7L278.6 131.5L279.9 130.6zM286.4 132.2L284.4 131.2L285.6 130.1zM292.5 131.6L290.4 131.0L291.5 129.7zM298.4 131.5L296.3 130.9L297.3 129.6zM304.4 131.4L302.3 130.9L303.2 129.6zM310.4 131.3L308.3 130.9L309.2 129.5zM316.4 131.3L314.3 130.9L315.2 129.5zM322.3 131.3L320.2 130.9L321.1 129.5zM328.3 131.3L326.2 130.9L327.1 129.5zM334.3 131.2L332.2 130.8L333.0 129.5zM340.2 131.2L338.1 130.8L339.0 129.5zM346.1 131.3L344.0 130.8L344.9 129.5zM352.1 131.2L350.0 130.8L350.8 129.4zM358.4 130.8L356.3 130.8L356.9 129.3zM364.7 130.8L362.5 130.8L363.0 129.3zM369.7 130.4L367.6 130.5L368.1 129.0zM375.7 130.0L373.6 130.4L373.8 128.9zM381.7 129.1L379.9 130.3L379.6 128.7zM387.9 128.9L386.1 130.2L385.7 128.6zM394.1 128.9L392.3 130.1L391.9 128.6zM400.1 128.8L398.4 130.1L397.9 128.6zM406.0 128.6L404.3 130.0L403.8 128.5zM411.9 128.5L410.3 130.0L409.7 128.5zM417.8 128.5L416.3 130.0L415.7 128.5zM423.8 128.5L422.2 130.0L421.6 128.5zM429.7 128.5L428.1 130.0L427.6 128.5zM435.6 128.4L434.1 129.9L433.5 128.5zM441.5 128.3L440.1 129.9L439.4 128.4zM179.5 134.1L177.5 134.9L177.5 133.3zM185.4 134.1L183.4 134.9L183.4 133.3zM191.4 134.1L189.3 134.9L189.4 133.3zM197.3 134.2L195.3 134.9L195.4 133.3zM203.3 134.2L201.2 134.9L201.3 133.3zM209.2 134.2L207.2 134.9L207.2 133.3zM215.2 134.1L213.1 134.9L213.2 133.3zM221.1 134.2L219.0 134.9L219.1 133.3zM226.9 134.3L224.8 134.9L225.0 133.3zM232.8 134.4L230.7 134.9L230.9 133.3zM238.7 134.4L236.6 134.9L236.9 133.3zM244.6 134.4L242.5 134.9L242.8 133.3zM249.8 134.4L247.7 134.7L248.0 133.1zM255.5 134.5L253.3 134.5L253.9 133.0zM261.3 134.8L259.2 134.2L260.1 133.0zM268.1 136.1L266.1 135.1L267.3 134.0zM274.5 137.4L272.7 136.2L274.0 135.3zM280.1 137.3L278.4 136.0L279.8 135.2zM286.2 136.7L284.3 135.7L285.6 134.7zM292.4 136.1L290.3 135.4L291.4 134.2zM298.3 135.9L296.3 135.3L297.3 134.0zM304.4 135.8L302.3 135.3L303.2 134.0zM310.4 135.7L308.3 135.3L309.2 134.0zM316.4 135.7L314.3 135.3L315.2 134.0zM322.4 135.7L320.2 135.3L321.1 134.0zM328.3 135.7L326.2 135.3L327.1 133.9zM334.3 135.6L332.2 135.3L333.0 133.9zM340.3 135.6L338.2 135.3L339.0 133.9zM346.2 135.6L344.1 135.3L344.9 133.9zM352.2 135.5L350.1 135.2L350.8 133.8zM358.3 135.2L356.2 135.2L356.8 133.7zM365.1 135.3L363.0 135.4L363.5 133.9zM370.1 134.9L368.0 135.1L368.4 133.5zM375.8 134.4L373.7 134.9L373.9 133.3zM381.9 133.7L380.1 134.7L379.8 133.2zM388.1 133.4L386.4 134.6L386.0 133.1zM394.2 133.4L392.4 134.6L392.1 133.0zM400.1 133.3L398.4 134.6L398.0 133.0zM406.0 133.1L404.4 134.5L403.9 133.0zM411.9 133.0L410.3 134.4L409.8 132.9zM417.9 133.0L416.3 134.4L415.7 132.9zM423.8 133.0L422.2 134.5L421.7 133.0zM429.7 133.0L428.1 134.4L427.6 132.9zM435.6 132.9L434.1 134.4L433.5 132.9zM441.6 132.9L440.1 134.4L439.4 132.9zM179.5 138.5L177.5 139.3L177.5 137.7zM185.4 138.5L183.4 139.3L183.5 137.7zM191.4 138.6L189.4 139.3L189.4 137.7zM197.3 138.6L195.3 139.3L195.4 137.7zM203.3 138.7L201.2 139.3L201.3 137.7zM209.2 138.7L207.2 139.3L207.3 137.7zM215.2 138.6L213.1 139.3L213.2 137.7zM221.1 138.7L219.0 139.3L219.1 137.7zM226.9 138.8L224.9 139.3L225.0 137.7zM232.8 138.9L230.7 139.3L231.0 137.8zM238.7 139.0L236.6 139.3L236.9 137.8zM244.6 139.0L242.5 139.3L242.9 137.8zM249.9 138.9L247.8 139.2L248.2 137.6zM255.5 139.0L253.3 138.9L254.0 137.5zM261.3 139.2L259.2 138.7L260.1 137.4zM268.0 140.4L266.0 139.4L267.2 138.3zM274.4 141.9L272.6 140.6L274.0 139.8zM280.0 141.7L278.3 140.4L279.7 139.6zM286.1 141.2L284.3 140.1L285.6 139.1zM292.3 140.6L290.3 139.8L291.4 138.6zM298.3 140.3L296.3 139.7L297.2 138.4zM304.4 140.2L302.3 139.7L303.2 138.4zM310.4 140.1L308.3 139.7L309.2 138.4zM316.4 140.1L314.3 139.7L315.2 138.4zM322.4 140.1L320.3 139.7L321.1 138.4zM328.4 140.1L326.2 139.7L327.1 138.4zM334.4 140.0L332.2 139.7L333.0 138.3zM340.3 139.9L338.2 139.7L339.0 138.3zM346.3 139.9L344.2 139.7L344.9 138.3zM352.3 139.8L350.1 139.7L350.8 138.2zM358.3 139.6L356.1 139.6L356.7 138.1zM364.6 139.4L362.5 139.6L362.9 138.1zM370.9 139.3L368.8 139.6L369.1 138.1zM376.4 138.8L374.4 139.4L374.5 137.8zM382.2 138.2L380.3 139.2L380.2 137.6zM388.3 137.9L386.5 139.1L386.2 137.5zM394.3 137.9L392.5 139.1L392.1 137.5zM400.2 137.8L398.4 139.0L398.1 137.5zM406.1 137.6L404.4 139.0L403.9 137.4zM412.0 137.6L410.3 138.9L409.8 137.4zM417.9 137.6L416.3 138.9L415.8 137.4zM423.8 137.6L422.2 138.9L421.7 137.4zM429.8 137.5L428.1 138.9L427.6 137.4zM435.7 137.5L434.1 138.9L433.5 137.4zM441.6 137.4L440.0 138.9L439.5 137.4zM179.5 143.0L177.5 143.8L177.5 142.2zM185.5 143.0L183.5 143.8L183.5 142.2zM191.4 143.0L189.4 143.8L189.4 142.2zM197.3 143.1L195.3 143.8L195.4 142.2zM203.3 143.1L201.2 143.8L201.3 142.2zM209.2 143.1L207.2 143.8L207.3 142.2zM215.2 143.1L213.1 143.8L213.2 142.2zM221.1 143.1L219.1 143.8L219.2 142.2zM227.0 143.2L224.9 143.8L225.1 142.2zM232.8 143.3L230.7 143.8L231.0 142.2zM238.7 143.5L236.6 143.8L236.9 142.2zM244.6 143.5L242.5 143.8L242.9 142.2zM250.2 143.4L248.1 143.7L248.5 142.1zM255.6 143.4L253.4 143.5L253.9 142.0zM261.3 143.6L259.2 143.2L260.1 141.9zM268.0 144.7L266.0 143.9L267.2 142.7zM274.8 146.0L272.9 145.0L274.1 143.9zM280.3 145.9L278.5 144.7L279.8 143.8zM286.3 145.5L284.4 144.5L285.6 143.4zM292.3 144.9L290.3 144.2L291.3 143.0zM298.4 144.6L296.3 144.1L297.2 142.8zM304.3 144.5L302.2 144.1L303.1 142.8zM310.4 144.5L308.3 144.1L309.1 142.8zM316.4 144.5L314.3 144.2L315.1 142.8zM322.4 144.5L320.3 144.2L321.1 142.8zM328.4 144.5L326.2 144.2L327.1 142.8zM334.3 144.5L332.2 144.2L333.0 142.8zM340.4 144.4L338.2 144.2L339.0 142.7zM346.3 144.4L344.2 144.1L344.9 142.7zM352.2 144.4L350.1 144.1L350.8 142.7zM358.2 144.2L356.1 144.1L356.7 142.6zM364.5 143.7L362.4 144.0L362.8 142.5zM371.1 143.6L369.0 144.0L369.2 142.5zM377.0 143.3L374.9 143.9L375.0 142.3zM382.5 142.6L380.6 143.6L380.4 142.0zM388.4 142.3L386.6 143.5L386.2 141.9zM394.3 142.3L392.5 143.5L392.2 141.9zM400.2 142.2L398.5 143.5L398.1 141.9zM406.1 142.1L404.4 143.4L403.9 141.9zM412.0 142.0L410.3 143.4L409.8 141.9zM417.9 142.0L416.3 143.4L415.8 141.9zM423.9 142.0L422.2 143.4L421.7 141.9zM429.8 142.0L428.1 143.4L427.6 141.9zM435.7 141.9L434.1 143.4L433.6 141.9zM441.6 141.9L440.0 143.4L439.5 141.8zM179.6 147.4L177.6 148.2L177.6 146.6zM185.5 147.4L183.5 148.2L183.5 146.6zM191.4 147.5L189.4 148.2L189.5 146.6zM197.4 147.5L195.3 148.2L195.4 146.6zM203.3 147.6L201.3 148.2L201.4 146.6zM209.3 147.6L207.2 148.2L207.3 146.6zM215.2 147.5L213.2 148.2L213.2 146.6zM221.1 147.5L219.1 148.2L219.2 146.6zM227.1 147.6L225.0 148.2L225.1 146.6zM232.9 147.8L230.8 148.3L231.0 146.7zM238.7 147.9L236.6 148.2L237.0 146.7zM244.6 147.9L242.5 148.2L242.9 146.7zM250.6 147.9L248.4 148.2L248.8 146.7zM255.7 147.7L253.6 148.0L254.0 146.5zM261.3 148.0L259.2 147.7L260.1 146.3zM267.9 149.1L265.9 148.2L267.1 147.1zM274.7 150.1L272.8 149.2L273.9 148.1zM280.7 149.7L278.7 149.0L279.8 147.8zM286.4 149.6L284.4 148.8L285.5 147.6zM292.4 149.2L290.3 148.6L291.3 147.3zM298.3 148.9L296.2 148.5L297.1 147.2zM304.3 148.9L302.2 148.5L303.1 147.2zM310.3 149.0L308.2 148.6L309.1 147.2zM316.4 148.9L314.3 148.6L315.1 147.2zM322.4 149.0L320.3 148.6L321.1 147.3zM328.3 149.0L326.2 148.6L327.1 147.3zM334.3 149.0L332.2 148.6L333.0 147.3zM340.3 148.8L338.2 148.6L339.0 147.2zM346.3 148.9L344.1 148.6L344.9 147.2zM352.2 148.9L350.1 148.6L350.9 147.2zM358.0 148.6L355.8 148.5L356.5 147.0zM364.2 148.0L362.1 148.4L362.5 146.8zM371.0 148.0L368.9 148.5L369.2 146.9zM376.8 147.9L374.8 148.4L375.0 146.8zM382.6 146.8L380.8 147.9L380.5 146.4zM388.4 146.6L386.7 147.8L386.3 146.3zM394.4 146.6L392.6 147.9L392.2 146.3zM400.3 146.7L398.5 147.9L398.1 146.3zM406.1 146.5L404.4 147.8L404.0 146.3zM412.0 146.4L410.3 147.8L409.8 146.3zM417.9 146.5L416.3 147.8L415.8 146.3zM423.9 146.5L422.2 147.9L421.7 146.3zM429.8 146.5L428.1 147.8L427.6 146.3zM435.7 146.4L434.1 147.8L433.6 146.3zM441.6 146.4L440.0 147.8L439.5 146.3zM179.6 151.9L177.6 152.7L177.6 151.1zM185.5 151.9L183.5 152.7L183.5 151.1zM191.5 151.9L189.4 152.7L189.5 151.1zM197.4 152.0L195.4 152.7L195.4 151.1zM203.3 152.0L201.3 152.7L201.4 151.1zM209.3 152.0L207.2 152.7L207.3 151.1zM215.2 152.0L213.2 152.7L213.3 151.1zM221.2 152.0L219.1 152.7L219.2 151.1zM227.1 152.1L225.0 152.7L225.2 151.1zM232.9 152.3L230.8 152.7L231.1 151.1zM238.8 152.4L236.6 152.7L237.0 151.1zM244.7 152.4L242.5 152.7L242.9 151.1zM250.6 152.3L248.5 152.7L248.8 151.1zM255.9 152.2L253.8 152.5L254.2 151.0zM261.3 152.5L259.2 152.1L260.0 150.8zM267.5 153.1L265.5 152.2L266.7 151.1zM274.2 154.1L272.3 153.1L273.5 152.1zM280.6 154.0L278.6 153.3L279.6 152.1zM286.4 153.8L284.4 153.2L285.4 151.9zM292.3 153.5L290.3 153.0L291.2 151.7zM298.3 153.3L296.2 152.9L297.1 151.6zM304.3 153.4L302.2 152.9L303.0 151.6zM310.3 153.4L308.2 153.0L309.1 151.6zM316.4 153.4L314.3 153.0L315.1 151.7zM322.4 153.4L320.3 153.1L321.1 151.7zM328.3 153.5L326.2 153.1L327.1 151.7zM334.3 153.4L332.2 153.1L333.0 151.7zM340.4 153.3L338.2 153.1L339.0 151.6zM346.3 153.3L344.2 153.1L344.9 151.7zM352.2 153.4L350.1 153.1L350.9 151.7zM358.0 153.1L355.9 152.9L356.6 151.5zM364.4 152.5L362.3 152.9L362.6 151.3zM371.0 152.5L368.9 152.9L369.1 151.3zM376.8 152.3L374.7 152.8L374.9 151.3zM382.6 151.2L380.8 152.4L380.5 150.8zM388.5 151.0L386.8 152.3L386.3 150.7zM394.4 151.1L392.6 152.3L392.2 150.8zM400.3 151.1L398.5 152.4L398.1 150.8zM406.1 150.9L404.4 152.3L404.0 150.8zM412.0 150.9L410.3 152.3L409.8 150.8zM417.9 150.9L416.3 152.3L415.8 150.8zM423.9 151.0L422.2 152.3L421.7 150.8zM429.8 150.9L428.1 152.3L427.7 150.8zM435.7 150.8L434.1 152.3L433.5 150.8zM441.6 150.8L440.0 152.3L439.5 150.8zM179.6 156.3L177.6 157.1L177.6 155.5zM185.6 156.3L183.5 157.1L183.6 155.5zM191.5 156.4L189.5 157.1L189.5 155.5zM197.4 156.5L195.4 157.1L195.5 155.5zM203.4 156.5L201.3 157.1L201.4 155.5zM209.3 156.5L207.3 157.1L207.4 155.5zM215.3 156.5L213.2 157.1L213.3 155.5zM221.2 156.5L219.1 157.1L219.2 155.5zM227.1 156.6L225.1 157.2L225.2 155.6zM233.0 156.7L230.9 157.2L231.2 155.6zM238.8 156.8L236.7 157.2L237.1 155.6zM244.7 156.9L242.6 157.1L242.9 155.6zM250.6 156.8L248.5 157.1L248.9 155.6zM256.5 156.9L254.3 157.1L254.8 155.6zM261.4 157.0L259.3 156.6L260.1 155.3zM267.2 157.2L265.2 156.4L266.2 155.2zM273.9 158.0L271.9 157.1L273.0 156.0zM280.2 158.1L278.2 157.4L279.2 156.2zM286.3 158.1L284.3 157.5L285.3 156.2zM292.3 157.8L290.2 157.4L291.1 156.0zM298.1 157.7L296.0 157.3L296.9 155.9zM304.1 157.6L301.9 157.2L302.8 155.9zM310.3 157.7L308.1 157.4L309.0 156.0zM316.4 157.8L314.3 157.5L315.1 156.1zM322.4 157.9L320.3 157.5L321.1 156.1zM328.4 157.9L326.2 157.5L327.1 156.2zM334.4 157.8L332.2 157.5L333.0 156.1zM340.4 157.7L338.2 157.5L339.0 156.1zM346.3 157.7L344.2 157.5L344.9 156.1zM352.3 157.8L350.2 157.5L350.9 156.1zM358.6 157.7L356.5 157.6L357.1 156.1zM365.2 157.2L363.1 157.5L363.5 156.0zM370.9 156.9L368.8 157.4L369.1 155.8zM376.8 156.6L374.7 157.2L374.9 155.6zM382.7 155.8L380.8 156.9L380.6 155.3zM388.5 155.5L386.8 156.8L386.4 155.2zM394.4 155.6L392.6 156.8L392.3 155.2zM400.3 155.6L398.5 156.8L398.2 155.3zM406.1 155.5L404.4 156.8L404.0 155.2zM412.0 155.4L410.3 156.7L409.8 155.2zM417.9 155.4L416.2 156.8L415.8 155.2zM423.9 155.5L422.2 156.8L421.7 155.3zM429.8 155.5L428.1 156.8L427.6 155.2zM435.7 155.4L434.0 156.7L433.5 155.2zM441.6 155.3L440.0 156.7L439.4 155.2zM179.6 160.8L177.6 161.6L177.6 160.0zM185.6 160.8L183.6 161.6L183.6 160.0zM191.5 160.8L189.5 161.6L189.5 160.0zM197.5 160.9L195.4 161.6L195.5 160.0zM203.4 161.0L201.3 161.6L201.5 160.0zM209.3 161.0L207.3 161.6L207.4 160.0zM215.3 161.0L213.2 161.6L213.3 160.0zM221.2 161.0L219.1 161.6L219.3 160.0zM227.1 161.1L225.1 161.6L225.3 160.0zM233.1 161.2L231.0 161.6L231.2 160.1zM238.9 161.3L236.8 161.6L237.1 160.1zM244.7 161.3L242.6 161.6L243.0 160.1zM250.6 161.3L248.5 161.6L248.9 160.1zM256.6 161.5L254.4 161.6L254.9 160.1zM261.9 161.6L259.7 161.4L260.5 159.9zM267.2 161.5L265.2 160.9L266.1 159.7zM273.2 161.6L271.2 160.9L272.2 159.7zM280.0 162.1L277.9 161.6L278.9 160.3zM286.3 162.1L284.1 161.7L285.0 160.4zM292.2 162.0L290.0 161.7L290.9 160.3zM297.9 161.9L295.8 161.6L296.6 160.2zM303.9 161.9L301.8 161.6L302.6 160.2zM310.1 161.9L307.9 161.7L308.7 160.3zM316.5 162.1L314.3 161.9L315.1 160.5zM322.5 162.2L320.3 162.0L321.1 160.6zM328.4 162.3L326.3 162.0L327.1 160.6zM334.4 162.2L332.3 162.0L333.0 160.6zM340.4 162.1L338.2 161.9L338.9 160.5zM346.3 162.0L344.1 161.9L344.8 160.4zM352.4 162.0L350.3 161.9L350.9 160.5zM359.2 162.0L357.0 162.1L357.5 160.6zM365.2 161.6L363.1 162.0L363.5 160.4zM370.9 161.3L368.8 161.8L369.0 160.2zM376.8 160.9L374.7 161.6L374.8 160.0zM382.7 160.5L380.8 161.4L380.7 159.8zM388.6 160.3L386.7 161.3L386.5 159.8zM394.5 160.2L392.6 161.3L392.4 159.7zM400.3 160.2L398.5 161.3L398.2 159.7zM406.1 160.0L404.4 161.3L404.0 159.7zM412.0 160.0L410.3 161.3L409.9 159.7zM417.9 160.0L416.2 161.3L415.8 159.7zM423.9 160.0L422.1 161.3L421.7 159.7zM429.8 160.0L428.0 161.3L427.6 159.7zM435.7 159.9L434.0 161.3L433.5 159.7zM441.6 159.9L439.9 161.3L439.4 159.7zM179.7 165.2L177.7 166.0L177.7 164.4zM185.6 165.2L183.6 166.0L183.6 164.4zM191.5 165.3L189.5 166.0L189.6 164.4zM197.5 165.4L195.4 166.0L195.5 164.4zM203.4 165.4L201.4 166.0L201.5 164.5zM209.4 165.4L207.3 166.1L207.4 164.5zM215.3 165.4L213.2 166.1L213.4 164.5zM221.2 165.5L219.2 166.1L219.3 164.5zM227.2 165.5L225.1 166.1L225.3 164.5zM233.1 165.6L231.0 166.1L231.3 164.5zM239.0 165.7L236.9 166.1L237.2 164.5zM244.9 165.8L242.7 166.1L243.1 164.5zM250.7 165.7L248.6 166.1L248.9 164.5zM256.6 165.8L254.5 166.1L254.9 164.5zM262.6 166.1L260.4 166.1L261.0 164.6zM268.1 166.2L266.0 166.0L266.8 164.6zM273.4 165.8L271.2 165.6L272.0 164.2zM279.3 165.7L277.1 165.6L277.8 164.2zM285.8 166.0L283.6 165.9L284.3 164.4zM291.8 166.0L289.6 165.9L290.3 164.4zM297.5 166.0L295.4 165.8L296.1 164.3zM304.0 166.2L301.8 166.0L302.5 164.6zM310.0 166.2L307.8 166.1L308.5 164.6zM316.4 166.5L314.3 166.3L315.0 164.9zM322.5 166.6L320.3 166.4L321.1 165.0zM328.4 166.7L326.3 166.4L327.1 165.0zM334.4 166.7L332.2 166.4L333.0 165.0zM340.3 166.6L338.1 166.3L338.9 164.9zM345.9 166.2L343.8 166.1L344.4 164.7zM352.4 166.1L350.2 166.3L350.7 164.8zM359.3 166.3L357.2 166.5L357.6 165.0zM365.1 166.0L363.0 166.4L363.3 164.8zM370.8 165.6L368.7 166.2L368.9 164.6zM376.8 165.2L374.8 166.0L374.8 164.4zM382.7 165.0L380.8 165.9L380.7 164.3zM388.6 164.9L386.7 165.9L386.6 164.3zM394.5 164.8L392.6 165.8L392.4 164.2zM400.3 164.7L398.5 165.8L398.2 164.2zM406.2 164.6L404.4 165.8L404.0 164.2zM412.0 164.6L410.2 165.8L409.9 164.2zM417.9 164.5L416.2 165.8L415.8 164.2zM423.8 164.5L422.1 165.8L421.7 164.2zM429.8 164.5L428.0 165.8L427.6 164.2zM435.6 164.5L433.9 165.8L433.5 164.2zM441.5 164.6L439.8 165.8L439.4 164.2zM179.7 169.7L177.7 170.5L177.7 168.9zM185.6 169.7L183.6 170.5L183.6 168.9zM191.6 169.7L189.5 170.5L189.6 168.9zM197.5 169.8L195.5 170.5L195.6 168.9zM203.4 169.9L201.4 170.5L201.5 168.9zM209.4 169.9L207.3 170.5L207.5 168.9zM215.3 169.9L213.3 170.5L213.4 168.9zM221.3 169.9L219.2 170.5L219.3 168.9zM227.2 169.9L225.1 170.5L225.3 168.9zM233.1 170.1L231.0 170.5L231.3 169.0zM239.1 170.2L236.9 170.6L237.2 169.0zM244.9 170.2L242.8 170.5L243.1 169.0zM250.8 170.1L248.7 170.5L249.0 168.9zM256.8 170.1L254.6 170.5L255.0 169.0zM262.7 170.4L260.6 170.6L261.0 169.0zM268.7 170.6L266.5 170.6L267.1 169.1zM274.5 170.5L272.4 170.6L272.9 169.1zM279.9 170.2L277.7 170.4L278.2 168.8zM285.5 170.1L283.4 170.3L283.9 168.7zM291.8 170.3L289.6 170.3L290.2 168.9zM297.7 170.4L295.6 170.3L296.2 168.9zM304.0 170.6L301.8 170.5L302.5 169.0zM310.0 170.6L307.9 170.5L308.5 169.1zM316.5 170.9L314.3 170.8L315.0 169.3zM322.5 171.1L320.4 170.8L321.1 169.4zM328.4 171.2L326.3 170.9L327.1 169.5zM334.4 171.2L332.2 170.9L333.0 169.5zM340.3 171.1L338.2 170.8L338.9 169.4zM346.2 170.6L344.0 170.7L344.6 169.2zM353.0 170.6L350.9 170.9L351.3 169.3zM359.3 170.7L357.1 170.9L357.6 169.4zM364.8 170.5L362.7 170.8L363.1 169.2zM370.8 170.0L368.7 170.6L368.9 169.0zM376.8 169.5L374.8 170.4L374.7 168.8zM382.7 169.4L380.8 170.3L380.7 168.7zM388.6 169.4L386.7 170.3L386.6 168.7zM394.5 169.3L392.6 170.3L392.4 168.7zM400.3 169.2L398.5 170.3L398.2 168.7zM406.1 169.0L404.3 170.2L404.0 168.7zM412.0 169.0L410.2 170.2L409.9 168.7zM417.9 169.0L416.1 170.2L415.8 168.7zM423.8 169.0L422.0 170.2L421.7 168.7zM429.7 169.0L427.9 170.2L427.6 168.7zM435.6 169.1L433.8 170.3L433.5 168.7zM441.5 169.1L439.7 170.3L439.3 168.7zM179.7 174.1L177.7 174.9L177.7 173.3zM185.7 174.1L183.6 174.9L183.7 173.3zM191.6 174.2L189.6 174.9L189.6 173.3zM197.5 174.3L195.5 174.9L195.6 173.3zM203.5 174.3L201.4 175.0L201.5 173.4zM209.4 174.3L207.3 175.0L207.5 173.4zM215.3 174.3L213.3 175.0L213.4 173.4zM221.3 174.3L219.2 175.0L219.4 173.4zM227.2 174.4L225.2 175.0L225.3 173.4zM233.2 174.5L231.1 175.0L231.3 173.4zM239.1 174.6L237.0 175.0L237.3 173.4zM245.0 174.6L242.9 175.0L243.2 173.4zM250.9 174.5L248.8 175.0L249.1 173.4zM256.9 174.6L254.8 175.0L255.1 173.4zM262.8 174.7L260.7 175.0L261.1 173.5zM268.8 174.9L266.6 175.1L267.1 173.6zM274.8 174.9L272.6 175.1L273.1 173.5zM280.8 174.8L278.7 175.1L279.1 173.5zM286.6 174.8L284.4 175.0L284.9 173.5zM292.0 174.8L289.9 174.9L290.4 173.4zM297.9 174.9L295.7 174.9L296.4 173.4zM303.9 175.0L301.8 174.9L302.4 173.4zM310.3 175.2L308.2 175.1L308.9 173.7zM316.6 175.4L314.4 175.3L315.1 173.8zM322.5 175.5L320.4 175.3L321.1 173.9zM328.5 175.6L326.3 175.3L327.1 173.9zM334.5 175.7L332.3 175.4L333.1 174.0zM340.6 175.6L338.5 175.4L339.2 174.0zM347.2 175.3L345.1 175.4L345.6 173.9zM353.4 175.1L351.2 175.4L351.7 173.8zM359.0 175.0L356.9 175.3L357.3 173.7zM364.7 174.9L362.6 175.2L363.0 173.7zM370.8 174.4L368.7 175.0L368.9 173.4zM376.8 173.9L374.8 174.8L374.7 173.2zM382.7 173.8L380.8 174.8L380.6 173.2zM388.6 173.8L386.7 174.8L386.6 173.2zM394.5 173.8L392.6 174.8L392.5 173.2zM400.3 173.6L398.5 174.7L398.2 173.1zM406.1 173.5L404.3 174.7L404.0 173.1zM412.0 173.5L410.2 174.7L409.9 173.1zM417.9 173.5L416.1 174.7L415.8 173.1zM423.8 173.5L422.0 174.7L421.7 173.1zM429.7 173.5L427.9 174.7L427.6 173.1zM435.5 173.5L433.7 174.7L433.4 173.2zM441.4 173.6L439.6 174.8L439.3 173.2zM179.7 178.6L177.7 179.4L177.7 177.8zM185.7 178.6L183.7 179.4L183.7 177.8zM191.6 178.6L189.6 179.4L189.6 177.8zM197.5 178.7L195.5 179.4L195.6 177.8zM203.5 178.8L201.4 179.4L201.6 177.8zM209.4 178.8L207.4 179.4L207.5 177.8zM215.4 178.8L213.3 179.4L213.4 177.8zM221.3 178.8L219.2 179.4L219.4 177.8zM227.2 178.8L225.2 179.4L225.3 177.8zM233.2 178.9L231.1 179.4L231.3 177.9zM239.1 179.0L237.0 179.5L237.3 177.9zM245.1 179.0L242.9 179.5L243.2 177.9zM251.0 179.0L248.9 179.5L249.2 177.9zM257.0 179.0L254.8 179.5L255.1 177.9zM262.9 179.2L260.8 179.5L261.1 177.9zM268.8 179.3L266.7 179.5L267.1 178.0zM274.8 179.3L272.7 179.5L273.1 178.0zM280.8 179.3L278.7 179.5L279.1 178.0zM286.8 179.3L284.7 179.5L285.1 178.0zM292.9 179.5L290.8 179.6L291.3 178.1zM298.9 179.8L296.8 179.7L297.4 178.3zM305.1 180.0L302.9 179.9L303.6 178.4zM311.0 180.0L308.9 179.9L309.6 178.4zM316.8 179.9L314.6 179.8L315.3 178.3zM322.7 179.9L320.5 179.8L321.2 178.3zM328.6 180.0L326.5 179.8L327.2 178.4zM334.9 180.2L332.7 180.0L333.4 178.5zM341.1 180.0L339.0 180.0L339.6 178.5zM347.4 179.7L345.2 179.9L345.7 178.4zM353.2 179.5L351.1 179.8L351.5 178.2zM358.8 179.4L356.7 179.7L357.1 178.1zM364.7 179.3L362.6 179.7L363.0 178.1zM370.8 178.9L368.7 179.5L368.9 177.9zM376.8 178.4L374.8 179.3L374.7 177.7zM382.7 178.3L380.8 179.2L380.7 177.6zM388.6 178.3L386.7 179.2L386.6 177.6zM394.5 178.3L392.6 179.2L392.5 177.6zM400.4 178.1L398.5 179.2L398.3 177.6zM406.2 178.0L404.3 179.1L404.0 177.6zM412.0 177.9L410.2 179.1L409.9 177.6zM417.9 177.9L416.1 179.1L415.8 177.6zM423.8 178.0L422.0 179.2L421.7 177.6zM429.7 178.0L427.9 179.2L427.5 177.6zM435.5 178.0L433.7 179.2L433.4 177.6zM441.3 178.0L439.5 179.2L439.2 177.6zM179.7 183.0L177.7 183.8L177.8 182.2zM185.7 183.0L183.7 183.8L183.7 182.2zM191.6 183.1L189.6 183.8L189.7 182.2zM197.6 183.2L195.5 183.8L195.6 182.2zM203.5 183.2L201.4 183.9L201.6 182.3zM209.4 183.2L207.4 183.9L207.5 182.3zM215.4 183.2L213.3 183.9L213.5 182.3zM221.3 183.2L219.3 183.9L219.4 182.3zM227.3 183.3L225.2 183.9L225.4 182.3zM233.2 183.4L231.1 183.9L231.3 182.3zM239.1 183.5L237.0 183.9L237.3 182.3zM245.1 183.5L243.0 183.9L243.3 182.3zM251.0 183.5L248.9 183.9L249.2 182.3zM257.0 183.5L254.9 183.9L255.2 182.3zM262.9 183.6L260.8 183.9L261.2 182.4zM268.9 183.7L266.7 184.0L267.1 182.4zM274.8 183.8L272.7 184.0L273.1 182.4zM280.8 183.8L278.7 184.0L279.1 182.5zM286.8 183.8L284.7 184.0L285.1 182.5zM293.0 183.9L290.8 184.1L291.3 182.6zM299.3 184.2L297.2 184.3L297.7 182.8zM305.4 184.4L303.3 184.4L303.8 182.9zM311.3 184.4L309.2 184.4L309.8 182.9zM317.0 184.3L314.8 184.3L315.4 182.8zM323.2 184.4L321.0 184.4L321.7 182.9zM329.2 184.5L327.1 184.4L327.7 183.0zM335.4 184.5L333.2 184.5L333.8 183.0zM341.4 184.2L339.3 184.4L339.8 182.8zM347.3 184.0L345.1 184.2L345.5 182.7zM352.9 183.8L350.8 184.1L351.2 182.6zM358.8 183.8L356.6 184.1L357.0 182.6zM364.8 183.7L362.7 184.1L363.0 182.5zM370.8 183.3L368.7 183.9L368.9 182.3zM376.8 182.9L374.8 183.8L374.8 182.2zM382.7 182.8L380.8 183.7L380.7 182.1zM388.6 182.8L386.7 183.7L386.6 182.1zM394.5 182.7L392.6 183.7L392.5 182.1zM400.4 182.6L398.5 183.6L398.3 182.1zM406.2 182.5L404.3 183.6L404.1 182.0zM412.0 182.4L410.2 183.6L409.9 182.0zM417.9 182.5L416.1 183.6L415.8 182.0zM423.8 182.5L422.0 183.6L421.7 182.1zM429.7 182.5L427.8 183.7L427.5 182.1zM435.5 182.5L433.7 183.7L433.4 182.1zM441.3 182.5L439.5 183.7L439.2 182.1zM179.8 187.5L177.8 188.3L177.8 186.7zM185.7 187.5L183.7 188.3L183.7 186.7zM191.7 187.5L189.6 188.3L189.7 186.7zM197.6 187.6L195.5 188.3L195.6 186.7zM203.5 187.7L201.5 188.3L201.6 186.7zM209.5 187.7L207.4 188.3L207.5 186.7zM215.4 187.7L213.3 188.3L213.5 186.7zM221.3 187.7L219.3 188.3L219.4 186.7zM227.3 187.7L225.2 188.3L225.4 186.7zM233.2 187.8L231.1 188.3L231.4 186.8zM239.2 187.9L237.1 188.4L237.3 186.8zM245.1 188.0L243.0 188.4L243.3 186.8zM251.1 188.0L248.9 188.4L249.2 186.8zM257.0 188.0L254.9 188.4L255.2 186.8zM263.0 188.0L260.8 188.4L261.2 186.8zM268.9 188.1L266.8 188.4L267.1 186.8zM274.9 188.2L272.7 188.4L273.2 186.9zM280.9 188.2L278.7 188.4L279.2 186.9zM286.9 188.3L284.7 188.5L285.2 186.9zM292.9 188.3L290.7 188.5L291.2 186.9zM299.0 188.3L296.9 188.5L297.3 187.0zM305.5 188.4L303.4 188.7L303.8 187.1zM311.4 188.5L309.2 188.7L309.7 187.2zM317.3 188.6L315.2 188.7L315.7 187.2zM323.1 188.6L320.9 188.7L321.5 187.2zM329.3 188.6L327.1 188.7L327.6 187.2zM335.4 188.4L333.2 188.7L333.6 187.1zM341.1 188.1L339.0 188.5L339.3 187.0zM346.9 188.1L344.8 188.5L345.1 186.9zM352.8 188.1L350.7 188.5L351.0 186.9zM358.8 188.1L356.7 188.5L357.0 186.9zM364.8 188.0L362.7 188.5L363.0 186.9zM370.8 187.7L368.8 188.3L368.9 186.7zM376.8 187.4L374.8 188.2L374.8 186.6zM382.7 187.3L380.7 188.2L380.7 186.6zM388.6 187.3L386.7 188.2L386.6 186.6zM394.6 187.2L392.6 188.2L392.5 186.6zM400.4 187.1L398.5 188.1L398.3 186.5zM406.2 187.1L404.3 188.1L404.1 186.5zM412.0 187.0L410.2 188.1L409.9 186.5zM417.9 187.0L416.1 188.1L415.8 186.5zM423.8 187.0L421.9 188.1L421.7 186.5zM429.6 187.0L427.8 188.1L427.5 186.5zM435.5 187.1L433.6 188.1L433.4 186.6zM441.3 187.1L439.4 188.2L439.2 186.6zM179.8 191.9L177.8 192.7L177.8 191.1zM185.7 191.9L183.7 192.7L183.7 191.1zM191.7 192.0L189.6 192.7L189.7 191.1zM197.6 192.1L195.6 192.7L195.7 191.1zM203.5 192.1L201.5 192.8L201.6 191.2zM209.5 192.1L207.4 192.7L207.5 191.2zM215.4 192.1L213.4 192.7L213.5 191.1zM221.4 192.1L219.3 192.7L219.4 191.1zM227.3 192.1L225.2 192.8L225.4 191.2zM233.2 192.2L231.2 192.8L231.4 191.2zM239.2 192.3L237.1 192.8L237.3 191.2zM245.1 192.4L243.0 192.8L243.3 191.2zM251.1 192.4L249.0 192.8L249.3 191.2zM257.0 192.4L254.9 192.8L255.2 191.2zM263.0 192.3L260.9 192.8L261.2 191.2zM269.0 192.4L266.9 192.8L267.1 191.2zM274.9 192.5L272.8 192.9L273.2 191.3zM280.9 192.6L278.8 192.9L279.2 191.3zM286.9 192.6L284.7 192.9L285.2 191.4zM292.9 192.6L290.8 192.9L291.1 191.3zM298.9 192.4L296.8 192.9L297.1 191.3zM305.2 192.5L303.1 192.9L303.3 191.3zM311.2 192.6L309.1 193.0L309.4 191.4zM317.0 192.8L314.9 193.0L315.3 191.5zM323.1 192.8L321.0 193.1L321.4 191.5zM329.1 192.7L326.9 193.0L327.3 191.4zM335.0 192.4L332.9 192.9L333.2 191.3zM341.0 192.2L338.9 192.8L339.1 191.2zM346.9 192.2L344.9 192.8L345.0 191.2zM352.9 192.3L350.8 192.9L351.0 191.3zM358.9 192.4L356.8 192.9L357.0 191.3zM364.8 192.3L362.8 192.9L362.9 191.3zM370.8 192.0L368.8 192.8L368.8 191.2zM376.8 191.9L374.8 192.7L374.8 191.1zM382.7 191.8L380.7 192.7L380.7 191.1zM388.6 191.8L386.7 192.6L386.6 191.0zM394.6 191.7L392.6 192.6L392.5 191.0zM400.4 191.6L398.5 192.6L398.3 191.0zM406.2 191.6L404.3 192.6L404.1 191.0zM412.1 191.6L410.1 192.6L410.0 191.0zM417.9 191.6L416.0 192.6L415.9 191.0zM423.8 191.6L421.9 192.6L421.7 191.0zM429.6 191.6L427.7 192.6L427.5 191.0zM435.4 191.6L433.6 192.6L433.4 191.0zM441.3 191.6L439.4 192.6L439.2 191.1zM179.8 196.4L177.8 197.2L177.8 195.6zM185.8 196.4L183.7 197.2L183.8 195.6zM191.7 196.4L189.7 197.2L189.7 195.6zM197.6 196.5L195.6 197.2L195.7 195.6zM203.6 196.5L201.5 197.2L201.6 195.6zM209.5 196.5L207.5 197.2L207.6 195.6zM215.4 196.5L213.4 197.2L213.5 195.6zM221.4 196.5L219.4 197.2L219.4 195.6zM227.3 196.5L225.3 197.2L225.4 195.6zM233.3 196.7L231.2 197.2L231.4 195.6zM239.2 196.8L237.1 197.3L237.4 195.7zM245.2 196.8L243.1 197.3L243.3 195.7zM251.1 196.8L249.0 197.3L249.3 195.7zM257.1 196.8L255.0 197.3L255.2 195.7zM263.0 196.7L261.0 197.3L261.2 195.7zM269.0 196.8L266.9 197.3L267.2 195.7zM275.0 196.9L272.9 197.3L273.2 195.7zM280.9 197.0L278.8 197.3L279.2 195.8zM286.9 197.0L284.8 197.3L285.1 195.8zM292.9 196.9L290.8 197.3L291.1 195.7zM299.0 196.8L296.9 197.3L297.1 195.7zM305.2 196.8L303.1 197.3L303.3 195.7zM311.2 196.9L309.1 197.4L309.3 195.8zM317.1 197.1L315.0 197.4L315.3 195.9zM323.1 197.1L320.9 197.4L321.3 195.9zM329.1 196.9L327.0 197.4L327.2 195.8zM335.1 196.7L333.0 197.3L333.1 195.7zM341.0 196.5L339.0 197.2L339.1 195.6zM347.0 196.5L344.9 197.2L345.0 195.6zM352.9 196.7L350.9 197.3L351.0 195.7zM358.9 196.7L356.8 197.3L357.0 195.7zM364.8 196.6L362.8 197.3L362.9 195.7zM370.8 196.4L368.8 197.2L368.8 195.6zM376.8 196.3L374.8 197.1L374.8 195.5zM382.7 196.2L380.7 197.1L380.7 195.5zM388.6 196.2L386.7 197.1L386.6 195.5zM394.5 196.2L392.6 197.1L392.5 195.5zM400.4 196.1L398.5 197.1L398.3 195.5zM406.2 196.1L404.3 197.0L404.1 195.5zM412.1 196.1L410.1 197.1L410.0 195.5zM417.9 196.1L416.0 197.1L415.9 195.5zM423.8 196.1L421.9 197.1L421.7 195.5zM429.6 196.1L427.7 197.1L427.5 195.5zM435.4 196.1L433.5 197.1L433.4 195.5zM441.2 196.1L439.3 197.1L439.2 195.5zM179.8 200.8L177.8 201.6L177.8 200.0zM185.8 200.8L183.8 201.6L183.8 200.0zM191.7 200.9L189.7 201.6L189.7 200.0zM197.6 200.9L195.6 201.6L195.7 200.0zM203.6 201.0L201.5 201.6L201.6 200.1zM209.5 201.0L207.5 201.6L207.6 200.0zM215.5 200.9L213.4 201.6L213.5 200.0zM221.4 200.9L219.4 201.6L219.5 200.0zM227.4 201.0L225.3 201.6L225.4 200.1zM233.3 201.1L231.2 201.7L231.4 200.1zM239.2 201.2L237.1 201.7L237.4 200.1zM245.2 201.3L243.1 201.7L243.3 200.1zM251.1 201.2L249.0 201.7L249.3 200.1zM257.1 201.2L255.0 201.7L255.2 200.1zM263.1 201.2L261.0 201.7L261.2 200.1zM269.0 201.2L266.9 201.7L267.2 200.1zM275.0 201.3L272.9 201.7L273.2 200.2zM281.0 201.4L278.8 201.8L279.2 200.2zM286.9 201.4L284.8 201.8L285.1 200.2zM292.9 201.3L290.8 201.7L291.1 200.2zM299.0 201.2L296.9 201.7L297.1 200.2zM305.2 201.3L303.1 201.8L303.3 200.2zM311.2 201.3L309.1 201.8L309.4 200.2zM317.2 201.5L315.0 201.8L315.3 200.3zM323.1 201.5L321.0 201.9L321.3 200.3zM329.1 201.3L327.0 201.8L327.2 200.2zM335.1 201.1L333.0 201.7L333.2 200.1zM341.0 201.0L339.0 201.7L339.1 200.1zM347.0 201.0L345.0 201.7L345.0 200.1zM352.9 201.1L350.9 201.7L351.0 200.1zM358.9 201.1L356.8 201.7L357.0 200.1zM364.9 201.0L362.8 201.7L362.9 200.1zM370.8 200.8L368.8 201.6L368.8 200.0zM376.8 200.7L374.8 201.6L374.7 200.0zM382.7 200.7L380.7 201.6L380.7 200.0zM388.6 200.7L386.7 201.6L386.6 200.0zM394.5 200.7L392.6 201.5L392.5 199.9zM400.4 200.6L398.4 201.5L398.3 199.9zM406.2 200.5L404.3 201.5L404.1 199.9zM412.0 200.5L410.1 201.5L410.0 199.9zM417.9 200.5L416.0 201.5L415.9 199.9zM423.8 200.5L421.9 201.5L421.7 199.9zM429.6 200.5L427.7 201.5L427.5 199.9zM435.4 200.6L433.5 201.5L433.3 200.0zM441.2 200.6L439.3 201.6L439.2 200.0zM179.8 205.3L177.8 206.1L177.8 204.5zM185.8 205.3L183.8 206.1L183.8 204.5zM191.7 205.3L189.7 206.1L189.7 204.5zM197.7 205.4L195.6 206.1L195.7 204.5zM203.6 205.4L201.6 206.1L201.7 204.5zM209.5 205.4L207.5 206.1L207.6 204.5zM215.5 205.4L213.4 206.1L213.5 204.5zM221.4 205.4L219.4 206.1L219.5 204.5zM227.4 205.4L225.3 206.1L225.4 204.5zM233.3 205.5L231.2 206.1L231.4 204.5zM239.3 205.7L237.2 206.2L237.4 204.6zM245.2 205.7L243.1 206.2L243.4 204.6zM251.2 205.7L249.1 206.2L249.3 204.6zM257.1 205.7L255.0 206.2L255.3 204.6zM263.1 205.7L261.0 206.2L261.2 204.6zM269.1 205.7L267.0 206.2L267.2 204.6zM275.0 205.8L272.9 206.2L273.2 204.6zM281.0 205.8L278.8 206.2L279.2 204.6zM286.9 205.8L284.8 206.2L285.1 204.6zM292.9 205.8L290.8 206.2L291.1 204.6zM299.0 205.7L296.9 206.2L297.2 204.6zM305.2 205.7L303.1 206.2L303.4 204.6zM311.2 205.8L309.1 206.3L309.4 204.7zM317.2 205.9L315.1 206.3L315.4 204.7zM323.1 205.9L321.0 206.3L321.3 204.7zM329.1 205.7L327.0 206.2L327.3 204.7zM335.1 205.5L333.0 206.2L333.2 204.6zM341.1 205.4L339.0 206.1L339.1 204.5zM347.0 205.5L345.0 206.1L345.1 204.5zM353.0 205.5L350.9 206.2L351.0 204.6zM358.9 205.5L356.8 206.2L357.0 204.6zM364.9 205.4L362.8 206.1L362.9 204.5zM370.8 205.3L368.8 206.1L368.8 204.5zM376.8 205.2L374.8 206.0L374.7 204.4zM382.7 205.1L380.7 206.0L380.7 204.4zM388.6 205.1L386.7 206.0L386.6 204.4zM394.5 205.1L392.6 206.0L392.5 204.4zM400.4 205.0L398.4 206.0L398.3 204.4zM406.2 205.0L404.3 206.0L404.1 204.4zM412.0 205.0L410.1 206.0L410.0 204.4zM417.9 205.0L416.0 206.0L415.9 204.4zM423.8 205.0L421.8 206.0L421.7 204.4zM429.6 205.0L427.7 206.0L427.5 204.4zM435.4 205.0L433.5 206.0L433.3 204.4zM441.2 205.0L439.3 206.0L439.1 204.4z" fill="#0a0a00" fill-opacity="0.85"/></g>
<path d="M173.4 115.7 L175.4 116.2 L177.4 116.7 L179.4 117.1 L181.3 117.5 L183.3 117.9 L185.2 118.2 L187.2 118.4 L189.1 118.6 L191.0 118.7 L193.0 118.8 L194.9 118.9 L196.8 118.8 L198.8 118.7 L200.7 118.6 L202.6 118.4 L204.6 118.1 L206.5 117.8 L208.4 117.4 L210.4 117.0 L212.4 116.5 L214.3 116.1 L216.3 115.6 L218.2 115.1 L220.2 114.6 L222.2 114.1 L224.1 113.6 L226.1 113.2 L228.1 112.8 L230.0 112.5 L232.0 112.3 L234.0 112.1 L236.0 112.1 L237.9 112.1 L239.9 112.2 L241.9 112.5 L243.8 112.8 L245.7 113.3 L247.5 113.8 L249.3 114.5 L251.0 115.3 L252.7 116.2 L254.3 117.2 L255.7 118.3 L257.1 119.6 L258.4 120.9 L259.5 122.4 L260.6 124.0 L261.4 125.7 L262.2 127.5 L262.9 129.4 L263.4 131.4 L263.8 133.4 L264.2 135.4 L264.4 137.5 L264.6 139.6 L264.7 141.7 L264.7 143.7 L264.6 145.7 L264.5 147.7" fill="none" stroke="#45305a" stroke-width="1.15" stroke-linecap="round"/>
<rect x="173.5" y="24.5" width="268" height="184.3" fill="none" stroke="#8088b0" stroke-width="0.5"/>
<path d="M231.0 209v-3.5M288.6 209v-3.5M346.2 209v-3.5M403.7 209v-3.5M173.5 70.6h3.5M173.5 116.6h3.5M173.5 162.6h3.5" stroke="#111" stroke-width="0.9"/>
<text x="179.6" y="38" font-size="13.6" style="fill:#000;stroke:#000;stroke-width:0.25">Velocity field</text>
<g font-size="10.2" text-anchor="end">
<text x="170" y="28">0.8</text>
<text x="170" y="74.3">0.4</text>
<text x="170" y="120.3">0</text>
<text x="170" y="166.4">-0.4</text>
<text x="170" y="212.2">-0.8</text>
</g>
<g font-size="10.2" text-anchor="middle">
<text x="174.2" y="220">0</text>
<text x="231.3" y="220">0.5</text>
<text x="288.8" y="220">1</text>
<text x="346.3" y="220">1.5</text>
<text x="403.5" y="220">2</text>
</g>
<text x="310.5" y="232.4" font-size="13.6" font-style="italic">x/l</text>
<text transform="translate(152.6,123.6) rotate(-90)" font-size="13.9" font-style="italic">y/l</text>
</svg>
</body></html>
